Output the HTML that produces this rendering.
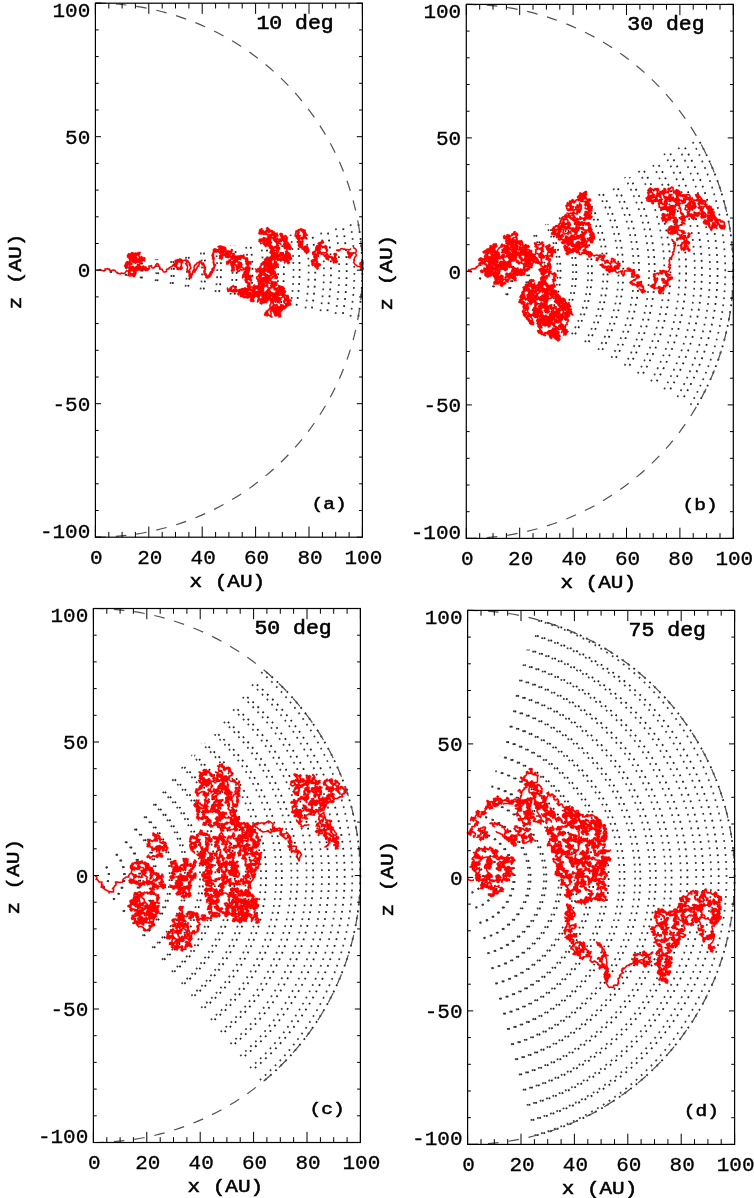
<!DOCTYPE html>
<html><head><meta charset="utf-8"><title>Random walks</title>
<style>html,body{margin:0;padding:0;background:#fff;overflow:hidden;}svg{display:block;}</style></head>
<body><svg width="754" height="1198" viewBox="0 0 754 1198">
<rect width="754" height="1198" fill="#fff"/>
<path d="M110.9 272.9A15.7 15.7 0 0 0 110.9 267.5M126.3 275.7A31.4 31.4 0 0 0 126.3 264.7M141.8 278.4A47.1 47.1 0 0 0 141.8 262M157.3 281.1A62.8 62.8 0 0 0 157.3 259.3M172.7 283.8A78.5 78.5 0 0 0 172.7 256.6M188.2 286.6A94.2 94.2 0 0 0 188.2 253.8M203.7 289.3A109.9 109.9 0 0 0 203.7 251.1M219.1 292A125.6 125.6 0 0 0 219.1 248.4M234.6 294.7A141.4 141.4 0 0 0 234.6 245.7M250.1 297.5A157.1 157.1 0 0 0 250.1 242.9M265.5 300.2A172.8 172.8 0 0 0 265.5 240.2M281 302.9A188.5 188.5 0 0 0 281 237.5M296.5 305.7A204.2 204.2 0 0 0 296.5 234.7M311.9 308.4A219.9 219.9 0 0 0 311.9 232M327.4 311.1A235.6 235.6 0 0 0 327.4 229.3M342.9 313.8A251.3 251.3 0 0 0 342.9 226.6M358.3 316.6A267 267 0 0 0 358.3 223.8" fill="none" stroke="#222" stroke-width="1.8" stroke-dasharray="1.8 5.2"/>
<path transform="matrix(0.97 0 0 1 2.9 0)" d="M110.9 272.9A15.7 15.7 0 0 0 110.9 267.5M126.3 275.7A31.4 31.4 0 0 0 126.3 264.7M141.8 278.4A47.1 47.1 0 0 0 141.8 262M157.3 281.1A62.8 62.8 0 0 0 157.3 259.3M172.7 283.8A78.5 78.5 0 0 0 172.7 256.6M188.2 286.6A94.2 94.2 0 0 0 188.2 253.8M203.7 289.3A109.9 109.9 0 0 0 203.7 251.1M219.1 292A125.6 125.6 0 0 0 219.1 248.4M234.6 294.7A141.4 141.4 0 0 0 234.6 245.7M250.1 297.5A157.1 157.1 0 0 0 250.1 242.9M265.5 300.2A172.8 172.8 0 0 0 265.5 240.2M281 302.9A188.5 188.5 0 0 0 281 237.5M296.5 305.7A204.2 204.2 0 0 0 296.5 234.7M311.9 308.4A219.9 219.9 0 0 0 311.9 232M327.4 311.1A235.6 235.6 0 0 0 327.4 229.3M342.9 313.8A251.3 251.3 0 0 0 342.9 226.6M358.3 316.6A267 267 0 0 0 358.3 223.8" fill="none" stroke="#3c3c3c" stroke-width="1.8" stroke-dasharray="1.8 5.2" stroke-dashoffset="0"/>
<path transform="scale(0.5)" d="M193 540l4 0 4-1 1 1 1 1 1 0 2 0 2 1 3-2-1-2 4 0 1-1 2 2 2-1 1 2 0 2 3-1 4-1 3 1 1 1 1 2 2 1 1 2 0-2 2 2 4 1 1-2 5 1 3-1 1-2 1-1 2-3M259 546l0-1-1 1 1 0 1 2 3 1-1-1-1 0-2-1 2 0-3-1 0 2-1 2-1 1 1 0 3 1 3-1-1-1 2-3 1 2 3 0 0-3 0-1 1-2 1 2-1 0-2-2 1 2-1 3 0 3-2 0-1-2 2 3 1 1-1-1 3 1 1-2 1-2-1 1-3 2-1 0 2-2 0-2 1-2-1-1-1-3 2-2-3 2 3 2 0 1 0-2 0 3 2 1-2-1 0-2 0 3 1 0 2-1 0-1-1-2 0 2-2 1 0-2 2 3 0-2-2 1 1 0 2-1-1 0 1-1-2 2 0-1 2 0-2-2 0 3 1-2-2 0 2 2-1-3 1-3-1 1 2-2 2-1-1-1 1 1-1-2-1-2-3 1 1 2 2 3-2 0 1 2-1 1 2 0-2-1 2-2 2-2-2 0-2 1 3 0 0 2-3 0-2 0 0-1 2-1-3-1-3 1 2-1-1-1 1 0-2 1-2-2 0 1-1-1-1 2 0 1-2-2 2-3-1 3-1 1 3-2 2-1 2 0 1 0-2 1-2 0 0-1 1-1 1 2 1-1 1 2-1 0 1 1 0-2 1-1-2 1 2 0-2-1 2 0-1-1 0 2 1-1-3 1 2-1 0 1 0-3 2 2-2 1-1-3-1 2 2 1-1-2 3 1-2-1-1 3 1-3 1 2-3 0 1-1-2-2 2 2-3-1 1 2-1 2-1-1-1 2-2 2-2 1 0 1 2 0 1-2 2 0 2-1-2-2 0-2-1-1 3 0-3 1 0 3 3-1 2 0 1 1-1 1 1 1 2-1-1-2 1-3-1 2 1 1 1 1 0 3-1 2 1-1 1-1 2-2 0-3 2 2 1 2 0-3 1 2 1 0 2-3-2-1 0-2 2 1-1 2-2-2 0-1-3 1 1-3-1 2 2 2-2-3 1 3 2-2-3 1 1 0 1-3-1 1 2 2-2-1 1-1 2 1-2 2 1-1-3 1 3 0 0-4 0 2-3 2 3-1-1-3 0 1 1 1-1 2 1 0 0 2 0-3 2-3-2-2-1-1 3 2 1 2-1 0-2 0 1 0 0 2 0-1-2 1 1-1 1 1 1 1 1 1 1 2-1-2 1 1 0 2-3 0 0-2 2 0-2 1 0-1 1 2-2-1 1-1 2 2-3-2 3-1 1-2 2 1 0 2 1 1 2-2 1-2-1 2-1-3 3-2 0 2 2 2 2 0-2-1-2 2-1-1 2 0 2-2-2 2 1-1-1 3 3-2-3 1 0-2 2 0 0 1-3 0 3 1-3 0 1-1 2 0-1 0 1-2-2 1 2 0-3-1 2 1-1 3 1-3 0 2 0-1-1-2 1 2 2-1-1 0-2 2 1 2 1-2 2 2 0-3-1 2-2 1 1 1 1 1-1-2-3-1 2 0 2 1 1 1 2 1 0-2 0-2-1 2 2 1-2-2 3 1-2-2 3 1-1 2-3-2-2-2 0 3-2-2-1-2-2 2 2 0-1 0-2-2 2 1 2 0 2 0-3-1 4-1 0 3 0 2-2 1-2-1-1-2-1 1 1 2-1-2-1 1-1-2-2-2 0-1-3 0 2-1-2-2-1 0 0-1 2-3 0-2-1-3 2 0 3-1 1-2 2 0 0-2 2 0-1 1-1-1 1 3-1-1 1-4 2 2-3 0 2 0-1 2-1-3 1 3 1-3 0 1-3 2 2-1 1 1 0 3 0-2 0-3-1 3 0 1 1 1-1-1-1 0 0-2 0 2-2-2 0-2-1-2-1 1 1-2-1-1-1 1-2 2-2 1 2 2-2 0 0 3 2-2 2-1-2 2 3 0-3 1 2-1-3 0 0-2-2 2-1 1 2-2-2 1 1-1 2-3 0-2-1-3-1-1-1-2-3-1-2 1 0-1 1-1 2 0 0 2 1 1 1-1 1-1 1-2 2 0-1 0-2-1 3 0 0 1-3-1 2 0 0 1 0 3-2-2 2 1 0-1-2 1 2-1-2-1 0 1 2-1-1 2 1-3-2 1 2 1-1 3 0-2-1-1 2 2-1-1 2-3-2 1-3 0 0 2-2-1 0 2-1 2 0-1-1 2 1-2 0-1 0-3-2 1 3 0-1 0-3 0 1 0 2 1-3 2 2 0 1 0-1 2 2 0-2-2-2-1-1-1-2-1 0 2 0 3-1 1 1-3 1-2-2 1-2-1 1 0 1-1 1 3-1 2 2-2-3 0 3-1 0 1-1 1 0-3 0 2-2 1 1-2 0-3 1 0 2 1 0 2-2 1 0-3-3 1 1 1 0 3 0-3 2-2 2 2-2-2-2 2 1 0 1 0-1 1 0-1 2 0-3-1 2 0-3 1 1-1 3 2-1-1-2 0 2 2-1-1 1-2-1 3 1-2-1 2 0-1-1 0-1 3 2 0-2-1 2 2 2 2 0-2-2 0 0-2-1-2-1-1 1-1 0-3-2 2-1 2-3 2 0-4-2 2 3 0-2 2 0 3 1-2 0 2 2 0 2-1 0-3-1 1-2 0 3 1 2-1 0-3-1 1 0 2-2 0 1 2 2 2 0 2-1 1-2 1 3 1-1-1 1 0 2-1 0 1-2 2 2 1-3-1 1 1 1-1 0-3 1 1 1 1-1 2 2-1-1-1-1-2 1 1-1 3-1-1 1-1-1 1 0-3 1 2-1 1 2-1-2-1 2 2-2-1 3-2-2 3-2-2 3 0-2 1 2 0-2 0 2-2-2 2 2 1 0 1-2 1 2-1-2 2 1-2 2-2 0 3 3 1-2 0-2 1 2-3 0-1-1 0 0-1-1 1 2-2 0 3 2 2 0 2-1-1 1 2 1-4-1 2 2 0 1 0 0-1-1-2 1 2-2 0 2 1 1-1 2 0-1 1 1-1 2-2 1 0 2 2 1-2 1 0-1 2 2-3 1-2-1-2-2 2-1 1-1-1-1 3-1 0-2 0 0-2 0-2 2 3-3-1-1 1-1-1-3-1 3-1 0 3-2-2 1 3 0-1 1-2-1 0 1 2 0-2-2 2 2 0-2-1 2 0-2-2 1 0 1 2-1-2 2 2-1 0-1-3 1 1-1-2 0-1-3 0-1 1 3 1-2 1-2-3 1-1-2-1 2-2-2-3-2 0 1 3-1 2 2 0-2-1-2 0-1-2-2-1 1 2 2 2-1 1-1 1 3-2 1-2 2 0-2 0-2 2-2-2-3 1-2-1-1 0 0 2 1-1 0 3 1 1 2 0 1-2 1 1 2 0-3 2 1 3-2-1 2 2-1-2 1 1 1 2-1-1-2 1-1 2-2 0-2-1-1 3-2 0 2 1-1 2 0 1-1 2 0-3 0 2-1 0 1-1 1 2-2-2 1 2-1-1 3 0-2 2-1-1 2-1-3 1 1-2 1 3 0-3-1 2 1-2-1 1 2-1-1-1 2 1 1-2-1 3 1 1 0 1 0-1-2 1 3 1 1 1 0-1-2 0-2-1-1 1 2 0 2-3 1-2-2-1 0-4-1 2 1-1 2 2 3 1 1-1 0-1 0 3 2-1-2 2-4-1 0-1 2-2 2-1 3 2-2 1 1 1 0-1 2 0-1-1-2 1 2 0-2 1-1 1-1 3 1 1 2 1-2-1 2 1 2 2-3 1 2 0 2 1-2-1-1 2 0 2-3 0 0 2-2 2 2-2-2 2 3-1-2 0 0 2 2 0-1-2-1 2 2 0-3 0 2-3 1 2-1 1 1-2 0 2-3 0 2-1 0 1 0-2 0 1-2 1M295 540l2-1 2-2-1-2 0-3 3 0 2-1 0 3 2 2 2 0 4-3 0-2 3-4 3 2 1 3 2 3-1 3 2 0 3 1 0-1 1 2 2 4 3 0 3-1 0-4 2-1 3 0 0-2 2-1 1-1 3-1 2-3M349 530l2 2 2 0-2-3 1-2 0 3-3-2 2-1 1 0-1-2 2 1 1 3-2 0 3-1-2-2-3 1 3 0 0-2 2 0-1-2-2-2 1 1 1-2 0 1 0 2-3 0-1-1 2 2-2-2 2-2-1 1 3 0-2 0 1 0-2 1 1-1 1 1-1 2 0-2-1 3 0 2 2 2-1-3 0 2-1-3 0-2 2 1-2 0 1-2 2 1 1-1-1 2 3 0 2 0-1-2 2 0-3-1 2 0 1-1 0-1 1 3 2 1-2-2 1 2 2 1 1-1 0-2-2-1-1 3 3-1-1-1-1 2-1-2 1 1-2-1 2 1 0-3-1 1-1-2-2 0 2 2-3-1 2 0-1 2-1-2-1 1-2-1 2 1-2 2 2 1 2-1 1 1 0-2 1 1 2-1-1-1 2 0-1 2 2 1-2 0-1-1-1 2 1 0 3 1-2 1 0 1-1 1 1 2-1 2 2 2-1 1-1-3 1 2-2-1 1 2 0 2-1 2 3-2 0-3-3 2 1-1-1 1-3 2-1-1-3 1 2 1 1-1 2-2-2 3 2-3-2 0-2-2-1 1-1 0 0-2-3 0 1-3-2 1-2 0 1 0 0-3-1 1 0 2 0-1 2-1 0 3-2-2 2 1 1-1-1 1 1-2-1 2 2-1M360 522l3-1 4 0 4-1 1 0 1 0-1 2 2 4-3 1 2 1 0 2 1 1 1 2 0 3-1 3 2 3 0 1 2 3 1 3-1 2 1 3 2 2 2-1-1-2 3-5 0-1 0-2 1-3 1-2 2-1 1 0 2 1 1-1 1-2 0-2 2-3 2 0 0-3 1-2 1-3 0-2 3 3 0 2 2 3 3-1 1 2-1 1 1 3 2 4-2 1-1 1 0 4 1 2-1 2 3 0 1 2 0 3 0 1 3 1 3-2 2-1 0-3 2 0 1-3 2-3-1-1 0-3 0-2 2-2 2 0 1-3 2-3-2-1-2-1 1-1-1-5 1-4 0-2-1-3-1 1 1-4 0-2-1-2 1 0 0-3 0-2 2-3 1-1M430 497l-1 1-2 1 0 4 0 3-2 2 0 1-1 2 2 3-1 3 2 2 0 4-1 1 2 4 0 4 1 1-1 1 1 1-2 2 1 3-2-1 0 3-2 1-1 0-2 1-1 3-1 1-2 4-1 2-1 2-1-2 0-2 0-1-3-4-2-1 1-3 0-3 0-3-2-1 0-2 1-2 0-1-1-1-1-4-2 1-3-3-2-2-2 2-1 1-3 1-2 3-3 2 0 1-1 2 0 2 1 1 1 2 0 2 0 3-3 0-1 1-1 0-2 4 0 3-1 2-1 2-1-2 0-3-1-2 2-1-1 0 0-2-1-1 0-3-1-1 2-3 2-2-2-4 0-3 0-1-1-2-2-1-1-3-3-2M433 500l-2-1 0 2-2 2 0 1 3 0-1-3 2 0-3 1 3 2-1-2 3-1 1-1 2 0 1-2-2 1-3 1-3 1 2 1 1 1-1-1 0-3 1 0 1 2 2 1-1 1 1 1 3-1 0 3 2 0 2-1 0-2-3-2 1 3-3 1 1-1 1-1-1 2 1-3 2 2-1-1 0 2 1-3-2 1 2 3 0-2 0-1-1-2-1-1 1-3 1-1 0 2-1-3-2 2-2-2 0-2 0 2 1-3 0 2-3-1 2 1 3-1-2 1 3-2 0 3 1 1 1 1 1 1-1 3 1-1 0 3-2 0-1 2-2 2 1 1 1 2-3 2 3 0 0 1 3 1 0 1-2 1 0-2 0 3 1-2 0-2-2 1 2-1-1 2 0-3 0 3 1 2-1 2 1-2-2-1-3 1 0-1 1-2 2 0 2 0-1-2 3-1-2 0-2 2 1 1 0-2 1-1 0 1-1-1 0 1 2-3 1 2 3-2-1 1 2-2-1 3 2-2-2 0 3 0 2 3-1 1 0-1 0 2 2-2 1 1-1 2 2-3 1 3-2 0 0-2 1 1-3 1 2 0-1-3 2 2-2 1-1 0 0-1-3 0 1-2 3 2 1-1 2-1-2-2 1 2 1 0-2-1 1-1-2 1-1 2 1 2 1-3 0-1 2 0-2 0 2 1-1 3-1-1 0-2 0-2 1-2 0-1-1 0 1-1-2 2 2-2-1-2-1 1-1 2-2-2 2 3-1-2 1 0-1-1 2 2-3 0 1-2 0 2 0-2 1 1-3 1-1 1-3 2 1-1 0-2-2-1 2-2 1-2-2-2 1-1-3 1 1-3-1-1 1-2-2-1-1 2 1 1 3-2 1 2 0-2 3 2 1 3-3-1-2-1 1 3-1 2 0 2 2-2 2 2 2 2 0-1 1-3 3 0 2 1 2-1 2 0 2-2-2-1 0 2 0-2 1 1-1 1 0-2 1 3-1-1 1-1 1 0-1 0-1 2-1 2-1 2 0 2 0 1-3 0-1 1-1 3 1 2-1-2 2 0 2 0-2-1-1 3 2-1 2-2 1 1 1 0 1-1 1 2 1 1-2 2 0-3-2 2 0 2 1-2 2 1 2-1-2-1 1-2 2 3 1-3-1 0 1 2-1-1-2 0 2 2 0-2-1 3 0-2 1-1-2 1 3-1 1-2 3 2-3 1 2 1 1 2 3 0 0 1 1 0 1-2-1 1 1 1 1-2-1-1-3 1-2-1-3 1 2 1 1 1 2 2-3 1-1 2-2 1 0 1 0 2-3 0 3-2-1 2-3-2-1 0 2 0 1-1-2 1 3 0-2 1-1-3 0 2 1 0 2 2-3-1 1 0 0-2 2 3-1-3-1 3 1-2 2-2 3-1-3 0 0 2 1 1 1-1 1-2-1-1-3-2 2-2 1 3 0 2 0 2-1-1-2-2-2 0 0 3-3 1-1-2-1-3-1-1-2 0 2 2 0 2-1 0-2 1-1 3 0-1-1-1 3 0-2 0-2 2 1-1 1-3 1 3-2-1 1 2-3 0 1-1 2 0-2-2 0 1 3 1-2 0-1-2-1-1 1-1 3-1 1-1 2-1-2 1 2 2 1 2 1 1 2-2-2 2 1 3 1-1 0 2 2 2-1-2-3-1 0 1 1 1 1 3 0 2 0-3 1 2 0 1-1 3 0 2-1 1 2-2 2-2-2 2 2 1-2 1-1-2 2 0-2-1-1 3 2 0-1-1 3 0-3-1 1 1 3 0-2 1-2-2 2 1 2-1 0-2-2 2 2-2 0-2 1-1-2-2-3 0 0-3 0-2-1 1-1-1 2-2-1-1 2 0 3-2-2 0 1 3-1-1 1 2-2-2-1 1 0-1 1 1-2 0 2 2 0 2-1 2 3 0 1-1 2-2 0 1 3 0-1 2 2 0 0 2-1 2 2 0 0 2 2-2 0 1-2-1 1 2-2 0 2-1-1-3 3 1-2 1-1-1 2 0 0-1 2 0 1 2-2-3 2 1-1-2 2 1 1-1 2 3-1-1-1-2 1-2-2 2-1-1 0-1-2-1-2 0 1-2 0-3 2 0-1 3 3 0-1 3-1-2 2 0 0-2-2 2 1 1-2-2 1 0 2 2 0-3-2 1 1 1 1-1-1 1 1-1-3 1 1 0 1-1-1-2-2 0-1 0-2-2 3 1 1 3 2 0 2-2 0 3-1 1 1-1 1-1-1 3 2-1-3-2 0 2 2 2-1-2 0-1-2 1-2-1-1 3 1 2 0 3-1-2-1 2 0 2-3 1 2 2 0 3 1-1 3-1 0-1 2-2 2 1 3 0 2-1 0-1-2-2 1 2 1-1-2-1 1 0 1 2-1-1 2 1 2 0 1-2 1-2 1 0 0 2 0 3 1-2 2-2 1 2 2 0-2-1-1-2 2 0 1 3-2-2-1 0-3 0-1-1-2 1 1 0-1 0 1 2 2 1 1-1 1 2-2 0-2 0-1 2 0 1 2 2 3-1 1-2-1-1-1 1-2 2 0-1 3-1-2-2 2 1-1 3 0-2 1 0-3 1 1-1 2 1-1 3-2 0 2-2-1 2 2 1-1 0-1-1 1 3-2 1-2 0-1-1 3 0-1-1-2-2 1-2-2 0 0 2 2-1 0 2 0-3 2 2 1 2-3 0 1 1-2 2-2 0 2 1-1 0 1-2-2 1-1-1 1-2-1 1 3 1-1-1-1 2-1-2 2 1-2-1 3 1-2 0 1-2 0 2-3 0 0 2-1 3 0 2 1-2 3-1-2 0 3 0-1 1-1 0-1-2 0 2 0-3 3 0 1 1 1 0-3-1 0-2 0-3-1-1 1-2 0 2 1 0 2 0 1 2 3 0 1 2-1 3 1 2 1-3 1 3 2-1 0-2 0 2-2 2 3 0-3 0 1-2 1 2-1-1 3-2-3 0 0 1 2 1-2-3 1 3 1-1-2 0 1 2-2 0-2 0 1-1 1 2-2-1-2 1-1 2 1-1 1 0-3 0 2 2-1-2 1-1 1 3 1 0 0-1 3-1 0-2-2-1 3-2 2 0 1 1-3-1 2 1-2 2-1 1 0 4 2-2 0 3 1-1-3-1 1 3-1-1 3 0-1-2-1 0 0 2 1-1-1-1 1 3 0-1 0-2-2-1-2-2-3-1 3-2-3-1-1 2-3 0 1 2-1 2-1 2 3 1 2 2 0 3 1-2-3 0-1-2 0 3 0-2-1 0 0-3 0-3 3 1-2-3 0-3 1-2-1-2 0 3 1-1 3-1 1-2 0-2 1-2 1-3-1 0 1-2-3 0-1-3 1-3 0-2-1-2-3 0 1-3 1 2-2-1 2 0 2 0 2 1 1-3-1 2 2 0 0 2 1-2 1 2-1-2-2 1-1-2-1-1-2 1 2 0-1 2-3-1 1-3-1-1 1 3 2 1 3 0 2 1 1 1-2-1 0-1 1-2-3 2-1-2-1 3 1-1-1-2 2 1 3 1 0-2-2 1-3-1 2-1 0 2 2-1-1 1-2-2 1 0 0 3 0-1 2-1 2 0-3 0-2 0 1 0-3 1 1 2 1 1-1-1-3 1 1 2 3-1-2 1 2 1 0-1-2 1-1-2 0-3-1 0 0-2-2-1 1-2-1-3 1-2 3 0-1 2-1 1 1-1 0-2-1 2 0 2 2 1 0-1-3-1 2-3 0 3 1 0-1-2 0 3 1-2-2-1 1 1 1 1-1-2 1 2-2-2 1 0-1 0-1-1-2 0 1 2-3-1-2-2-1 0 2 0 0-1-2 0 0-1 1 1 1-2 2 3 1 1-2 0-1-2 0-1 0-3 0 1 1-1-2 1-3 1-2-1-1 2 3-1-3 1 1 2 1 1 2-1-2 1 0-1 1-2 1 1-1 2-1 0 2-1-3 1 3 0-1-2 0 2 1-3-2 1 1 2-3 1 1 2-1-3-1-1-2 0-2-1 2 2-2 2-1 1 1 0-1-1 3-1 0-3-1 1 1-1 3-2-3 0-1 0-2 1-3-1-2 0-2-2 2-2-2-1 0 3-1 2 0-2 0-1 0 2-1 1 1-2-1-2-1-1-3-1-1-1-2-1-1-1-2 1-1-1-1-1-2 0-2 1-1-1-3-1-3-2M461 580l1 1-4 0-1 2-1 0 0-1 1-3-1 2 0-3-1-2 0 2 2 2-2 0 2 1 1 1 0-2 3 1 3 0-3 1 2-1 0-3-3 0 3-2 0-2 0 3-3-1 0 1 2-2-1 2 2-1-1 1 1 1 0 3 3 0 1 1 0-3 1 2-1 3 0-1 1-3 1-1 1 2 0 1 2 1-3-2 2-1 1 1-2 0 1 0 2 1-3-1 3 0-1 1-3 0 2-1 2 2-2-3-2 1 1-1 2 0 0-1 0 1-1-1-2 1 0 1 1 0-2-1 3-1-2 0 1-1 2-3-3 0-2-3 0-1-1 1 1 1-2-1 2 1 1 0 2 2 1 3 1 0-1-2 1 2 2 2 2 1 1 0 1-2 3 0-1 1 2-1 0 3-1 1 0 2 0 2 1 3 2-1 2 1 1-1-1-1 2-1-3-1 2-1-1 1 3-2-1 3-1-1 0 1-1-1 3 2-2-3 0 2-2-3 0-1 0 1-3 0-2 2 0-2-2 1-1-2 0 1 0 2 0 1 0 3 1-2 1-1 0 1-2 0-2 0 3 0 2 0 0-2 0-3 1-3 1 3 2 2 1 1-2 0 1-1-1 3 2-3-1-1 1 1 3 1 2-2 1-1 1-1-1 1 0-1 1-2 1-2-2-2 1 2-1 2 1-2-1 2 2 0 0-2-3 1 1-2 2 2 0-2-3 2 2-1-1 1 1 0-1-2 1 1-1 1 3-1-1 2 1 1-2 1 1-1-1 0-2 2 2 2-2-2-2 0 0 2 0-2 2-3-2-1-2 1 0-3-1 1-1 3 1 1 2 0-2 0-1-3 0-2 0 1-1 1 1 2-1-2 2 2 0 2 1 1 1-2-2-3 2-1 2-1 2-1 1 1 2 0 2 1 2-1-2-3 2-1-2-1 2-1-1 2-2-2 3-1 1 2-2 1 1-3-1 3 1-2-2 3 2-2-2-1 2 1-2-1 0-1 2 1 0 3-3-1 2-2 1 0-1 0 0-3 2-1-2 2 2-1-3 1 2 0 2-3-2 0 2 2-1 1 1 3-1 2 3 0 3 0 1 1 0 2 2 1 1 0-1 2 2 0-2-1-1-3 2 2 1 1-2-3-1 2-1 1 2 1 1-2-2-1 0 3 2-1-2 0 1 0 2-1-3-1 1 1 1 0-3 1 2-2 1 1-1 1 2-2 0 3-1-1-1 0 2-2-2 1 2 0-2-2 1-2 1-1-1-3-2 2 1 0 2 1 3 0 0 2-3-2 3-1 0 1 2 2-1 2 3 1 2 2 0 2 1-1 2 2-1-3-1 1-2-1 2-2-2-1 1 2 1 1-2 0 2-1 2-2 0 3-1 1-1 2-1-1-3 0-2 2 1-2 3 0 1 1 2-2-1 2-1 3 2-3-3 1 1 0-1-2 0 2 3 0-3-1 2-1-2 1 2 1-3-2 3 0-2 2 1-1 1 1 1-2 2 0-1 1-1-1 0 1 1 2-3 1 1 1 1 1 0 2-1 1-1 1 1-3-2 1-3-1-2 2 1 2 3 1-1-3 1-1-2-1-1-1 1 1-1 1-1 2 3-1-1-2 2 1-1 2 3 1-2 1 1-2 0-1-2 1-2-2 2 0 2 1 0 1-2 0 3 1-3 0 2 0-3-1 2 0 0-2 0 1-2 2 0-3 3 2-1-2 0 2-2-3 1 3 3-1-1 0-3 0 2-2-1 1-2 3-1-2 1 0-3-1-1-1 1 0-1-1-1 0-2 0 2 1 0-2-2-1-3 0 1 1 0 3-1 3 2 1-3 2-1-2-2-1 1-2 0-3 0 1 1-1 2 1-2 1-3-1 1 2 0 2 3 1-1 3 2-2-1 2 2-1 2-1-2-2 2 2-2 0-1 0-1 2 1-2 0 1 0 2 1-3-2 0 0 2 1-1-2 1 3-1-1 1-2 1 2-1-1-2 0 1 0-3-3 0 1-1 2-3 1-1 2-2-2 2 1 0-2 0 2 1 1 2-3 0-3 0 0-2 1-1-2-1 1 1 1 0 1-1 0 2 3 0-1 3 2 2-3 0 0-2-2-3 0 2-2-1 3 1-1-1-2 0-4 0 1 2 0 2 1-2 1 2 0 1-3 1-1-4-1-1 0 2 0-3 3 2-2 0 0-1 0 1 1-3 0 2-1 3 1-1-2-2 2 0-1 2-1-3 3 2-2 0-1 3 1-2 3 0-2-1-1 0-1 2-2 1-3 0-1-1 2 0 1 0-1-2 0 1-2 2-1-1 0-2 1 1-1-1 2-1-1-2 0 1-1 1 2-2-2 2-1 0-1 1 1-2 0 3-1-1-3 1 0-2 3 0-2-2-1 0-1-2 0-2 1-1-1-2 0 1-2-1-2-1-2 1-2 1-2 1-1 0-2 0-2-1-2 0-2-1 0-2 0-1 0 3 2-2-2-1 2 2-2-1M492 581l2-1 2 0-1 0 1 1-1 3-1 1-2 0 1-3 3 0-2-1-2-1-2 0 0-2-1 1 3-2-3-1 1 2 0 3-2 2-1 1 3-2 0 3 2 0-2-2 0-2 2-1 1-3 0 3 1 2-2-3 0 4 1-3 1 2-3 2 1-1 2 0-1 1-3 1-1 0 2-1 2 2 2 1-1 1-2 1-2-1-1-1-1-3 2-1 1-1 1-1 2 2 0 2 2 1 3 1-2 2 1-1 0-2 1 1-2 0-1-2 1 0 0 3 0-2 0 1 0-1 2-1-1 1-1 2 2-2-2 1 3-1-3-1 0 2 3-2-1 2-2 0 2-1-2 2 0-2 2 1 1-1-1-1 1-1 1 3 0 3 0-3 2 0 2 0 0 2-1 1 3 0 2 2 1 0-3-1 1-3-1 0 3 1-3-1 2-2 0-2 3-1-2 1-3 0 2 3-1 1-1 0 3 0 0-1 1-1-2-1-1-2 0 1 2-1 1 3-2 0-1 0-2 2-1 0 1-2 2 3-1-2-1 3 0-2 2-1 1 1 1 0-1 0-1 2 1-1 3 1-2 1-1-2 1-2 1 1 0 3-1-2-3 3 3-1 1-2-2-1-1 2 1-1 0 2 1-2-3 0 3-1-3 1 2-2-1 2 1 1 0-2-1 3 0-1 1-2 1 3 0-3-2 1 2-1 1-2 2 0 1-1 0 2 2-2 1-2 0 2 2 2 1 2-3 1-2 1-1 1 2-1 1 2 0-3-3 1-1-3 2 3-3 0-1 1-3 2-2 1 0 1 0 1 0 2-2-2 2 1 2-2-1-3-2-1 2-3 2 1-1 0 1 1-1-1-1-1 1 2 1 3-2 0 0 2-1 3-1-1-1 3 2 1-1-3 0-2 1 1 1 2 1 2-2 1-2 0-1-3 1 0-3 2 0-1 3 1 1-2-1 1-2-1 2-1 0 2-1-1-1-3 0 1 1 2-1-1 1 0 1 1-3 0 2-1-2 2 2-2 3 1-2-1 0 1-2-1 2 0-2 1 2-1-1-3 0-2 1-2 0 2 1 0 3-2 1-1 2 1-2-1-2 2 0-3-1 2 1 0-1 1 0-3-2 2-2 0 2 1 2-2 3 0-1-1 3 1 1 1 2 0 1 0 1 3 2 1-1 1-1 2 0 1-1 4 2-2 1-2 0-3 2 2 3 1 1 1-2 2 2 0 1 0 2 0-1 0 0-2 2 0 1 1 1 1-1-1-2-1 2-1-1 2-1 0-1 3 3 0-2 1 0-2-2-1 3 0-1 1-3-1 1-1 0 3 2 0-2-1 2 0-1-1 1 1-1-1 3 0-1 0-2 2 1-1-2-1 2 0-1 1 2-2-2 1 2 1-1-1-1 2-2 0-1-1 1 1 0 2-1 1-1-2 0-3 2 0-2 2-2 1 1-2 0 3 2-2 0-1-2-2 3-1 2 0 1 0 0-2-3 2 1-1 0-2-1 0 0-2 1 1 2-2-1-3 0-1 1 0 1 1 0 2-2 0 1-2 2 1 2 0 0 3 3 2-3-1 0 3 2 1 3 0-2 2-2 2-1-1 3 0-1-1 0-3 3-2 2 1-2-1 1 1-2 1-1-1-1 2 1 0 1-1-1 1 2 0-1-2-2 1 3-1-2 0 0 1 2 1-1-2 0 3-1-1 1-2-1 3 2-1-1-1-2-1 1 1 2 1-1 0-2-2 1 2 3-2-1 1-3-1 1-2-2 2 2 1 2 0-2-1-2 1 2-2-1 1-1-3 1-2 2 2 2 1 2 1 1 0 0 2-1-2 2-2-3 0-2 0 0-3 1-1-2 0 0-2 0 3 1-2 2 1-2 1-2 0 3 0 1-3-2-1-1 1-2 1-1-2-1 1 2-2 1-1-2 2 1-2-2 3-2 3-1-1 0 3-2-2 1-2 1-1 2 2 1 0 2 0 2 0-1-1-1-2 2 0 1 3-2 1 1 0 1-2-1 1 0-1 0-1-1 1 1-1 1 1-2-2 0 3 0-2 0 1 2 0-1 0 1 0-3 0 1-1 1 1-2-1 1 1 3-1-2 0 0 3 0 2-1-1 0-3 2 1 2-1 1 2 2-2 0 2-2 2 2 1 1 0 1 2 2-1 0 1 1 1 2 0-1-1 1 0 1 1 0 2 1 0 2 0 3 1 1-1 0 3-1-1 1-1-2 0 0-2-2-1-2 1-2 0-1-1 2 2-2-1-3-1 0 3 0 2 0 1 2-2 2-1 0-3 0 2 3-1-3 1-1-2-2 2 1 0-3 1 0-1 1-2 1-2 1-1-1-1 3-1-3-1 0-2-1 0 2-2-1 1-1 1 3 0-1 1 0-3-2 1 2 1-2-2 2 1-1 2-1-2 3 1-3 1 2-1-1-1 0 2 1-2-2 1 1-1 0 3-1-3 0-2 0-2 1 2-3-1 0 1 2-1-2 1 1 0 2 0 3-1 2 1-1 2 2 0 1 2 0-2 2-1 1 1 0-2-2-1 1-1-2 2 1 2 0-2 1 1 0-1 1 1 0 2-1 1-1-1-3 0-1-1 1 1 2 1 1-1-2-1 1-2-2-1-2 0 3 0 0 3-2 0-1-2-3-1 2 2 3 1 1 1 0 2 1 2 0 3 1 2-1-2 1 3-2-1-2 2 1-3-3 1-2 0 1-3 0 1 1 2-2-2 2 1-1 0 2 3 0-2-2-2 2 1-1 1 1 0-2 0 2-1-2 3 0-3 1 0 0 2-1-2 2 0-3 1-1 0-2 0-1 1 0-2 2 2 1-3 1 1-4-1 1 2 2-1-2-2 1 2 1 2-1-2 0-2-1 1 0 1 0 3 2-1-2-1 1 3 3-2 2-1 1-1 2 0 2 0 1 2 2-1 0-2 2-2 1 1-1 2 0 2-3 1 2 2 2 2-1-1-1-1-2-2 1 1 1 1-2-2 1-1 0 4-1-2-2-1 1-1-2-1 2 1 2 0-2-2 2 0 2 1 2 2 0-1 2-2-1-2-1 0-2 0 2 1 0 2-1-1 1-3-2 1 3 2-2-2 0 2-2-2 1 2 3 1-2-1 0-2 0 2 0-2 0 2 0-2-1 3 1-1 0-2-2-1 0-2-2 2 3 0 0 2 0 2 1 2 0-2-1 2-1 2-2 1 1-1 2-1 0-2 0-3-3-2-2-1 1-2-2 2-1 0-2-1-3-1 4 0 3 1 2-1-2 2 2 1 1 1-3 0 2 0 3-2 1 1 3 0 2-1 1-2 1-2 1 0 0-2-1 1-2-3 0-1 1 2 0 2-2-1-2 0 2-2 0 3-1-3-2 2 0-1 2 0-1 2 2-2-3-1 1 3 1-2-2 0 2-2-2 0 2 2-1-1-1 2 0-1 1-3-1 1 1 2 1-1-1 1-3 0 3 1 1-1-2 0 1 0 1-3-2 2 2 1-1-1 0 2 1-3-2 2-2 0-2 0 2 0 0 3 2-1 2-2-1-1 0 1 2-1 1-1-3 0 3 0 0-1 3-1-1 3 0 3 1-3-2 0 1 2 1 1-2-1-2 1 0-2 3 1 0 1 0 3 0-1-2-3 2-1 0-2 2 0-1 1 3-2 1-2-2 0-1 0-1-2 0-1-2 2-1-2-3-1-2-1 1 2 0-1 2-3 0 1 0 3-1 2-2-1-2-2 1-1 0 2-2 2 0-1 1 1-1-3 2 0 1 0-2 1 2-1-1 3 3-1-2-2 1 1-2-2 0 1 1 3 1-2-2 0 2 1-2-1 1-1 0 2 0-1 0 1 0-1 3-1-3 0 1 1 1 1-2 1 2 0 1 0 2 0-1 1 2-1 1 1 1-2 3 1-2-1-1-2 1-1 1-1-1-1-3-2 1 1-1 3-2 1-2 2-2-1 3 1 1 2 1 3-1-1-2 0 0 1 0 2 2-1-2-1-1 3 0 1 0-2-3 0-2 1-2 0-1-2 2-1 0-1-1-2 0-2-1-2-1 1 0-1-2 0 1 1 1-2-3 1 2-2 1 2 2-2-2 2-2-1 2 2-1-1 1-1-2 0 2 0 0-2 1 1-3 0 1 2-1-2 2 2 0-1-1-1 3 1-2 0-1-3 0 2 2 1-2-2 2 2-2-1 1 1-1-2 0 3 1-3-1 1-2 0 0-3-2-1-1-2 1-3 0-1 1-2-3 0 2-1 3 1 1 2 1-1-1-1 1 2 1-3 1 1 1 1-3 0 0-1-1 1 2 0 0-2 0 3-3-1 1 3 1-2-2 0 0 3-1-1-2 0 2 0-2-1 3 1-2-2 1-3-3 0-1 2 2 1-1-1 2 1-1-1 0 2 0-1-1 2 1 0 1-2-1 1-2 1 2-2 1 2-2 0 2-1 0-2-1-2-1 2-2 1 1-3 2 0-3 2 3 1-1-3-2 2 1 1 3 0-2-3 1 2 0 1-1-2 0 2 1-2 0 2 0-1-2 1 2 0-1 0 1-2-1 1 0 1 2 3 0-3 1 2-1 2 2 3 1-3-1 2-2-3 1 1 1 0 0 2-2 1 0-3 0-2 2-1 1 3 2-1 0 1 1 0 0-1-2-3-1 0 2 1 0-2-3 2 3 0 1 1 1-3-1-1 1 3-3-1 0-2-1 2 1-3 0 2-1-1-2-1-2 1-2 1 1-2 1 2-3 1-3 0-2-2-1-2-2-1-1-3-1 2 2-2 3 0-2 0 1 1-1 0-1 2-1 0 3-1 0 2 0-1-2 0-1 0 2 0-2 0 1-1-1 2 1-1-1 0 2 0-1 1-2-2 3 0-3 1 2-1-2 3 3-1-1-1-2-1 1 1 2 2-3-1 1 1 2-1 1-2-2-1 0-2-3-1 0 1 2-1 0-2 2 2 0 3-2 0 1 3 0-1 2-1 2-1-3 0 1-2 2-3-3 1-2-1-1-1 2-1 1 1 0 2 0-1-1-2 1 1 2 0-1 3 3 0-1-1-3-1-1 0-1 1 2 0-1-1-2 1 0 2 1 1 0-2-2-2 2-1-1 1 2-1-3-1-1-1-1 3 1 2-2-2 2-1 2 0 1 0-3 0 1 0 2 0 0 3-1 0 1-2 0 1-2-3 3 2-1 3-2-1 2 0 0-3 1 3-2-1 0 3 2-2-2-2 1 2-3-2 1 1 2 0-1-1 1 2-1-1 1-2 2 1-1 1 1 2 1-2 1 0-2-1-1-1-1-3-1 3 0 2 2 1 1-1-1 1-1-2 0-3 2 0-1-2 1 1 3 0-1 2-2 2 0-1-1-4-2-1-1 1-1-3-3-1 1 2 1 2 0 2 0-2-2-2-1-3 1-3 1 1 2-1 1-2-1-2-2-1-1-1-1 2-2 0 0 1 3 1 0 1 0 3-1 0-1-3 1 1-2 0 1 0 0 2 3 1-4 0-1 0-2 3 0 2-3 1 2 1 1 1 0 2-1 0-1 3 1-3-1 2 3 0-2 1-1-1 2-1 0 3 0-2-1 1-1-2 3 2-1-1-3 0 2 1-1-1 3-1 3 1 1 1 1-1-1-2-1 2 1 1-2 2 1 1 1 2 3-2 1 2 1 0 1-1-2 1-1-3-3 0 3-2-1 1 0-1-3 0 2 2 3-1 2-1-1 2-2-1 3-2 0 1-2-2 1-1 1-2-1-2 0-3-3 0-2 1 1 1-1-2 0 2-1-1-2 1-1 1-2 3 0-3-3-2 3 1-2 1-2 0 0 2-3 0 0 1-1 2 1 0 0 2 3 1-1 1 1 1-1 1 0 1 1 0 2 1 0 2-1 1-1 2 2-1-1 1 1-1-1-3-1 3 1 0 3 1-2 0-1-1 1 0-2-2 1 2 2-1-1 1-1-1 0 2 0-3 1-1 0-1 3-1 2-1 0 2-1 3-3 0-1 1 3 1-3-1 1 2-1-2-1-3 0 1 1-1 0-4 1 2 2 0 2-1-1-1 2 2 0-2-2-2 1 1 1 0-1 2 2-2 2 1 0 2-1 1-1-2-1 2-1 1-1-1 1 1-1 1 3 1 0 3 2 1 3 1-2-2 1 1-2 1-2 0-2 0-1-1 0 2-1 1-2 2-1 0-2 1-2 1-1-1-2 0-1-2 1 1-1-2 2 0 2 0-2-1-1 2 1-1 3 0-2 1 0-1-3 0 2-1 1 1-3 2 1-1 1-2 1 1-1 1 1 0-1-1 0 3 1-2-1-1 2 2 2-3 2 0-3 0 0-2 0 2-2 3-1-2 0 3-3-1-1 2-1 0 1 1-3 2 2-1 1 0-2 2-1 0-1-1-2-1 0 1-2-1 0-1 0 1 0-3-1-3 1 2-1 2 2 0-3 1 1-2-2 2-1 1 2 0-1-1 1-1 2 0 1 2 1 0 2 1 2 2 3 1 2 0 1 0 0 2 2 0-1 2 3-2 2 0 2 1 0-1 0-1 2 0 2 0 1-3 0-1-1-1 2-1-2 0 0 2 1-3-1 1 2 2 0-1-2 1 0-1 1-1-2 1 2-2 0 2-1-1 1 1-1-2 2 3-2-2 0 2-1-1 2-1-1 3-1 1-1-2 1-3 1 1-1 1 2 0-1-1 1-1-1-1 1 2 1-1-1 2-1 2-1 0 1 2 2 3 1-2 0 2-2 0 0-2-3-1 0 1-1-1 1 1-1 1-3 2-1 1 1 0 2-1 1 1 2 0 2 1 2-1 0-3-2-1 1 3-2-3 1 2 1-2-3-1-1 0 3-1-1-1-1 1 0 2 3 0-1-2 0 1 2 3-2 1 0-3-1 1 2 0-2 0-1 2 1-1 1-2-2 1 3-1-1 0 1 3-2 1 0-3 0 2 1-2-2 0 2 1-2 0 3-2-3 1 1 2 1-3-1 1 1 2 0-1-3-1 2 1 0-2 1 1 0-1-3-1-2 1 1 0-1 1-3 0 1-2 1-3 2 2 0 1-3 1 2-1 1 1 0-1-1 0-1-2 1-2-1 1-1-2 1 1 1-1-1 0 1 0 2 0 2 0 0-2 1 3-1 1 1-3 0-1 1-1 1-2-2 1 0-3-1-3 3-1 1 0 1-2 2 0-1-2-1 2 3-1-1 0-2 2 2-3 2 1 2 0 1 1-2 0-1 2 0 2-3 2 2 0 2 0 0 1 1 2 1 1 1 1 0 2-1 1 0-1 1 1-1-3 2 2-1-1 0 2-1-2 0 3 2-1-1-1-3 0 1 1 3-1-2 1 0-2 1 2-1-1 2 1-2 0-2 2 0-1-1 1 0 1-1 2 2 0 0 3-2-2-1-1-1 0 1 1 2-2 1 2 0-3 1 2-1-1-2 1 1-1-1 2-1-1 1-3 2 3 3 1 0 2 2 0 1 3-1-3 0-1-1-1-1 1 0-2 1 1 0-3 2 0-3-2-2-1 1-2 0-2 2 0 0 2 2-3 3 1 0-2-2 0 1-2-2-1 2 0 0-2 1-3 1 0-3 0 2 0 0-3-3-1 1-3-1-3 3 0 1 0 1-1 0-2 3-1 2 0 0-3-1 1 2 2 0-3-1 2-1-1 3-1-3-1 2 3-2-1 2 1-1-3 1 3-3-3 2 2-2 2 3-2-1 1 2-2-1 2-1 1-1-3 1 2 1 3 1 1 1 1 1-2-1-1-1 1-2 1-1 2 3-1 1 1-2-2-2 2 2-2 0-1 1-1-1-3-3 3-3 0-2 0-1-2-2 1 1-3 1-1-1-1-1-3-1-1-2-2-1-2-1 0-3 2 2 0 1-2 0 2 2 1-2-2 0-1-1-1 1 2 1 1-2 0 2 1 1 1 2 1 1-1-2 2-2-1 2-2 1-2 1 1 2 0 2-2-1 1-1-1-1 1 1-1 1 2-1-1 1 0-2 1 2 0 1-3-1 2-2 1 0-2 2 1-1-1 0 3-1-3 3 0-2 1 2-2-1 3-1-1-1 2 2 1 3-1-2-3-1 2 3-2-1 2 1 3 0 1 1 0 0 4-2 0-1-1 2 0 2-2 1-3-2 1-2-1 3 1-3 1 2 0 1 1-1 0-3 1 0-2 1 3-1 0 0-2 2 0 1-3 2 2 1 1-2 2-1 0 0-2 2 2 0-3 0-2-1-1 0 1-2-1-1 3-2 0-2-2 0 2-2 2 0-1 2-3-1-1-1 2-2 0 1-1 0-1-1 1-2-1-2-1 2 1-1 2 0-2 0 2-1-2 1-1 1 3 0-1-2 0 0-1 2-1-1 2 1-3-2 2 1 0-2 0 2 0 0-1-1 1 2 0-2-1 0 1 2 0-1-2-1-2-4 1 3 2 1 0 1-1-1 0-1-1-1 0 3-1-2-1 3 0-1 0 1 2 1-2 1-1 2-1-2-1-2 0-1-2 3 2 2 3-1 2 0 3-2 0-1 0 1-2 1-1 2 1 0 2 1-1 2-2 0-1 1-2 3-1 3 2-1-1 0-2-1-1 2-2-1-2-2 0 1 1 3 0 3 2-2-2-1 3-1 3 1-2-2 1 0-2-1-1-1-1-1 0-1 1-1 1-3-1-2-2 1-1 3 1-1 3 1-3-2-1-2 2 2-1 0 2 1-1-2 1 2-2-3 0 1 1 2 0-3 0 3 0-3 1 2 0 2-2-1 1-3 1 1-3-1 2 1 1 2-2 1-3-2 0 3 1-1-3-3-2 1-1 3-1-3 0 0-2-2-1-1 0-3 1 1 0 1-1 2 1 1 1 2-1 1-1-1-1 1 0-1 3-1 3 0 1 0 2-1-3-1 3 0 3 1 3 1-1-3 0-3 0 2-1 1-2-1-1-1 0-2 1-1 0-1-2-2-2-1 1 2-1-2 2 3 0 2 0-2 0-1 2-2-2 0-3-3 1 0 3 2 2 2 0 0-1 1-1 2 2-2-1 2-1-2 1 2 1-3-2 2-1 1 1-2-1 2 0-1 2 1-3 0 3-2-3 1 2 2 1-3 0 2 0-2-1 2-1-1 2 2 0 0-2-1 3-2-1 3-1 2 1-2 2-2 1 0-2 0 1 2 2-3 1-1 1 2-1 1-1-3-2 1 0-2-2-1 2 1 2-1 2 1 3 1 2 2-2 1-1-1 2 1-1-1 2-2 1-1 2 0-2-3 1-3 0 0 1 1-2-1 1 2-2-1-1 3 1-2 0-2-2-3-2 0-2 1-1 2-1-1-3 2 0 0-2 2 1 2-2 3-1-1-3-1-2 2-1 1-1 3 1 0-1-1 1-1-3 2 0-1 1 0 1-1 1 2 0-2 0 1-2 0 3-2-2 2-2-1 2 2 2-2-1 0-1 1 2 0-2-1-1 2 1-2 1 2 0 1 3-3-1 0 1 2 0 2-2 1 1-2 0 0-2 3 0 1 1-1 3-2-2 1-2 0 3 3-1 2 1-2 2 0-2-1-2 0 3 2 0-1-2 1-2 3-2-1 1 1 0 0 2-3 2 0-1 3-1 0-1 0-2 0-1-1 3 3 0 1 0-3 1-1 0 2 0 3 0 0-3-2 1-1-2-2 0 2-2-1-2-2 2 2 3-1-2 1 0 1-3 2 1-1 1-1 1-2-1-1 0-1 1 1-1-1 3 2-3-1 1 3 1-1-3-1 2-2 2 1-2 3 0-1-1-2 2 2-1-3 1 3-1-2-1 1 3 1-3-3 2 2-1 1-2-1 2 0-1 2 1-3 1 1 1-2-1-3 0 0 3-2 2-2-2 1 0-2 2 2 0 2-3-1 1 1 3 0-1 2-1-1 2 1 2 1 1-2 3 1 1 1-1-1 1-2-2-2-2 0 2-1-1 1 0-2 0 2-1 0 2-2-2 1-1 2-1 0 2 1 1 2-2-1-2 1 1 2 0-1-1 2 1-2-3-1-1-2 2-1-3 2 1 1 1 1 0 1-2 3 0 2-2 0-1 0-2 0-3 2 1 1-1 1 2-1-4 0 2 1-1 0 3 0-2-1 0 1 1-1-3-1 2 2-1-1 1 1-1 0 2 0-2 0 2 0-2-2 3 2-2-1-3 1 3 0 3-3 1 0-2-2 2 0-3-1 0-1-1-2-2-2-2 1-1 2 2 1 3 1 1 1 2-2 0 1 3-2 2 0-1 2-1-1 1 0-2 3 0 2 0 2 1 1 1-1 2-2-2-1-1-2-1 3 1 1-2-2-1-1 0 1-3-2 2 2 0-1-3 0-2 1-2-1 1-1 2-2-1-1-2 1 0-2 0-1-1 1 1 2 1-1 0 2-2 0-1 0 1-1 2-1-2-1 0-1 2 3-1-2-1-2 2 1-1 2 1 1-2-1 2-2-2 1 3 0-3 1 3-2-2 2 0-2-2 0 3 2-2 1 2-3-2 2 0 1 3-2-2 1 1 1-2-2-2 2-1-2 0 1 0 1-1-1-1-2-3-2 1 1 0 1 1 1-1-2-1 1 0 2-2 0-2-1 3 0 1 0 2 2 0 3 0-1 2 0-3 2 0 1-2 1-1 2 3 0-2 2 0-2 0 0 2 2 1 1-3-1-2 3-1-1 1-3 0-2 2 2 0 3-1-2 0 0-2 0-3 2 3-1 1-1-1-2 2-2 0-1 3-3 0 0 2 1 3-1-3 1-3-2-2-2-2 1 1 1 3-3 0-1-3 0 2 2 1-3-1 3 0-3 0 1 0 1 2 1-2-2 2 0-3 0 2 2 0-1 0 2 0-2-1-1 1 2-1-2 1 3-1-3 0 3 0 0 2 0 1 0 2-2-3 0-1-2 1 1 0 0-3-3-1 0-3 2-2 0-2 1 1 0 2-1 1-1 2-3 1-1-2 2 0 0-2-1-3 2 1-2 1 0 2 0 1-2-3-1 1-2 1 0 3 3-2-1 2-2-3 1 2-1 1 2-3-1 3-1-2-1-1-2 0 2 2 1-1 0 1 1-3-2 1 2 1-2-2 3 0-2 2 2 0-2 0 1 2 2-2-2 0-1 3-1-2 2 0-1-3 1 0 2 2-2 1-1-2 1 1 0-2 0 2 1-1-2 1 3 0-2 0 1-1 0 2 0-2-1 1 1-3 0 2-1 2-1-2 1 1 2-2-1-2 1 2-3 0 2 1 0-3 1 1-3 0-2-2-3-1 0 3 1 1 3-1 1 0 1 1 2-1 0 2 2 0 0-1-1-2 3 1 0 2-2 0 1 0 0-3-1-2-1 0 1-1 1 2-1 0-2-3 0-2 2 2 3-1-3 0 1 2 1 1 2-2-1 1-1 2 0-2 1 1-1-1 1-1-2 0 0 3 2-1 0 2 2-2-3 2-1 0 1-3-2 2 2-1 0 3 0-2-1-2 2 2-1 1 1-3 1 2-1-2-1 2-2-2 1 3 1-1 0-1 1 1-2-2 1 2 0-2-1 3 2-1-1-2 0 2 3-1-4 1 2-1-2 0 1 1 1 0-1-2-1 2 0-2-1 0-2 2 1-1 1 2 0-1 0-1 2 2 2 1-1 2-3-1-1 0-2 0 1 1 3-1 1 2 2-1-1 3-2-3 2-1 1 1 1 1-1-3 3-1-2-3 0-2-1-2-1 0-2-1 3 0 1 0 0-2 1 2-2-2-2 1 0 1-1 1-1 1 0-1 0 1-1 0-1-1-1-2 0 2-1 3 1-1-2 0 0 2 0-3-2 0 1-2-2 2 1 2 1-2-3-1 3-2-1 1 0 3-2-2 1 2 0-2 3-1-3 0 2 1-1 0 1 2-1 0-2-1 3-1-2 0 1 1 1-3-1 2-2 1 2 0-1-2 2-2-2 2 1-2-1 1-1-2 0 1 0 2 0-3 2 3-1-2 0 3-3-1-1 0-2 1-3 1-1 0 1-1 1 1 2 1-1 3 0-2 1-2 2-1-3-1-1 0 0 1 0 4 0 1-2-1 3-1 1-1 1 2 0-1 1-3-3-1 1 2 4 1 2-2 1 2 2-1 1 0 1 0 0-3 2 2-3 0 1 0-1-1 3-2 2 0 0-4 2 1-2-2 2 1-1 1 3-1-3 2 0-3 0 2-1-1 1-1 1 3-3-1 2-2 2 2-1-2-1 1 0-3-1 3 1 0 2 0-2 1 1-3 0 3-2-2 2 1-2-1 1 2 2-3-1 2 0-2 1 2 0 2 1-1 2 1-3 1 0-2 2 0-2-1 1 2 3 1 2 1 1 3 0-2 0 3 1-1 2 1 1-3 0 2 0-1 0 2 1-1-2-1 1 1-3-2 2-1 1-1-1-1 0 1-1 1 2-2-1 1 0-1-1 1 1-1 1 1 2-3 2-1 0-2-1 0 0 1-1 1 2-2-1 2-1 1-2 1 0-3-1 0 1-2-1-2-2 0-3-2 3 0 1 3 0 1-1-2-1 2-2-1 1 1 1-1 0-2-1 2 2 0-2 1 1-3 0 2-2-1 1 0-1 2 0-3 0 3 2-1 0-2 0 2-1-1 1 3 0-3-3 1 1 0 2 1 1 3-1 1 3-1 0 1 0-1 3 0 0-2 2 1-1 2 2 0-1-2-2-2 1-2-1 2-1 0-2 0 0-2-1 1 0 3-2 2 2-2 1 0 0-4-1-2-1 1-2 2 2 0-2 0-2 1-2 2-1-1 3-1 1 1 0-3 1 0-1 0-2-2 0-3 2 1-3 1-1-2 0 2-2 1 1-1-2 0 0 1-2 0 2 1-1-2-1 0 2-2 0-3-2 2 1-1-2 1 1 2 0-2 2 1-1-2-2 1 1-1 1 2 1-2-1 2-2 0 3-1-1 0-2 1 1-1 2 0-2 0 1 2-2-2 2 1 0-1-1 1 0-2-1 1 2 0-1 1 0 2 3-1-3-2-1 3 0-3-1-1 0-2-1 0 2-2 1 2 1 0 2 3 0 1 1-1-2 0-1 0-2 1-2 1 1 1-2-2 0 2 0 1-3 0-1-1-1 3-2 0 0-2 0 1-3 0-3-1 0-3 2 2-1-2 3 2 0 2 1 0 2 2-2-1 1-2-2 3-2-1-1 1-1-1 0 2-1-2 3 1-1 1 1-2 1 0-2 1 1 1-1 0 0-3 1 1-3 1 2 0 1-4 1 2-3 0 2-1-2 3 1-1 3 0-3-1 2 1-2-1 2 2-3-1 1 0 3 2-3-1 1 0 0-2 1 2 0-1-3 1 1-1 2-1 0-2-1 2-1 2-1-2 1 2 0-2 1-2 0-2 1-1-2-1 0 1 1 1-1-2 0 2-1 0 0 2 3-2-2 2 1-2-1-2 2 0 1 1-2 1 1 2 1-2-1-2 1-2 1 1-1 2 3 1-1 0 1 1 1 1 0-1 2 3-2 1-3-1 1 2 3 2 1-1 1-1 2-1-1 1 2-1 1 2-2 0 0 1 2 0 2 1 1 2 2-1 3 0 2 0 1-1 3 0 1 2-1 1 0 2 3 0 0 2 1 2 0 1 0 2 0 3 2 0-1 2 0-1 1-1 1 1-3-2 2 1 2 2-2 0-1-2 2 1-1-1 2 2-2-1 2 1 2 0 3 0 1 2-1-2-2 0-2-1-3-1-2-1-1-1-2-1 1-2 0-2 2 1 2 0-1-1 2-2-1 3 0-1-1 2 1 2 3 2 1-2 2 1-1-2 1-3-3 1 3 0 2 2-1-1-1-1 2 1-1 0-1 1-1 0 3 2-1-2 2-2-2 2 0 2 1-2 1 1-2-3-1 2 2-1 1 1-2-1-1 0-1 2 1 1-1-1 3 1 0-2-2 1 0-3 0 2-1-2 0 3 1-2 0 1 1-1-1 1 3 1-2 0 1-2-3 0 3 0-1 1-2 0 3-1-3 0 1 1 1-1-3 1 2-1 0 2 1-3-3 2 3-2-1 2 3 0 1-2 2 0 2-1-2 0 3 1 0 2 2 2-1-2-1 1 0-3 1 1-1 3 0 2-2-3 1 2-1-3-2-1 1-3 1 2 2 1-2-1 1-1 1-1 2 1 3 0 0 1 0 2-1-1 1-1 0-3-1 0 1 0-1-1 2 1-2-2 0-1-3-2 2 3 1 0-3-1-2 1-2 0-1 1-2-2-1-1 0-2 1-1-1 2 0-2 3-1-2 1-1-2 1 0 1 3-3 1 3 0-2-1-1-1 1-1-1 2 0-3 1 3-1-1 1-1-2 1 3 0-2 0 2-2-3 1 1 2 1-3-1 3 2-1-1-1 1 2-3-1 2-2 2 2 1 3-2 0 3-1-2 0-1 1 0 2 2 0-1 2 2 1-1-2 0 2-2-2-1-2 2 1 1 1 2-1-2 3-1-2-1 3 2 2 2-1 2 2-1-3 1 3 1 3 2-1 2 0-1 3-2-1 1 3 0-1-2 0-2 0-1 2 2 0 0 3 1 1-2-1 1-1-2 2 2 2 2-1-2-2 0 3 1-1-1 1-1-3 2 0 0-1-2-1 1 2 2-2 1 1 1 3-2 0-2-1 0-2 1 0-1 3 0-2 3 1-3-1 2-1-1 2-1-2 1 2 1-1-2 0 1 0 1-2 0 2-2-1 3 1-3-1 3 0-2 2 1-2-1 2-3 0 2-2 2 1 1-2 0 3 2-1 1-3 3 1 0-2-2 0 0-3 0 1 2 2 2 2-2-2-2 2 1 2 1 0-1 0-1 3 3 0 3 1 0-1-1-2 0 2-2 3-3 0 2-1-3-1 0-2 1-2-1 1 1 1 1 2 1-1 2-2-2-1-1-1-2 2 2-1 2 1 1-1 0 2-3 1 2 1 2 1 2-1-1 1-2-2 0 2-3 0 3 2-2-3-1-1 3-2 1 0 0 2 0 3 1-3-2 2-2-3-1 4 1-2 2 0-3 0 2 1-1-2 1 1 1-1 0 1-2 0 2-2-1 2 2-1-2 0-1 1 1-1 2 2-1-2-1 1-2 1 0-4 0-2-2 0-1 2 1-2 2 1 1 2-1 0 0-1 2 0 0 2-1 0-3-1-1-1-1 1 0 2 1-1 0-2-2 0 0 2-1 1 1 0-2 0-2-2 1 2 0 1 3-1 2 0 0 3-1 2 1 0-1 3-2-1 1 0 3 0 1 2 2 3-3-1-3-2-1 3 0 2-1 2 0 2-2-3-1-2 1 1 1 1 2-1 1-1 1 3 1-2 3-2 1 2-1 0-2 2 0-2 2-1-2 1 2 0-2 1 1-3 0 1 1 1-1-1 1 2-1-1-1-1 0 3-1-2 1-1 2 2-1-1 1 2-1-1 0-2 0 2 1-2-2-1 1 1-1 2-3 0 2 0-1 3-1 1 1 1 1-3 1-2 1-2-1-1 1-1 2 3 0-2-1-1 1 2-1-3 1 3 1 1 1-2-2-2 2 3 1 2-1 1-2 2 3-1-1 2 2 0-2-1-2 0 2-1-2-1 1 1-1 1-1-2-3-1 1 0 2 1-2 2-1-3 1-1 0 1 0 2 2-2 2 1 2 2 0 2-1-1-2-1-2-2 1 3-2 0-1 1-3 0 3 0-2 0 2-2 1 1-2 1 1 1-1-2 2 2-1-2 0 2 1-2-2 0 2 2-2-3 2 3-2 0 1-1-2-2 1 1 0 3 1-3 0 2 0-3-1 1 0-1-3 0-1-3 2 1 0-1 1 2-1 2 0-2 0 1 2 0 1 2 0-1 3 1 3 1 1-2 2 2-3-2 0 3 3 0-2 0 1-3-1 1 1 1-1 2-3 1-1 3-2-1 0-3-1 1 1 1 2 2 2 2-2 2-1 0-1-3-2-1-2-3 0-1-2-1 1 1 1 3-1 2-1 2 1-3-1-3-2 1-1-3-2 1-3 2 0-2 1 2 0-4-1 1 0 2 2 0-1-1 0 1-1 1-2-2 1 2 2-2-2 1 1 2-1-1 2 0 1-2-3 0 1 1 3 0-1-1-2 1 1 2 0-2-2 0 1-1 0 3 1-2-2 0-1-2-2-2-2 0 2-1 0 3-3 1 2 1-1-3-2-1 0-2 2 0-1 2 2-3-2 1-2 0-1 2 1-2 2 1 2-2 2 0 1-1-1-3 3 1-2-1 1 2 1-1-1-2 1 2 3 0-1-3-1 2-2 0 0-3 3-1 2 2 1-1-1 1-1 0-1 0 0 2-2 0-1 1 1-2 0 2 3-1-1-3 1 1-1 0 1 2-2 0 2 2-2-2 2 1-2-1 0 1-1-2 0 4 2-1-3 0 3 0 0-2-3-1 1 3 1-3 0 3 0-2-2 1 1-2 2 2 0-3-2 2 2-1-1 1-3 0 4 1-1-1 1 1-3-1 2 0-1 3 0 2 2 1 3 1 1 1 0-1-1-2 3 1-1-2 2-1 1 2 2 2-3-2-2-1-1 1-1 2 2 0-1-3-2-1 0-1-2 0-3 1-3 0-1-1 1-1-3 0-3 1 1 2 3-2 2 1-2-1-1-3-2-1 1 4 1 0-2 0 0-2 0-4 1-1 2 0 2 0 0-3-1-1 1-3-1 0-2 1 1-1 0-1 0 2 3 0-1-3 1 3-2-1 0-1-1 2 0-1 2-1 1 0-2 0 2 1-2-2 1 1 2 2-3-1 3 0-2 1 2-2-2 0-1 0 2-1-3 1 1 1 2-1-1 2 1-1-2 0 1-1-2 1 2-2 0 1-1-3 2 2 1 0 0 1-2 3-1-1-2 2-2 1-3-1-2 0-2 0-1-1 1 2-2 3-2-1 1 2 1-1-1 1-2 0 2 1 3-1-1 1 2-2 0-3 0 1 2 1-2 1 1 3-1-3 0-2 2 3-3 0 3 0 2 2 1 1 0 1-1-3-2-1-2 1-1 0-1 2 2-2 1 1-2 1 1 1-2-1 0 2-2 3-1 1-1 0 1 0 3 0 1-1 3 1 0 2 2 1 1 1-1 2-1 2 1 2 0 2 0 1 2 2 2 1 1 1-2 1 1-2 0 2 1-2 0 2-2-1 2 1-2-2 2 2-1-2 0 1 1 0-1 0 2-3 0 2 0-2-2 0-3-1-1 2-3-1 3-2-1-1 1-1 3-1 0 3 1 2-1 0-3-1 0 2-2 1 2 0 1 1 2-1 2-1 1 2-2 0 0 3-3 1-2-1 0-2 0 3-3 0 0 2-1-2-1 0-3 1-1 0 2-2 0 1-1 2-1-1-1-1 1-1 1-3-2 2-2-2 1 2 0 2-3 1 1-1 0 2 0 2-1-2-2 0-1-1 1 1-2 0-2 2-1 1-2 1-2 0 0 1-1 1-3 1 1-2 1 2-2-1 2 2-2-2 2 0-3-1 1 0 0 2 2-1-2 0 1 1 0-2-2 2 2 0-1-1 2 0-1 1 1 2 0-2-1-2 1 2 1-2-3 1-1 0-3 0-2 1-2-1 2-2 0-2-2 1 1 0 3 0 2-1 1 1-1-1 1 0-1-2 0 1 1 1 3-1-2 2-1-2-3-1 0 1-3 2-2-2 2 2 0 3 1 0 0-2 1 2-3 0 2 1 2-3-2 1 2 1 2 0 1 2 1 1 1 1 0 3 2 1-2 2-2 1 3 1-3 0-1 3-1 1-1 3 3 0 3-1 2 2-3 1 0 2-2 2 1 1-1 3 2 2 2 2 1 0 2 2-1 3 0 1 1 2 0 1 1 1 3 2-1 2-1 1 1 1 0 1 1 2 0 2 1 1-1 2 1 1-1 3-2 1-1-2 2-1 0-2-2-1 2-2 0 2-1-2-2-2 1 0 2 1-1-1-2-1 1-1 0-3 0 2-3 1 0-2 3 1 1 0-2-1 1 3 2 0-3-1 3 1 0-2 0-3 0 2 1 1-3 1 1-1-2-1 0 2 0-3-1 3 2-2-1-2 2 0-1 0 1 2 3-1 1 1 2-1 1 1 2 3 0-2 2 1-1 3 2 0-2 0 3 0 1 1-2 0 2 2 0 2 0 2 2 1-2 1 0 1-1 3-1 1 0 1 0 3 2 1 1 1-1 1-1-1 3 1-1-1-2-1 2 2-1-2-2 2 1-3 0 3 0-1 2 1-3-1 2 0 0 2 1-2-2 0 2 1 2 2 2-1 1-1 2 2 1-2-2 1-1-1-2 1-1-3 2-1-1 1-1 1-1-2 3-2 1 2-1-1 0-3 1-1 0 1 1 0 2 2-1-2 1 0 3-1 0 2-1-2 0 2 2 3 0 2-3-1-2 0-2 1 2-1-1 2 1 2-3 0 2 1-3 1 3-2 0 1 2 2 0 2-1-1-1-2 0 3-2-1 1 2 1-2-2-1 1 2 2 2-1-2 0 3 1-1 0-2-1 1 0-2-1 1 0 2 0-2 1 0 0 2 1-2-2 2 2-1-2 1 0-2 2 1-1-1 0 1-3-2 2 2 0-1 3 1-3 0 1 3 3 0-2 2-1-2 0 2 1-1 2 0-1 3 0-2-1 0 1 2 3-1 0-2 1 0 3 1 1-2 1 3-2-1 2-1 0-1-2 0-1-3 0-2 2 1-1-3 2 0 1-2-1-2 1 0-2 1 3-1-2 1-3 0-1-1 1-1 1 2-3-1 1 1 1 1 3 1 1 3 0 1 0-3-2-1 1 2 0-1-1 2 1 1-2-2 0 3-1-3-1 2 1-1 1 0 0 1 0-1 1-1 1 1-2-1 2 1-2 0 2-2-2 1 1 0 0 3-1-3 3 0-1 3 0-2-2 2 3-1-4 0 3-2-2 2 3 0-2 0 0-2 0 2-2-1 2 2-1 1 1 3 2-1-1 1-2 0 2 2 1 1-2 0 2 1-1 1 1-2 0-2 0 3-2-1 2 0-2 0-1 2 0-2-1-2-1-2-1 2 2 1 2 2 1-1 1 1 0-3-1 1 0-3-1-2 0-1 2-2-2 1-2 2-3 0-1-2 0 3-1-1-2 0-2-3 3 0 2-2 1 3 0-2 2-1 0 3-3 0-1-1-1-1 3-1-3-1 1-2 2 0 1-2-1-2 1 3 0-1 2-1-1-1-2 2 3 1 0-2-3 0 2 0 0 1 1-2-3 2 2-3 2 2-2 1 1-1-3-1 2 0 1 1-1 0 1 0-3 1 2-2-1-2 1 2-2 2 1 2-1-1 3-1 2-2 0 3-1 0 1 2 0 2 1-1-1 2 3-1-2 0 1-2 2 0 1 2-2 1-1-1-1 1-2 3 2 1-2-2 1-2-2 1 0 2 1-2 1-2 1-3 2 0 0-1 2 0 1-2-1-1-3-1 2 2-1-1 1 3 0 2 2 0 0-3 2-1-2 1 1 0-2 2-1-1 1-1-2-2 3 1 1-2-2 2 2-1-3 0 2 2-1-1 3-1-1 1-2 0 2-1-1 0-1-2-1 2 1-1 3 0-3-1-1 2 1-2 1 3-1-2 3 0-2 2-1-2 3-2-3 1 1 1-2 2 2-1-2-1 2 0-1 3-2 3 1-1 2 1 0-1 2-3 1 0 2 1-3 0 2 0-1 1-2 1-3-1 2 0 2 0-1-1 3 0-2-1 0 1-2 1 3 1 2-2 2-1 0-3 2-2 1 0-2-2 1 1-2 1-1 2-1 1 3 0-1-2 2 1-1-2-2-2-1-1-2-2 1 0 1-2-3-1 1 1 2-3-1-2 2 0 1 2 1-1 0-2 0 2 1-3-1 2 3 0 0 3-1 0 2 0-1-2-1 1 0 1 2 0 0-2 0 2-1-2-1 1 1-1 1 2-2-1 2 1-1-2 0 2-1-3 2 2-3 1 0-1 1-1 1 1 1-2-1 1 1 2-1-1-2 0 0-1 3-2-3 0 2 0 1 1-2 1-2-2 2 1 2 2 2 2-2 1 0 1-2 1-1 3 0-2-2 2 2-1 0 2 1 3 1-1 1-2 2-2 1 2 0-2 1-1 0 1-2 0-1 1 0 3 1-2 1-3-2 0-1-2 0-1 2-2-2 0-1 2-1 0-1-1-1-1 3-1 2-1-3 0-2 0 1-1 1 0 1-2 1-2-1 1-1-1-1-1 0 3 2-1-3 1 0-2 0-2 1 2 2-1-2 1 0-3 0 2 1 0 0 2 1-3-2 0 0 2 1 0-2-2 2 1-1 3 0-2 1-1 1-2 0 3-1-3 0 2 1 2-3-1-1-2-1-2-2 1 0 1 0-2-2-1-1 0 2 1 0 3 0 2 2 1 3 1 2 2 1-2-1 2 1 0 3 2 3 1 0-2-2 0-1 2-2 0-2 1 1 1 2 1 1 3-2-2-2-1-1 3 2 1 1 1-3-1 1 2-3 1 0 2 1 0-2-2-2 1-1 2 2 0-1 0-2-2-1-3-2 1-1-2-2 1 0 1 0 2-2 1-2 0 0 2-2 1-1-1-3 1-2 2-3 1-2-1-3-1-3 0 0 2-2 0-1 3-1 2-2 2 1-1-3 0 3 1-1-2 0 2 2-1-2-2 1 2-2-1 3 1-2 1 1-3 0 1 2 2 1 2-2-2 0-2-3 1 1 1 1 2 1 2 2-2 0-2-1-2-2-3 0 3 0 3-1 0 0 2 0-2-3 1 1 1 3-1 2-2-3-2-1 1-1 2 0 3 0-1 3 0 2 1-1 1 0-3 3 1 2 1 2 2 3 1-1-1-2-2 1-1 0-4 0-1-1-3 2 0 0-2 1-1 0-1 1 0-1 0 1-2-2 0 1 2 0-3 1-3 2 0 0-3 1 0-2-2 1-1-2-3-1-3 2-1 1-1 2-1 2-2 1-1 0-3 3-1 1-1 1-1-1-2 0-1 3-2-1-2 3-2 0-1 1-2 1-1 1-2-2 1-2 1-1-2 1 2 0-2 2 0-2 1 0-2-3-1 1 3 2 1 2 1-1 1 0-2 1 1-1-1 0 2-2 1 1 1 1 2 2-2 0-3 1-2-1-1 3 1-2 0 0 3-3 2-2-1 0-3 1-1-3 1 2 1 2 1 1 1 0 3-2 0 1-3 0 4-2 0 0 1-2 0-1 1 0 2-1 2-1-3-2-1-1 1 0 3 0-2-1 1-1 2-1 0-1-3-2 2-1-3-2 1-2 1-1-1-1 1-2-3-2 0-2 0-2 0-2 2-2 1-1-2-3 0-2 0-1-1-1-1-1 0-3 1-1 0-2 1-2 0-2-1-2 0-2-1M601 489l-2 0-2-1 0 3 1 2 3 2 2-2 2 1 0-2-1 3 0 1 0 2 1 0 3 1 0 2 2 2 1-2-1-2 0 3 1 2 0-1-1-2-1-3 1-1-1-1 0 3 0 1-2-1 3 0-2-2 3-1 2 0-3 0-1 1 0-1 1 1 2-1 0 1 0-1-1 0 2-2-1-2 2 1 2 2-3-1 1 2-2-1 2-1-1 1 1-1 0 3 0-3-1 1 0-2 1 2-3-1 2-1-1 2 3-1-2 2 0-1 0-1 0 2 0-1-3 0 2 0 1 3 1-1 1 1-2 0-1-2-1-3-2 0 2 0 0 2-1 1 1 3 0 3 2 1 2-2 1 2-1 2 0-1-2 2-1-2 0-1-1-2-2 1 1 2 1-1 1 1 1 3 2-2-1-2 0-3-1 1-1 1 0 3 2-2-2 1 1 0-1-2 1 1 1-1 0 3 0-2 1-1-1 0 0 1-1-1 1 1-1-1 0 1 0-1 3 1-3 2-1-3 2 0-2 2 2-1 0-2 0 1-3 2 3-1-1-1 1 1-3-2 2-2-1 3 3 0 0 1 0 2 0-1 3-2-2-1-1-1 2 0 0-2-3-1-2-1-2 2 1-2-2-2 2-1 0 3-2-1 2 1 2 0-1-1-3 2 1-1-1-2-2 2-2-2-1-3-2 0 2-1 0-1-1-1 1-1 0 2 1-1-1-3 2-1-3-1 3 0-2-3 0-1-2-3 1-1 2 1 2 0-1-2 3 1-2-1 1 0 0 2 3-2-2 0-2 2 3-1-2-1 1 1-2 2 0-2 2 0 0-2-2 2 2 1-2-3 1 2-1-1 3 1 1 0 0-1 1 3 2 1-1-1-2-1-1-1-2 0 0 1-2 2 2-2-2-2 1-2 0 2 1-1 2-1-3-2 1-2 1-2 2 0-1 0 2 1 0 2-2 1-1 1-2-3 2 1 1-2-3 2 1 1-1-1 0 2 3 0 2-1 3 0-4 1-2 1 2-1 1-1-1 0-2-2-1 3 1-1 2-1-1-1 1 2-3-1 3 1 0-1-3 1 0-1 2 1 0-1 3 1-2 0-3-1 3 0-1-1 0 2 0-2-1-2-2-1-2-1 3 0 2 0 0-2-2 0-1-1-2 1 2 0 2 1 1-3 0 3 1 2-2 2 0-3-1 0-1-1 1-1 0-2-2 1 3 1-2-1-3 0 1-1 3 2-2-3-3 0 2 2-2-3 0 1-1-2 0 3-1 0-2-1 3 1-1 0 2 2 0-2-1-1-1 1-4-1 1 2-2 0 0 2 0 2 1 2 1-1 0-1-1 1-1-2 1 0 0 2 0-2 0 2 0-2 1 2 0-1-2 1 1-2 0 1 1-1-2 1 1-1 0 3 0 2 0 2 0-2-2 1 2-1-2-2 0 2 1-1-1-1 1 0 1 2-1-3 0-3-2-1 2 0 1 1-2-2-1 3-2-1 1-1 0 2-1-2 0 3-1 3 0 2-1 2 2 0 2-1 2 1-1 2-1 1 1-1 2 2 3 1-1-3-2-2 1 0 1 1-2 2-2-3 2 1-2-1 1 2-2-1-1 1 0 2 3 0-1-2-2 1 2 0-1 1 1-3-2 1 2 0-1 2-1-2 2 1-2 0 2-1-1 1 2 0 3-2 2-2-3 1-2 2 0 2-1 1 1 2 2 1-1 2 0 2 1-2 1-2 1 2 0 2 1 0-2 1 0 1-1 1 2 2 2-2-2 2 0-1 1 1 0-2 1 2 2 2 1-3-2 0-1 0 1 1-1 0 1 2-3 0 2-1 1-2-1-2 0-2 2 1-1 2 0 1 0 2 0-1-1-1-2 2 0-2 1 3 2-1-1-3 0 1-3 2 2-3 2 2-2 1 0-3-1 1 1 2 2-2 0 1-2-1 1 2-2-1 2 0-2-1M639 498l0-1-2-3 1-2-1 2-1 1-1-1 0-2-1 3-2-1 0 3-1 2 1-1 1 1 0-1 4 1-2 2 1 1 2 2 3 1-1 2 3 1-2-1 2-1 1 3 0-3 1-1 2 0 2 1 3-1 1-2 2-3-1 3-1-2 1-3-3 0 2 0-1-1-1-1 0-2 1 3 1-2-2 2 0-2-3 0 3-1 2 0-4 1 3 0 0-2-1-1 0 2 3 0-2 1 0-1-2 0 1-3-1 2 1 2 1-2-1 1 0-1 2 2-1-3-2 1 3 1-2 0 1-2-1 1 2 1-3-2-1 1-1 0-3 0-1 1 1-1-2-1-2-1 0 2-2 2-1 2-1 1 0-3-1-1 0 1-1 3 2-1-2 2-1-1 2 2 1-1 1 2 1 2 2 0-1 2 1 1-1-2-2 0 2 0 0 3-3 0-3-1 2-2 1-2 2 0-1-2-2 0-1-3 3-2-1-2-1-1 2-2 0-2-2-1 2 2-1-2 0-1 2 2 1 2 0-2 2 0-1-2 2-3 1 0 1 2-1-1 1-1 0 3-1-1 1-2-1 2-1-2 1 2 0-2 3 2-2-3-1 2 2-2-2 2 1-1-1 2 0 2-2-1-1 0-2-1 1 3-1 1-1 0-1-2 2 1 0-2 1 2 0 3 0-2 0-1-2 2 2 2 0-1-2 2 0 2-2 2 1-3 0-2 0 2 0-2-1 0-2-1-1 3-1 0 0 3 2 2-1 1-2-1 3 0-2 0 1-2-1 0 0 3 0 2-3 1 2 0-2 1-2 2-1-2-1 2 1 3 2-3 1 0 1 0 0 2-1 2 1 3 3-2 2 0 0 1 1-2 1 3-1-2 1 2-3 0 2 0-2-2 2 2-2-3 2 1-1 2 1-2 0 2-1-1 2 1-1-2-2 1-2 0 0 2-1 0 3 0 0-1 0-2 0-1-1-1-2 1 1 1-1-1 2-1-3 1-2 2 0 3 1 0 2 3 1-3 1-2 2-1-2 2-2 1-1-1 0 3-2-2 1 1 0 3-2 2-2 2 2-2 1 1-3-2 3-1 2-1 1 2 0 2 1-1-3-2 0 2 0 1 1-1-2-1 1 1 0 1-2 0-2 1 1 3 1-1-2-1 2 2-1-2 2 0-2-1 2 2-1-2-1 3-1-3 1 1 1 0-2 1 2-2-1 3 0-1 2-1-4 0 2 1 2-3-1 2-3 1 0-3 2 0 0 2 2-2-1-1-1 1 0 2 0-2-1-1-2 0 0 3 3 0 2 2-1-1 1 2-2 0-2 1 1 3 2-1 0-3 3 1 2 2 1 3-3 0 2 1 2-1 1 3 0 2 1-1-2 1 0-2-2-1 0-3 2 3 0-2 1-1-1-1-1 2-1-2 2-1 1 1-2-1 2 1 2-1 0 3-2 1 1-2-1-3-3 1 2-1-1 3 0-2-2-2 2 2-2 1 0-1 2 2 1-3-1 1 1 1 0-1-3 0 2 0 0 3 0-3 0-2 0 3 0-2-1 3 1-2 2 0-2 0 1 2-1 1 2 0 2-1 0 1 0-3 0-2-2 1 2 1 3-1-3 0 3 1-1 1-1-1 0-2 2 0 1 2-2 0-2-2-1 2 0-1 2-1-2-1-2-1 1-3-1 1-1 1 1 1 1 0-2-2 0 3-1-1 2-1-1-2 1-1-2 0 1-3 1-1-1 3 0-2 1 1 0-3-1-3-1-3 1-1 3-1 1-2 0-2 1-2-1-1 1 0-1-3 1-2 3-1-1 1-2 0 1 1 0 3 1-2-1-1 1-2-1 1 1 2-1-1 2 0-2 1-1-2 2 0M653 516l1 2 1 1 2 0 0 1-1-2-2-3-2-2-2-1-1 1-1-3 1 2 0-2 2 1 1 1-1-2 4 0-2-1 1-2 2 3 1 2 1 3 0-1 0 1-2-2 0-2 2 1 1 1 2 1 2 2 1 2 0 1 1 2 2-1 0 1-2 0 2 1-1 0 2-2-2 2-1-3 1 2 2-1-2-1 1-2 2 2 1 1-1 3-1-1 3 1 3-1 0 2 1-1-2 2-2-1-1 1-2-1-1 2 0-2 2 0 1-2 2-2-1-1 2-2-2 0 2 1-1-2-1-2-2-1 2-2 2-2-1 1-3 1 0-2 2 3 2-3-2 1-2 2 0-3 3 0-2 2 1-1 1-2-3 0 3-1-2 0-2 1 1 2 0-1 1 2-1 3 0 3-1 1-1 0-3 1 1-2 1 0-1-3 0 1-1 1-1-2-1-1-2 1-2 1-2 2-1-3 1 1-1 1 0-2-3 0 0 3 2-2-2 2 0-1 2 1-1-1 2 2 0-3-2 3 2-3-1 1-1 0 2 0-2 1M672 501l3-1 2 2 4-3 1-2 5 1 0 1 2-1 2 1 2 0 3 0 2 1 2-1 2-2M697 505l-1 1 1 3 2 2-1 2 2 1 1 0-1 2-2-1-2-1 3-2 2 0 0 2 2-3 1-1-1 0 1-1-1 1 2-2 1-2-3 0-2 1 1 2-1 2-1 2-1-1 2-1-2 2-2 2 0-2 2-2-1-1 1-1 0-2 3-1-2 0-2-1-3 0 1 2 1-3 1 2-1 1-1-3 2 1-1 0-1 2-1-1 3-1-3-2 2 2-2 0 2-1 0 2 0-3 0 2-2 0 3 1-1 0-2-2 3 1-2 1M706 495l4 2 2 2 1 4-2 2 0 2 1 2 1 2-1 1-1 1-2 3 0 2-1 4 0 1-1 2 2 2 1 2 2 1 2 2 4 1 1 0 3-1 1-1M721 527l0 2 0-3 1-1 2 2 2 3-2-1-2 3-1 3 2 2-2 2 2 0 1-1 2 1 0-2 0-2-1 0 0 1 0-2-1-3 0-2-1-1 1 3-2-2 0-2-1 1 1 1 1-2 1-2-1 0 1-3 2 0-2 1 2 2 0 2-2-2 0 1-3 1 2-2 2 2-1 0 0-1-1 1-3 2 1-2 1 0-1 1-1-1 3 1-1 0-1-1 2-1-2 1 1 3-2-3 3 0-1 0-2-1 1 2 3-1-1 1-2 0 1-3 0 2-1 0 0 1 2-1-2 1 0-3 0 3" fill="none" stroke="#f00" stroke-width="3.2" stroke-linejoin="round"/>
<path d="M95.4 3.2A267 267 0 0 1 362.4 270.2M95.4 537.2A267 267 0 0 0 362.4 270.2" fill="none" stroke="#505050" stroke-width="1.2" stroke-dasharray="10.6 9.9"/>
<path d="M95.4 537.2v-10.7M95.4 3.2v10.7M108.8 537.2v-5.3M108.8 3.2v5.3M122.1 537.2v-5.3M122.1 3.2v5.3M135.4 537.2v-5.3M135.4 3.2v5.3M148.8 537.2v-10.7M148.8 3.2v10.7M162.2 537.2v-5.3M162.2 3.2v5.3M175.5 537.2v-5.3M175.5 3.2v5.3M188.9 537.2v-5.3M188.9 3.2v5.3M202.2 537.2v-10.7M202.2 3.2v10.7M215.6 537.2v-5.3M215.6 3.2v5.3M228.9 537.2v-5.3M228.9 3.2v5.3M242.2 537.2v-5.3M242.2 3.2v5.3M255.6 537.2v-10.7M255.6 3.2v10.7M268.9 537.2v-5.3M268.9 3.2v5.3M282.3 537.2v-5.3M282.3 3.2v5.3M295.6 537.2v-5.3M295.6 3.2v5.3M309 537.2v-10.7M309 3.2v10.7M322.4 537.2v-5.3M322.4 3.2v5.3M335.7 537.2v-5.3M335.7 3.2v5.3M349.1 537.2v-5.3M349.1 3.2v5.3M362.4 537.2v-10.7M362.4 3.2v10.7M95.4 537.2h5.6M362.4 537.2h-5.6M95.4 510.5h3.3M362.4 510.5h-3.3M95.4 483.8h3.3M362.4 483.8h-3.3M95.4 457.1h3.3M362.4 457.1h-3.3M95.4 430.4h3.3M362.4 430.4h-3.3M95.4 403.7h5.6M362.4 403.7h-5.6M95.4 377h3.3M362.4 377h-3.3M95.4 350.3h3.3M362.4 350.3h-3.3M95.4 323.6h3.3M362.4 323.6h-3.3M95.4 296.9h3.3M362.4 296.9h-3.3M95.4 270.2h5.6M362.4 270.2h-5.6M95.4 243.5h3.3M362.4 243.5h-3.3M95.4 216.8h3.3M362.4 216.8h-3.3M95.4 190.1h3.3M362.4 190.1h-3.3M95.4 163.4h3.3M362.4 163.4h-3.3M95.4 136.7h5.6M362.4 136.7h-5.6M95.4 110h3.3M362.4 110h-3.3M95.4 83.3h3.3M362.4 83.3h-3.3M95.4 56.6h3.3M362.4 56.6h-3.3M95.4 29.9h3.3M362.4 29.9h-3.3M95.4 3.2h5.6M362.4 3.2h-5.6" stroke="#000" stroke-width="1.0" fill="none"/>
<rect x="95.4" y="3.2" width="267" height="534" fill="none" stroke="#000" stroke-width="1.2"/>
<g font-family="Liberation Mono, monospace" font-size="21" fill="#000" stroke="#000" stroke-width="0.3"><text x="90.3" y="16.7" text-anchor="end">100</text><text x="90.3" y="143.9" text-anchor="end">50</text><text x="90.3" y="277.4" text-anchor="end">0</text><text x="90.3" y="410.9" text-anchor="end">-50</text><text x="90.3" y="537.6" text-anchor="end">-100</text><text x="96.4" y="563.7" text-anchor="middle">0</text><text x="149.8" y="563.7" text-anchor="middle">20</text><text x="203.2" y="563.7" text-anchor="middle">40</text><text x="256.6" y="563.7" text-anchor="middle">60</text><text x="310" y="563.7" text-anchor="middle">80</text><text x="363.4" y="563.7" text-anchor="middle">100</text></g>
<text transform="translate(227.3 587.1) scale(1 0.84)" font-family="Liberation Mono, monospace" font-size="21" stroke="#000" stroke-width="0.6" text-anchor="middle">x (AU)</text>
<text transform="translate(21.2 271.5) rotate(-90) scale(1 0.84)" font-family="Liberation Mono, monospace" font-size="21" stroke="#000" stroke-width="0.6" text-anchor="middle">z (AU)</text>
<text transform="translate(256.4 28.9) scale(1 0.95)" font-family="Liberation Mono, monospace" font-size="21.5" stroke="#000" stroke-width="0.6">10 deg</text>
<text transform="translate(311.6 509) scale(1 0.875)" font-family="Liberation Mono, monospace" font-size="19.5" stroke="#000" stroke-width="0.6">(a)</text>
<path d="M479.9 279.3A15.7 15.7 0 0 0 479.9 263.5M493.5 287.1A31.4 31.4 0 0 0 493.5 255.7M507.1 295A47.1 47.1 0 0 0 507.1 247.8M520.7 302.8A62.8 62.8 0 0 0 520.7 240M534.3 310.7A78.5 78.5 0 0 0 534.3 232.1M547.9 318.5A94.2 94.2 0 0 0 547.9 224.3M561.5 326.4A109.9 109.9 0 0 0 561.5 216.4M575.1 334.2A125.6 125.6 0 0 0 575.1 208.6M588.7 342.1A141.4 141.4 0 0 0 588.7 200.7M602.3 349.9A157.1 157.1 0 0 0 602.3 192.9M615.9 357.8A172.8 172.8 0 0 0 615.9 185M629.5 365.6A188.5 188.5 0 0 0 629.5 177.2M643.1 373.5A204.2 204.2 0 0 0 643.1 169.3M656.7 381.3A219.9 219.9 0 0 0 656.7 161.5M670.3 389.2A235.6 235.6 0 0 0 670.3 153.6M683.9 397A251.3 251.3 0 0 0 683.9 145.8M697.5 404.9A267 267 0 0 0 697.5 137.9" fill="none" stroke="#222" stroke-width="1.8" stroke-dasharray="1.8 5.2"/>
<path transform="matrix(0.97 0 0 1 14 0)" d="M479.9 279.3A15.7 15.7 0 0 0 479.9 263.5M493.5 287.1A31.4 31.4 0 0 0 493.5 255.7M507.1 295A47.1 47.1 0 0 0 507.1 247.8M520.7 302.8A62.8 62.8 0 0 0 520.7 240M534.3 310.7A78.5 78.5 0 0 0 534.3 232.1M547.9 318.5A94.2 94.2 0 0 0 547.9 224.3M561.5 326.4A109.9 109.9 0 0 0 561.5 216.4M575.1 334.2A125.6 125.6 0 0 0 575.1 208.6M588.7 342.1A141.4 141.4 0 0 0 588.7 200.7M602.3 349.9A157.1 157.1 0 0 0 602.3 192.9M615.9 357.8A172.8 172.8 0 0 0 615.9 185M629.5 365.6A188.5 188.5 0 0 0 629.5 177.2M643.1 373.5A204.2 204.2 0 0 0 643.1 169.3M656.7 381.3A219.9 219.9 0 0 0 656.7 161.5M670.3 389.2A235.6 235.6 0 0 0 670.3 153.6M683.9 397A251.3 251.3 0 0 0 683.9 145.8M697.5 404.9A267 267 0 0 0 697.5 137.9" fill="none" stroke="#3c3c3c" stroke-width="1.8" stroke-dasharray="1.8 5.2" stroke-dashoffset="0"/>
<path transform="scale(0.5)" d="M936 542l2-3 1 2 3 3-1-1 0-3 2-2 5-1 1 1 3-2 1-3 0 1 0 1 6-6 2 1-1-2 0-4M963 526l-1-1-2 0 1 1-3 1 3 0-1 2-1-1 2-3 2 1 1 0 1-2 0 1-1-2 0-2 1-2-3-2-1 2-1 2-3-1 1-1 2-2 2 2 0 2 2 0-1 3 1-1 0-2 0-3-1 3-2-2-1-1 2 2 1 0-3 0 0-3 2-1-3 1 2 1 2-2-2 2 1 0 2 0 0-1 2 1 1 2 2-2 1-1-2 1 2 1-1 2-1 4 0 1 1 0 1 3 1 0 2-1 0 2 0 3 3 0-1 0 1 0-2-2 2 2-1-2-1 3 1-2 2 2-1-2-3 1 2 0 2-1 1 1 1 2 2-1 1 2-1 0 1 0 3 1-3-2 2 1-1-2 1 0 0-2 1 1-1 3-2 2 0-3-1 1 1 0-1 2-1 2 3 1-1 2 1 0 0 2 0 2-1 3-1 2-2-1 1-2-1 1-2 2-1 2 0-2 0-2-1 1-2-1 0-3 2 0 1 0 2-2-1 1 0-2-1-1 0-3-3 1-2-2 1 0 0-2 2 0 1 1-1-1 3 0-2 1-2-2 3 0-2 2 2-2-2 0 1 1-2 2 2-2 1 1-2-2 2 2-2 0 1 0-2-1 2-1-1 2 3 2-1 1 1 1 0-1 0-2 2 0 0 3 2-1 2-1 0-3-1 2-2 2 1-2-1-1-2 2-1-1 1 2-3 0 2 2 2 0 0-2 1-1 0 1 2 1 1-1-3 2 3-1-1 2-1 3-3-1-1 1-3 2 1-1 0-2-1-1 1 0 1 3-1 1-2 1-1-2 2 1 1-3 0 2 0 1-1 1 0 1-1 2 2-2 0-3-3 1-2 2 1-2 2 0-3-2 2 1 1 3-2-1 1-1-2 1 1-2 1 1 0-2-2 1 1 2 0-2-1 2 1-1 1-1-1 1 2 1-2 0 2 0-1 2 1 0-1-1 1 2 0-1 2 2 3-1-1-2 1-1 0-2 2 2-2-3 2 0-2-1 2 1 1-1-2 1 2 1-1 0 2 0-1-1-1-1-1-1 2 0 2 2-2 1-2 0 0-1-2 1 0-3 0 1 1-3-2-2 2 1 2 2 1-1 0-2-2-1-2 2-3 0-2 0-2-1-1 1-3 2-1 1-2-2 1-3-3 2 1-1 3 1-1 0 0 1-1-1 3 2-1-1-2 1 1-2-2 2 1-2 0 2 1-1 2 0-2 1-1-1 3 1-1-1-2-2 1 3 1-2 1 1 3 0 1 1-2-2-1 0 2-1 1-1-2-1 3 0-1-2-2-1 0 3 2 1 0-3 2 0 2 2 3-1-2 0 1 1-3 2 0 1 0-2-2 3 2-2 1-2-1 1 0 2-2 2 0 2 2 1 2-1 3 0-1 2 3 0 1 0 0-2-3 1 1 1 1 0-2 0 3-1 0 2-1-2-1 2 0 2 3 1 1-2 0-2 2 1 0-1 0 2 0-2-3 1 2 0-1 1 0-1 1-2 1 3 0-2-2 2 2-2-1 2-1-2 0 1 1-2-1 3 1-2 0 2 0-2 1 0 2 0-2-3-1 2 1-2 0-1 1-3-2-2 0-2 0-1-1 2-1 0-2-2-1-2 1-2 0-3 1 0 1 0 1 1 0 3 1 2-3 0-2 1 0 2 1 2 1 1 1 3 2 0-2 0 2-1 1-1 1 2-2 1 2-1 1 1 2 0-2-1 1 1 1-1 2-2-1 2-1 0-2 3 0 3 0 3 2-2 0-2 2 2 2 0-1-1 2-2-2 0 0 1-1-3 3 2-2 0-2 1 2-2-1 1 1 1-2 0 2 0-1-1 2 1-3-1 1 0 0 2 0-2 0 3 1-1-1-3-1 1 3 0-1-1 1-1 1 0 1-1-2 0 3 0 3 0 0 2-2 2 1-2 0 1-2 0 0-3-1-2 1-2-3-1-1 2-2-2-2-1 2 1-2-1-3-1 0-2 2 0-1-1 3 1 1 1-2 1-1-2 2 1 1-3 1 3 2-2 2-1-3 1-1 1-1 0 2 1-3 0 2 2-2 0 1-1-1-1 2 1-2 1 0-2 2-1-2 2 2 0-2 2 1-2 3-1-2-1 1 3 0-3-2 1 1 0 0 2-1-3-1 3 1 0 0-1-1 2 1 0 0-1-1-3 2 2-2-2 3-1 1 2 0-2-2-1-1 2-1 1-3-1-1-2-1 2-2 1 2-2-2 1 1 1 0 3 0-2 0 2-1 0 1-2 0 2 0-2-3 0-3 0 1 2-2-3-2 1 0-3 1-1-1 1-1 0 1 2 2 0 2 0 1-1 1-2 2 1 0-2 2 0 0 1 2 0 0-1 2-2 1 0 2 0 1 3 1-3 2-1 3 2 2-1 2 3 1 1 0 1 0 3-1-2 0 2-1-2 3 0-3-1 1 3 1-1-1-2-1 2 2-1-2-1 1 0-2 2 3 0-1-3 2 3-2-3 3 1-2 1-2 1-1-3 1 3-2-3-1 1-1 0-2 2-1-2 1-2 1 1 1-2 1-2 1-1 1 3 2 2 3 0-1-2 0 3 2-1 1 2 2-2-1-1-1 0-1 3-1 0 1 1 2 1 1 1 2 1 1-1 1-3-2 1 2 0-3-1 0 2 1 0-1 1 0-2 2-2-2 2 3-1-1 2-1 0 1 1-1-1 1-1 0 2-2-1 1 2 2-3-3 1 1 1 1-3 1 2-2 2 1-1-2-1 2 1 0-1-1 1 1-2-1 3 1-2-1 1 0-1 2 1-2 0 3-1 1-2-3-1 0-3 3 0-2-3 0 2-3-3-2 0 3 0 0-2-2-2-2 1-1-3 1-1 2 0 1 1 1 2-1 0-2-1 2 0-1 2 0-1 1 1 0 3 3 1 1 0 0-3-1-2 1 1 1-1-3-1 0 2 0 2 3 1 1-1-2-2-2 0 2 1 0 2-2-2 0 3-3 1-1-3 1 2 1 2 3 0 0-1-2-1 2 2-1-3-1 1 1 1 1 0-2-1 0 3 1 0 2-2-2-1 0 3 0-1 2-2-1 2-3-1 1 1 3-2-3 1 1 1 2-1-2 0 2 2 0-1 2 2 0-3 3 0 2 1 2 1 1 0-2-1-1 2-1 1 0-2 0 1-1 1 1-2-2-2-1-1-1-1 1 1-2 0 2 1 0 2 3 1 0-1 2-3-2-2 0-3-1-2 3 0-1 2-2-1 1 1 0-2-3-1-1 3 2 0-2 1-2 0-1 2 2-1 0-2 2-2-2 1 3-2 0 1-1 1 2 0 1 3-1 3 1-2-1-1 2 2-3-1 2-1-2 2 2-1-3 1 3 2 1-3-2 1 1-3-2 2 2 2 0-2-2 0 1 3-1-2 1 0 0-2 1 3-2-2-1-1-1-1 1 2 2 2 1-1 2 0-1-2-2-2-1 1 0-3 2-1 1-3 2-2-2 0-1-1-1 3 3-1 1 0 1 0-1 0-1-2-1 1 2-1-1-2-2 2 1 0 2-2 1 2-2 2 1-2-3 0-1 3 0-2 2-2-1 2-1-1-1 0 2 0 0 2 2 1-2-2-1 1-2-3 2-2 1 1 0-1 0 3 0-1-1-3 1 2 1-3-1 1-1 1-1-2 1 1-2 2 2 1-1-1 3-1-1 0-2-1 3 1-2 1 1-2 0 3-1-3 0 2 0-2 2 3-2-2-1 1 1 0 2 0 1-1-1-3-2-1 1-2 0-3-2 0-2 0-2 2-2-2-3 0-2-1 1-1 2-1 0-2 1 1 3 2-2 1 2-2-2-1-3 1-1-1-1-1 1-3 1 3-1 1 2-1-2 1 1 2 3 1 2 0 0 2 2 0 0 2-1-1 3-1-1 0-2 1 2-2-3 1 1-3-3 2 1-3-1 3 0-1 2-1-2 3 0-2 2 0 0-2 2 2-3-1-1 1 2 3 0-4 0 4 1-3-2 0 1 2 0-2-2 0 1 1 2 0-2-1 3-1-2 1-1 0 2 2-1-3 1-1-2-1 1-3-1 3-1 1 1 2 0-3 0 2-3-1 1-2-1-1 2 2-1-2-2 2-1-1-2 1-1-1-1 0 1 2 2 0 2 0 0 2 2 0-1 0 1 2-3 0-1-1-2-2 2 1 0-1 2-1 2 1-1-2 1-1-1 2 0 2-2 1 2-3-3 2-1 2-2-1-1 1 1-1 2 1 1-1-2 1-1-1 2 0 3-1-1-3-1 2-2 0 2-1 0 3 0-2-1 2 2-2-1 1-1 0 1-2-1 2 2-1-2-1 2 2-3-2 1 2 1-3-1 3 2-1 3 0 2-1-2 1-2 1 1 2-1-1 3 2-2-2 0 1 3 0-1 0-1 1-1-1 1 2 0-3 2 3 1 1 0 1 2 1 2 0-2 0 0 4-1-2-2-1 0 2-2 1-3-1-3 0 2-1-1-3-2 1 1 1 1-1 2-1 1 2-3 0 3 0-1-1 0 1-3 0 1 2 1-2 1 2-1-1 1 2-1-3-1 1-2 1-1 1 2-1-1 3 3-2-2 0-2 2 1-1 0-2 2 1-3 0 1-3 1 3-3-1 3 0-3 2 3 0-2-1 2 0-2-1 2 2-2-2 2 2 2 2 0-2-4 0-1 0 2-1-2 1-2 1 0 2-1-1 0-1-2 1 1-1-1-3-1-1-1-2-3 0-2 1 2 1 1-2 1 0 0 1-2-1 1-1 3-1 3 1-1 3-3-2 1 2-2 1 2 0-2-1 2 0 1-2 2 1-1 3 1 1 1 1 1-2 2-2 2 3-1 1 2 1 1 3 2 1 0 3-2 0-2 1-2-1-1-1 0 1-3 1 1 0 2-2 0 2-1-2 1 3-1-2 0 2-1-2 2 1-2-1 3 0-2 0 0 2 1-2-3 2 2-1 2-2 0 2-2 1-1 1 1-1 1-1 2 1 0 3 0-2 0 2 0-1 2 1 2 1 0 1 1 3-2-1-1-1-2-1-2-1 1-2 0-2-2 0-2 2 1 1-1 2-1 0-2-2-2-1-2 0-3 0 2 1-1-2-1 1-2 0 2 0 3 0-3 2-2 0 1-1 1-2 1-1-2 0 2-1-1-3-2-2 1-1 1-1 1 1-3-1 1-2 3 0 1 1 0-1-2 2 0-2 1 3-1-2 1-1-2 0 2 2 0-3 0 3-2-1 1-1 2 1-2 0 0-2 1 3 0-1-1-1 2 0-2 2-1-3 0-2 3 1-1 1-1 2 1 1 0-3 2 0 0 1 0-2-3 0 0 1-3 1 0 1 1-3-1 1 2 2 1 0-2-1-2 1-1 2-3 0 0 1 3 0 1 1 2 2-1 0 0 1 2-1 1 1 1-1-1-1-1 0 3 0-2 0 1 2-1-1 0-2 0-1 0-3-1 2 2 0 1-3 1-3 0-2-1 3-1-1-1 1-2 1-1 1-1-1-2 0-2 3-2-2-1 2 1-2 1 1 1 3-2-1 0-2 0 2 0-3 2 2-2-2-1 3 2-2-2 2 2-1-1-3 0 1 0 1 2 1-3 1-2 2 0-2 2 0 2 1-1 0-3 2-2 1 2 1 3 1 0 3-3 0 2-2 0-1-2-3 3 2 0-2-1 1 0 3-1 2 0 3-1-1 2 0 2 1 1 2 2-2-2 1-2 1-2-2 2-1-3-1 0 2 2-3 3 1-2 0 0-1 0-1-1-3-2 1 2 2 0-2 3 2 2 2-2-1 1-2 1 1 0-1 0-3-1 3 1-1 1 0-2 2 0-2 0 1 2-3-1 2-1 1 1-3 2 2-1 0-2 1 2-2 0 3 0-2-1 0 0 2 0-2 3-1-3 0 0-1-1-2 0-1 2-1 2 0-2 0-1-1-1 3 2 0 2 2-1-1 0-2-1-1 2-1-1 2-1 1-3 0-2-1 2 1 3 0 1 1-1-2 1 1-2 3 2 0-2-2-1-1-1-1-2-1-2 0-2-1 2-2 2 1-1 0 0 2 1-1 0 2-2 1 0-3-2-2 1-1 0-1-1-2-2 0 0-1-1 1-1-1-2 0-1 3 2 1 0-2-1 1 1-2-2 2 1-2 2 1-3 0 2 1 0-2-1 3 0-2 0 2 0-3 2 2-2-1 2 2-1-1-1-1 2 1 2 1-2 1 0 2 2-1-1 3 1-2 1 0-1-1 3-1 1-1 0-2 1 1 2 0 3 2-2 1 2-1 1 1-1 2 1-1-3 0-2-2-3-1 3 0 1-1 0 1-2-1 3 0 3 0-2-1-2 1 3-1 0-1 1 0 1-1-3 1 1-1-1 0-1-3 0-1 2 1 1 3 0-3-1 2-2-1 3-2-2 0 0-2-1-1-3 0-1-2-2-2-3 0-3 1 0 1 0 1-2 3 1-2-2 0 2 1-1 0-1-1 2 0-1-1-2 1 1 1 0-2 1 2-1-2 1 2-1-2 3 1-2 0 2-1 2 1-1-2 1-1-2 2 1 0 1-1 0 2 0-3 2 1 0 2 0 2-2 1-1 1 0 3-1 2 1 1-1 1 1-2 1-1 3 0-2-1 1-1 1-1 0-2 2 0 2-3-1 2-2 0-2 1 0-2 0-1 2-2 1-1 1 2-3 0 1-1 2-3 3 1-1-1-1-1-3 0-2 0 0 1-1 3 2 0 2-1-1 2 0-2 0 2-1-2 2 0-1 2 1-2-2 1 2 0-1-2 2 3-2 0 1-2-2 2 1-1 2-2-2 1 1 2 0-1-1-1 1 2 0-1 2-1 2 2-2 0 0 3 0-2-1-3 3 0-3-1-3-2 0 2-3 2 3 0 1 1-1 1 2 0 1-2 2 0 0-1-1-1-1-2 2-1 2 3 0 3 0-2 0 3 3 0-3 0 2 0 1-1-2 0-2-2 2 0 1 2 2 1-3-1-1 2 0-2-2-3-2 0-2 0 0-1 1 2 3-1-2-2 2-3 1 1 2 2 2-2-3 2 2-1-2 0 2-1-1-1-1 0 2 1-2 0 0-1 3 0-2 0-2 3 1-3 0 2 1-1-2 0 3-2-2 1 2 1-3 1 3-1-2-2-2-2 2-1 1 2-2-1 1 1 1 1 2-1-1 0 1 0 2 3 2 0-1 2 2 3-1-3 1-2-2-1-2 1-1-1-3 0 0-2 1 3 1-2 2 0 1 2 2 0 1-3 2 0 0-3 0-3-1 3-1 0-3 0 2-2-3 1 3 0-2-1 2 1 3 1-1 1 1 3-1-1-1-2-1-1 1 2 1 1 3-1-2 2 2-2-3 1 2-2-1 1 0-3-2 3 3 0-3-1 2 0-2 1 0-2 2 0-2 3 1-2 2 2 0-3-2 3 1-2 0 1 0-2 0 1-2-1-1 2-3 1 1 0 2 1 1-1-3-2 1 0-3 2-1 0 0 2-2 2 2 2 0-3-2 2-2 1 2 2 2-1 2 0-2-1 2 0 0 3 3-1 0 4-3 0 1-1 2 0 2-2 1 1 2 0 2 2 2 1 0-1-3 1 0-1-1-3 0 2 0-2 1-1 1-2 1-2 3-2 1-1 2-2 1-2 1-1 1 3 0-2-2-2 2 2-2-1 2 1-3 0-1 2 1-1 3 0-2-1-1 1 1-1-2 1 2 1-1-2 2 2-2-1 2 1-1-1 1-1-1 1-2 1 2-2-1 3-1-1 1 2 2-1 0-1 1-1 3-1 1 1-1 2 1 2 2 1-2-1 3-1 1-2-2 0-2 0 0 3 1-3-1-1 3 1 2-2-1 1 1 1 1-2-2 3 2 0 1 2 0-2-3 0 0 1 0 2 1 3 0-2-3 2-3 0 2-1 1-2 1 2 3 1-2-2 3 1-1-2 2 0 2 0 1-1 2-2 0-3-1 2 0-3-2-1 3 2-1 2 2-2-3 1 1-2 0 3-1-2 3 0-3-1 2 2-3 0 1 0-1-3 1 1-1 1 1 1 1-3-1 2 0-1 2 2-1-2 0-1-1 0-2-2 0 1 2-1-1 2 0-3-1 2 1 1-1 0-3-2 1-1 1 1-2-2 0 3 0 1-1-3-1 3 0-2-1-2-1 3 1-2 0-3 1-1 1 2 1 1 1 2 2 0 0-1 1-2 1 1 2-1 0-2 0-1 2 2-1 2-2-2-2 0-1-1 3 0 1 2 0 1 0-1-1-1-1 2-2 2-1-1 1-3-3-1 2-2 1-1 2 2 0-3-2 0 1 3 0-3 1 3-3 1 2-1-2-1 1 1 0-3 1 3-3-2 3 0-1 3 0-3 0 1 2 0-1 0 0 2 0-2-2 1 0 2 2-2 1 0-2 0-2 0 2 1 1 1-1 3 0-2 1-3-2 1 1 0-1 2 1-1-1-2 0 2 3 0-2 0 2-2 1 2 0 2 0 2-1 1-2-2 3-1 0 2 3-1 1-2-1 2-1-2-2-1-3 1-1 0-1 2 0-1-2-1-3 0-1-1 2 0 1 0-1-2-1-2 1-3 0-2 2-2 1-1 2 0-2 2 2-1 1 0-1 2-1-1 2 2-2-1 0-2 1 1 2 1-3-1 2-1-1 1-1-1 2 1-3 0 1-1 1 2 1-2-1 2 1 2 0-2-2 0 0 3 0-2-2 3-2 1-2 0 1-1 2-2-2-2-2 1-2-2 0 1 1-2-2 2 2 1-1 3 1-1 1 0 0-2-1-1 0 1-1-1-1 1 3 0 2-1 2-1 0 1 2-2 0 2-2-3 1 2 0-3 1 1 0 1-2-1 2 2 3-1 2 2 1-1 1-1 1-3 1 1 0 2 1-2 1-1 0 1 1 0 3 0 0-1 1 3 1-2-2 1 0-3 2 0-1 2 1-3-2 1 1 2 1-2-3 2 2 0 0-1 1 2 0-3-2 2 1-1 0 1-1-1-2 0-2 1-1-2 2-2 2-2-1 2-1-1 0 2-1 1 2 2-1-2-1 1 1-3 2 1-1 0-1 2 2 0 3 0 0 1 0 1-2-2 3 1 1-1 0 1 0 2-1-3 0 2-2 3 2 3 0 3 0-3 0 1-2-2 1 1 0 2 1 1 0 1 0 3-3-1-2 2 1-2-1 1-1 2-1-3 2 1 1 0 2 1 1-2 0 2-2 1 0-1 0-3-2-1 2 2-2 0 0 1-1-2 2 3 0-3-2 2 2-2-2 3 0-3 2 1-2 0 2 1-2-3 1 3 2-2-2 1 0-2-2-1-2 0 2-1-2 0 1 1-3 1-1 2 0-2 2 0 2-1-1-2 2-2 2 0 1 0 3 0 0 2-1 4-1 0 0 2-1 1-3-2-2 3 1 1-2 1 0 3 0 2 1-1-3 2 3 1 2 1-1-3 0-1-2-2 1-1-1-1 2 1 2-1 1 2 1 0-1-1 2 0 2-1-2 0-2 2-2 1 3 0 2 1 2 1-2 0 2 1-3 1 2 1 2-2-1 0-2 2 1-2-1 0 2 0-1 1-1-1 1 1 0-3 1 1-1 1 1 2-1-3 1 2-3 0 2 0 3-1-2 2 0-3 0 1-1-3 0 3 0-3-1 2 2-1 2 1 0 1-2 3 1-1-1 0-3 2-2-2 2 1 2 1 1 2 0 1 0-2 0 2-1-1-3 2-1 3 2 1-2 1 1-1-1 2 1 1 1-1 2 1 2 2 2-1-2-2 2-2 0 2 1-1-1-2-2 1-2 0 1-1 3 3 0 1-1-2 2 1 1 0 2 0 3-1-1-2-2-1-1-2 2-1 1-3 1-3-1 3 0-2-2 2 0-2 1 0-1 0 1 2-2-2 1 1 1-1-3-1 1 2 1-1-1-1 2 2-3 0 1-3-1 3 0 2-2 2 0-1-2-1-2-1-2 1 2 1-2 2 1 0 0 2-1-2-3 2-1-2-2 1 0 1-1-1 0-2 2 2-2 1-1-1 2-1 3 0 2-2-1 3-1 2-2-1 2 0-3 1 1 0 0-1 1 1-2 0 0 1 2 0 2 0-1 0 0 1-1 1 1-1 1 2 2 1 1 2 3 0 2-1 3 1 1-1 3 0 2-1-1-1 0-3 2-1 3-2 1-3 2-1 1-2-2 0 1-3-1-3-1 0-1 1 1-2 0 3 0-2-1 3 1-2 0-1 1 0 2 1 3 0 1 2 0-1 0 1-1 2 1-1-2 1-3 1-1 3-1 2-2 0 2 1-2 1 2 0 2 1 0 2 2 2 2-1-2-3 2 2 3 0 0 2 3 0 0 2-1-2 1 0-1 1 1 2-1-2 1-1 0 3-2 0-1-1-1 1 2 0 1 1-1-1 1 1 0-4-1 1-2-2 1-2 0-3 2-1-3 0-1-2-3 1-2 1 0-3-2-1 0-3-3-1 0-1-3 0 1-3-2 0 1-2 0-3-2 0-2 0 1-1-3-1 3 1-2 0 3 0-2 1 2-3-1 3-1-1-2 1-2-2-2 0-2-1 0 2 2 1 3 1 0 2 1-2 0-2-2 1 1 0 2 2-3 1 2 2 2-2-1 0 0-1 0 2 2 1-1 2-1-2 1-2-1-1-2-1 1-3 2 1-3 0-1 2-2 1 1 0 2-2 0 1-2 0-2 2-1 0 1 2 0 1-2 0 1 2-3 0-1 2 2 1-3 2-2 0-2 1 1 2 0 1 1-1 2-2 1 1-3 2 1-2 1 2-1 1-1-3 2 1-2 0 2 3 1-3-4-1 3 2-2 1 1-3 1 2-3 0 3 0-2 0 1-1 1 1-2-2 0 2 1-2-2-2 0 2 2 0 0-3-3-1 1 2 1 1 0 2-3 1-2-3-2 2 1-1 0-2-3 1-3-1-1-1-3 0 3 0 0 2-2 3 1 2 2 0-2 2-1 0 0 2 2-2 2-1 1-1-1 3-1-1-1-2 0 1 0 1 0-2-3 0 2-1-3 2 1 2 2-1 2 1-1-2 1 0-1 1 0 2 1-2 1 1 1-3 1-1 2 3 1 1 1 0 2 2 2-1 2-2 2 0 2-1 3 1 2 2 2 1 2-2 2-1-2 0 2 1-2 0 1 1 0-1-1 1-2 0 2-2 2 1 1 0 0-3 2 1-1-1 2-1 1-1-1 0 3-1-2-1 1 1 2 1 1 0 2 2-2 2 1 0 3 1-2 0 3-1-3 1 3-1-1-1 0 1-1 2 1-2 1 3 1-1 0-2 2 3 3 1-1 1-2 1-1 0-2 1-2 0 0 3 1-3-2-2-2 0 2-1-1-1 0-3-1 1-1 0 0 1 0-3-1 2-2 2 2-1 0-2-1 1-2 1 2-1-2-1 3 0-3 0 0 1 2-2 0 3 0-2-1 0 0 3-2-2 2-1 0 2 0-2-1 2 0-1-2-1 2 0 1-1 1 1-3-1-1-2-2-2 1-1 2 0 2 3 0-3 0 3 1-2 0-3 1 0 1-2 3 0 2 1-2 0 0-1 2-2 1 1-1-1-1 2 2-2-1-1-3 1 0-2-2-1 0 3 1-2 1-1-2 0 0 2 2 1-1 3 1 1 2 2-2 0 0 3-2 2 2 3 1 1-2 2-2 2 1-3-1-1-1 2-1-1-1 0-3 0-2 1 0 2-2 1-1 1 2-2-1 2 1 1-1-2 0 1 3 1-3-1 2 0-2 2 0-2 2 3-2-2 0-1 0 1 2-2-2-2-2 0 1-1-2-1 2 1-1-1-3 0-1 0-1-1-2 1-1 1-1-3 1 2 1-2-1 0-2 0-1 3-2 1 1 3 0-2-1 1-2 0-2 1 1-2 1-1-1-3 2 3-2-1-1 1-2 0 2 1 0 2 0-1 2 0-1 1 3 1-1-2 1-1 2-2-1 2-2 1 2 0 2 2 2-1 3 0 1 1-2 0 1-1-1 2 1 0-3 0 0-1 2 1-2-2 1 2 2-3-2 2 2 1-2-1 2 1-2-1 3-1-2 2 1-1-2 1 2-2 0 2 0-1-3-1 2 0 1 1 0-1 1 1-2 1 0 1 0 2 1 0 1 2-1-1-2-1-2 3 1-3-2 1-1-1 1 1-2 0 1 1-2 1-1-2 0-2 0 3-1 2 1-2 2-2 2 2 1-2-2-1-2-3-2 2 0 1 0 2 2-3 1-2-2 0 0-3 2-1 2 0 2 1 1 0 1-1-3 1-2 1 3 0 1-3 0 2-1 1 0 2 2-1 0 3 2 2 0 2 0 3 2-2 2 0-1 2 1 0 3 1-1 0-2 2 2-2-1 3 1-3-1 2 0-3 1 2-3-2 2 2-2-1 2 1-1 0-3-1 2 0 1 0 1 2 3-2 2 1 2 1-2-1-2-1 2-1 1-2-2-2 1-3 1-1 0 1 0 2 1-1-1 2 3 1 1-2 2 1-1-3 1 1 3-2-1-3-1 1 1 1 1 2-3 1 3-2-3-1 0 1 2 1 0 2-1-2-1 1 0 3 1 2-1 2 0 1 2 2-2-1-2 2 0 1 1 1-1-1 2 0-3-1 1-1 1 2 1-3-3 1 0 1 1 1 3-1-1 2 0-1-3 0 2 0-2-1 2 2 1-3-2 2 2-2-2 2 1-1 1 1-2-1 3 2-1-2 0-1-1 1 2-1 1 1-2 1 0 2 1-2-1 1-2 1 0-1 2 0 2-3 1-2 0 1 1 3 0-1 1 1 1-1 0-3 3 2-1-2-1 2 0 2-2-1-2-2 1 0 0 2-2 2 1-3-2 2 3-2-3 2 2 3 3-1-1-1-1-3 1-1-1-1-3 0 0-1 2 1-2 1 0-3 1 0 1-1-1 3 2-1 3 0-2-1 2 2-1-3-1 1-1 1 2 1-2 1 1-2 1 1-1 1 0-2-1 1 2 1 0-2-3 2 4-1-3 1 0-1 3-1-3-1 1 2 2-1 3 2-1 1 1 0-1 0-1-2 1-2-3 2 3 1-3 0-2-3-2-1-2 2 0-3 1 2-1-1 2 1 3 1-1-1 0 2 2-1 1 0 0 2 3 1-3 0 0 1 1 1-1-1 2-2 0-1 3 0-1-2-2 2 1 2-1 1-3 2 1 3 3 0 2-2 1 3 0-1-2 0 3 1-1-2-2 2-2 0 2 0-1-1-2-1-2-2-2-2 2-2 0-2 1-2 0-2 0-1-1 2 1-1-1-1-1 2 0-1 1-2 1 3-1-3-1 1 2 0-2 1 0-3 1 2-2 0 2 1 2-2 0 2-3 0 0-2 2 0-2-1-2 0 0 2-2-2 2-1 0 2-1 3 2-1-1-3-1 2-1 0 1 1 1-2 4-1 2 1 1 2 2 0 0-2 0-2 2-3 1 2-1 1 0 2 1 1 0-2-2-2-3 2 2 0-1 0-2-1 2 1 0-2 2 0 1 2-2 0-1-2 1 2-1 1 1 0-2-2 2 0 1 0 1 1 0-3-2 1-2 2 2-2 0 1 2 1-2-1 1 2-2-2 1 2 2-3-1 3 0-2 0 2-2-1 3-1-1 1-1-2 1 3-2-2 2-1-3 2 2 0 3-1-1-1-3 1-1 1-2-1-1-3 0-2 2-2 2-1 0-2 1-1-1 2 2 2-1 1-2-2 0 1-1 3 2 2 1 1 3 0 2 1 1-1 1 1 0-2-1-3-1 2 2 0 2 0-2-3-2-1 3 0 1-2-3 2-1-2-1 2-3-1 2-1-2-1 0-1-1-2 1-1-3-1 3-1-2 1 2 3-2-2 2 3 0-3-2 2 2-1-2 1 0-2-2 2 2 0-1-1 2 1-2-2 1 2 1-3-1 1 0 1 0-1-1 1 3 1-1-2-1 3 0-1-1-1 1 0-1-2-2 1-2 1-1 3 1 0 0 3 1-2-1-2 0-1 2 1 2-2 2 1 0 1 1-1-1 3-1 0 3 1 1 2 2 1-2-1-1 1 0-2 0 1 2 0-2 2 1 1-2-1 2 1 0-2-3 0 2 1 2-2-1 1-1-1-3 1 2 2 1-1 3 1-3-1-1-1 1-3 1 1 2 1 2 1-3 0 1 1-2 2 1 1 2-1 2 3-1 3 0 2 1 1 1 2 2 0 0-2 2 0-1 0 0 2 0-2 2 3-1-2-3-2 3 1-1 2 0-3-1 2 2-1-2 1 1 0 1-2 2-1-3-1-1 2 2 0 1 1 0-1 0-2-2 0-1-2-2-1 1 1 2-2 2 2-2-1 0-2-2-1-2-1 1 2-1 1 1-1-2-1-2 1 0 1-1 0 2-2-2 0-1 3 0 1 0 2 0 2 2-1 1-2-3 0-1 2 2-2 1 1-1 0-2 1 2 1 1 2-2 2-2 1 1 2-1 0-2-2 3 0 0 1 1 2-3-1 0 2-2 2-1 1 0 2-1 2-2-1 0 2-3-1-1 0 3 2-3 0 3 0-2-1 1 2-1-2-2 2 3-1-1 0 0-1 0 1 2-1-2-1-3 0-2 2 1 2 1 1-2 3-2-2-2-1-1 3-3-1 2-1-1-2 1-1 2-1-1 1-1 2-2-1 1 2-1 1 0-1 0 1-1-1-3 0-1 2 2-2-1 2 1-1-1-1 0-1-1-2 2-1 1-1-2 1 3-1 2-1 2 0-2 1-1 1 0 2-1 0-1 2 0 1-1 1-1 1-1 1 1-1 1 0 0 1 1-1 0 1 2 0 3 0 0 1-1-1-3 1 2-2 1 2-1-1 2 1-1 1 0-2-1 0 2 1-1 1 1-3-1 3 0-3-1 2 2-2 0-1-2 0 0-3 2 2-2-1 0 2 0 2-1 1 1-1 2 0 0-3 2 1 0 1-2-1 0-1-3-2 3 1 2 2 1 1 2 1-1-2 1 0-1-1 1 2 2 0-1-2 0 3-2 1-1 0-2 0 1-2-2 1 0-2 2-1-1-3 1-1 0-2 3 0 2-3-2-1 2-2-1-1-1 0-1 2 0 2 1 3-2 1-3-2-2-1-2 3-1 0-2-1 1 1-1-2-2 1 2 1-2 0 1-3 2 2-2-1 0 2 1-1-1 3 0-2 3 0-1 0-3-2 2 2-1-2 1 3-3-2-1 1 3 0-2 3 2-2-1-2 1-2 0 1-2 1-1 2 1-2 0-2 2 0 1 2-2-1 2-2-1-1 1 0 0 2-3 1-1-2-3 1 0-3-1 1-3-1 2 2-2 1 1 1 1 0-1 0-2 1 2 0 1 1 2 2-2-2-1 2 0 2 2 0 0 3 3 0 1 1 1-3-2 2 2 0 3 1 1 0-2 2-3-1-1-2-2 0 2-2-1-1-3 0 1 0 0-2-1 0 1 2 1-2-1 0-1 1 2-2-1 3-1-2 2 1-2-2 2 1-3-1 2 0 1 2 0-1 0 1-1-1-2 0 2 0 1 0-1-2 2 0-1-1-2 0 1 2 0-2 2-1-2 0 1-1 3 0 1-1-2 0-2 3 0-2-2-2 2 1-2 2-1 0 0-1-2 2 1 1 2-1 1 1-1 1 3 1 1 1-1-1-2 0-3-1-2 2 0-2 3 0 3-1 1-1-2-1 1 0 3 0-1 2-1 0-1 3-2 3 2 0-2 0-1 2-1 2 3-1 2 1-2 3 2 1-3 0 1-2-1 3 2-3 0 2-1-2 2 0-2 2 2-2-1 1-2 2 1-1 1-1-2-1 3 1-2 1-1 0 2 0-2 2-3-1 2 0 2 2 1 3 3 0-3-2 0-2 2 2 1-3-2-2 1 0-1 3-3-1-1 0-1 1 2 1 1-3 1 0-2-1-3 1-1 1 0-2-2-2 1-3-1 1-1 2 2 2 1-1-2-2 0-3 0-2 2 2-2-1-1 3 2 0 1-2 0 2-1 0 0 1-1-1 1 2-3 2 1-1-2 1-1 0-3 0 1-2 1-3-2 2 1 1 3 0-2 0 1-1-1 1 0-2 2 2-1-1-2 0 2 0-2 0 1 1 0-2-1 2 1-2 1 2-3-2 2 2 0 1-4 1 0 1-1-1-1 1 2-2 2-1-1-1 1-2-2-1 2-2-1 2-1 2 2-1-3-1 2 0 0 2 3 1-1-1 2-2-1 2-2 0 1-1-1-3 2 2 3 1 0 1 1 2 0-1-2 1 1-3 1-3 1 3 0 3 1 1-2 0-2 2 3-1-2 1 1 3-2 0-2 1-2 0 2-1-2 0 2 2-3 2 2 2 1 0-1-2 0-3-1 3 3-1-3-1 3 0-1 1-2-2 0 1 0 2 1-2 1 2-1 0-2 0 1 0 3-1-2 0-2 2 1-1 3-1-2 2-2-2 1 1-1-2-1 2 0-2-2-2 3 1-2 1 2-1 1 1-2 2 2 2-1-2-1-1 2 1-3 0-1 2-1 2 2 1-2 1-1-1-3 2 1 1-2 1 1 1-2 0-2-1 2-3-2 1 2-2 1-1-2-2-3 0-1 0-2 1 1 2 0 1 1-3-1 2 1-2 1-1 1-1-1 2-1 1 0-3 3 1-1 2 1-1 3-2 2 2-2 1-2-1 0 4 1 0-1-3 1-1 0 2 3 0-2-2 1 2-2 0 1-1-2 2 3-1-3 0 2-2 1 3-2-1 1-2 0 2-2-1 2 0-2-1 1-1-1-1-2-2 2-2 3-2-3 0 2 1-1-2-2 0 0-2-2 3-2 0 2 2-2 1-2 0-2 2 0 1-1 1-2-1 1 2 1 0 3 0-2 1 0-3 0-1 0 1 1-3-2 0-1 0 1-1-1 0 1-2-2-1 1 4 1 0 1 3 0 1 1 2 1-3-1 2-1 2-2 1-3 0 1-2 0-1 2-2-3 1 1 2 2-1-3 0 2 2 0-2 3 1-2-1-1 2 1-1-3 1 2 0 0-1 1-2 0 1-2 2 1-3 0 3 2-2-2 2 1-1 1-1 2 2-2 0-1 0 3 1-1-1 1 1-1-1 1-2 0-1-2-2-2 1 2-1 1-2-1-3 1 1 1 1 2-1 0-3-2 2 2 0 0-2 2 1-2 0-2-2 0-1-2 0-1-2-1-1-2-2 2 2 1 0 1 0 2 0-1 1-1-1 2 0 2 2 2 1 2-1 0 3 3-1-2-1 1-3 2 3 1 1-3-2 2 0 0 3 1-2-1-1-2 2 0-1 3 1-2-1 2 2 0-3-2 2 2-1-3-2 0 2 2-1-1 3-1-2 2-1 0 2-2-1 3 0-3-1 2 1 2-1-2 2 2-1-1 1-1 0 2 1-1 1 1 2 0 3 2-2-3 1-3-1-2-1-2-1-3-1-2 1-1-3 1 2-1-2-2-1-1 2 1 0 1 2 1 3 0-3 0-3 3 0-2-1 0-2 1 1 2 0-1-3 0 1-3 0 2 1 1-2 2-2-1-1-1-2 2 2-2 1-1 0 2-1 1-2 2 0 1-2-2-2-2 0-1-2 1-1-1-2 1-3-2-2-1-3 1-2 2-1-2-3 0-1 0-2 1-3 1-2-2-2-1-1 0-3 0-3 0 3-2-1 3-1-2 3 1-2-1-1 1 0 1 3-1 0-3-1 0 2-2 0 1-1 3-1 0 1-2 1-2 1 0 1 1 3 1-3 0 2 2 0 0-2-3 0 1 0 2-1-1-3 2 1 2 1 1-3 2 0-3 1 1 2 0 2 0-1 1 1-3-1 1 1 2 0 0 2 2 2-3 1 0 1-1 2-1 0 1 1 1 2-2 0-2 1-1 0-2-2 0-2-2 1-3 1-2-2-1 3-1-1-2 1-1-1-2 2-2-1-2 1-1 3-3 1-2 1-1-2-2 1 1-2 1 1-3 0 2 0 2-3-1 3-3 1 1-1M1073 501l-2-1 2-2 1-1 2-1-1 2-1 1-1-1 3 0 0-3 0 2 0-2-2 3 1-2 1 0 0-2 0 2-3-2-3-1 2 1-1-2 2 1 0-1-1 1 1-2-1-2-2 0-1-3 2 0 3 3 2 0 1 1 2-1 2-1 0-1 2-1 3-1-2-1-2 2 2 0 0 3 1 0 2 2-2 1 2-3-3 0 2 2-1-1 1 2 2-2-3-1 0 1 0 2 1 1 1-1 0 1-3 2-2 1-2 1 3 0 0-1 2 1-3 0 0 3 2 1 2-3 0 3-1 2-1-2 3 2-2 0 0-2 1 2-3 0 0 1-2 2 3-2-1 3 2 2-3 1 3 2-2 2 0 1 3-2 3 2-3 1-3 0-2-1-2-1 2-2 1-1 1-3-1 1-2-2 3 0-1 2-1 0-3-1 2 2 0 3-1-1 2-1 3 2-2 2 1-1-1 2-2-2 1-2 0 1 0 2 2 2 1-1-2-2 0-1 1-3 2 3 3 0 2-1 2-1 1 1 2-1 0-1 2 2 1 1 2-2 1 1 3-1 0 3 1-2 0-2-1-3 1 1-1-2-3-1 1 0 2 1-1 1-1 0 1 2 2 2-2-1-1 0 3-1-3 2 1-2 2-3 0 2 1-1-2-2-1-2 1-3-1-3 2-1 2-2-2 1 1-1 0 1 0 3-1 0-2-1 0 3-1-2-1-1-2 0-1 1 0 2-2 0 3-2-1 0 2 2 1 2-1-3-3-1 2 0-1 2 0 2 1 1-3-1 1 0 3 0-2-2-2 1-1-3 2-1 1-3-1-2 2-3 1 3-2-2 0 3 1-3-1 3-1-2 1 0 2 0-1 2-2-1-1 2 0-3-2 1-3 2 2 0 2 1 1 1-1-1 1 1-3 2 2 2 2-2 1-1 3 0 2-1 2 0 0 1 1 2 2 1-1-1 0 1 0 2 3 0 1 1-2 1-2 0 1-3 1 2 0-1 1 2 1 1-3-1-3 0-2-1-3-1-1-1-2-1 2 3 0 1-3 1-1 2 0 3 0 2 0 2 1 0-1-1 1 2-3 0 0 3 2 1-2-2-1 2 2 0 3-2 2 1 2 0-1 3-1-2 1 3-3-1 2 2-1 2-1 1 0 3-1-2 2 0 0 2-1-2 1-1-1 1 1 0 1 2-2-2 3 1 0-1 1 2-2 0-1-1-2-1 1 1-2 3-2 1-1 2 0-2-3-1 0 2 2-2-1 0 0 3-1-1 0-3 0 2-1 3 3 0-1-1 0-3 1 1-1 1-2 0 1 3-2 1-3 0-2-1 1 2-2 2-3-1 2 3 1-1 1-2-3 0 3 0-2 0 2-1-2 0 3 1-2 0 1-1 1 1 2 0-1 3-1 1 3 1-1 2 0 2 2 0-2-1-3-1 1 3 0-1 1-1 2 1 1-2-1-1 0 1-3 1 2 0-1 2 0-1 2 1-2-1-1-1 2-2 1-2 1 0-1 1-3-1-1 1 2 2 0-3 1 0 1 2-3 1 0 3 2-1 0-1 1 1 1 1 2-1 2-2 1-1-1-1 1 2-1-1 2-2 0-2-3 2 0-2-3-1 2 0-1-2 0-2 0 2-2-2 0 2 2-1-2-3-1-1-1-1-2 0 0-2-2-1 0-4-2 0-1 2 2 0-1 0-2-2 2 1 1-2-1 2 1 1 1-1 2 3 1-1 0-2-1-1 0-1 2 0-1-2-1-2 1 0 0-2-2-3-3-1 1-2-1-2-1 0-1-2-1-1-3-1-1-2 2-3M1085 559l0-2-1 1 0 2-2 2 2-1-1-1-1-2 0 2 1-2 0-2 2-1-2 0 2 0 2 2 2 0-2 1 0 2-3 1-1-1 2 1 2-3-1-1 3 1 1 3-1 1 2 1 1 2 2 3-1 1 0 1 0 3-1-2 0 1 3-1-1-2 1 3 2-1-3-2-1 2 2-2 0-1-3 0 1-2-1-1-1-3-1-2-1-2 1 2-1 2-1 2 3-1-2 2-1-1 2 1-1 3-1 0 2-2-2-1-3 0 1 2 2-2-2 0 1 0 2 2-3 0 1-3 1 1-4 1 3-1 2 2-1-1-2-2 0 2 1-1 0 1 2-1-2 1 1-2 1-1-2 1-3 1-1 3-2 0 1-1-3 0-2 1 1-1-1 3-3 0 1 1 2 1-1 0-2-2-1 1 0 1-1 0 1-1-2 0-3 1 1-2 1 0-2 0-2 0-1 2 0 1 2-1 3-1 0 2-1 1 1 1 2 0 0-1 2 2 1-1 3 1 0-2 2 2 1-2-3-2 1-2 2 0 0-3 2-2 1 2 0 2-1-3-1-1-2 2-1-1-1 1 2 1 1-3-3-1-1 1 2 1-1 1 0-3 1 2-1 1 1-3 2 2-2-1-2 2 2-2 0 2 0-1 0 1 1-2-1 2-1 0 3 0-3 1 2-2-3 1 2-1-2 1 2 1 2 0 0 1-2-1-3 1 2-1 1 2 0 3 2-2 1-1 1 1 1-2-2 0 0 2-2 0 2 1 0 3 1 0 2 1 0 1 1-1 3 1 1 2 2 1 0-2-1 3 0 2 0-1-2 0-1-1 0 2-1-2-2 2 0-1 2-2-3-1 1 2 0 2 0 2 1-2 1-2 0 2-2-1 0-3-1 2 2-2 2-2 1 1 1 0-1 2-2-1 1 3-3 2 1-1 1-2-1 0-1 1 1-2 3 2-1-2-3 1 1 3 2-2-3 0 2 0-1-1-1 2 1-2 2 2-1-2-1 2-1-2 3 1-3-1 2 2-2 0 3-1-2 0 2-2 0-2 2 1 1 0-2-2 0 1 2 0-2 2 0 2 1-3 1 1 0-2 1 3 2 0 2 1-2 0 2 2-2 1 1-2-2 0-2-3-1 2 1-2 2 2-1 1 0 1-3 0 1 2-1 2 3 0 1 0-2 1 0 2 0 3 3 0-3 1 3-1 2 1-1-1-1-1-1 2-2 0 1 1 0-2 1-2-2-1 3 1 3 1-2-1-2 0-1 2-2-2 1-1 2-1 2 2-2 0-1 1 3 1-1 0 0-1 0-1 0 3 0-3-2-1 2 1-2-1 2 1-2 0 2 0-1 0 1 1-1-1 1 1 0-2-1 1 1-1-1 2 1-3-1-1-2 2-1 0-2 0 0 3-3-2-2 0-2 2 1 1-1 2 1 2 2 0-3 0 2-3 0-2 1 3-2 1-1 1-1 1 3 1-1-1-3-1 1 2-1-3-1-1-1 1 2 1 0 1 3 1 2-1 3 0 2 0 1 1 2-1 2 2 2-2-2 1 1-1-1 1 0-2-2-1 2 3 1-3 3-1 3 0 1-2 1 1 0-1 2-1 0-1-2-1 0 1 0-2 0 1 1 2 0-2 2 1-1 2 1-1-1-1 0 1-2-1 2-1 0 3 1-3-1 2-2-1 2-2-2 2 2 1-1-2 0 2 1-3-1 1 1 1-1 0 3 0-3-1 3-2-2-1 1-2-1-1 0 3 0-2 2 1 1-1-1 3 1-2-3 0 2-2-1-3-3 0 3-1 1 0-1 0 1 2 3-1-1-3 0 1 3 0 0 1-3 1 2-2-3 1-3 0 3-1-3-1 3 1-2-2-1 3 2 0-1 2 3 0 3 0-1 2-2-2 1-1 0 2 1 0 3-1-2 3 2 1 0 1 0-2-2-1-1 2-2 1 3 0-1 1 0 3-1-1 0 3 3 1-2 1 1 3-2 1 3 2-3 0 2 1-1-1 2-3-3 1 0 1 3-1-2 1 2 0-1-1-1 1 3-2-3 2 2-1-3 1 2-1-1 2 0-2 2 1 1 3-1 1 2 0 0-4 2 1 0-3 1-1 1 0 0 3-3-1 2 1-1-1 0 2-3 1 1-2-2 2 1 3-1-2-1 0-2-1-1-1 2 0 1 1-1-2 3 0 2 1 2 0-2 0-3-1 3 0-1-2 3 1 0-3 2 1 0-1 1 1-2 0 2 0 0 2-1 3 1 1-1-2 0 2-3-2 3-1 2 1-1-1-2-1 2 1-2 0 1 1 3 1-2 0 2 2-2 2-2 0-1-1 2 2 0-2 0 3-3 0 2-2-3-2 3 2-2 1 2 0-3-1 1-1 0 2 0-2 1 1-2 1 2 0 0-2 0 2 1-2-1 2 1-2 2-2 2-1 0-3 2 0-2 1 0-3 0-2 0 3 1 1 1-2 0-2 2 1 3 1-1 1-2-2 0 3-1 2-1 1 0-1 1 0 1-2-3 1 2 2 0-1-2 3 1 1-1-2 2 1-1 0 2-2 0-2-2 0 2 0 1 1-2 0-3-1 2 1-1 1-2 0 1 1 3 1 1 1-1 3 1 1-1 0 1 1 1 1-2 1-1 2-1 0-1-3-3 2 2-1 2 1-2 0 1 2-1-2 2 0-2 1 0-2 1 1-2 0 1-2 1 1-2 1 1 1 0-3-1 2 2 1 0-1-1 1 2-1-2-1 0 1 2 0-1 1-1-3 0 3 2 2 1-3 2 2 1-1 3 0-1-2-2 1-1 0 2-3 2 2 3 0-1 2-2 2 2-1 1-2-2 3 0-2-1 3-1-1-1 2-1-2 3-2 1-1-1-1-2 1-1 0 1 1 2 3-3 0-1 0-2 1-2 0 0-1-3 1-1 0 0-1 1 2-3-1-1 0 1 0 0 3-2 2 1-3 3 0-3 0 3-1-3-2 0 2 1 1-2-1 2 2 1-2-1 2 1-3-1 1-2-1 1 3 0-1 2-2-1 1-2-1 3 1-2 1 2-2-3-1 1 1-2 1 3 1-1-1 1-1-1 1 1 0-2-1 1 2 1-1-3 0 3 0-1-1 1 1 1-1-2-2 1 2 3 1-1 3 0-3-2-1-1 1-1 1-2 2 1 2 2 3 1 1-1-3 4 0-3-2 2 0-3 0 0 1-2-1 0 3 2-1 0 3-1 0-1 0 0-2 1-2-1 4-1 2 0-3 0-2 0 1-2-2-1-1 2 0-1-2 1 1 1 2 1-2 0 2 0 1-3 2 2 0 0 3-1-1 0-2 1-3 2-2-3-1-2 2 1 0 3 1 1 3 3-2 0-2-1 2-2 1 3-2-2 2 0-1-3-2 2 1 1 1-2 0 1-2 0 2 2 1-1 0-1-1 1-3 0 2-1 0 2 1-1 0-1-2 0 2 0 1-2 0-2 1 0-3-1 1 1-2-1-2 3-1 3-1-1-1 2-2 1-1 3-2 2-3 2 2-1-2-3-1 2 3 2 1 0 3 1-1 1 1 1 2 0-2-1-2-1-1-4 0 3 2 0 2-1 1 2 1 1 1 0 1 0 4-1 1 0-3 0 3-1-1 0 3 0 3-1 1 1-2 1-1-1-2-1 1 0 2-2-1-1 1 2-1-2-1 1-1 3 0 0 1 1 3 1-2-4-1 3 0-2-2-1 3 1-2 0 3 1-2-2 0 1-1-2 3 2-3 1 1-2 2 0-2 3 0-2 0 1 2-1-3 2 2-2-1 1 1-2 0 3 0-3 1 3 1-3-2-2-1-3 2 1 0 1 2 1 3 0-2 2 3-3 0-2 0 1 3 0 1-1 0-1-2 1 2 3 0 1 1-2-1 1 0 2-2 1-2 0 1-2 2-1 2 1 2-1 0 1-2-3-1-3-1-2 2 4 0-1-3-1 2 0 2 0 2 2-2 0-2 1-1 2-1-2 2 3 1-1-2-2 1-1 1-3 0 2-1 2 0-1-2 1 2 0-2-2 0 2 1-1 2-1-2 1 1 0-3 1 1-2 2 2-1 2 0-2-1-1 0 0 2 1-2-2 1 3 0-2 1 1 0-1-2 0 1 1 1 0-1 0-2-1 2 1-1-2 2-2-1 1 1-1 1 2 1 0-1 1-3 1 2-2-1 0-3-2-2 0-1 2-1 3 0 2-1-2-1 1 2-1 1 2 2 1-3-2-1-3 1-1 1 0 1-1-2-3 0 2-1-3 0-1 1 1 0-1-2-1 2-2 1-2 2 3 2 0-1 3 1-1 1-1-1 1 1 0 1 0-2 1 1 0 2 1 1-3 1 1 1-1-2 2-2 1-3-1 0-2 1 0-1 0 1-1 3 1 2 1-2 1 2 1-1-3-1 1 1 1 0 1-1-3 0 1 1 3 0-2 1 1-2-1 1-1-1 2 0-3 1 2-1 1 3-1-1-1-3 1 3 0-2-1 2-1 2-1 0 0 2-1 2-2-1 2 1 2 2-2 1-1-3 0-1-2 1 2-1 1-3-3 1-1-2-2 2 0-3 0-2 1 0 0 2-1-3 0-1-1 0-1 1-3 1 1-2-2-1 1-1 1 2 1 2 2-1 2-1 2 0-2-1 0-2 2 3 0 2-2 0-3 0-1 1 1 2 0-1-3 0 2 0-2 1 3-1-2-1 1 1 1 1 2-2-2 1-2 1-1-3 0 2 2-2 2 2-1-2 1 2-2 1 0-1 1-1-2 1 2-1-1 2-1-2 1-1 2 2-3-1 2 2-1-2 1 1-2 0 2 0 0-2 0 2-2-2 1 0 0 3-1 3 0-3-3-1-2 1 2-1 3-1 1-2 1 0-2-1 0-3-1 1 1 0 0 2-2 0 1 1-2 1 0-1 0 1-1 2 1 2 1 1 3 0 0-3 2-2-1 0 0 1-1-1 1-2-1 1-2 0 0-3-1 1-2-1 1 3 1 2-1 2 1 1 1 0 3 2 1-1 3 0 0-1-2-1 1 2-2 1-2 1 0-1 1 2-2 1-2-1 1-3 3 0 1 1-1 1 0 2-2-2 1 2-1-2 2 2 1-3 0 2-2-1 0 1 0-2-1 2 1-1 2 0-2 2 2-2-3-1 1 3-1-1 2 0-2-1 3 0-1 1-3-2 2 1 2 0-1 1-1 2 1 0-3 2 0-2-3-1 0-2 2-1-2 3-2-2 2-1 1-2-2 2-3 0 3 1-2-3 1-2 0 3-2 0-2 2 2 0-1-2 3 1 2-1 0 2-2-2 0-3 2 1 0-1 1 1 2 2-2-1 2 0-1-1-2-3 1-3-2 0 0 3-1-3 0 2-3 1 0 1-1-1 1 0-2 2 2 1 3 2-3-1 2 1-2 1 0 3 2 1-1-1 0-1 1-2 1 1-3 1 2-1-1-1-1 1 0 2 2-1-2 1 2 0-2-1 2-2 0 2-2-2 2 1-2 2 0-2 1 0 0 2 0-2-2 2 1-1 1-2-3 1 1-1 1 0 1 1 3-1-1 0-2 0-3-1-2 0 2-3 0-3-2 2 0-1 1 0 2 1-2 0 1-1 2-1-2 1-2-1-2 1 0 2-1-1 2-2-1 1 2 1-3 2-1 1-2 0-1 4-2-3 2 2 0 1-2-2 0-3-2 2 2 2 2 1-1 2 2 1-1-1-2 1 1 1 0-1 0 1 1-1 2-1-1 1 1 3 1-2-3-2 2 1-2-2-2 1 3-1 2 1-2-1 1 2-2 0 3-1-1 3-2 0-1-3 1 0 3 2-2 0-1-2 1 2-3-1 3 0 1 3-1-2-1-2 1 1 1-2-1 1-2 1 2-1 2-2-2 1-2-2 0 1 1-1 3 0-3-1 2-2-1 0 2 0 2 0 1 0 1 1 0 3-1 1-2 2-2 1 1-1-2 3-1-1 3 0 1 1 2-1-1 0-3-1 0 2 0 3 1 3-3 0-1 1 0-1 0 1 1-2-2 0 0 1 2 2 1 0 0-2 1 1 2-2-2 2 3-1-1-1-1 1-1 0-2 0-3 0 1 1 1-1 0 2 0-1 0 1 2 0-1 1 1 0-2 0 3 1-3 0 0-2 3-1-1 2-1-1 2 1-2-1 1 1 0-3-2 2 2-2-2 2 3 2-1-3 0 3 1-3-1 3 0-2-3-1 2 2 1-2 0 2 2 2 1 0-1-1 3 0-1-1 2 0-1 0-1 1 2 0 0-1-1 1 0-1 0-2-2 2 2 2-1-1-1 1 1 2 2-1 1 1 3 2 2 0-2-1-1-2 2 0-1-2 1-1 2 0-1 0 1 1 3 2-2-2 2 1 1-2 3-2 0-1-2 0 1 2 2 1 0 1 0 1-1 0-1 1 1 2 2-2 0-2-1 3 0-2-1 3 1 0-2-2 0 2 0-2 1-2-1 2-2-2 2 2-2 0 1-3 2 2-2-1 1 2-2-2 1 0 1 3-1-1-1-2 1 1 1 2-1-1 0-2 0 2 0-1 1-1-2 1 2 1-3-1-1-2 1 1 1-3 0 1 2 1-1-1 0 1 1 0 2-3 1-1 2 2-1 1 1 1 2-2 3 1 2-2 1-2 0 2-1-3 0 2-3-1 0 1 2-2 0 3 0 2-2 1-1 1-4-1 2-2 0 1 0 2-1 1 0 3 1-3 1 2 1 1 0-2-2 0 3 2-3-2 0 3 2 1-2 0-2-2-1 2-2 0 1 2 3-1 0-1 0 1 1 2-2 1 0-2 1 2-1-1 0-1 1 1-1-3-1 1 2 2-3 0 1-2 2 2-1-3 0 2 1 3-2-2 0-2 2 3 0-3-2 0 0 3 1-1-1-2 1 2 0-2 1 2-1-1 2 0-1 0-2-1-1-1 2 0 1 2 1-2 0-2 2-1 2 2-1 2 2-1 0-3 2 0 1 3 0 1-1 1-1 1-1-1 1 3 0-3 0-3-2 1 3-2 0-1 3-1 0 3 0 3-3-1-3 0 1-2 3 0-1 1-1 1 3 0 2 1-2 0 1 0 1 0 0 3-1 1-2 1 2 0-1 0 2-3-2 0 3 0-2-3 0 2 0 1 0-2-1 0-2 1 0-1 3-1-2 3 1-1 0 3-1-2 1 0 2-2-1 1-1 3 0-2 1 0-1-2 0 3 1-1-3-1 2 2 1-1 0-1 1 2-2 0 1-3-1 3 0-2 0 1 2 0 2 1 1 2-2-1 2 2-1 1-1 1-2-3-1-1 2-1 0 1 0-2 3 0 2 2-1 2 0-3-2 2-2 1 1-1 0-3 1-1 1-2 2 0 0-1-1-1-2 0 2-1-3 0-1-2 1 3 2 0-2-2 0-2-2 2 1-3 0-3 3 1-2 0-2-2 2 1 1 0 0 2-2-1 2 3 1-2-1 1-1-1-2-1 2-1-2 1-3 1 1 3 1-1 1-2 1 0 2-1 0 1-2 2 3-2-2-1-1 1 0 2 2-2-2 1 0-2 1 1-2 1 2-1-2 0 1-1 1 2 0-2 0 1-1-1 2 1-2-1 2 3-2-2 1-1-2 1 2 1-3-1 0 2-2 0 2 2 1 0-2 0-1 3 0 3 0-3 2 1 2-1 1 1-1 0-1-1 0 2 1-3-1 2-1 1-1-2 3 0 2 2 1 2-1 0-2-2-2 1-2-1-1-2-2 1 2 1 1 2 0-2-2-2-2-1 0 2 1 2 2 0 1 0 1-3-2-2 0-2-2 1 0-3-1-3 3 0-2-2 0 2 1-2 3 1-2-2 2 2 0 3-3 2-1-1 1 0 0-1-3-2 3 1 0-3-1 2-1 2 1-1 3-1-2 2 1-2-2-1 2 2-2 0 1-2 0 2-2-2 2 1-1 2 0-1 1-2-2 2-1-1 1 2 1-2 1-1-2 1 3 1-3 2-1-3 2 2-3 1-1-1-3-2 1 1-1 1-3-1 0-3 2 2 2-2 1 0 2-3 1-1 2 2 1 1-1 3 1-3 2-1 0 2 1-2-1-2-1 2-2 3 2 0 0-1 1 2-2-2 1 1 1-2 0 3-2 0-1 0 1 2 0-3-1 1-2-2 1-3 0-1 2 0 2 1 2-1 0-2-2 1 1-2 2 2 2-1-2 1 3 0-3-1-1 1 0 3 2 0 0-3 0 2 0-1 0 3 1-2-3-2 2 1-3-1 2 2 0-1 1 1-1-2 1 1-3 1 2-2 1 2 0-2 0 1-2-1 0-3 1 2-2 1 1 2-3-1 1 1 1-1-2-1 0 3 0-2 1 1 1 1-2 1 2 0-2-3-1 0-3-1 1 2 3 2 1 0 2 0 3-1 3 0 3-2 1 0 2-2-1 1-2-2-1-1 0 2 1-2 1 1 1 1-1 1 3 1 0 2-1 0-1 0-2-2 2 1 1 2 2-2 2 0-2-1 2 1-1 0-1-3 0-2 0-3-1 0-2-1 2 1-2-2 2 2-1 3 0-2-1 0-2 0 3-2-2 2 1 0-1-1 3 0-1 1-3-1 3 1-1-1-1 2 3-1-3-1 0 1 3 1-1-2-4 1 3 1-1-1 3 0-1-1-2 1-1-2 1-1-2 0-1 2-2 3 2 1-1-1-1-1 1 1 2-1-1 0 3-2 0 2 3 1 0 3 3 2 1 1-1 2 2 0-3 1-1 1 1 1 1 0-1 2 2 0 2 2 0 1-3-1-1-3 0 2 1-1 1-1-1 0-2-2 2 2-2-1 1 2 1 1 3 0-3 1-2 2 2-1-1-2 1-2 2 0 0 3-2 1 2-2 2 0 1-2-3 1-1-1-1-1-1 1 3-1-1 1-1 1 1-2 0 3-3-2 2-1 1 3-2-1 2-2 0 2-1 0 3-1-2 1-2 0 2 0-3 0 2-1-1 1 2-1-2 0 1 1 3 2-3-1 1 0 1 3 0-3 1-1 2-1 0-2-2-3-4 1 4 1 1 1-1 0 2 2 2-2-2 1-1-1-2 0-1-3 1-1 3 1-2 0-2-3 0 2-1 2-2-1-1-3 0 2 1 3 0-1 2 1-3 0-2 1-1 2 1-2 1-3 1 1 3-1 1 0 2 0-1-2-2 1 0 2 0-2-2 1 2-3 2-2-1-2 1-1 0-2 3-1 0-3 0-1 2-2 1-3-1 0-2 0-1-2 1 2-2-2 1 2 0-1 1-3-1 3 3 0-1-1-1 1-2-2 1 3 2-2-3 0 1 0 1 0-2-3 2 2 0 2 0-1-3 1 1 1-1 0 0-2-1-1 0-2-2 1-3 0 1-3 2 1 0 2-3 0 2-1 1 0 2 1 0-2 2-1 1 0 2 0 1 2 0-1-3 0-1-2-2-1 3-1 3 1 1 1-1 0-2 0 3-2-1 1 0-1-2 1-2 0 1-1 3 0 0 2 0-2 0 3 1-1-2 1 1-2 3 1-2 0 1-3-3 0-2 0 2-1-3 0-1 1 0-3 2 0 0 2-1 1 2-1 1 1 1 3 0-1 1-1 1 2-2-3-1 2 2-2-1 2 3 0-1-1-2 0-1 2 0-3 0 1 1 1 2-2-1 1-3 1 2-1 0 1 1-1-2 0 2 1-2-2-2-2-2-1-3 1 2 2 1-1 1 0 1-1-1-1 3 0 0-2 1 0-1-1-2 0 0 1 0-1-1-2-2-1 0-1 0-2-1-3 1 2 0 1 1-3 0-1 3 2 0 2-2 0 1-3-2-2 2 1 2-1 1-2-3-1 2 1-2 1 2-2 4 0-2-1 1-3-2 3 2-2-2 2 1 0-2 1 1 0 0 3-2 2 1 1 1 1 2 1-1 3-1-3-1 2 3 1 1-3-1-1 0 2-1 1-1-1 2-2 0 1-2 0 2 2-2-1 1 0-3 0 2-2-1 2 4 0-2-1-2 0 1 2 0-2 0 3 0-1-1-2 1 2 0 3 1 2-1 1 2-2 1 3 2 1 3 2 2 1-2-2-1-3 0-2-1 1 0 3-2 0-3-2 3 0-1-1 0-2 0-2 2 1-1-1 2 0-2 1 2-1 1-1-2 1-3-2 2 2 0 2-2 2 0-1 3-2 1-1 0-2-3 2 3-2-2 0-1 0-1-2 0-3-1 1 2-1 0-1 1 0-2-1 0 1 0 2 1-3-3 0 0-1-2 0-2-1 1-3 1 1-3 0 2 1 0-2-1 1 1-1 0 1-2-2 0 2 1-1 2 2-3 0 3-1-1 1 0-3 1 3-1-2 0 4 0-2-2-3 2 1 1 2-3-1 3 1-3-1 1 2 1 1-2-1 0-1-2 1-2 1-2 1-1-1 0 1-1 3-3 0-1-1 1-1-1 0 0-2-2 1-1-1 3-1 0-3-1 0-2-3 3-2-3-2-1-1 1-1 2-1-1 1 3 0-2 0-1 0-2-2-2-1 1 1 0-2-3-1 3 0 2-1-1-2 2 0 0 2 1 1 0 1 0-2-2 1 2 2-2 0 1 2 3-1-3 1 0-1 2-2-2 1 3-2-1 2-2-2 1 1-1 0 1 2-2-1 1-1 2 1-1-1-1 1 2 1-2-1 1-1 1 3-2-2 1 0-2-1 1 2 0-3 0 3 2-1-2 0 1 0 0-2-1 3 1 1-1 2 0 2 2 2 1 0 3 1 2 0 1 2 2 2-1-2-2 2-1-3-1 0 1-1 3 0 3-2 1 1-2-2-2-1 0-2-1-1 1 3 2 2 0-3-2-1-2 0 1 3 0 2-1 0-2 0 2 0 0-2-3-1-1-1-2-1 2-1 0-2-2 2-1 1 2 0 1-2 0 2-1 4 0-3 2 0-4 0-1-2 0-2-2-2-1 0-2 0 1-3-3-1-1-2-1 0-2 0-1-1 1-2-1-2-1 0-1-1-1-3-1 1-2-1 1 2-1-2 2 2-2-2 0 1 1-1 0 2-1-2 1 3 0-3-1 2-1-2 1 1 0-1-3-2 0-3 2 1 1 3-3 0-3 1-1 3 2 0 1 1 1-1 0 1-2 2-2 2 2 2 3 1-3 0 0 2-2-2 0 1 0-2 1-3-2-1 2-2 2 0 2-1 1-3-1-2-3-2 1 1-1 1 1 1 3 0 2 3-1-2 2-2 0 3 3 0 0-2-2 1 0-2-1-1-1 1-2-1 1-3-2 2 0 2 2 2-3 0 1-1 3-2-1-1-3 0 2 0-1-1-1 0 3-1 0 1-2 1 0 2 2-1-1-2 0 1-2 1 2-3-1 2 1 2-2-2 2 0-2 0 3 1-2 1 0-1 0-2 0 2 0-1 3 1-2 0-3-1 1-2-1-1-2 0 0 2 3 1 1 0 1 1 1 3 1-1-1 2-1 2-1-2 2 2 0-1 0-3 1 2 2 1-2 2 1 3 2-1 0 2 0 2 0 2 1 0-2-1 0 4-2-2 1-2-2-1-1-3 1 3-2 1-1 2-3 2-2-2 0-2 3 0-1 3 1-1 0-2 0 2-3 0-2-1 1 0 0 1-1 0-3 0 1 2-2 0 0 1 1 3-1 0-1 0-2 2-2-3 3-1 0 2-2 1 2-1-1 1-1-3 1 1-1 1 3-1-1 2-3-1 3-2-1 2 1 3 0-3-1 3 0-1 0-1 1-1-2 3 3-3-4 0 3 1 2-1 2 1 3 2-2-3 2-1-2 0-2-1 0-2 1 2 0-2-3-1 2-1 1 1 1 1 3 0-2 2-2-3-1 1 3-1 0-2 2 2 0 1-2 0-2-1-1 3 2 0 1-3 0 2-2 1 0 2 2-1-2 0 3-1-3 0 3-1-1 3-2 1 1 3 2-2 1 1 0 2 2 2 0-2 0 2 2 0-1 2-2 1-1 1-3 1 2 1-1-2 1 3 0-2-2 0-1 1-1 0-2 0-1-2 1-1-2-1 1 0-2 2 2 0-1-1 1 0-1 1 1-2-1 3 2-2-2 1 3 0-3-1 1 1-2 1 1-1 2-1-2 0 1 2 2 1-3-2-2 0 1 3-2-2 3-1 2 3-3 1-1-1 1-3 3 2 3 1 1 1 0 2-2 2 1 0 2-1 2 1-2-2 2 2 2 0-2 1-1-1-2 1-2-2 1-1-3 0 2 0-1-1 1-1 0-2 2-1 2 0-1 2 1 1 1-1 2 1-3 0 2 2 1-1 0 2 1-3-3-2 3 1 0-3-2 2 2 0-1-2 0-1-2-3-1 1-2 2 0-1 3 1 1 3 2-2-2-2 1 2-1 0 1-1-1 0 1 1-2-2 2 0-3 1 2 1 1-1-1 2 1-3-1 0 1 2 0-1-2 0 2-1-1 0 0 3 0-3 2 2-2 3-1-1 3-1-1 1 0 2 0-2 0-2-2-1 1 2 1-2-1-2 0-3-1-1 1 1 1-1-2-2-1 1 2-2 1 3-3 0 2 0-2 1-2-1-2 0 1-1 1 1-2 2 0-1 2-2-1 3 3-1-3 1 2 0-1 3 2 1 1 2 0 3-3 1 0 2 1 1 2-2 1 2-2 0 1 1 0 2 2 1-3-1 2 2-1-2 1 1 2-1-1 0-1-3 0 1 2 2-2-1 2 0-2 1 1-3-2 2 3-1 0 3-2-2 3 1-1-3-2 1 1 3 0-2 1-1-3 1 2 1 0-1 1 0-1 1 1-1-2 2 0-3 2 1-1-3 1 1 2-1 1 0 2-3 2-1-1 1-1 1-3 1 2 0 1 0 1-1-1 2-1 0 0-2-2 1-2 2-1 0-2 1 2 2-2 0 1 1 2 2-2 1-1 2-2-3 2-1 2 2-2 2 2-2 2 2 2 1-1 0-1 1-1-3 2 2-2 1 0-1-3 0 2-1 1-2-2-2 0 1 0-3 2-1 0 2 1-2-2 2 3 1 0 2 1-2-1-2 2 1-1-3 0-1 3-2 3 0 1 1 1 1-2 0 1 2 0-2-3 1 2 0-2 0 2 0-2 1 3 0 0-2-1 1 1-1-2 3 3-2-2 0 0 3 0-2-2-3 2 1 2 1 3 0-1-1 1-1 0 2 2-3 1 1-2 0 0-1 1 3 2 1 0-2 0-2-2 2 3 2-2-1 1 3-1-3-3-1-1 3 0 3-2 0 1 1 1 1 2 3-2 0-3 0-1-1 2 0-3 1 2-1-2 2-2 1 3 1 1-2 0 1-1 0 2-1 1 2 0 1-1 3-1 0 0 3 1-3-1 3-1-2 3-1 0-1-2 2-2-2 1 2-2 2-2 1 1-2-1-2 2-2-1 0-1 2 2 0-2 0 3-2-1 2-1 1 2-1-3-1 2 0-1 2 0-1 1-2 0 2-1-2 0 2 1 1 1-3-2 2 2-1-1 2-1-2 1-1 1-1 0-1 3 1 1 0-1 1-3-1 3 0-2 0 3-1 1-1-1 3 2-1 1 2 0 1 1-3-2-1-1 0 0 2 1-3 1 1-2 1-2 1-2-1-2 1 0-2 2 2-2-2-2 0 1 2 2-1-2 2-1 1-1 1 1 2 0 2 0-2 0 1 3-1-2-2-2 1-1-2-3 0-2-2 1 2 1 1-1 0-1-4-1 1 2 1-1 1 1-1 0 1 0-1-1 2 2 0-1-2-4 0 2 0 1 0 0 1-1 1 1-1 1 1-2-1 1 0-1 0 3 1-3 0 1 0-2-2 1 2 1-1-2-1 2 0 0 2 0-3 0 1-2 1-2-1-2 0 0-2-1 0 0 3-3-1 1 1 2 0 1-3-1 2 0-2-2 2-2-1-3 1 0 1 2 2-2-2 1 1 2-2 0-2 1 1 2 0-1 2 3 2-2 0 2 2 2 1-1 1 0-2-2 0 2-2 0 2 0-2 0-3-2 0 0 3 1-2 2-1-1 2-1 3 2 2 0-2-1-1-2-2 2-1 2 1-2 0-1 1 2 2 1-1-1-3-2-1 1 3-2 0 1 2 1 2 0-2-1 2-2-1 3 0-1 1-2-3 3 2-2-1 1 0-3 1 2 1 1-2-2 0 2 0-1 2 1-1-2-1 2 1-1-1 0 1 0-1 1 3-2-2 2 0 1-1 0 3 2-1-1-3 0-3-1 1-2 0 0 3-1 2 0-3-2 1 2-1 3-2 1-2 3 0 1-1 0 1 1 2-1 2 2 1 0-2 0 3-2 1-3 0 1 2-1 1-2-2 3 1-3-2 1 2 0-1-1-2-1 2 1 0 2-1-1-2 0-2 1 1-3 0 2 1-2 2-1-1-1-1-1 1 3 1 0-1-3-1-2 1-1-1 0 2-2 1-1 1-1 0 1 2 0-1 1-2-2 1 3 0-3 1 2-1-1-1 0 2 0-2 1 1-3 0 3-1-1 2 1-1-2 1 1-1 3 0-3 1 1-2-2 0 3 1-1-2 3 0-2 1 3-1 1 0-3 1 1-3 2 2 1-1 0-2 2 0-3 1 0 2-2 0-1-2 2 1-2 1-2 2 2 3 1-2-3 0-1 1-2-3-1 2-1 0 1-2 1-1-2 2 0 1 1 0 2 2-1-1 2-1-1 1 2 1 0-2-1 0-2 2 3-1-2-1 0-2 0-3-1-2-2 0-1-3 3 2-3-2 2-2 2 1-2-1 1 1 1-2 1 1 0-2-2-1-2 1 1 3-1-2 2 0 0 1 0-1 1 1-1 0 0-2-1 2 3-1-1 1-1-2 0 1 1 1 0-1-2 1 1-1 1 2-2-2 2 1-2-1 3 0-2 0 0-3-3 0 3-2-1 1 0 2 1-1 1-2-1-2 3 0-1 2-1 3-2 0 0-1 0 2 2 1-2-1-2 2 0-2 1-1 1 2 2 0 0 2-2 1 0 3-1-2 0-2-1-2-1 1-1 0-1 1 2 0-1-2-2 2 1-3-2 2-1 1 1 1 3-1-1 2 2 2 3-2-2-1-2-3 1-2 1 2 1 0-2 0 0 3-2 1 1-1 0 2-2-1 0-2 1-1-1 2 1-3-1 2 1-1 1 1-1 3 1-2 0-2-1 2 2 0-2-2 0 3 1-3-1 1 2 2-1-1-1 0 2 0-1-1-1 3 0-2 1-1-1 2-1-1 0-2-1-2 1-1-1-1 2 0-2-1-1 3 3-1 2-1-2 1 1-1 1 2 1-2 1 1 2-1-1-3 2 0-2-1 1-3 2 0-2-1 2-1 3 1 1 3 1 2 3 2-2 0 1 3-1 1 0 1-2-2 0-2-2 0-3 0-1-1 0-2-2-2 1-1 0-3 1 1-2-2-3 0-2 1 3-1 0 1-2 3-1-2 0 2 1 3 0-3 2 3 2 0-1 2 1-2-2 0-1 0 1-3-2 0 1 1-1-1-1 2 3 0-3 0 2-1-2 1 1-1 1 0-1 1 0-2 1 1-1 1-2-2 3 1-2 1 2-2-2 1 2 1 0 1 0-3 0-1 1-2 1-1 4 1 0 1 1 0 1-3 3 0-1-1 0 2 1 0 0 2 0-2 2-2 0-1 1 2 0 1 1-1-1 1-1 2-2 1-2-3-1 0 0-2 1 2 1-2-2 0-1-1 0-1 2 0 3 0 0-1-1 2-1 1-1 3-1 2-2 2 2 1 1 3 0-1 2 0 2-2 0 3 1-3-3 1-2 2-2 0 0-3-2-1-1-2 2 0 3 1-1 3-2-2 0-1-2-1 1 3-1-1 2-1 1 2-2-2 0 3-1-3 2 0-2 1 1-1 2 0-3 1 2-2-1 2 2-1-2 1 1 0-1 0 3-2-2 1-2 1 2-1-3 2 3 2-1 1-3 0 1 2-1 1 1 3 3 0-3-1-1-1 1 0 0 3-2 0 0-2 1 0-2-2-2 2 2 0 3 0-2-1 2-2-1-1 3 1-1 3 2-3-1-2 0 2 0-1-1-1 1-1-1 1 0-2 0-3-2 2-1 2 3 1 0-2 1 2 1-1-1-2-3-1 0-1-2-2 2-2 0-2-1-2 2-2-2-1 1-1 2 0-2 0 2-1 0 2 0-2-2 2-1-2 1 2-1-2 2-1 1 1-1 0-1 2-1-1 1-2 0 2 2 0-1-2 0 3-1-2 2 1-1 0 0-3 1 3-4-1 3-1-1 1-2 0 0 3 3 0-1-1 2 0-1-2 0 2 0 2-1-3 0-1-2-2-1-1 0-4-1 0-3 0 1-1-1 2 0 2-1 0 2-2-1-1 2 0 1-1 3 0 0-1 0-2 1 1 1 3 2-1 0-2 1 1-2 0-2 2 0-2-2-3-1 1-2-2-3 0 0 3 2-1-2-1 3 0 1 0-1 0 1 1 2 1-2-1-3 0 1 2 1 2 1 1-1 1-1 2 0 1-2-1-2-1-1 1-2 3 2-1 1 1-2-2 1 2 1-2 1 2-3-1 1 2-1-3 3 0-2 1 2 1-1 0-1-2 1 1-2 2 1-2 1 3-1-1 0-3 0 2 2-1 0-3-1-1-1 2-1 1 2-2-1 0-3-1 2-2 0-2-1 1-1 3 0-1-1 0 3 1 2-2-2 2 2 1 1 1 1 0-2-1-2-1-1 2-2-2 0-3-2 0-2-2-2 0-1 2 1 1 3-2 2 1 1 0-1 0 3 1-2 1 0-2-2 1 1-1 0-1 0 1 1 0 2 1 0-1 3 1 1-1-1-3-1 2 1-1 1 2-1 1 2 0 1-2-1-1 1 0 2 2 0-2-2 1 2-2-1 1-2 0 2 2-1-1 0-1-1 1 1-2 1 2-1-3 0 1 0 2-1-2 1 0 0 3 0-3-1 3 2-1-2-1-1-2-1 0 0 1-1-1-2 3 3 0-1-1-1-2 1 1 2-1 0-1-2 1 1-1 1-2 1 0-3 1 1 2 0-2-2-1-2 1-1 1 2 1 0-2 0 1 3 1-3 1-1-2-2 1-1 1 2 0-3 0 0 1 2 1 2 2 0-2 2 0-1-1-1 0 3 0-3 2-1-1-1-2 2-1-1-2 1 1 2-2-2 1-2 0-1-3 0 2 0-2 1 0-2 2 1 1 2 1 0-2-2-1 1-2 1 0 1 3-3 0 0-3 2 2-1 2 1-1-3-2 2 3 2-1-1-3-1 1 2 2-2-1 2 0-2 0 1-1 0 1 1-2-1 2 2 1-2-1 3 1 2-1-2-1-1-3 2 1 2 2 3 0-1-2-2-1-2 0-1 1-3-1 2-2-2 0 0 1 1-1 1-2-1 0-3-1 2 0-2-2 2-1-1-1 2-1 2 3-2 0-2-2 0-3 0-2 1-2 2 0 1-1 3-1 3 1-2 2 2 2-2 1 1-1-3-1 1 2 1 2 3-1-2 2 2 3-3 0-1-1 0 3 0-2 0 3-2-1 1 2 2-1-2 0-1-1 2 0-1-1 2-2-1 0 2 1-2 0-1 2 0-2 2 1-3 2 1-2 2 0-3-1 2 0 0 2 1-1-1 2 0-2 2 1-2 0 0-2 0 1 1 2-3 0 1-1 1 1 1 1 2 3-1-1 1 0 1 2-2 0 2 1 1-1-3-1-1 1 1 1-1-1 2 0 1-1 0 1 1 0-1 1 2 3 2-1-3-1 0 2 2-2 1 1 1-1 0 1 2-2-1 1 2 1 0-3-3 1 2 0-1 3 1-2-1 1-1 2-3-1 2 0 1 2-1 0-1-3 4-1-3 2 1-2 2-1-1-2 0-2-3 0 0-3 2 1 0 3 0-2 0-3-1 0 0 1-1 1 1 1-3-1 1 0 2 1-3 0 1 0 3-1-2 0-3-1 2 0 0 3 2-2-1 1 0-2-1 2 1-2-1 2 2-2-1 0 1 1 1-2-1 1-2-2 2 0 1-1 1-1 0 2-1-2-1-1-1-2 1 0 2-1 1 0 1 3 2 0 2 3-1-1 0 2-2-1 1 1-1-2-2-1 3-2 1 1-1 2-1 1-3 1 2-3-2 0-2-1 0-1-2 0-1 0 0-2-2 1-1-1 2-1 0-1 1-3 0-2 1-2 0 4-1-2-2 3-2 0-1-2-2 2 1-3-2 1-1 1-3-1 1 2 2 2-1-2 0-2 0-1 0 2 2-1-2 1 1-1-1 0 1 1 0-2-1 1 1 1 0-3-1 2 4 0-3-1 0 2 1-1-2 0 2 0-3-2 1 3 0-1 3 0 1-1 0-2-2 0 0-3 2 0 0 1 0 3 2 1 0 1-3 1-2-2 1-2 1 2 1-1-1-2-3-1 2-1 3 1-1-2 1-1-2 0 0 1-2-1 1 3 0 2 0-2 2 0 3-2 2 1-1-3-1 0-2 2 0-3-2 3 0 1 0-3-1 0 2 1-1 3 0 2 1-1 1-2-2-1 3-2 2 2 1-2-1 1 2 0-3 1 1-2 1 1-2-1-1 1-2 2 0 2 0 2-2 0-1 2-2-1-1 0-1 0 0 3 0-3 0 1-1 3-1-2 2 1-1-2 3 2-2-2-1 2 2-2-2 2 1-2-1 1 1 0-2 0 3 1-2-1 0 2 0 3-1 1-2 2 1-1 0-3-1-2 3 0 2-2-3 1 0-3-1 1 2 0-1 0-1 2-1-2 1 3 0-2 3 0-2 2 1-2-1 1-1 1 2 0 2 2-3 1-2-2 1-1 2 1-1-1 2 1-2 1-2 1 0 2 1 1-2 0 1-1 3 1-1 2 2 0-1-1-3 1 2 0-2 0 2-2-2 0 3-1 1 3-1 1-2 0 2-1-1-1-1-1-1-1 0 3 0-3 0 2 0-1 2 2 0-3-1 0 0 3 1-3-2 1-1 0 2 0-3 0 2 1 1-2-2 1 3 0-1 0-2 2 0-3 2 0-2 0 1-1 1-3-2 0-2 1 1 1 0 2-3-2 2 2 1-1 0 3-2-1 1 3 1 0 2 0 0 1-2 0-2 0 2-1 0 2-2 2 0 1-1 0-2 1 2-1-1-3-1 2 1 2 1-2 2 1 0 3 1-1-2 1 0-3-2 3 3 1-1 2-2 2 2 1 1 2-3-1 0 1-1-1-2 2-1 0 1 0 1 2 2-2-2 2-2 2 2 1-1-1-3-2 1-1 1-1 1 1 1-3-1 3 1-3 1 3 0-3 0 2-2-2 1 0-1 2 1-1 2 0-1 0 1 2-1-1-1-1 3 2-2-1-2-2 1 3 0-1-1-3 0 2 3 1-3 0 2 1-2 0 1 0-2 0 2 1 0-2 1 1 1-1 2-1 2-2 1-2 0 2-2-1-3-1-1 1 1 1-2-1-1-2 2-1-2-1 0 2 1-2-2 2 0 1-1 1 2 0-1 1 2 1 2 3-1-1 0 2-1-2-1 1-2 2 0 2-2 1 2 1 3 1 2 1-1-1-1 1 1 1-1-1 1-2 2-1 1 2 1-2-1-1-2 0 2 3-1-3 1 1-1-1-2 2 0-2 0 3-1-2 2-1 1 3-2 0 2 0-2-1 1-2-1 2 2-2 0 2-2 0 1-1-2 0 2 1-2-1 2 0 0 1-1-1 1 2-1-2 3 0 1 1-2-2-1 3 2 3 2 0-1-2 0-3 2 1-1 2 0 3 0 1 1 0 1 3 0-2 1-2 1-2 0 2 0-1-1 1 1-2 3-1-2 2 1-3 1 3 0 1-2 1-3 1 1 2-2-1-3-1 2 0 0 2-2 1-1-2 2-2 1 2-2 0 2 0 1 0 3 2-2 0 2 0 2 1 1 3 0-3 1-2-2 1 0-1-3 2-2-1 1-1 1 2-2-1 3 0-3 1 2 1 2-1-2 0-2 0 3-2-2 0 0 1 1 1 0-2-2 2 0-1 2 0-2 1 1-2 0 2 0-3 2 2-3 0 2 1-2-2 2 0-1 3 1-3-1 2 1-2 3 2 2 0-2 3 0 2-2-2-2 1 1-1-2-2-3 1 1 0-1-1 1 1 1-2 2-2-1-2-1-1 1 2 3 2-1 0 1-2-3 1-2-1 3 1 1 2-1 0 0 3 3-1-3 1 0-3 0 1 1-3-1 2 1 3-1 1 0 1 0-2-1 2-1 3-2-1-1-2 2 3 1 2-3-1-1-2 2-1 0 2 2-1-2 1 0 1 0 2 1-1 0 3 3-1 0 2 2-1 1 1 2 2-1 1 2 0-1-1-1 2 3-1-3-2 1 2 2-2-1 1-1 3 0-2 1-2-2 1 2 2 0-3 0 3 0-3-1 1 0-2 1 0 1-1 1 0-2 2 3-2-2 0 3 0-1 2-1-2 1 1 1 2 0 1 1 1 1-2-1-2-2-1-1-1-1-1-2-1 0-2-1 0-2 2-3-1-3 1 2 1 1 1-3-1 0 3 2 2-1-3 2-1 1 3-1 2 2 2 1-1 1 2-1 2 2 0-2 0 2-2 1 1 3 2-3 1 2-1-1-2 2 2 1 2 0 1 0 1 3 0-2-1-1 0 1-1 3 1-3 1 2-2 1 2-1 1-2 0 2-1-2 2 0-3 1 3-3-2 3-2 1 3-1-2-1 1 0 1 1-2 0 2 0-1-1 1-1-2 2 3-1-3 0 1 1-2 1 1-2 1 0 3 2-3-2 1-2 0 1 0 2-2-2 0-1 1-2-1 3 1-1 3 2 2 2-1 1-1 0 3 3 0-1-2-1-3-1 2 2 0-2-2 2 2-3 1 1-3 2 1 1-1 0 3-2-1 1 0-2-2 3 0-4 0 1-1 1-2 0-2-1-2-2-2-2-2-1 0 2-3 3-1 2 0 2-2-1-3 0-1 2 1 1-1-2-3 0-1-1-3 2 0 1-4 0-2 3 0-2-3 1-2-1-2 0-1 0-2-1-2 2-2 2-3 1-1 0-3 1-2 2-1 2-2 1-1 1-2 1-1-1-2 2-2 1-2 1-3-1-1 0-1M1090 570l-1-2-3 1-2-2 2 0 1-2 0-2-2 1 3 0-2 2-1-2 1-2 0 2 1-3-1 2 2-1-1 2 1 2 3 1 0 1 1 3 3 0 2 2 0 1 2 2 0 2-2 0-2 2 1-2-1-1 1 1 2 2 0-3-3-2 3 0-1-1-2-3 3 1 3 1 1-3 1 0 3 0 0-1 1 1 1-1 1 2 1 3 0-3 0 3-2-1-1 3-1 1 0-3-2-1-1-1 1 1 2-2 0-1 2-1 0-2-1-2-1-3 1-1-2-2 3 1 0-1 1 3 2-2-1 1 1 0-1-2 0-2-1 2 0-2-1 0-1-3 2 0 1-2 2-1-2-1-1-2 0-2-2 1 3-1-2 1 3 0-1 1 2 1 0 2-2-1 0 2 2 1-2-1-1 1 1-1 0-3 0 1 0-1-2 2 0-3-1 1-2 0 0-2-1 1-1-1-2-1 0-2 1-1-1 1-2 0 0 1 0 1-2 0 2 2-2 1 0 2 2 1-2-1-2 0-3 1 3 1-3 2 0-2 2 2 0-3-1 3-2 0 3 1-1 2-1-1-2-2-1-2-2 2 1-3-3 1-2 2 2 2-1 0-3-1 3 0 3 0 1-1-1-3 0-2 1-2-3-1 2-1 1 1 1-1 2-1-1 1-1-1 3 1 1-2 1-1-1-1 1-1-1 0 0-2 1-2 2 2 2 1 0-2 1-1 3-1-1-2 0-2 1 1-2-2-3 0-1 1-1 3-1-3 2-2 1-2 0-1-2 1 2 1 3 0-2 1 2-1-2 3 1 2 2 2-2 3 1 1-2 3-1 0-2 2M1140 503l-1 1-1 2-1-2 0-1-1-2 0 3-2 0 1-2 0-3 0-2 1-1-1 2 1-2-1-1-3 1-1-2 1 1 0-2-2 0-1 0-1 1 1 1-1-2 2-3 1 3 1 2 2 1-1-2-1 3 1 2 2 0 2-2 2 0 0 3 2-2-2 1 1-1-2 0 1-2-3 1 1 0 2 0-2 0 1 0-2 2 1-1 0-1 2 1 2 1-1 3 1-3 0 2 0 1 2-1 1-2 2-2 3 0-1 2-1-2-2 2-1 2 2-3 1 2 0-2 1 3-1 1-2-2-3 0 0 2-2 1-2 1-1 3-1-1 0 3-2-1 0 1-2-2 2-1 2-1-2-2-2-1 0-1-2-1 1-1-2-2 0-2 2 0-1 0 3-2-2 0 0 3-2-1 2-1-1 1 1-2 2 1 0 2 0-1 2-2 2-2 2-2 2-1 1 0 1-1 1-2-1-3-2 1 0-2-3 1-2-1-1 1 2 0 1 1-3-2 1 1-1-1-1 2-1-3-1 2 0 3-1 0-2 1-1 0 0 1-3 0 3 0-3-1 2-1-2-2 1 1 1 1-4 0 3 0 2 0-4 1 3-1-1-1 1 3 1-3-3 1 2 0-2 0 1 0 1-1 1-1 0 1 1 0 2 2-2 0 2-3-2 0 2 2 2 0 1 2 2-1 0 2-2 1 3 0-1-2 1-2-1 2-1 1 3 0-3-1 3-1-1 3 2 0-1-1-1-1 1-1 1 2-1-3 0-3-3 1 1-3-3 1 3-1-3 1-1 3 1-3 0 2 1-1 1 2-2-2 1 2 1-1-2 0 3 1-1-1-1-2 0 3 3-2-2-2 1 0 3 1-2 0-1 3-2-2 3 1-1-2-3 0 4 0-1-2-3-1 2 3 1 1 0-2 2-1 0 1 2 0 1-3 2-1-1 3-2-2 1 2-2 1 1 2 2 0 0 1 0-1 2-2-1 2 1 2-3-1 3 1 2-3-2 0-2 1 1 1 3 0-2 1 0-2 0 1-1-1 2 2-3-2 2 2 0-2-1 3-2-2 1 1 2 0 1 1 2 2 0 1 1 1-2-1-1 1 0-1 2 2-1 0 1 1 2 0-1 1 0 1 2 1 1-2 1 3 0-2-1-1-1 2-3-1-2 0-2-1 0-1-1-1 1-1-3-1 2 0-2-3 2 0 0-2 1-2 1-1 0-1 1-2-1-1 0-2-1-1-2 0 1 1 1 0-1 0 0-1 1 3 0-2-1 0 0-2 1 0-1-1 2-1 2 2 1 1-1 0-2 0 4 0 2 1 2 1 1 3 0-4-1-1 2 0 1 0-2 0-1 1 2-3 2 2 1-2 2 1-1 2 3 1-2 0-1 2-3-1-3 1-1 2 1-1-2 1-2-2-1 2-3-2-1-1-1-2-2 0-2 1-2 1-1-2-1-1-3 2 1-2 1 0-1 2 2-1-3-2 2 0-1 2 1 3 2 0 2 0-2 1-3 0 1-1-1 0 0 2-2-2 0 3 2-1-2 0 1 2-2 0-1-1-2 1 3 2-1-3-3-1-2-1 0-1-2 1 0-3 0-1 0 1 1-1 3 0-1-2 0-2-1 2 0-1 1 2 3-1-2 0-2 1 3-1-2-1-1 3 2 0-2-1 0-2 2 3-1-3 0 1 1-1-1 2-1-3-3 2 2 2 1 1-1-2 2 0-1-1 1 0 2-2-2-1-2 2 0 2-2 0-1 1 2 0-1 1-2 0-2-1 2 0-1 2 0 3 3 1 2-3 1-3 0 2-1-3-1-1-1 0-1-1-2 0 1-3 0-2-1 0-1-1 0 2-1 1-2 2-2-2 2 1-2-1 2 1-1-1-1 1 3-2-3 0-1 2 2 0-2-3 2 2-3-1 0-2 1-1 0 3-3-1-1 2-2-2-1 2 2-1 1-1-2 1 1 1-1 0 0-1 0-1 2-1 1-2 1-1 1-2 0-1-2-1-1 3-1-2 2 2-1 2 0-2-1-2 3 0-1-2 0-3 2 1-1 0 1 3-1 0-3-1 3 0-1 1 1 3 0-3-1-1 1 3-2-1 2 0-1-1-1 3 1-2 1 0-1-1-2 3 3 1 1-3 2 0 0 3 0-1 0 2-1 2-1 1 1 0-1-2 1-1 2 0-1-1-1 1-4 1 2 1-2-2 1-1 1-2 0-2 1-2 0-2 2 0 0-2 2-1 0 2 2-2 0 1 2 3 2-1-1 3 2-2-2 1 1 0 2-2-1 1-4 0 2 0 2 2-2-1 2 0-1 0 1-3-1 2-1-2 1 2 0 2 2 2 1 1-2 1-1 0-1 0 0-2 1 1 0 3-3-1 3-1 0 2 1 2-1-3 3 1-2-2-1 2-3-1 2-1-2-1 3-2 1 1 3-1-2-2 1-1 3-1 1-2 2 1-3 1 0-2 3-1-3 1 1 0 1-3-1 1-2 0 0-3 1 1 0 2 2-2 0 1-1 0 0 2 1-3-3 1 2-2-1 2 1 0-2-1 1-2-2 1 1 3 0 2 1 0 1 3-1-1-2 0-1-1-2 1 2-2 0-1 2 0 2-1 0-2 1-1 1 3 1-3-2-2 1 0 1 1 1 2 3-1 2 0 3 0-2 0 1 1 2 2-1-2 1-1-2 2 3 0 0-2 0-1-1 1-1-3 0 1-1 2-2-2 1 3 2-2-1 0-2 1 1 0 1-3 0 3-2-3 2 2 3 0 0 2-1 1-2 0 1-3-3 2 1 2 1 3 1-1-2 0 1-1-1-2-2-2 3 0 2 0 2 3-1 1-1 0-2-1 2 2 0 3-2 2 4 1 1-2-3 0-1-2-2 1-2-2 0 1-1 3 0 2 0-2 1 1 0-1-2 0 2 0 0-2 1 3-2-1 1-1-1 2 1-2-2 2 1-2 2 2-2-1-1 2 1-1-1-1 0-3-3-1-1 3 2 1-2 1-1 1-2 0 2 1 0 2-1 3 1-1 1 3 1 1 2-1 2 0 2 0 1 2 1-3-1-1-1 1 2 1 1-1 2-1 1-1 1 3-2-2-3 0 2 0-1 0 2-1 2-2 2-1 1-2 0-3 3 2-3 0 2 0-1 1 2-1-3-1 2 1-2 3 1-2-2-1 2 2 0-3 0 1 2-2-2 1-2 2 1 1 1-1 3 0-2-2 0 1 2 0 0 3-3-2-1 3 1 1 2-1 1 3 3-2-1-3 0 2 2 2-2 0-3 0 1-1 2 1 1-1 1 3 1 2-2 0 0-1 2-2 1-3 0-2-1-2 2 1-2 0-1-2 1 1 1 1 1-1-1-2-1 2 1 0-1-1 1 1 2 0-2-2 0 2-2 1 2 0 2-3-1-1 1 3 0 3-2 0 1-1 1 1 0-3 2-3-2 1-1-1-1 0-1 1 1-2-3 0 3 0 1 2-1 3 2-1 2-2 0 1-1 1-1-1-1-2 2 1-1 0-3 0 2-1 0 2 1 3 1-4 3 0 3-1 2 3-2-1 2 2-1-1 1-3 1 3-2 0-1-3 0 3 2 1-1-1-2 0 2 1 0-2 2 2 1 2 1-1 2 0 1 1 3-1 3-1-1 2 2-2 2 2 2-1-2 1-1-1-1 0 0 1-1-2 0 3-2-1 2 1-2-1 2 1-2-2 1 2 1-2-2 0-1 0-3 1 0 2 1 2 0-2-2 2 1-2-2 1 1 1 0 3-2-1-2-1-1 2 1-2-3 0 2-1-1 3 2-1-2 0 3 0-3-1 1 2 1-3-1 2 0 1 0-1 0 1-2 0 0 3-1-1 3-1 2-1 0 3 0 3 0 3-2 0-2 0-1-3 3-1 1 2 1-2-3-1 2 1-2-1 1-2 0-1 0 2-2 1-1 1-2 0 1-2-1-2 3 1-1 1-1 0-2 0 2-1 1 2-2 0 2-1-3 0 2 2 0-3-1 3 3-1-3-1 1 3 0-2-1 3 0-2 2-2-1 1-1 2-1 0 2-2-1 1 0-2-1 0 1 2 0-2 2 1 2 0 1-3-2-1 1 3-1-2 1-1 2 2-3 1-1 3-1 1 3 1 1-1 1 2 2 0-2 2-1 0 2 2 3 0-2 1-2-3 0 3 2 1-3-1 1-2 1-2 2 0-1 2 2-1 0-1-1 1 0-1-1 0 1 2-2-1 3 0-3 1 3-2-1 1-1-2-2 0-1-2 3 1-2 0 0-2 2 3 1 1 0 3 2 0-2 3-1 1-1-1-3-2 1 2-1 1 2 1 0 4 3 0-1 2-3 0-3 1 0 2-1-1-2 0-2-2 2-1-2-1 3-1-2 0 2-1-1-1 1-2-2 1-2 0 0-3 0 1 1 0 2 1-1-1-1 1 2 0-1 0-3-2 2 2-2-1 2 3 0-2-1 1 2 1-2 2-1-1-2-1-2 1 1 1 1-2 1 1 3 2 1-2 0-2-1 2-2-1 1-1 0-2-3 0 0 2-2 0 3 2 1 2 1 2-1 1 0 3-2-2 0 1 0-2 0 3-2-2-2-1-1-2-1-1 2 2 1-1-1 1 0-3 1 2 2 2-2 1 2-2-1-2 0 3 0-2-3 0 3 1-2-1 2 0-2 0 2 0-1-2 3 0 3 2 1 1-2 0 2 3-1 1-1 2 1 1 1-1 0-2 3 0-1 3-2-2 0-2 0 2 0 2-1 3 0-2-2 1-1-1-1-1-2 2-1 2 2-2 3 0-2 0 0 1 2-1-1-1 0 2 1 1-3-1 2 0-2 2 1-2 0 3-1-3 2 0-2 2 2-2 0 1-2-1 1 1 1 0-2-1 1 1-1-2-3-1-2 3-1 1 0 1 0-1-1 0-2 1-3 1 2-2 0-1 0 1 1-2 1 2 1-2 2-2 1-1 3-2-1 3-1 2 2 1 2 2 1-1-1 0 2 1-1 1 0-2 2 0 3 1-1 3 2 1 2 0 1-1 1-1 0-2 1 1 1 1 3 0-1-2 1-2 0 1-2 1 3-1-1 0 0 2-1-3-1 2 2-1-1 1 3 0-1-2 0-1 0 1 0 3 3 0 1 1 2 1-2 0-1-2 1-1-2 1 2-2-2 2 1-2 0 3 3-2 0-1 1 2 2 1-2-1-1 1-1 1 0-1 0-2 0 1 2-3 2 2 0 2-1-1-2-1 1 1-1-1-1-1 0 3 0-2-1 1 3 1-2-1 1-1-1 0 1 2-2-1 2 0-1-1 0 1 0-2 1 2 1 2 1-1 2 2-3 0 1-1 1 0 2 0 0 1 1 1 0 2-3 2 2-1-3 1 0-2-1-2-2-2-1 1 3-1-1 1-3-1-1-1-3-1 2 0-2-1 1-2 1 0 3 0-2-2-3 1-3-1 1-1 1-1 2 1 1-2-1-3 1-1 2 1 2-2 0-2 0 2 0-2 1 3-2-2 1-1 0 1 1-2-1 2-2 0-2-2-1 2-3-1 0 1-1-2 0-2-2-2-1-1 3-1-1-1-1-2-2-2 1 0-1 0 0 1 0-2 2 2 1 1 1 1 0 2-3 1-2 1 2 0 0-2 0 3 3 1 2 0-1 3 2 1-2-1-2 3-1-3 0-2 2-1 2 1-2 3 2-1-1 2-2-2 1 0 2 0-1 0-1 1 0-2 0 2 1-2-1 2 2-2 3 0 0-2 1 1 1-1 0-2 1-3 1 0 2-3 1-2 1 3-1-2-1-1 2 1 1-3-1-1 1 2 2 0-1-2 2 2 2 2 1 2 0 1-2 1 0-1-2-2 0 1 1 3 0-2-2 2 1-1 3 1-2 0-1-1 0 1 3 0-2-3-1 3 3 1-2-2-2 2 3-1-2-1 2 2-2-2 2 1-1-2-1 3 1-2 0 2-2-1 1-3 2 0-2 3-1-1 2-1 1 2-2-1-2-3 2 0 0-1 2-2 1-1-2-1 1-3 2 2-1 2 0 2 2 0 2-1-1-1-2-1 2 2-3 0-2-3 2-1-2 1 2-1-2-1-3-1 0-3 0 3 2 1 1-3 1 0-1 1 2 0-1-1-2-2 1 1 1 1-3-1 1 1 2 0 1 0-3 2 2-1 2 3 1-2 0 2 0 2 1-3 1 2-2-1 0 2-2-1 0 2 1-2 1 1-1 1-2 1 2-1 1 0-1 1-1-1 2 0 0-2 2-2-2 0-1-2 1 1 0-3 0-2 1 3-3-1 0-2 0-1-2-3-2 3-3-1 3 0-2-3 2-1-2-2 1 0 2 0-3-3 3-1-1 1 0 3-1-1 2 0-2-2 1 1 1 1 0-1 0 1-3 0-1 1 1-2 0-2-2 3 0 2 1 0 2 2 0-1-1-1 3 0 1 1-1-3 2 2-3 2-1-1 1-2-1 0-1-1 0-2-2-1 1 0 0-3-2 0 2 1 1-3-1-2 1 2 1 2 1-2-2-1-1-3-2 1 0 2 0-1-3-1 0 2 2-2 0 2-1 0 2 0-2 1 2-2-2 0 0 2 1-2-1 1-1-1 0 2-1-1-1 1 1 1-2-1 1-1-2-1 1 1 1 1 2-1 0-1-3 1 0-2-3 0-1 0 3 0 1-1-1 2-1-2-1 0-1 1-2-2-1 2-1 2 3-2-1 2 0-3 2 1-1 2 0-2-2 2-1-3 3-1 0 2-1 1 2 0-1-1-1 2 0-3 1 3-2-3 3 2-1-1 1 2-1 0-2-2 0 2 1 2-3-1-1-1 0-3 3-1 0 1-1-1-2 2-3 0 0-3 1-1-1 1-2 0 1 2 2 1 0 2 1 0 2 2-2 0-1 2-2-2 0-2 3-2-1-2 0 2-1 2 3 1-2 0-2-2-2-2 3 1-1 0 2 0-1 1 0-1-1-1 2-1-2 0-1 2 1-2 1 1-1 3 1-2-2-2 1 1 2 0-1 1-2 0-1 3-1 0 2 0 2-1-3 1-1 1 1-2-1 0-2 1-2-1 0-2 3-2 1-1-2-3-3-1 3 2-3 1-1 0 1-2 2 0 3 1 0 2-2-1 1-3 0 1-1 1 2 0 0 1-3 0 1-2 2 0 1 1 0-4 1 0 1 2 2-1 1 0 2-2 2 0-3-2 2 2 0 2-1-2-1 2 1-1-1-2 1 1-1-3 1 1 1 1-2 1 1-1 1 1 2 0 3 2 1 3 1-1 2-1-1-3 1 0 1-2-2 0 3 0-2 0-2 1 1 2-2-1 0 1 2 0-3 1 3-1-1 2 0 2 2-2 1-1 2-2 2 2 1-1 1-2-3 2 0-2 0 1 0-1-2 0 2 2 0-2-3-1 2 1 1 2-1 0-1-2 1 2 0-1 0-3 0 1-1-2-3-1-2-1 3 0 0-3 2 0 3-1-4 1 3-2 3 1 0 1-2-1-2 2-2-1 2 1 0 2 1 1 1 3-2 1 1-3 0 3 1-3-1-3 2 1-1 3-2 2 0-2 2 3 0-1 2 2-1-2 2-2 3 0-1-2-2-1 2 0-2 1 3 1-2-1 0 2 1-3-3 1 3-2 0 3 0-1-2 1 2 0-1-1 1 1 0 2 2-1 0 2 0-2-1 0-3 0 1 2 1 0 0-2 1 2 1-1-2 1 0 1 0-3 3 0-1 1 1 0-1-1 1 0-3-1 2 3-2 1-2 1-1 0 3 1-2-2 2-1-2 3 1-1 0-2-1 0-3-1 2-2-3 1-3-2-1-1-2-2 2-1-1-3 3-1-1 3-1-2 2 2-1 0-1-3 0 1 2 2 0 2 0 2-1-2 0-2 1 1 2 0-1 1 0-3 1-1 3 1 2 0-1-1 1 0 0-2 0-2-3 2-1-3 1 1 3-1-2 0 1 0 2 0-3-1 3 0-2-1 3-1 1 2-1 2 0-3 2 1-2-2 0 1-2 2 2 0 0-3-2 2 3 1-3-1 2-1 0 1 0 3 1-2-2-1 2 0-1 2 0-2 2 0-2 0-2 0 1 0 2 2-1-3-1 3 2 1 1 1-2 0 1-3 0-1 0 1-1-3 1-1 1 2-1-1-2-2-3 0-2 1-1 2 0 1-2 0-3-2 2 1 2 0 1 0 1-1 0-2 0-2 1 1-1 1 1 1 2-1 2-1-2 1-1-2-1 3 1-1 1 2 0-1 0-3-1 1 1 2 1-2-1 2-2-2 1 1 3 0-2-1 0-1 0 1 0-2-2 0 3 1-2-2 0 1 2-2 0 2 1-1-2 1-3 1 0-1 3 0-1 1-2-2 1-2-2-2 0 1-2 1-1 1-2-1 1 2 2-2 0 2-1 0 0-2 0 2 2-2-2-3-1 3-1 1 1 3 1-1 1-1-1 0 0-4-1 1-1 3 1-1-1 2 1 0 2-2-2 1 1-2-2 2 2-2 0 1 1 2 2-2 1 0 2 0 2 0-2-2-1 0-2 1 1 2 0-1 1 2-2 1 1 2 0-1 0-3-2-1 1 3 0-1-2-1 1 1 2-1-1-1-1-1 1-2 0-1 2 1 1 0-1-3 0-1 3 0 1-1 0-2 0 2 0-2-1 1-1 1 1-1-3-1 3-1-2 1 1 1 2-1-1 1-2-1 2 0-3 0 3-1-3 2-2 1-1 1 1-1 3 0 3 0-3-1-2-2-1 1-2 0 3 0 0 3-2 1 1 0 1 2 1 2-1 2 0 2-1 0-1-2 2-1-3 0-1 2-1-1 0-2 0-2-1-1 2-1-2 0-3 0-2-2 1-1 1-1 1-2-2-2 2-1 1-1 2 1 0 2-1-1-1 1 1-3-1 1 1 3 0-2-2-2 1 1-1 1 2 0 1 2 2-1-2-1-2 1-2-1 2 2-3 3-1-2-1 1 1-1-3-1-1-1-2-2 3 0-2 0 3 0 1-1-3 0-1-3-2 1 3 0 1-2 1-1 3 0 1 1 1 2 1-2-1-2-1-1 2-1-2 1 1 3 1-2 0-2 1 2 0-2-1 3 2-3-2 1-2 1 1 0 1-3 0 2-3 2 1-1 2 0-2-1 2 1-1 2 0-2 0-1-1 2-2 1 2-1-1-1 3 1 2 0-2 0-1 1 3 0 1 0-1 0-1-3 1-3 2 0-2 2-1 1 3-1-2 0-2 1 3 0-1 4 0 1-1 2-2-1 2 2 1-1 1-1-2-1-2-1-2 0-1 1-2 1-2-2-1-2 2-1 0 1-1 1 0-3-1 1 2 3 0-2-2-1 2 2-2-3 2 1-2 1 0 2 2 0-2 3 0-2-1 1 1 3 3 1 1-2 2-3 0-2 1-2-1 1 2 1 0-2 1-2 3 2-2-1 2 1 1 2-1 1 0-2 0-1-2-2 1 0 1 0-1 2-2-1-3 1-1 0-2 3-2-2-2 2-1 1-1 1-2 2 3 0-2 2 3 0 1 1 0 3-1-2 0 1-1-1 2 1-2 0 0-2 1 2 2-1 2 0 2-1-1-2 0 2 1-1-2 1-2 1 2 0 0 1 1-3-4 0 2-2 0 2 0 2 2 2-2 1 1 2 2 0-4 0 1-3-2 1-1-2-2 2-1-1-2-1 2 1-2-1-1 1-2 1 0 2-1 1-2 2-2-2 0-1 1 0-2-1 0-3 0 1 1 2-1-1 2-1-2 0 1 0-3 1 2-1 1 2 0-2-1-1 1 2 2 2-2 1-1 0 1-2 2 1-1 1-3 0-1-2 1 0 0 1-3 1-1 3 3-2-1 3 1-3 0-2 0 2-3-1-2 2 2-1 1-1-2-1 0-1 2 1-2 2-1 2 1-1 2 1 1 0-2 2-1 1 3 0-2 2 2-1 1 1 0 1-1 1 1-1-2 0 2 0-3 1 3 0-2 1 1-3-1 1 4 0 0 2-3-2-3-1 0-3-1 2 0-1 0-1-1 1-2-3 0-2 1 2-1 0-1 1 0 2 1 2-3-1 0 1 2 0-1 3 1 3 3 0-2 1 0 1 2 1 1-1 1-2 2 0 1-2 2 0-2 2 1 0 2 0-3 0 2-2 2 1-3 0 2 0 0 2-1-2 2 1-2-1 1 1-2 2 3-1-3-1 3 0-3 0 2 1 0-1 0-2 1-2 0-1 1 0 0 1-2 0-2-1 1 1 2 1 0 3-2 2-2-1-2-2 0 4 2-1 1-1-2 1 0-2-1 0 3 1 2 0 1 2 1 1 2-2 2-1 1-3-1-2 2 1 1-1 1 1-1-3 0-1 1 1 1-2 1 2 0-1-2-1 1 2-2-2 2 2-2-1 2 0-1 0 1 1-1-2 2 2-2-1-1 0 1-1 1 3 2 2-3-1 1 1 1-2 2 0 2 0 1-3 0 1 1-1-4 0 1-2-1-2 1 2 1 1 0 1 0 2-2 1-2-1 2 0 1 0-1 1 1 0 0-3 2 2 0 3 1-1-1 2-1 1 2 1-2 0 0 2-1 3-2-1-2-1 0 1 2 2 1-3-1 1-2-1 3 1-2 0 2 3-2-2 0-2 1 2 1-2-3-1 0 1 0 1-2-2-1-2 1 2 0 2 3 0 0-1 1 1-1 1 2-1 1 0-1-1-2 3-1-2 3-1-1-3-2 1-3-1 3 1 3 1-2 2-2 1 0-2-1 1 0 3 1 0-1 0 1 2 0 1-3 0-1-1-3 0-1 1 0 2 1 1 0 3 0 1-2 1 1-1-1 1 0-1 1 2-3-1 3-1-1 2 2 2 0-3 1-1-1 2 2-2-1 1 2 0 1 1-1-1-1 0-2-1 2-1-3 0 0-1 0-1-3-1 2-3-2-2 2 0-2 0 1-1-1 2-3-1 0 1-2 1-1-1-3 0-1-1 1 1 2 2 1 2 0 1-1 1-1 1-2-1-1-1-2 1 0 2 0 2-1-2 1 1 0-2 1 2-2-1 1 1 0-2 1 3 0-2-1 0 3-1-2-1 1 0-1-3 1 1-3 0-2 2 2 0 0 2 1-1 1-2-1-1 3 1-2 1 1 3-3 1 2-1 1 1 1 2 2 2-1-2-4 0-2 0 0-1-3 0 0 2 2 2-2 0 0 3-2 3 0 2-1 0 2 2-2 2 0 2 0 1-1 2-3 2 1 1 0 1-1 2 0 2-1 3-2 1-1 2-2 2 0-3 1-1-2-1-2-2-1-2 0 2 0 2-1-3-1-1-2 0 1 3 1 0 1-1 0-1-1 0-4-1 2 1 2-2 2 1 1 2 0-2 2 1-1-3 1-1 0-2 1-2 2-1 3 0-1-2 0-2 0-2 0-2 2 0-1-2 3-1 0-2-1-1 2-1-1-2 1 0 1-3 1 0 0-3 2-1 2-1 1-1 1-1 2-2 1 1-2 0 3 2-2-1 2 0 1 2-2 1 2-2 2 1 3 1 1-2-3-1-1 2 1 2 2 1 2-1 1 2-1 1 1 0 2 2 2-1 1 1 3 2-2-1 2 2 0 2-1 2-1 1 2 1 2 1 0 2-1 2 0 1-1 3 0 1 0 2 0 2 1 2-1 1 1 2-3 1-1 2 1 3-1 1-2 2-1 2-1 2 1 2M1176 504l4 1 4 2-1 3 2 0 3 1 1 0-1 1 1 0 0-1 5-1 3 2 3 1 0 3M1193 516l1 0-1 0 1 2 0 3-2-1 3 1 0-1 1-3-1-1-1 2 3 0 1-3 1-2 0-3 3 0-1 2 1-1 1 3 3-2 2 1-2 1 1 3 1-2 1-2 1-1-3-2 2 1-2 2-2-1 0 1 3 1-3 1-1 2-2 2 2 1 3 0 1 1 1 1 1 0 2 0 2 0-2 3-2 2 0-2 2-1 2-1 1-1 1-1 0 2-2 0 1 2 1-1 2 2 2 1 1 2-1-1 1-2 2 0 0-2 1 1 0-3 0 3-1 0-1-2 1-1-1 1 1-1 0-3 0-2 2 0 1 1 0-1 2 2 1 0 1 0 0 1-3 2 1 2 2-1 2 3 1 1 2 1 2-3 1 2-2 0 2 1 2-1-1 1 1 3-2 2 0-3-1-1-2 2 1 0 2-1-2 0-1 2 2 1 1 2-1-1-3 0 0 1 1 3-2-2 2 0-2-2 1-1 0 2 2 1 0-2 0-2-2 1 4 1-3-1-1 1 1-1 0-2 0-1-1 3-1-1 2 2-1 1-1 2-1 1-2 2 0 2-1-3 0 1-3 1-2 0 2-1-1 3-2-1-2 1-2 2-1-1-1-1 1-2 1-1 3 0-1 0 2-1-1 2-1-2 1 1-3 1 2-1 0 3-1-2 1-3-1-2-3 1 2 2-3 0-2-1 0 1-2 1 1 1 2-1 0-3-2-2 0-1-1-1-3 1-1-2-1-2-1 0-1-2-2 1-3 1 3 1 1 2 2 1-1-2 3 0 0 1 1 3 2-1 0-2-2 2 1-2 0 1 2 2 1-3 2 0 2-1 2 1 3-1 2 0-2 1-1 3 3-1 1 2 1 1-1 3-3 0 0-1-2-2-2 0-1 2-1-1 0 2 2 1 2-1 2 1 2-1 1 0 1 1 2-1 1 0 2-2 1-1-2-2-1 2-1-3 1 0 1-1-2 0 2-2 3 0 0 1-3 1 1 2-1-2-1 3 0 3 0 1 2 1 1 2 2 1 2 1 1-2 3-1 2-1 2 2-2 0 3 0 0-3-1 3 1-2-1 1-1 3 1 2 3 2 2-1-1-3 1-3 1-2 3 1 3 0 2 0 2 0 0 1 2-2 0-2-3-2-1-1-1 1-3 1 2-2-1 2 3 0-2 1 2-1 1 3 1 1 0-3 0 2 3 1 2-2 3 1-2 2 1-1 1-1-1 3-1 1 2 0 2-1-3 0-3 0 3 1 0 1 0-1-1-2 1 0-1-3 1 0 1 1-3 0 2 3-2 1-2 3 2 1-1 2-1 3 1-2 1 2 0-3 0-2 1-1 1 0 1 1 1-3-1 3 2 1-1 1 3 0 1 3 2-1 1 2-1-1 0-1 3 1-2-1 0-2 1-1-1 2 0-1 3 2-2 2-3-2 0-1 0-3 2 2-1 4-2 0 1-1 2 2-2 0-2 0 0 2-2 2-2 0 2 1-1-2-3 2-2 1-1 2 0 3 2-1-2-2-3 1 2-2-1 2 0 2 2 0 1 2 1 1 2-1 2-1 1 2 1-1 3 1 0-1 4 0-3 0-1 0-1 3 0-2-2 0-2 0 2-1 2 2 2-1 1 2-1 2 1-1 1-1 3-2-2-1-1-2 2-1 1 0 3-2-1 2-2-2 1 2-2-1 1 1 0-1 3-2-3 1-2 0 0 3-1-1-1 2-2-2 2-2-2 1 2 0-2 0 3 0 1 1 1 1 2 3 1 0 3 1 0 3-2-1 0-2-1-2 0-2 1 3-1 2-2-2 0 1 1 0 1-1 2 0-1 2 2 1 0-2 1 2 1 1-1 2 1 1 0 2 1 2 2 1-1 2 1-2 1 1-1-1-3 0 0-1-2 1-1-3 1 1-1 3 1 3-1-1 3-1-2 1 0-2-2 1 0-2-1-1-1-1-1-2-3 0M1306 574l-1-3 0 1-1 0 2 1-2-1-1-1-1 2 3 0 3 1-2-1 0-1-1 0 1-2-1-1-1 2-3 1 2 0 1 1 0 2 3 0 0-1 1 3 2-1 1 0 1 0 3 0 2 0 0-3 2 0 2 2-1-1 2 2 2-1-1 1 0 2-2 1-2-1 2 0 3 0-3 0 0-1 1-1-1 1 1 3-1-2 0 1-3-2 2 3 1 1-2-2 1 1-2 2 1-1-2 2 1-2 1 1 2 2-2 0 1-2-2 2 2-2-2 1 1-1-1 1 0 3 1 1 2 0-1-1 1-1 2 0-1 1 0 1-2-2 1-1 2 1 0-2 2-1 2 0-1-2 1-1-3 1 4-1 0-2-2-1 2-3 1-1 2 2-2-2 3 0-2 0-3 1 2-2 1 2 3-2 2-2 1 2-1-2 1 1-2-1 0-1-2-2-1-1 2 1 1-3 1-1 2 0-1-3-1 0 2 2-2 2-1 1-1-1-2-1-2-2-2 0-1-2-1-1-1 0 0 2 0-2 3 1-2 0 0-1 0 3-1 1 2 1 1 2-1 2 3-2 1 3 2-2-1 0 0 3 2 0 3-1 0-1-3 0 0-2 2 1 1 4-2-2 2 0-3 0-2-2 1-2 2 2 0-2-1-1 3 0-1-2 4 0-2-1 1-2-1 1 2-1-1 0-1-1 2 2 3-1 2 1-1 0 2-2-1 1-2-3 2 0 1 2-2-2-1 2-1-1-2 1 3-1-3 1-1 3-1-2-1-1 1 0 0-2-3-1-1-1 2-2-2-1 3-1-3-1 2 2 0-2 0 2 2 0 2 1 2 0-1-1-1 2-3-2-2 3-1-2-2 0 1-1-1-2 0-3 2 1 0-2-1 0-1 0 3 0-2-1-1 3-1-2 0 2 0-2-1-1-2 1-3 0 0 1-2-2 2 2-2 0 0-2-1 2 2 1-2 2 3 1 1-2 0-2 1-3-1 0 3 0-1 2-1 0-2 0 1-2-2 3 0-1-1 1-2-3 1 4-2 1-2 2 0 1-1-3-3 1-2 2-1 1-2-1 2 0-2 0 1-2-2 2 2 0-1 0 2 2-2 0 0-1 0 2-1 1 2 0-1 1 2 0-1-2 1 4 2 1 3 0-2 0 2-1 0 2-1 3-2 0-1 0 1 2-1 1-2-2 2 1 2-2-2 2-1-1 1-2 0 1-3-2 2 2 2 0-3-2 0 2 0-3 1 2 0 1 2 2 1 1-3 1 0 2 1-1-1 0 1 2-3 0 2 0-1 2 1 1-1 3 0 2 1 1-2 1 0-1 0-2-2-1 2-1-2-1 1 1 0 1-2-2 2 1 0 2-2-2 2 0M1336 544l1-1 4-8-2 1-2-2 3-4-2-1 1-1 0-6-1 0 1-3 2-3 2 3 0-1 0-4 3-5 1 0-2-4 3-2 0-6 0 3 1-5-1-4 3 0-1 1 1-4-4-1 3-2-5-3-1-3 1 2 2-1M1359 477l1 0-2-1-2 3-2 0 0 2 1-2 2-1 2-1 2 1 3-1-1-2 0-1 0 2 3 1 2 1 0-3 2-1-1 0-1 3-2-2 1 0-1-1 2 0-2 1 2-1-2 3 1-1 1-3-1 2-2-1-1 0 1 2 0-3 2 2 0-2 2 0 1 1-1 1 2-2 0-2-4 0-1 2-2 2 0-1 2 1 3 1 1-1 2 1 1 0 2-1 2 0 2-2-1 1 0-3 2-2-1-1-2-2 3 2-3-2 1 2 1-1-3 0 2 2-2 2 0 3-1 0-2 2 0 2 1 3-1 3 0-2-1-1-1 2 3 0 3 0-1 1-2 1 2 0-1 0 1-2-1 2 0 1 2-1 2 1-2 2 1-2-1 0 1-2-2 1-3-1 2 2 2 0-2 1 3-2-1 1-2 0-2 2-3-1-1-1-2-2 0 2-3-1 0 2 0 2 1-2-2 2 1-2-1 1-1 2 0-1-1 2 2 0 0-3 0 3-1 2 1 0-3-2 2 2 2 1-1 2-1-1 0 2 2 1-1 2 1-3 2 0 2-1 1 0 1 3-2 0 1-2-1 1-1 3 0-3 2 2-2-1 1-2 1 2 2-1-1-1 1-4-3 1 2 1-3 1 1 2-1-2-1 2-2-1-1 1 2 0 2-2 3 0 0-2 0 3 2 1 1 0 3-1 2 1 1 1 1 1-1 2-2-2-1-1 1 3 2-2-3 0 0-3 0-4-3 0-1 1 2-1-1-2 1 0 0 2-2-1-3-2 2-2 0-1 0-3-2 0 0-4-2-1 1-1 1-3-1 0-2-2-2 0-2-2 0-1 2-1 2-2 3-1 2 0-2 0-1-3 0-1-2 1-1 1 0-2-2 0 1 2-1-2 0 2 3 1 1-2-2-1-2 0 0-1-3 0-1 0-2-2-2 2-1-1-2 1-3 0-1-1 2 3-3 0-2 1 1 1 3 1 1 1-1-1 2-3 1 0 0 1 0-1 1 3-2-3 2 1 2 0 0 2 1 2-1 1 3 0 1 2 2 2-2 2 1 2-2-1 2 0-3 2 1-1M1345 467l2 0-1 1 0-2-2 1 1-1-2 1-2 1-2-2 1 1-2 0-1-1 0-2-1 0 1-2-2-1 2-1 2-3 2 0-1-2 2 2-1 2-2-2 3-1 2 0-2 0 0-1 2 0-2 1 0 1 0 1-3 2-3 2 1-1 2-1-1-1-2-1 2 0 2 0-2-1 1-2 1 1-2-2 3 2-1-1 0 2-1-1 2 0-2 0 0 3-1-2 2-2 1-2 2-1 2 1 1 0-1 0-3 0-1-1 0 1 2-1 0 1 0-1 1 1 3 2 1 1-2 1 3 1 0 3 2 1-2 0 1-1-3 0-2 1-3 0-1 3 1 0 1 2 0-3 2-1 0-1-2 0 1 0 3-1-3 0 0-1 2-2 1-2-1-3 2 0-1 2 3-1-3 0 3 2-3-1 2-2-2 2 1-2 1 2-1-2 0 2 0-2 1 1 2 2 1-2 1 1 1-1-1 1 0-1-2-1 2 1 3 0-2-3-1-3-2-1 1-1 2 2 0 1-2 2 2-1 0-2-1 1-2-2 1 2 1-3 0-2-1 2-3 0-2-1 1-1-2-2 2 2 2 0 2 0 3-2-1 3 1-3-2 2 1-3-2 2-3 0-1-1 1-2 1-1 2 2 0-2-2 3 1-2-2 2 2-2-3 1 2-1 2 0-2 1-1 1 0-2-2 2 2-3 0 3-2 1 1 0 3 0 2-2 0-1 0 1 2 0-2 0 2 1 0-2-2-1 0-1-1-3-1 0-1 1-2 2 2-2-1-2-3 1-1 0-1 1-2-2-2-1 0 2 2 2-3 2 0-1 0-1 2 1-2 0 0 2-2 0 1-1-2 0 3-2 1 3-2-2-1 2 2-2-2 2 0-1 3 0-1 0-3-2 1 2 2 0 0-3 0 1-2 3 1-2 1 1 0-2-2 0 0 3-2-1-1 1-1-1-1 1 1-2 1 3-2-2-3 0-2 1-2-1 0-1-1 0-1-2 3-1 2 1-1-1 1 3 3 0-3 1 0-2-2 0 0 4 1-1 2-3-2 2 2 1 3 0-1-1-1-2-3 0 2 3-2-2 0-3 0 3 1-3 0 3 0-2-1 2 3 0-2 0 1-1-1 1 1-2 0-2-2 1-2 2 1-2 0 1 1 2-1-1 1 2-2 3 2-1 0-1 0-1 3 0 1-2 1 0-1 3 0 1 2-2-2 2 0 2 0 2 2-1 1-3-2-2 1 1-2 1-2-2-1-3-2-3 1-1 1 2 1 2 2 0-3 0-1-1 3-2-2 1 1-3-3-1-1 1 1 2 1-2-2 1 2 1 2-2-3 0 2 1-2 2 1-1 1-1-3-1 2-1-1 0 2 1 1-1-2 2 3 1-2-1-2 0-2-2 1-2 2-1 2 2-3 2 2 0-1-1 2-1 1-1 0 3 3 1 1-3 2 2-1-3 1 2 0 2 0-2 2 2-2 3 1 0 3-1-2 1-1-2 1 2 0-1 0-4 1-2 3 2-2 0 0-1 2-2-1 1-1 2 2-3-2 1 0 3 1-1-1-1 1-1-1 1-1-2 0 3 1-3 0-3-1 2 1-2 2 0-1 2 0-3-1 3 1-2-1 2 0 2 1-1 2 0 1-1 1 3 0-2 2 1 2 0-2 0-3 0 2-1 1-2 1-1 0 2-2-3-2 2 0-2 2 1-1 1 3 1 0-3 2 0 0 3-1-2 0 1 0 2-2 0 0-2 2-1 0 2-2 1 1-3 2 2-2-1 0 2 1-3 0 2-2 0 2-1 0 2-1-2 2 1-2-1-2 0 2 3 0 1-1-1 1 1 0 2-1-1-2 2 1-2 1-3 0-2-1 0-2 0-1 2-2-2 0-1 0 2-2-2 0-2 2-1 1 1 1 1 2 1 1 3 0-3 2 0 2-2-1 0-2 1 0-2 2 1-1-1 1 0-2-1 0-1 2 1 3-1-3 1 0-3 0 2 1 1-2-1 1-1 1 2-2-3 0 2 1-1 1 3-1-1 1-1 0 2-1-1-1 2-3 1 2 2 1 2-2 0 0-2-1 1 1-1 2-1 0-3-2 0 1-3-2 3 0 2 1-1-2-2-2-2 1-3 2-2-1 1 2 2-1 1 2 0 2-2 1-1 1-1-2-1-2-1-2 0-2 1-2-1 2 2-1 1-1 2-2-1 0-1 0 1 1-2 1 4-1-1-3-2 1 2 1-2 0 1 2-1-2 0 1 2-1-3 0 2-3 0 1 3 2-1-1 0 0 2 1 0 3-1 1-1 1 0 3-1 3-1-2 0-2 1-1-1 1 1 0 3 2-2-2 0-1-1 0 2-1-2 2 0-2-1-3-1-1 3-2 0 2 0 0 2 2-1-1 2-3-2 1-1 2 3-1-3-1 1-2 0-2-2 0-2-3-1-1 2 2-1-1 1-2 0 0-1 3 2-2-2 1 1-3 0 1-1 0 1 1-2 1-2 0-1 1 3 0 2-1-2 1-1 0 3 2-1-2 3 2 0 0 3 1 1 0 1-1 1 0-3 0-1-2 1-1-1-1-3 0 3 1-2-1 2-2-1-2-1 0 2-3-1 0-1 2-3 1 0 2-2 1 1-1-3 2-1 1 0 3-2-1-1-3-1 2 0 0-1-1-2 1 1-1-2 0 3 3-2-3 0 3 1-2 0-2 0 3-1-3 2 2-2 1-2 2-2 0-1 2-2-1 2-2 1-2 1 3-2-2 0 0-2-2 0 1-1 1 1 3-1 1 0-2 3-2 0 0 1 0-2 0-1 0-1 3 1 1 0 1 0 0-1-3 2 3-2-1-1 3 2 3 0-2 1-1 2 0 1-3 0 1 1-1 2 2 0-1 0 2-1 0 1-2 0 2-2-2 1 0 1 1-1-1 2-1-1 3 0-3 0 2-2 0 2 1-2 0 3-2-2 1 2 0-3 1-1 0-1 2 2 2 1-2-2-2 0-2 1 3-2 0-2-2 1-2-1 0-3 0 2 3 0 1-2 0-3 2-1-2 1-3-1-1 3 0-2 0 2 3 0-1 0 0-2 2 0-2 2-1 1 1 2 1-2 0 1 1 2 2 2-1-1 2 0 1-3 0 3-3-1 2 0-1 0 1 0-3 0 3 1 0-2-2 3 1-2 2 1 1 2 1-1-1 1 0-2 0 4 1 2 3 0 2 0 0 2 1-2 1-2 1-2-3 0-1 1-2-2-2 2 0 2 1-2 2 0 0-1 2 0 2-2 0-1-3 1 2-3 0-2-1 0 2-2 1 2-3 1 3 1 0 2-1 2-1 0 2-1-3 0 3-2-1 2-2 1-1-1 1 0 3 0-2-1-2 2 2 0-1-2 1 1-2-1 1 0 1 1-1 4 1-3-2 3 2 0-2 0-2 2 2 0 2 1-2 0 0-1 2 3 0-3 1 2 1-1 3 2 2 1-2 1-1 2 0-2-1 0 0-2 2 0-3 1-2-2 2-3 2 1-2 0-2-1 0-3 0 3-2 0-2-2-1 2 1 2 1 1 0-1 3 1-1-1 0-4 2 2-2 0 3-1-3 0 1 1 0-2 1 1-1 3 1-2 0-1-1 1 2-1 2 3-2-3 1-2 3 1-2-1-1 1-1-1 1-1 0-1 1 2-2-1 0 2-1-2 0-2-1 1 0 2 1-1 0-1 0 3 3 2 1-1 3 0 1 2 0-2 0-1 0 2 2 3 0 2-1-1 1-1 1-2 1-2 0 2 1 0-1 3 1-2 1-2 1 3 1-3-2 0 0 2-1 2 0-3 2 2-2 0 2-1-2 2 1-2-1 1 2-1-1 1 0-3-3-1 2-1 2 3 0-3-1-3 2 2 2 0 1-2-1 1 0-2 1 2 1 1-2-1-1-1-2 1 1-3 2 1 0-3-2 2 2 0 0 2-1-1-2-1 2 1-1-1 1-1 1 0 2 0-2 0-2-1 2 0 1 2 3 0 1 3-1 1 2 2 1 1 0 3 0-2-2 2 1 1 0-1 1 1 2-2-3 1 3 1-1-1-2 0 2 0-2 0 0 3-1 2 0-2 0-1-1 1-1-1 1 3 1 0 0-3 1 2 2-2-1-2 2-1 2 1-2 1 4 0-2-3-1-2 0 2 3 0 2 0 1 2-1 1-3 0 2 1 3-1 1 2-3-1 0 2 1 0-2-1 1-1 2 0-2 0 1 0-2 1 1-2 0 2 1 0 0 2-1-2 1 3 0-4 1 3-1 0 2-2-2-1-1 2 2 0-2 0 2-2 0 2-1 0 2 2 0 1-2 0 0-2-1 1-1 3-1-1 1-2 1 2-1-1 1 1-3-2-2 3 1-1 3-1 0-2 1 2 0-2-3 0 2 2 0 2 2 0 0 3 2-2 1-2-3 1 0-2-3 1 1 2-1-1 1 0-1-1 1 0 0 3-2-3 1 2 1-3-1 2 1 0-2 0 2 0 0-2-3 2 3 1 0-2-3-1 3 2-3 0 2 0 0 3-1-2-1 3 1 2-2-1 0-2 1 2 2-1 0-1 1-1-2 1-2-1-1 0-1-1 0-2 3-1-1 2-2-2-1 3 1-2 2 1 2 2 0 2-2-1-2 0 3-2-1 1-1-1 0-1 1 3 3-1-1 1 0-3-1 4 1-2-2-2-1 3-3-1 1-2 2 0-2 1 2 0-1-1 0 1 1 0-3-1 1 1 3-1-2-1 2 2-2-1 1 1-2-1 2 0 0-1 0-3 0 2-2 0-1-3 1 1-3 0-2 1 0-1 1-1 2-2-1 1-3 2-1 1 1-1 2 2 1 2 0 1-2-1-2-1-2 2 0 1-1 3 1 0 2 1 2 0 1-1 0-1 1-2 2 0-1 2 0 1 2 1-1 3-3 0 0 2 1 1 0-2 1 3-1-2-1 1 0-1 2 0-2 0 1 1-2 0 2-1-1 3-1 1 2 1 2 1 1 2-1-3 0-2 2 0 1 1 1-1 1 0-2 0-1 2 3 2-1 1 3 0 3 1 0-2-1 1-2 2 1 1 3 0-1-2 0 2-2 3-1-1-1-1 1-1 2-2 0 3-3 0-1-2-1 1 0-2-1-1 3 1-2-2 2 0-3 0 2 1 0-3 0 1-2 0 2 2 1-2-3 0 1 0 2 2-3-2 3-1-1 1-2-1-1-1-3 0 3 1 0-1-1 3 2-2-1 2 1 1 2-1 2-1-1-2 1 1 2-2 2 0-1 2 2 0-1-1 2 2-1-2 2 0 0 2 2 1-1-1 0 2 0-3 1-3 3 2-1-2-1 1 2-2 0 2 0 1-2 2-1-2 0-1-1 2 3 0-2-1 0-1-1 1 3-1-1 1-2-1 3 0-2 0 1 3-2-2 3-1-2 2-1-2 2 1 2 1-2 2 1-3-3-2-1-1-1 1-1 0-2 3 2-1 2-3 1 3-2-2-2-1 1-1-1 1 2 2 3 0 0-2 0 1 1-1 2-1 3 2 3 1 2-2 1 0-3 0 2-2 2 1 0 2 0 1-2-1-2-2 4-1-1 3 1 0-1 1-2-1-1 2 3 0-2-1 2-2-2 2 2 0-2 0 2-1-1 3 0-1 1-3 0 2-2 1 1-2-3 1 2 0 2-2 1 3-1 2 1 2 2 1-3-1 1 1 3 0-2-1 2-2-1 2 2 1-3 1-2-2 1-2 0 2-1 0-3 0-2 0 1 3 1-1 2 1-2-2 0-3-2-2 1-1-1-1 2 1 0-2 0-2-1-2-3 0 2 0-1-1 3-1-3-1 0-1 1 0-1-3 1 0-2 2 2-2 2 1-2 1 1-1-3 1 2-2 1 1-2 1 0-2-3-1 2 1-3 0-1 0 2 2 3-2 0-1-2 1-3 0 2 2 1-2 2 3 2-2 3 2 1-3 1-2-1 0 3 0 2 0-1 0 3-1-1-2-1-1 2 0-2 1-1-1 0-3 0-1-1 0 2-2-2-1-1-1 1 1-2 0-2-1 2 2-3 1-2 1 1 1 2 1-1-1-2-1 1 0-1 3 2-3-1 2 1-3-1 1 0 3 1-1-1-3 2 2-1-3 0-1-1-2 1 1-2-2 0-2-2-2-1-2-2 2-1-3-3 1-1 1-1-3-1-1 2-1 3 0-1 2 2-1-2 2 1-1 2 0-1 3-1-2 1-3-2 0 2 2 0 2-1 1-1 3 2 0 0 3 2 0 2-1 1-1 2 1 0 2-1 2 0 3 2 2 3 0 1 0 1 2 1 0 0 2 2 2 1 3 2 0-1-3 0 2 0 2 1-1 1-3 1-2-2 3 2 1 2 2 1 1 1 1 2-2 3 1-3 0-1-1-1-3 0-2-2 0-2 0 2 1-1 1 1 1-1 2-2 2 1-1 2 1-2-2 0-2 1 1-1 3-2 2 2 1 1 2-3 0 0 2 3-1 2 1 0-2 2-3-1 1-2-1 0-3 0 1 2 0-1-3 1 2 0 2-2-2 2 2 0-1-1-2 0 1 0 3-2 2 0 1 1 0 3 0-2-1-2 2-1-2 2 1 0 2 2-1-1 2 0-1 2 1-1 2 1 1 1-1 1 2 0 2-3-1 2 1 0 1 2-2 2 1 1-1-1 0 1-2-1-2-3 1-1-3 2 0 2-1-2-2-1 1 3 1 0-3-1 2-1 1-2-2-2 0 1 2 1 0-2 0 2 0-2-1 2-1-1 2 1-3-1 3 0-2 1 3 1-2 0-2 0-3-2 1-1-2 2 1-1-2-1 2-1 1 3 2-3 1-2-3 1-1 2 1 0 1-2-1 2-1-2 1 1 2 0 3 2-1 0 1-1 2 3 0-1 1-1 0-2 0 3-1-1 1-2-2 0 2-3 1 3 1-3 1 1 2 1 1 1 2-1 1-1-2-3-1 0 3 2-2-1 1 2-1-1 0-3 1 2 0 1 0-1 3 1-2 0-1-2 1 1 3 1-2 1 3 2-2 2-2 0 2-2 2-1-2-1 0-1 2-1-1-1-1 0 2 0 3-1-2 0 3-3 2-1-2-1 0-1 0-1-1 0-1 1 2-1-3-1 2 0 1 1-1 2-1 1-1-3-1-1 2 1-1 2 0-2-1 0 2 2-1 1 3 0-3-2-1 2 2-3-1 0 3 3-2-1-1-1 0 1 1-1 0 2-2-1 2-1-3 0 2 1-1 2-2-1 3 2 0-2 1 3 1-1 1 1 1-1-1-3 0 1-1 0-1 0-2 2-1 2 3 1 2 2-1 1 1 0 3-3-2-2-1 1-1-2 1-2 0-1 2 2-1 2 1 3 2 3 0-1 1-1 2 0-1 0 2 3 0-1 1 1 2 2 2 0-2-2 1 2-3-2 2 0-1 2 2-1-1 1-1-1 0 1 0-2 1 2-1-2 0 2 1 0 2 0 2-2-3-1-2 1 0 3-2 1 1-1 3 1-3 3-1 0-1-2-1-2-2 0 2 3 1 2 1-1 2 1-3-2-1-3-2 2-2 3 0 1-1 0 3-2 0 3 1 1-1-1 2 1 2 0-2-3 1 3-2-1 1-2-1 0 2 0-2 1 1 1 1 0-3 0 2 1 0-2 2 0-3 2 1-2 1 2-1-2 1 3 0-1-2 0 2-2-1-1-2 0-2-3-2 0 2 1-2 2 2-2-2-1-1-1 2 1 1 1 2-1 3 2 1 3-1-2-1 0 2-2 0 2 1 0-1 3 1 2 2-2-2 1-2-2-2-3 1 1 3 2-2-1-1 3 1 1-2 1-1 1-1 0-3 0-1-2 2 2-1-2-2 0 1 0-1 0 3 1-2-2-1 3 1-1-1-2 1 2-1-2 0 2 1-1 0 0-3 0 2 0 2-1-3-2 0 3 1-2-2 1 0-1 1-2 2 2-2-2-2-1-2 3 0 1 1 2-2-1 1-2 1 3-1 2 1 1 0 2-1 0 2 1 2 0-2 2 2-2 0 2 1 2-2 0 2 2-1 1 1 1 3-1 1 2 3 0 3-1 1-1 3 0-2-2 0-3 0 0-1 2 1-2-1 2-2 0 3-1-1 1 2 0-2-1 0 3-2-1 2-3-1 0-2 2 0-2 0-2-1 3 1 2 1 2-1-2 0 0 2-3-1 0 3-1 1-2-2-1-3 1-1 0 2 1-2 2 2 1 1 1-3-1 1 0 1 1-2-3 2-1 2-1-2 2 0 2-1-1 0 2-1 1 2-2 0 0-2-2 0-1 0-1 0 0-1-2-1 0-2-2-2 0-2 0-3-2 0-1-1-1 0-3-1-1-2-2-1-1-2-1-1 0-2 1 2-1 3-3-1 2-1 3-2 2 1 0 2 2 1 0-2-1 0 1 3 3 1-1-2-2 0-3 0 0-3 1 2-2 1 0 2-1 2-2 0 0 3 1-1-1 2-2-2-1 0-1 0-3-2 3 0 1-2-2-2 1-2-2-2-2 2 2-1-1-1-2-1-2 0-1-3-1-1-2-2-2 0-1-3-1-1-2-1-1-2 0-3-1-1 0-1-2-2-2-3 2 1 1 1 0 2 0-2-1-3 0-3 0 3 2 1 3-1-2-2 2 1 2-3-1 0-3-1-3 1-3 0-2-1 1-2 1-1-1 1-2 2 1-1-2 1-1-1-3 1-1-2-2-2-1 0 1-2 0 3-2-1-1 1-1-1 0-2 0-3-2-3-3 1-2-1 0 1-2 1-3 1 3-1-3 0 3 2 0-3-2 0 2 1-3-1 2 2-2-1 2 0-2 1-2 2-1-2-1-1 1 0-1 0 1 0 2 2-3-1 1-2 1-1 1 2-2 2-2-2-1 1 0-2-1-1-1 3 0-2-2-1 2-1 2 0-2-2-2 0-1 2 1-3-2 2-1 0-2-3-2 0 0 1 2 1 1-3 0-2-1 0-2 1 3-1-1 1 0-3-1 2 2 1-2-2 1 3 0-2 1-1-1 2 0-2 0 2 2-2-2 1 0 2 2-3 1 0 2 2 2 2-3-1-2 1 0 1 0-1-2 2 2 1-2 1 2 0 2 1 1 0 1 2-1-2 0 2-1-1-3 1-2-2 1 2 0-2-2-2-1-1 1-2-2 1-2 1 1-3-1 1 1-2-2 0 0-2 0-3 0-2-3-1-2 3-2 1-2 2-1-2 2-2 0 1 1 1-1-1-2 2 2-2-1 2 1-1 1 3-1-1 0-1 0-2 0 3 0 3-2 0 0-1-1 2 2 2-2-1-2 0-3-1-2 0-2-2 2 2 1 1-2-1-2-1 3 0 1 2-1-2 2 0-3-2-2 0 2 2 2-1 3 0-2-2 2 0-1 1 0-3-3-1 3 2-1 1-2-1 0 1 0 1 1 2-1 0 1 1-1 1-2-2 1 1 1-1 0 1 1-1-1 1 1-1-2 2 1-2 3 0-1 0-2 2 0-2 1 3-1 1 2-2-1-1-1 2 0-2-2 3-2-2 2 1-1-1 1-1 1 2-3-1 1 2-2 0 2-2 0-2 2 2-1 0-2-2-1 0-3 0-1 1 3 0 2 0 0 2 1 2 1-1 2 0 2-1-2 2-1 2 0 1 1 2 2 0-2 2 1 1 2 1 2-2-2 0 0 1 0-1-2 0 2 1-1-1 1 1 1-2-1 2 0-1 0 3 0-1 2 0 0-2 1 1-3 0 0 2-1 3-1 3 0 1 0 3 1 1 1 1 1 1 0 3-2-1 1 2-2 2-1-1-3 0 1 2-1 0-1 0 1 1-3-2 1-2-1 3 1-2-2 0 1-2 1 2-2 0 0-1-3-1 1-3-2-3 1-1 2 0 2-1-1 1-1-1 1 1 0-2 0 1-1-3 1 2 0 2-1-2 2 2-2-3 0 2 1-1-3 0 1-2-2-1 3 0 3 1-1-3-2 1 2-2 1 1-2 1 0 3-1 0-1 3 0-1 2 0-1-2-2-1 1-1 1-2-1 2-2-1 2 2 2-1-1-2-1-1-1 2 2 0 1-2 1 2-3-1 2 3-1-1 2-2 3-1-2 0-2 0 2-2-1-2-2 0 1-1 0-3-2 0-2-2 2 1-2-2-1 2 3 1-1-1-2-2 1 1 0 3 0-3 2 0 1-1-1-3 1 2 1 0-2 0 2 2-3 2 3-2-1 0 0 1-1 1-3-1 1 1-2 2-2-2-1 1 2-1 3 0 2 1 0 1-2-2-1 1 0-2-2-1 0-3 0 2 1-1 1-1-2 1 1-3-1-3 2-1 0-2-1 2-3 1 1-2 0-2 1 2 3-1-2-1-3 2 2 0 2-1-3 1 2-1-3 1 2-1 1 3-1-2 1-1-1 2 0 2 1-2 0-3 1 0 1 2 0 2-2 0-2-2 1 0-2-1-2-1-1 2-1 0-3 0-3-2 1 3-1-1-1-3-1 2 3 1 1-1-1 1-2-1-1 1 3-1-1 2 0 1 2-1-1 0-3 1-3-1 1-2 2-2-1 3 0 2 1 0 3-1-1 0 1-2 1 1-1 1-3 0 2-1 1 3-2-1 2-2-1 1 2 0-2 2-1-3 1 3 0 1-2 0 1 0-2 1-2 2-2 0 1-1 2-2 0 1 0 3-1 2 0-2 0-3 2 0 0-2 1 1 1 1 2 1-2-2-2 1 2-1 0 2 3 0 1 1 2 3 2 1-3-1-1 3-1-2 3-1 0 2-2-2 0 1 1 0-1 0 2 1 0 1-2-1 2 2-1 1 1-2-3 0 3 1-2-2 1 1-2 0 1 0 1 1 0-2-2 1 3 2-2-1 2 0-1 3-3-1-1-3 2 3-1 2-1-2-1 1-1-2-2 1 1-1-2 2-3 0 2 1 0-2 1 1 2 0-1-2 3 2-2-1 1 0-1 2-1-2 2 3 0-3-2-2-1-3 1 0-2 2 1 2 2 0-2 3 3 1 2-3-1 3-2 1 1-2-1 0 0-3 1 3-2 0 1 0 1-3 0 2-2 2 3-1-2-1 3 0-1 0 2-1 1-1 1-1 1-2 2 1-2 0-2 1 1 1-3-1-2 0 1-2 1 1-2 0 0 3-2-1 2-1 1 2-3 2-3 1-1 0-2-2 2 0 0 1 1-1 0-2 3 2 1 1-2-1 1 2-3 0 1-1-2 0 0 4 2 1 1-1 1 2 1-3 0 1 2 2 2-3 2 2-1 2 1-3-2 2 2 1 0-3-1 3 2-2-3 0 2 2 0-2-2 0 1 3 0 2 1-2 2-1-1-1 3 0 1-3 0 1 2 0-1 2-2-2-1 1-2 0 0-2 2 1 1-2 2 0 0-3-2-2 3 2 2 1-2-1 1 1 1 3 1-1-1-2 1 3-1 3 3-1 1 1 3 1 1 1-3 1 1-1 2 0 1-2 1 3 1 3 2-1 2 2 1 2 2 2 1 1 1 1 2 1 2-1 2 0 2-1 1 1 2 1-1-2 0 2-2 0 1 3-1-3 2-2 2 0 3 1-1-2 3-1 1-2 2-2 1 1 1 0-1-1-2-2 0 2-1 1 2 0 3 0-1 1 2 0 0-2 1 1-1 2 1-1 0 3 2 2-3 1 1-1 2 2 1 2-1 3 0 1 0 1 1 2 1-1 1 3 2-2 0 2-2-2 1 1-1-2-1 2 2 1-1-2 1 3 1-2-3 1 2-1-2 0 2-1 0 2 1 0 1 2 0 3 2-1 2 1 2-1 1 0 3-1-2 1-1-1 1 2-2-2-1 2-1-1-1 0 0 2-2-2 0-2-1 1 1 2 1 0-3 0 0 1-1 1 1 2 1 1 2-2 0 2 1 3 0-3-2-2-1 3-1-1 0 1 0-2-2 2 0-3-2 2 2 1-1-1 1 1 0-2 0 2-2-2 2 1 0 1-2-2 2 2 0-1 1-1-3 0 2-1 1-2-2 0 2 0 1 0-2-2-2 1 1 2-2 2 3-1-2-1 1 1 0-1 2 0 3 1 1 2-1 2-3 0-1 3-1 1 3 1 1-1 1 1 2 2-1-1-3 0-2 2 0 1-3 0-2 1-1 0-1 1 0 4-2 0-2 1 0 1-2 1 0 3-1 3-1 1-2 0-2 0-1 1 1 1-1-3 2 2-1-1-1 1 2 1" fill="none" stroke="#f00" stroke-width="3.2" stroke-linejoin="round"/>
<path d="M466.3 4.4A267 267 0 0 1 733.3 271.4M466.3 538.4A267 267 0 0 0 733.3 271.4" fill="none" stroke="#505050" stroke-width="1.2" stroke-dasharray="10.6 9.9"/>
<path d="M466.3 538.4v-10.7M466.3 4.4v10.7M479.7 538.4v-5.3M479.7 4.4v5.3M493 538.4v-5.3M493 4.4v5.3M506.4 538.4v-5.3M506.4 4.4v5.3M519.7 538.4v-10.7M519.7 4.4v10.7M533 538.4v-5.3M533 4.4v5.3M546.4 538.4v-5.3M546.4 4.4v5.3M559.8 538.4v-5.3M559.8 4.4v5.3M573.1 538.4v-10.7M573.1 4.4v10.7M586.5 538.4v-5.3M586.5 4.4v5.3M599.8 538.4v-5.3M599.8 4.4v5.3M613.1 538.4v-5.3M613.1 4.4v5.3M626.5 538.4v-10.7M626.5 4.4v10.7M639.9 538.4v-5.3M639.9 4.4v5.3M653.2 538.4v-5.3M653.2 4.4v5.3M666.5 538.4v-5.3M666.5 4.4v5.3M679.9 538.4v-10.7M679.9 4.4v10.7M693.2 538.4v-5.3M693.2 4.4v5.3M706.6 538.4v-5.3M706.6 4.4v5.3M720 538.4v-5.3M720 4.4v5.3M733.3 538.4v-10.7M733.3 4.4v10.7M466.3 538.4h5.6M733.3 538.4h-5.6M466.3 511.7h3.3M733.3 511.7h-3.3M466.3 485h3.3M733.3 485h-3.3M466.3 458.3h3.3M733.3 458.3h-3.3M466.3 431.6h3.3M733.3 431.6h-3.3M466.3 404.9h5.6M733.3 404.9h-5.6M466.3 378.2h3.3M733.3 378.2h-3.3M466.3 351.5h3.3M733.3 351.5h-3.3M466.3 324.8h3.3M733.3 324.8h-3.3M466.3 298.1h3.3M733.3 298.1h-3.3M466.3 271.4h5.6M733.3 271.4h-5.6M466.3 244.7h3.3M733.3 244.7h-3.3M466.3 218h3.3M733.3 218h-3.3M466.3 191.3h3.3M733.3 191.3h-3.3M466.3 164.6h3.3M733.3 164.6h-3.3M466.3 137.9h5.6M733.3 137.9h-5.6M466.3 111.2h3.3M733.3 111.2h-3.3M466.3 84.5h3.3M733.3 84.5h-3.3M466.3 57.8h3.3M733.3 57.8h-3.3M466.3 31.1h3.3M733.3 31.1h-3.3M466.3 4.4h5.6M733.3 4.4h-5.6" stroke="#000" stroke-width="1.0" fill="none"/>
<rect x="466.3" y="4.4" width="267" height="534" fill="none" stroke="#000" stroke-width="1.2"/>
<g font-family="Liberation Mono, monospace" font-size="21" fill="#000" stroke="#000" stroke-width="0.3"><text x="461.2" y="17.9" text-anchor="end">100</text><text x="461.2" y="145.1" text-anchor="end">50</text><text x="461.2" y="278.6" text-anchor="end">0</text><text x="461.2" y="412.1" text-anchor="end">-50</text><text x="461.2" y="538.8" text-anchor="end">-100</text><text x="467.3" y="564.9" text-anchor="middle">0</text><text x="520.7" y="564.9" text-anchor="middle">20</text><text x="574.1" y="564.9" text-anchor="middle">40</text><text x="627.5" y="564.9" text-anchor="middle">60</text><text x="680.9" y="564.9" text-anchor="middle">80</text><text x="734.3" y="564.9" text-anchor="middle">100</text></g>
<text transform="translate(598.2 588.3) scale(1 0.84)" font-family="Liberation Mono, monospace" font-size="21" stroke="#000" stroke-width="0.6" text-anchor="middle">x (AU)</text>
<text transform="translate(392.1 272.7) rotate(-90) scale(1 0.84)" font-family="Liberation Mono, monospace" font-size="21" stroke="#000" stroke-width="0.6" text-anchor="middle">z (AU)</text>
<text transform="translate(627.3 30.1) scale(1 0.95)" font-family="Liberation Mono, monospace" font-size="21.5" stroke="#000" stroke-width="0.6">30 deg</text>
<text transform="translate(682.5 510.2) scale(1 0.875)" font-family="Liberation Mono, monospace" font-size="19.5" stroke="#000" stroke-width="0.6">(b)</text>
<path d="M103.5 887.5A15.7 15.7 0 0 0 103.5 863.5M113.6 899.6A31.4 31.4 0 0 0 113.6 851.4M123.7 911.6A47.1 47.1 0 0 0 123.7 839.4M133.8 923.6A62.8 62.8 0 0 0 133.8 827.4M143.9 935.7A78.5 78.5 0 0 0 143.9 815.3M154 947.7A94.2 94.2 0 0 0 154 803.3M164.1 959.7A109.9 109.9 0 0 0 164.1 791.3M174.2 971.8A125.6 125.6 0 0 0 174.2 779.2M184.3 983.8A141.4 141.4 0 0 0 184.3 767.2M194.4 995.8A157.1 157.1 0 0 0 194.4 755.2M204.5 1007.8A172.8 172.8 0 0 0 204.5 743.2M214.5 1019.9A188.5 188.5 0 0 0 214.5 731.1M224.6 1031.9A204.2 204.2 0 0 0 224.6 719.1M234.7 1043.9A219.9 219.9 0 0 0 234.7 707.1M244.8 1056A235.6 235.6 0 0 0 244.8 695M254.9 1068A251.3 251.3 0 0 0 254.9 683M265 1080A267 267 0 0 0 265 671" fill="none" stroke="#222" stroke-width="1.8" stroke-dasharray="1.8 5.2"/>
<path transform="matrix(0.97 0 0 1 2.8 0)" d="M103.5 887.5A15.7 15.7 0 0 0 103.5 863.5M113.6 899.6A31.4 31.4 0 0 0 113.6 851.4M123.7 911.6A47.1 47.1 0 0 0 123.7 839.4M133.8 923.6A62.8 62.8 0 0 0 133.8 827.4M143.9 935.7A78.5 78.5 0 0 0 143.9 815.3M154 947.7A94.2 94.2 0 0 0 154 803.3M164.1 959.7A109.9 109.9 0 0 0 164.1 791.3M174.2 971.8A125.6 125.6 0 0 0 174.2 779.2M184.3 983.8A141.4 141.4 0 0 0 184.3 767.2M194.4 995.8A157.1 157.1 0 0 0 194.4 755.2M204.5 1007.8A172.8 172.8 0 0 0 204.5 743.2M214.5 1019.9A188.5 188.5 0 0 0 214.5 731.1M224.6 1031.9A204.2 204.2 0 0 0 224.6 719.1M234.7 1043.9A219.9 219.9 0 0 0 234.7 707.1M244.8 1056A235.6 235.6 0 0 0 244.8 695M254.9 1068A251.3 251.3 0 0 0 254.9 683M265 1080A267 267 0 0 0 265 671" fill="none" stroke="#3c3c3c" stroke-width="1.8" stroke-dasharray="1.8 5.2" stroke-dashoffset="0"/>
<path transform="scale(0.5)" d="M191 1750l0 3 2 0 1 2-2 4 3 0 1 2 2 3 4 0 2 0-1 4 0 3 3-1-2 3-2 1 3 1 2 2 1-1 2 3 4 2 4 2 0 3 2-3 3 1 0-1 4 1 0-4 0-3-2 0 3-2 0-1 1-2 3-2 0-2-1-4 3 0-2 2 3-2 4 1 6-1 1-5 1-1 2-2 1 0 2-2 5 0 1 0-1-2 1-2 1-2 3-1 1-4 1-4 1 0 4 1 1-3 1-1 1 0M265 1734l-1 0 1-3 2-3-1-2 1 2-1-2-2 1 1 0-1 3-2 0-1 2 2-1-2 3 1-1-1 1 0 2 2 2 2 0 0-2-1-1 0 3 2 0-2-1-1-1-2-3 2 2 0 1 2 0 2 0 1 1 1 1 1-2 1 1 2 1 1 1 1-1 2-1 2-2-2 2 2 1 0-2-1 3 1-3-2-1-3 1 1-2 2 0-1-1 1 2 0-2-1 0 2 1-2-2 2 1-2-2 2 2 0-1-1-3-1-1 0-2-3-1 0 2 0 1 2-1 2 0 2-2-1-1 0 3-1-1 2 1-1-1 1 0-1 1 0-1 0 2 0-1-2-1 1 1 1-2 1 2-1-1 3 0-3 2 2-3-1 1-2 0-1-2-2 0-1-1 1 0-1 1-1 1-3 0 2 0 1 2-2 0 1-2 2 1 0 2-1-3 1-2 0 2 2 0 2-1 3-1 2 2 0 2 0-2 2 0-2-2 1-1 2 0 0 2 1 3 1-1 1 1 2-3 0 2 1 1 2-1 2 2 0 2 2-2-1 2-1 0 1-3-1 1 0 2 3 0-1 2 0 2 1-3-1 2 0-2-4 0 0 1-2 1 3 0 1 2 0-3-1 2-2 1 1-3 2-1 2-1 0 1-1-2-1 0-2 1 3-1-3 0 2 0-1 2-1-3-3-1-2 1 2 1 1 1 2 0 0 1 2 1-3 1 1 1 1 2 2-2-1 3 0-1-1-1 2 1-3 1 3-1-2 0 3 0-1-1-1-2 1 2 1 1-2 0-1-1 1 3 2 0-2 0-2-2 0 3 2-1 1-1-2 2 3 0 1-3-3-1 2 1-3-1 2-1 3 1 1 1-1 2-2 0 2-2-3 0 0 2 1-2 2 0 0 2-1-3 1 2-2-2 1 2 1-2 1 2-2-1 1 0 1-2-1 1-1 2 1-2-1 3 3 0 0-3 2 2 0 1-2 1 0 2-2 0-1-2 3-1 2 0 1-1 0-2 1 2-3 1 0 2 1-3 0 1 0 2-1 1 1 1-2 0 1 2-2 0 3 2 0 1-2-1 0 3 2 2 1 2-1-2-1 3 1-1-2 0 0-2 1 0-2 0 1 1 0-1 1 0-1 1 2-2-2 2 2 2-1 2 0-3 0 1 0 2-1 1-1 1 1-3 0 3 2-2 1-2 0 1-1-2-2 1 2-1-1-2 0 2 0-3 3 1 1-2 2-3 3 1 3-1 1 1-1 0 2 0 0 2 1-2 1 2-2 0 0-1-3-1 1 1-2 2 2 0 0-2-1 2-1-2 3 2-1-1-3 0 2 0 0-1 1 2-2 0 1 1 2 1-1 2 1 2 1 2-1-1 0 3 0-2-1-1 2 0-3 1 2 1-2 0-1 2 1-2-1-1 1 1 2-1 1-1-1-2 2-2 1 2 0-1 0 3-2 1-1 1-1-3 1 3-1-1-2-1 3 1-1 1 0-2 0 2-1-2 1 2 0-2-2 1 2 1-1-3 0 1 1-3 3 0 1-3 1 1 0 2-2-2-2 0-1 0 1-1 1 3 2 0 1-1-1 1 2-1 2-1 1 1-1 3 2 1-3-1 1 2 2 0 1 3 1 2-1 2 2-1-2 1-3 1 3-1 0-2-1 1 0-2 0 3 2-2-1 1-3 0 1 0 0-3 1 2 0 1-1-3 1 2-2 1 2-2-2 0-1 3-3 0 1 3 2 2 3-2-1 1 0 3 0 1-1 0 2 1 2 0 1 3-3-2 2-3-3 0 0 2 3 0 2 1 3 0-2-2-1-1-1-1 0 1-1 3-2 0 0-3 1 2-1-2 2-3 0 2-3 1 2 1-2-1 2-1 1 2 0-2-1 3 0-2-2 1 2 0-1-3 0 2 2 1 1-1 0-2-2 0 3 1-2-1 3 0-1 2-1-2 2-2 1 1 0 2-1 1 2-1-2 3 1 0-2 0 1-2 1-1-1-1-3 0-2 0 3 1-1 2-2-2-2 0 0-1-2 3-2 0-1 0-2 0 0 2-1 3 2-1-1 0 1-2 0 2 0-1-2-2 0 2 2-2 0 2-1-2 1-3 1 2-2 0-1 1-1-2-2 0-3 1 0 1-2 3-2 2 2 1 3-1-2-1-2-1 3 1-1 1-2 1-2 1-1-3 2 1-2 0 2-2-3 0-2 0 2 2 0-3 2 2 1-2 3-1 0-3-2-2 2 0-1 1 2 2-2 0 2-2-1 0 0 2 0-2-1 3 0-2 1-1-2 2 1 1-1-1 3 2 2-1 1-3 1-1-2-1 1 2 1-3-2 2 1 1-2 1 3 1 2 1 0-3-1 1 1-1-2 2-3-1-2-2-1-2 2-1 1-1-1 0-2 2-1-2-1 1 2-2-2 2-2-1-2-2-1 1-1 3-1-3 1 2-2-2 3-1 0 3-2-1 2 0-3-1 2 0 0 3 0-1-1-1-2 1 0 3 0-3-2 0 1 1 2 0 0-3-2 2-1-2 1-2-1-1 2 3 2-1 1-3 1 3 1 0 3-1 2 2 1 3-1-2-3 2-1-1-2-1-2 0 1-2-2-2-1 1-3 1-3 0-2 1-1-1 1 0-1-2 2 1-2 1 3 2-1-3 0 1-2 0 1-2 2 3-3-1 2 3 0 2-2 0-2 0 1-2-2 0 0 2-1 2-2 0 1-1 0 1-1-1 0 1 1-1-1-1 0 1-1-3 1 2 3 2 0-2 1 1-1-3-1 0-1 2-1 1 2 1-2 0-1 3 2 0-1-1 2-2-2 1-1-2 3 1-2 0-1 1 0-2 0 2 1 0 0-2 1 2-1-1 1-1-2-3 3 0-2 0 2 2 1-2 1 2 2 0 3-1-1-1-2-2 0 2-1 0-2 3 0-2 3 1 2 0 1 1 0-2-3-2-3 0-3 1 1-1-3 1-1 2 1 2-1-2 1-3-3 2-2 0-2-1 2-1 2-1-2-2 1 2-1 1 2-1-2 1 1-1-2-1 1 2 3-1-2 1-2-2-1 1 2 1 2 0 0 1 1-3-2-1-2-1 0 3-3-2 2 0 3 0 0 3 0 1-1-2-1-1-1 1-1-3 2 2-2 3-2-2 3-2-3-1-1 3-1-2-1 1 1 2-1-3 1 1-1 1 0 1 0-2 1 1-1 0 2 0-3 1 1-3 0 2 1 1 1-3-1 1-2 2 1-2 1 0-2-2-1 1-3-2 1 3 2 2 0 1 0-1-2 0 0-3-2 2 0-3-1-1 2 1 1 1 0-3-1-2 1 2 3-1-3 1 2 0-1 1 1-2-1-1 1 2 3 0 2 2-1-1 1 0-1-3 1-1 0-3 0-3 2 1 1 0 1 0-1-3-1 2 1 1 0-3 2 2-2 1 0-1 0 2 0 2-1-1 0-2-2 1 0 1-1-3-2-2 1-1-2-1 0 1 2 1 3 1 2 2 0-2 1 2 3 1 3 1-1 1 0-2 1-1 1 2 0-2 1 2 1 1 1 0 3-1-2-2 2-3 1-2 2 0 1 3 0-1-3-2 1 2-1 0 1 0-1-1 2 2 0-3-3 1 1 1 2-3-3 0-2-2 1-1-2-2 2 0 1 2-1-2 2 0 2 2 1 2-1-2 2-3-2-2 2 1-2 0 1 0 2 2-2 0 0-1 0-2 0 2 3-1 0-2-1-2 1 2 1 1-1 1-2 0 1 3 1 3-1 2-2 2 0 1 1 1 3 2 2 2-2 2 1 2 0 2-1 1-1 3 2 1 0 2 2-1 0-2-2-2-1-1 2 2 2 0 1 1-2 0 1 1-1 0 2 0 0 3 1-2-4 0 2-1 0-3 2-1-2 1-1 2 2-1 2-1 3 0 2 0 2-3 0-2 1 3 3 1 1-4 1 2 1-2 3-1 1 1 0-1 1-3 1-2 1 0 3 0 0-1 2-1-2 1 0-3 0 1 1 3 0 1 2 1-2-2-1-2-2 2-3 2-2-2 0-3-2-2-3 0-3 1 1-1-3-1-2-1-1-2 2-1 1 1 0-2-2-1-1 0-2 0-2 0 0 2-2-2-2 0-3 0-1 2-2-2-3-1 0-2-1-2-2 0-3 0-1-1-2 1-2-1-2 2-3 1-1-2-1-1-3 2 0-2-1 0M300 1715l0 2-1-3-2 0-2-2-1 2 1 1 0-2 3-1-1-2 0 1 0 1 2 3 2 1-1 1 0-3 3 0 1 0 1-2 2-1 1 2 3-1 1 1 2-2 2 0 0 3-2-1 0-1 2 1-1-1-1 3 0-3 3-2 2 1 0-2 2 0 1-2-2 1 2-1 2 1-1 1 0 1 0 1 1 3 0-1-1 1-2-1-1 0 2 0 3 0 0-2-1 3-2-1 0-1 3-1-1 2 0-2-2 0 0 2 2-2-1 1 1 1-2 0-1-2-3-1-2-2 0 2 0 2 2-1 1-2-2 0-1 2 0 1-2 0 1-1 1-1 0 2-3-2 3 0 1 1 1-2 2-1 1-1-2-1-1-1 1-3 1-3 2-2-2 1 1 1-2-2 0 2 0-3-1 0-1 1 2 1-1 0-1 3-2 0 1-3-2-1 0-3 1 1 2 2-1 1 0-3-1-1 0 1 1 2-2 0 3-1-2-1-3-1 0-1 3 0 0-1-1 2 2-2-2 0 2 2-1-1 3-1 1-1 0 1 2 3 1-1-2 0-3-1 3-1-1 2 0-3 1 1-2-1 2 0 0 1-1 2 2-2-2 2-1 2 2 1-2-2-1-2 0 2 0 1-3 1-2 2-2-3-1 3-1-1-1 0 2 1-2 1-3 1 2-2-1 2 0-1 1-2-1-1-2-2 1-1-1 2 2 0-2 0 2-1 0-1 0 2-1 2 0 1 0-1 4 1 1-2-2 0-3 0 1-1-2-2-2 0-3-2-1-1-1-2-2-1 3 0 0 2 1 3 0-2-3 2 1-1 2 1-1-3-2 0 1 1 1 2 1-1-1-1 2 2 2 1 0-1-2-2-2-1 2 0 1-3-3 1 0-3-1-2 3-1-2-3 0 3 1-3 0 3 0-2 1 2-1-2 1 2-1-3 2 0-2 0-1 1 2 3 0 1-1-2 3-1-2-1-1-1 1 3-2-1 2 1-3 0 2-1-3-2 1 1 2 2 3-2 1 1 1 1 2 1 1-2 3 1 2-1 3-1-2-1-2 2 3 1 2 0-2-1 1 1-2-2-1-1 2-1 0-1-2 0-1 1 2 2-3 1-1-1 1-2 2 1 1 0 1-2-1-2 2-2-2 3 2 1 2 0 3 1 0-3-1 0 2 1-1 0-1-1 1 2-1-1 1 0-1-2 0-2-3-1-3 3-3 0 2-3 1 1-3 1 0-2-3 0 0-2 0-3 2 1-2-1 3 2-2 1-1 2 4-1 2-1 2 2 3-1 1 1 1 2 1 1 0 1 0 3 0 2 0 3 0 2 3 1 2 1-1-2 3-2 1 1 3 1-3 2 0 1 2 2 2-3 0 1-2 0 1 1-1 2 0 3-2 1 0-1 1 2 1-2 2-1 3 2 1 1-1 0-2-1 1 3-1 1-2 1 1-1-1 1 3-1-2 1-1 1 0-1 2 2-2-2-1 0-3-1 0 2-1 0-1-1 0 2 2-1 1 0-1-3 0-1-2 0 2 1-1-3-2-2-1 2-1-2-1-1 1 2 0 1-2 2-1 1-3 0 0 2-2 1-1 3 0 1M301 1786l2 0-1 1-2 0 0 1 2-1 1 0 2-1 3-2-2 0-2-2-1 2 2-1-2 0 1-1-1 0-3 2 1 1-2 2-2-2-1 2 0 1-1-1-1-3 1 1-1 0-2 0-1 1-2-2-2 2 1 2-2 2-2-2-2 1-1-2 0 1 1 2-1-3 2 2 2-1 2-1-2 0-2 1 0-1 0 2 3 0-2-1-1-2 0 4-1-3 2-1 0 3-1-3 1 3 1-2-3 0 1 1 2-2-2 2-1 1 0 1-2-1 2-1-1 2-3 2 2 1-1 3-2 1 1 2 1-2-1 2 0 3 1-1 1 3-1-1 0-2-3-2 2-1-3 1-1-2-3-1-1-2 1 2 2-1 2-2-2 0 1 3 1-1 4-1-3-1 2-1-2-1 3 1-2 0-2 1 1-2 2-1-2-1-2 2 0 1 2 1 1-1-1 2 1-2 1 3-3-1 1-3 0 3 0-2 1 2 0-3 1 3-3-2 2-1-1 3 1-1-1-1 2 1 2-1-1-2 0 1 2 0 0-3 3 2 1-2 0-2-1 1 0 2-1-1-2 2 1-3-1-1 1 3 0-2-2 2 2 0-1 1 1 2-1 1-1-1 1-2-3 1 0 2-1 2 2-3-3 1-3 1-2-2 2 2-1 0 1 0-2 1 3 0 1 3-2-1 1 2-4 1 1 2 1-1 1 1-1 2 3-2-2 1 0-2 0 2-1-3 1 2-2-1 1 1 1-1 0 1-3 1 2-2 0 1 3 0-1-1-3-1-1-1 2-1 3-2-2 0 0 1 1 2-3 0 1 1 0-1-2 2-1 1 2-1 1 2 1 1-1 1 1 1-2 0 1 0 1 2 3 0 3 0 0-1-1 2-2 1-1 2-1-1-2-1 1-4 0-1 3-1-3 0-1 1 1 2-2-1-1 0 0 3 3-2 0 2-1 2 2 0 2-2-2-1-3 1 2 0-1 3 0-3 2 1-2 1 3-1-3-1 3 1-1-1-1 2 1-2-2 2 1-1 0 1 1-1-3-1 2-1-3 1-3 0 2 2 2 2 0-1 2 0-1-1 1 1-1 1-1-2-1-1 1-1 2 0 0 2 2-2 1 2 0-3 1 3 0 2-3 1 2 2 0-2 3-1 2 1-1-2-2-2 3 1-2 0 2 0 2-1-3 0-2 2 1-2-1-1 2 0 1-2-2 3 1 1 0-1 0-3 2 1 0 1-2 0 2 1-2-2 3 1-2 2 0-2 2 0-2 1 1-2 0 2-1 0 1-3-3 0 1-1-2 2 2 1 3-2-2 1-3 2 0 1-1-2 0 1 1 2-2 1 3 0 2-3-1 2 2-2 1-2 3-1 0-1-1 0 1 2 0-2 2-1-1 1 2-1-1 2-2-2 1 0 1 1-2-1 2 1-1 2-2 2 1 2 3 0 3 1-1 2 2-1 0-1 0-2-2 0 0 3 1-3-2 1 1 0 1 1-1 1-1-1 2 0-2 0 1 0-1-1 2 1-2 0 1 0 0-3 0 2-1 3 1 0 3 1 3 1 0 2-1 0 3 1-1 3-2 0 0 3-2 3 3 2 1-3-3 1 3-2 2 1 1-1 2 0-1-3 2 0 1-3-3 0-2 0-2 2 0-2-1 1 1 2 0 2-3 0-2-1 0 3 2-2 0-2 3 0-2 0 3 0-2-1 0-1 1-2-2-1 2-1 2-2-1-2-2-2 1 0 1-1 0-1 1 0 2-2-1-1 1-1-1-3 2 1-3-1 3-1-2 1 3 0-2-1 1 1 1-1 1-1 2 0 0 3-1 0-4-1 3-2 0 1 0 3 0 2 1 1 0-3-1-1 2-1 2 3-1 1 2 0 1 1-1-1 1 1-2 1-1 2-1-1-1-2-1-1 1-1 0 1-2 1 0 2 2 0-1 2 0 1 2-2-1-2-2 1 1 1 0-1 0 3 2-1-1 2 0-2 1 0-1 1-2-1 2 0 2-2-2 2 1-3-1 3 0-2-1 3 1-1-2-1 2 0-2-1 3 2-2-1 1 2-1 1 3-1 2-1 0 3 2 0-1 0-3 1-1-3 1-1-1 1 2 3 2-1-1-1 0-3 3 2 1 2 1 1 2-1-2-3 1 2 1-1 1-1 0-1-3 1 0 3-2 1-3 0 0 2-3-1 1 0 2 2-2 1-2 1-1-3-1 0 1-2 1 2-2-2 3 1-1 0-1 3 1 3 1-1-1-2 3 1-2-2-2 2 3 0-1 0 1 1-1-1-3 1 2-2 2 3-1-3 0 2 1-2-2 1-3 1 0 3 1 1 1 3 1-1 3 2-2-1-1 1-1-2-1 0 1 2 2 1 2 0 3 0-2 1-1-1 1-3 0 2 1 0 2-2 1-1 2-2 1 1-2-2 2 2-1 0 2-2-3 1 2-2-3-1 2-2-2 0-2-1 1 2-3-1-2-1 2 2 1 2 0 2 1 0 2 0-2-1 1-3 3 0-2 1 2-3-1 0 0 1-1 2 0-2 3 0-2 1-1 0 2 0-1-1-2 2 2 0-1-2 1-2-3 0-1-1-3 1-2 0-2-1-1-1 0-1-1 2-1-2 3 0-2 0-2 0 2-1-2-2 1 0 1 2-2 0-1 1 0 2 2 1 1 1-3-1-2 1-1 2-1 3 2 0 1-2-1 2 0-2 2 0-3 0 0-2-1 1 1 2 1 1 0 2 1 2 1 1 2 0 1 2 2 0 0 1 1 2 2 0-2-2 1 1 1 3-1-2-2 2 1-3-1 1 1 2 1-3 0 2-1-1 2 2-2-1-3 0 1 0 1 0 1 1-3 1 1-1-2-3 2 1 1-1 2-1 1 2 2 2-1 2 1-1 0-2-3 0 1 1 2-1 1-1 1-2 2 0-3 2 1 0-2 0-2 1-3 1-2-1-3 1 2 1-2-1 2-2 1 1 0-2-1 2 2 1 0 1 3-2-1 2 2 2 0 1 0 2 0 1-1-1-1 2-2-1-1 3-1-1-2-2 0 3-2 0 1-1 0 2 1-2-3 0 2 0 3-1-2 1-1 0-3 0-1 0-2 0-2-1-1-1 0-3-2 0 2 3 3 1 2 0-1-2 1-1-1 1 0-3-3 2 0-2-1 1-2-1 2 1 0-2 0 2 1-1 1 3 1 2 1-2 0-3-3 0 3 0 2 0-1-2-1-2 1 2 0 3 1-3-1 1-1-1-2 0 2 3-2 1-3 2 3-1 0-2-2 2 3 0 0-3-2 0-2 1 3 0-3 0 2 0-1-1 2 0-1 3 2-2-2 1 0-1-2 0 2 1-1 0 0-1 1 0 0 1 3 0 1 0-2-2 1-1-2 0 0-1 0 1 2-1-2-1 1 0-2 0-3 2-1-2-1 3 2 2 0 2 1-1-1-1 0-2-3 0 1 3-2-1 3-1-2 0 2-2-1 1 1-1-2 2-1 0-2 0-2 2 1 0-3 2 1 2-1 1 2-2 1-3 1 1 2 1 3-1-1 3 0-2-1 2 0-1 2 2-1-1 0-3-2 2 2 1 0-2-1 2 0-2 1 3-1-1 0 1 0-1 2-1 1 1 0 2 0 2-2-1 1-1 1-1-1 1 2-1-2-2 3-1-3 0-1 1-1 1-1 2 2-1-2-1-2 1 1-3 0-3 0-3-1 0-2-1-2 1-1 1 3-1 2-1-1-2 0 2-1-1 1 1 1 0 0 2 2-1 1-3-1 0 2 0 0 3 1-2-2 0-3 3 3 0-1-2 1-1 0 2 0-3-1 2 1 1 0-1-2 2 0-1 2-3 0 3-1-3 0 2 1 1 0-2-3 1-1 1 1-2 1-3 2 1-2-1-3 1 0 1 2-1 2 1-1 1-1-1 0-2-1-2-1-2 2-2 0-1 3 0 0 2-1-2 3 0 0 1 3-1-2-1-4 1 1-2 0-2 0 3-3-1 0 1-1 2-1-2 0-3 2-2-1 1 2 0 3 0-2 0 1 1-1 1 0 3-1-3 1 2-1 0-1 2 0-2 2 1 0-1 0 3 0-2-2-2 3 1-3-1 2 1-1 0-2 2 2-2 2-2 2-1 1-2-2 0 1-2-1 0 2 0-1-2 2 1-3 0 2 2-2-1 1 1-1-1 2 0 2-1-1 1 2 1-2-1 2 1-3 0-2 2-3-1 1 1 2 1-2-2 0 2-3-1 2 3-1 1-2 2-1 2-1-2 0 2-2-2 1 3-1 0 1-2-1 3-1-3 0-1 0 3 0-1-2-3-2 2 1 1 0-3 1 3-3-1 3-1 0 3 0-3 0 4 1-3-1 1 0-3-1 1 1 2-1-1 2-2 1 3-2-1 3 1 2-1 1-3 1 2 2 2-1 2-2 1-3-1-2 0-1-3 3 0-1 1-1-1 1 1-1 2-1 1 1 0-1 0-3 0 1 1-2-1-2-2-2 2 1-1 2 1-1 2-1 2 1 2-2 1 1-1-2-2 3-2 0 1 0 2 0-1-1 2 2 0 0-1-1 0 2 0-2-1 1 2 0-4 0 1 0 3-3-1 3-1-1 1 2 0-2 0 0-1 2 2-1-2-3 2 1 0 3-1-2-2 1 2 4 0-2 3 2-1-2-1 1 2 0 2 0-3-1 2 2-1-1 2 2 1-2 0 1-2 1 2 2 1 2 1 2-1-1 0 0-3 1-1 2 2-3 1 3 1-1 2 0 1-1 1 0-3-2-1 1 1 0 2 0-3-1 0-1 2-1-2-2 1 1-2 1 1-2 1 1 3 0-3 3 0-2 3 1-2-1 1 0-2 0 2-2-1 2 0-2 0 3 1-1-1 0-2 0 2 0-1 1-1 0 1-2-1-3 0-1-1 0 2 2-2 2 0 2 0 0 1-2 1-2-1-3 2-1 1 1 0 1-2 3-1-1 0 1-2 2 3 2-1-2-2 0 3 1-1 1 0-2 2 0 3 0 1 2-1-1 2-1-1 1 1 1 1 1 2 1-1 2 0 1 0 3 0 1 2 2 0 0 2 3 1-1 0 2 2-2-2 1 1 1 2-3 0 1 0-1-2 2 0 0 1-3 0 2 0 1 2 0-2-2 1 2-2 2 1 0 1 3-1 2-2 1 1 1 0 1-1 1-3-2 3 2-3-2-1 1-2 3-1-3 1-2 0 2-1 0-1-1 2 1 2 3 0 2-2 1-3-2 0 0 3 4-1 1-2-1-2-2 1-1-1 2-2-2 0-3 0 2 0 0 1 0 4 1-3-2 0 1-2-1 1-2-3-2 1 1-2-1-2 0-1-2-2 1-2 0-2-1-2-1-2-1-1-2 1-1-1 2-1 0 2-1-3 0 1 0 3 1-2 2 0 3 1 0 2 0-4 2 1 1 1 2 2 1 1 1 3-2 2 1-1-1-1 2-2-2 0-1-2 0-4-3 0 1-1-1 0 1 1 1-3 1 1 0-2 0 2-2 0-3 0-2 1-2 0-1-2 0 4 1-2-3 1-2 1 0 3 3 1 1-3 1-2-1-2 3-1-3-1 1-1 3-3-1 0-1-2 1-2 0-1-1-3 0-2-2-2-1-1-2-1-1-1 0-2-1-3-2-2 2 2 0-1-2-1-2-2-1-1 1-2-1 1-1-3 2-1 0 1-2-2-2 1 1-3-1-2 0-1 0 1-2 0-2 1-1 3-2-2-3-1 2 2-1 0-2-1 0 1-1 3 0 2 2 3-2-1 2 1-3 0 1 2-1 1 1 0-1 1-1-1 2-2 0 3-1 1-2 2-2 1-3-1 0 2 2-1-1-2 2 3 2-2-2 1-1-1 2 1-1-3 0 2-2-1 1 3 1-1-2-1 3 0-1 0 0 1-1-2 0 3 1 1-2 3-1 2 2 2 0-2 2-2 0-3 3 2 1 2 1-2-2 0-1 0 1-1-2 0 3 1 1 1-3-3 3 1 2-2 0-2-1 1 0 1 1-1-1 2 0 1 0-1 1-1-1 1-2-1 2 1-2 2-2 1 1 2 1-2-2 0-3 1-2-1 2 0-2 1-1 2-2 0 1 2-2-2 2 2 3 0-3 0 0-1 0 3-1-2 1-1 1 2-1-1-2-1 2 0 0 1-1-1 2 0-1 1 1 2 3 1-2 1-1 2 1 0 1 3 2-1-1-3 3 0-1 2-1 0 2-2 1 0 3 1-1 3 3-1 0-2 1 2 2 3 1-3 1 0 1 1 2-2-3 2-1 0 1 3-2-3-2-1 1 0-1-1 2-1 1-2 2-1 0-3 3 1-1 2-1-1 3 1 1 0 1-1 2 2 1 1 2 0 1 0 1-2 3 1 1 0 0-2 2-2 2 0 2 0 3 0 2-1 1-3 2 0 1-3 2-1 2 0 2 1 2 1 1-1-3 0-1-1-2-1 2-2 1-2 0-2 1 1-1-1-2 3 0-2-1-1 2 0-1 1 0-2 0 2 1-3 1 2-2-1 0-2 0-2 3 2 2 1-1 0-3 1 1-1 0-3 0-1-1-2 1-1 1 1 0 3-2-2-2 0-2-1 1-2-2 1-1-1-1-3-2 0-1 1-2-2 0 2-1 1-1 0 1-1-2-1 2 2-1-1 2-1-1 0 0 3 0-2-1-1 1 1-2-2M347 1774l-1 2 2-2-2 1 0 3 0-2 0 2 2 0-3-2 1-3-3 1-2 0 1 0-1-1-1-3 2 3 2-1-3 1 0-2 1 2 3 1-3-1 2-2-1 2 3 1 0 3 1 0 1-2 1-3 1 2 1-1-1 3 3-2 0 2 2 0 3 0-2 2 3-2-1 3 0-2-1 3 0-3 0 3 1-3 0 2-2-2 2 2 0 2-1-1 2 0 2 2 0 1-2 1 1 3 2 1-2 0 3-1 1-1 3-1-2 0-2 0 1 2-1 0-1 0-3-1 2 0 0-2 0 2-2 1-2 1 0-2-1 3 0-3 0 3-2 0-2-2 2 0 0 3 2-1-2-2 1-2 1 3-2 0 1-1 1 2-1-1 1-2-2 2 2-2-3 0 3 0-1 1 1-1-1-2 1 1 0-2 1 3-3 1 3-3 0 2 0 2 2 1 2 0-1-3 3 0-2 1 2 0 2-2 0-3 3-1 2 0-3-2 2 2 0 2-2-3 0-2 3 0-3 2 1 3 1-3-1 2 1 3 3-1 0 1 1 2 0 2-2 1-1 3-2 0-1-1 1-1-1-1 1 1-3 0 3 0-2-1 1 1 0 2 1-1 0 1 0-2-3 1-1 2-1-1 2-1 2 1 0 1 0 2 2 0-1-2-1-2 1-2 0 1 0-1 3 1 1-2 0 2 1 1 0 2 0-2 2-2 3 0 0 2-1 2 3-2 2-1-3-1-1 1 2-1-2 1 2 1-2 0 2 0-2 0 3-1-3-1 3 0-2 0-1 1 3 0-2 0-2-2 2 1-1 1-2-2 3 0-3 0-1 1-1-2 3 0-2 1 0-2 3 1 1 1-2 0 2 1 2 1-1-1 1-2-3-2 3 0-1 1-2 2-1 0 1-1 1 1-1-3 3 1-1 0-2 0 2 0-2 0 2-1-2-2 0-2 1-2-2-1 2-2 2-1-3-1 1 2 1-3 1 2-2 0 0-2 1 3-1-2 2-1-1 3 0-2-3 1 3 0 2-2-2 1 1-2-2 3 2-2 0-1-1 1-1-1 2-2 2 0-2 2 0-2-1 3-1 2-2-2 0-3 1 2 1 0 0-1 0-1 1-2-1 1 2 0-3-1 2-3-1-2 2-1-1 3-1 0-2 1 0-2 2 1 0 2-2 0 1-2 0 2 2-3-2 2 0 1 2-1-2-1 0 2 2-2-2 1 1-1 2 0-1-1-3-1 1 3 1-2 1 3-1 3 0 3 2 1-3-2 0-1 0 1 0 2 2 1-3 0-1 1 0 3 0-2-2-1-1-1-1 0 2-2-1 0 1-2-1 1 1 3-3 2 0-2 1-1 1-1-2-1 0 3-3-1 1 1 1 0 0-1 2 1-2-1 1-2-1 2 1 0-2-1 1 1 1-2 0 2-2-1-3 1-3 0 0 2-1-1 1 0-1-1 0 3-1 2 3 0-1-3 0-2-2 0 2 2 3 0-2 0-1 2 1-2 1-1 1 3-1 1-3-1-1-2-3-1-2 0-1-2 2-1 2-1-2-1-1 3 3 0-1-2 1-2 3-1 2 0-2-2 1 1 1 0 0-2-2 2 2 0 1-2-2 1 1 2 1-2-1 1-2 0-1 3 0 2-1-1-3 0 1 1-2-2-1 1-1 0 0-3 1 1 0-2 3 0 1 2 0-3-2-1 1 2 0-1-1 0 0-1 0-3-1-1-4-1 1 2 1 2-3 0 0 3 2-2 3 0 1-1-2-1 2-2 1-2 0 3 2-2-3 1 3 0-2 2 0-3 2 2-2-2 2 1-3-1 1 1 1 3-1-3 2 0-2 2-1 1 2 2 0 1 1 1 0-1 1 1-1-2 2 2 2 1 1 1-2 0-2-2 2-2-1-1-1-1-1-1 2 1 0-2-2-2-2-2-1 3-1-1 1-1-1-1 0-1 0-2 2 1 0-1-1-2 0 2 2-2-1 2 0-1-1-1 1 0 0 2-1-1 3 1-1-2-2 1 2 0-2 0 1 0 1-1-1 1 0-2-1-1 0 3 1-2 1 0 1 2 2 1-1 1 3 0-2 2 1-1 1-2 1-2 3-1-2 1-3-2-2 1 1 1-1-1-1-3 2-2-2 0 3 2 0 3 2 2 3 1-1-2 2 0-1-3 1 3 0 3 1-3-3 0 2 0 0-2 0 3-1-1 1 0-3-2 1 2 2 1-1-1 3-1-3 1 1 0-2 2 1 1 3-1-2 1-2 0 1-2-3-1 0-2 2 1 0-1-2 2-2 0 2 1 2 1 1 2 2 3 3 0 0-1 0-3 2 0-2 1 1 1 1-1-1-1 0-1 0-2 0-2 3 1 2 2 1 1 2 0-1-2 2-1-1 1-2-1 0 1 1-2-1 1 1 2-1-2 1 1-2-2 2 1-1 2 1 0 1-3 1-1 1 0-2 1 0 2 1 3-1 3 0-2 1-1-1 3-2 2 1 2 1-2 0-2 1-1 3 1-2-1 2-2 0-1 2-2 2-1 0 2-2 1 3 0-2-1 3-3-2-1 0-3 1-2-2 2 0 3 3 0-1 0-1-2-1-2-1 2-1 2 1-1 2-1-2 1 2-2-3 0 3 0-1 2-2-2 1 1 2 0 1 1 1-2-2 0 1 2-1 1-3 0-1 3-3 0-1 0 0-2-2-1 3 1-1-1-1-1-2 0-3 1 0-2 0 2-1-1-1 2-2 1 0-1 1 1 0 1-2 2 0-2 1-1 2 0 1-2-1-2 2-1 0-1 1-2 3 1 2-1 2-1 0-1-1 2-1-1 1-1 0 1-1-1 2 1-2-2 0 2 0-1-2 1-1-1 1-2-1-1 2 0 1 3-2 1-2 0 2 0 0-2-2-1 2 0 0 2 3-1-1-1 2 2-2 2-3 2-1-1 2 1 1-1-2 0-1-1 2 0 2-2-2-1 1-2 0 2 1-2 0-3 3 2 2-2-2 0 1-3-2-2-2-1-3-1 3 1-2-2 1 2 0-2 1 2-1-3 1 2-4 1 2 0 2 2-2-1 2 0 0 1-2-1-1-1-2-2 3-1-1 3 2 0-1-3 1-1 1 2 0-2-2 1-2 1 2 1-1-1 1 3-2-2 1 2 2-2 1 1 2 1 2 2 2 1-2 0 3-2 1-1 1-1-1-2-2 0 1 0 0-1-2-3 2-1 0 2-1-3 2 1-1 3 1-1-3-1 3-1-1 2 0-1 0 1 1-1 0-2 1 1 2 0-1-1-1-2-1-1 1 1-2-1 1 0-1 1 0 1 1 0 1 2 0 2-1 1-1 1-2 0-1 1 0 1 1 3-2-2-2 0-3 0 2-2-1 2-2 1-1 0 1 0 0-3-2 0-1 1-2-1-2 1-1-2-1 0 1 0-1-1-1 2 3-1-3-1 2 2-3-2 3 1-2-1 3 0-1 1 2 3-1 1-1-1 1-1 3-2 0-3 1-2-2-2 0-1 0-2 1 2-1 2 2-2-2 0 2-2-2 1-1-1-3-1 0 3-3-2 0 1 0 3 1 2 0-2 3 1-1-2 1-2 3 0-2 1 2 1 1 2 0 1-3 1-2 1-1 2-2 2 1 1 1 2 0 1 0 2 1 2 1 3-1-2 2-1-4 1-1 2-2-2 2 0 2-1-1-3 0-1 2 1 2 0-2 1 0-3-1-2-1 1-1-2-2 1 2 1-2-2 0-1-2 1-2 1-1 3 2 0-2 1 1-2-2 1 3 0-3 0 1 0-1 1 2 0-1 1 2 2-2 1-2-1 1 1 1-1-2 2 0-3 3 2-2-2 1 1 2-2-3 1 1 1 0 1 0-2 0 3 2-3-1 2 2-1 2-2-2 0-1-1 1 2-1 3-1 3-1-3-2-1-3-2 3 2-1-1 1-1-1 0 2 0 0 3 2-3 0-2-2 1-2 0-1 2 2 1-1 1 2 0-1 2-2 1 0-3-2 0-2 2-2-2-1-1-1-1 1-2 2 1-2 1 2 1-3-1 2-2-1 3 0-3 1 1 0 1 0-1-1 2-2 1 2-1 2 1 0 3-1 0-1-1-3 1-1 0 3 1 0-4 0-2-1 2-1 1 0-3 0 3 3 0 2-1 1-1 0 2 2 3 0-2 1 1 0-2-2 0 2 0-1 2-2-3-2-2 1-2 0-2 3-2-1-2 0-2-3 1 1-3 0 1 0 2 2-3 0 3 0-1-2 2 1-2 1 0-1 2-1-3 1 1-1-1 1 2 0 2-1-2 1 1 2-2-1 0-1 0 1 1 2 2 1 3-3 1 1 2-2 1-1-1 1 3-1-3 0 2 0-2 0-1 2 0 0-1-3 0-1-1-1 2-1-2-1 0-2 0-2-2 1-3-1-1 0-2 1 0 1 2 0-3 1 1-3 1 3-1 1 2-1-2 1 2-2-1 1-1 0 3 1-1-1-2-1 0-2-1 3 0-4 0 1-2 1 0 3 2 2-2 0 2 1 1 0 2-1-2-1 1-1-3 2-2 1 3 1-1-1-2 1-1 2 1-3-1 1 1-3 0 0 3 1 2 1-1-2 1-1-1 2 1 0-1 2 2 2 1 0 2-1 2-2 1-1 3-2 1 1 2 0 2-1 3-1 1 1 3-1 1 2 3-1-3-1 1 3-2 1-2 1 2-3-1-2-1 0-2 2-1 1 2-1 1 3 1-1 1-2-2-2 2 1-2 0 2-1 0-1 2 2 1-1 2 2 1 1 1-2-2-1 0-2 2-1 1 2-1-3 0-1-3 1-1 1 2 3-1 0 2 1 2 2-2 2-1 1 0 2 0 2-1 2 0 1 0 2 1 1 2 3-1 2 0 1 1 2 2-1 1-2 1 2 2-2-2 2 0 3-1-1-2 0 2-1-1 3-1-2 0 1 0-1-1-1 2-2 1-1-2-1 1-4 0 2 0 2 3-2 1-1-3 1 1-2 0-2 3 0 2-1 2-2 3-1 2 2 2-2-2-1 2-1-3-3 0-1 3-2-2 1 2-1 2 0-2-2-1 1 1 1-1 0 2-3-1 2 1 0-3M360 1812l2 2 1 2 0-3 0 3-2 2-2-2 2 1 1-2-2-1 0 2-2 1 3-2 3-1 2-1-1 3 1-2 0 1-2 3-1-1 1 0 0-3-2 2-2 0-1 3 2 2 2 0 1 2 1 1-2 2 1 1 2 2-2 0 1-2-1 2-1-1-1-1 3 2 1 1-2-2 2 1 0 3-2-1 2 0-2 1-2-3 1 0 0 2-2-1 1 1 3 0-2 1 0-1 1 2 2 0 2 2-1-2-1-1 2-1 2 1 3 1 2-1 0-3-1-2 0 1 2-2-1 3 0-1-3 0 2 0 0-1 2-2 0-1 3-1 3 0 0 1 2 0 2 1 1-1 1 1 1 2-1 1-1 1-1 1-2 3 2-2 0 1-1 3-1-3-1 2-2 0-1 0 2 2-2 1-2 0 3-1-2-1 1 1 0-1 0 2 1-1-3-2 3 1-3 1 1-1 2 2 2-1 1-1 0-1-1-3-2 1 2 1-1-3 2 1-1-3 2 1 1 1-3 2 1-1 2-2-3 2 2 0 2 2-1 2 0-3-2 3-2-3 1 4-1-2 2 0-1-1 1-1 2-1-1-2-2 0 1 0 2 3-2-1 1-1-1-2 1 3 0-2-2-1-1-2 1 2 0-1-3-2-3 0 1 3 1 0 1 2 0 1 3 0 1 0 1-3 2 2 2 0 1 0 1 1 0-2 1-3 1 1 3 1-2-2-2 1 2-1 2 3-2 0-1 0 2-1-1 2 0-3 0 3-1-2 2 1-3 0-1-2 1 3 1-2 0 3 1 1-2 0 1-2 3-1-1 3-2 0-1 1 2-1-1-1 1 2 2 1 1-1-2 1 0-1-2 1 2 1-1 1 1 2-2 1 2-2-1-1 1 1-1-2 2 2-1-1-1 0 2 0-2 0 2 0-2-2 0 2-2-1 3-2-1 2 0-2-1 2 2 1 1 2-1 1 2-1-1 2 0-2 1 0 3 0-1 2-2-3 0-2-1 1 2 2-1 2 0 1-2-2-1 2 2 3 0 1 3 1 1 3-2 0 0 2-3 0-1 2 2 1-2-2 1 2 3-1-4 0 2 0-1 3-1-2 3 0-1 2 2 2-3 0 2 0-1-1 1 3-2 2 1-2-2 0 2 2-2 2 2-2 0 1-2 0-1 1-2 1-1 1-3 0 1 0-2 0 2 0-2-1 1 1 0-1 0 1 0-1 3-1-1 1-2-1 0 1 3-1-1-1 1 2-1 3 1-2-1-1 0 1-1-2 1-2-1-1 0 2-3-1 0 3 0 2 1-2-1-1-2 2 1 2-1 2 0 2 0 3-1 0 2 2-3 0 0 2 2 0-1-1-1-3 0 2 2 1-1 0 0-1-2 0 2-1-2 2 1-1 0 1-2-1-3 2 2 1 0 2 2-1 0-2-2-1 0-2 3 0 1-2-2 1 2-2-2-2 1 0 1 2-1-3-1 0-3 0-1 2 0-3 2-1-1 2-2-2 1 1 0 1-2 3 0 1 0 1-2 2 1-2 1 2-1-1 0-2-1 2-1 0-1-2-1-1 3-1 1 1-3 2-3 1 0-2-3 0 0-2-1 2 1 0 2 1-2 1-1-1 3 1-2 2 1 3-1 0 1 0-2-2 3 1-2-2 2 0 0-3 3-2 1-1-1-3 3 0 1-2-1-2 1 1-1-1 3 1-2-2-1-3 3 0 2-2-1 3-2 0 1-1-2 2 1-1-1 0 1 2 0-1-2-3-3-2 3 2-1-1 1 2 1 4 2-2 2-1-1-2 0-1-1-2-1-2 0-3 1 1 2 2-2 0 1-1 1-1-1 0-2 2 1 0 2-1-1-1-3 1-3 0-1-3-2 1-1 2-1-1-1-1 1 2 2 0 0 2-3 2-1 1 1 2-2 1-3-1 2-1 3-2-3 1-1-1-1-2 2-2 2-2 2-1-2-1 1 1 1 1-1-2 2 1-1-2 0 2 2 0-1 1 0-1-2 0 2 0-1-1-2 2 0 1 2 0-1-3 0-1 1 1-3 0-2 0-1 1-2 2-1-3 0-3 1 3-1 3 1 2-2 0 1-3 1-2 0 3 1 0 3 0-1-3-1-1-1-1 0 1-1-2-1 3-1-2 3 1-1-2-1 1 2 0-2-1 0 2 2-1 2-2 3-1 0 2-3 1 0-2-1 0 2 0 3 0-1-1-1 1-2-1-3 1 1-2-1-2-1-1 2-2 2-1 3 0 1-1-2 2-3 1 1 1-3 1 2-3-1 2-3-2 2-2 0 3 3-1-2-2 1 3-3-2 1 2 1-1 2-1 0-3-2 0-1-2-1 3 3 1 1-1-3-2 0-1 0-3 0-2 0 3-3 0-2 1 2 0 0-2 2-2 3 0 0-1 0-2 0 1 2 2-2 2 0 3 3 2 2 0 1 1-1 2 2 0 0-2 1 3-2-2 3 0-3 3 1-2-2 0 3 0 1 1-2 2 1-1 2 0-2-2-1 2 1 2 1-1 0 1 3 1 0 1 1-1-2-2-2 0-2 1-2 0-1-2 0-2-1-3-2 1 1 2 0 2 0-1-3 0-2 2-1 0-2-2-2-1-2 1-2-1 0 3-2-2 1 3 0-3 1-1-1 1 2 1 0 3 0-1 0-2-3-1-1 2 1 1 1 0 0-1 1 1 0-2 0 2-1 2 3 0 0 1 0 1 1 3-1 1 0 1-2-1-1 2-2-1 3-1-1 2 1-3-1 3-1-2 1 3 2-2-3 1 2-1-2-1 3 0 3 0-1 2 2-1 1 0-2-1-2 1 2 1-3-2 2 3-1-1 0-2 0-1 2-2 2 0 2 0 2 2-1 1 3 1-1 2-2-2-2 1 1 3-2-2-1 1 0 3 2 1 0 2 1 3-1 0-1 1-1 1-2-1 0 2 2-2-1 1 3 0-4-1 3-2 0-1-2 2 1-1-1 1 1 1-2 0 1-2 0 1-1 0 0-1 1 1 3 1 0 1 3 2 0 1-1 0-1-3 0-2 2 3 3-3 2 2-3 0 1 0 2 2-2-3 0 2 1-1-1-1-1 2 1-3-1 2 2-1-2 1 0 1-2-2-1 0 0-3 0 1 1-1-1 3-1 1-2 0 1 2 2 0 1-1 3-2-3 1-2 3 1 2 1 3 2 1 0 3 2 1 1 2-3 1-2 1 2 0 0-2 1-3-1 1-1 0-1 3-1-3 1 0 3 1-2-1 0 3 2-2 4 0-1 2-1-2 0 2 2 2 3-1 1-1 0-1-3-1 3-2-3 1-1-1-2 1-2-1 0-1 1 3 0 3-1 0 1-1-2-1-1-1 1 3 0 2-1 2-1-1-1 1 0-2-1 1 2 1-1-1-1 0 1 2-1-1 1-1-1-2-1-2 0 2 1-1 2 2 2 0 2-2 2-3-2 0-1 1-2 0 2 3-1-1-3 0 1-2 3 2-2 1-2-1-1 0-1-3 1 2 1 2-2 1-2 0-1 0-2 1 1 2-3 0 1 1-2-2 1 2 1-2-1 2 1-2-1 2-2 3 3 0 2 2 1-1 2 0 0-1 1-2-2 2 3 1-2-2 1-2 0-3 3 0 2 0-2-2 0 2 0-3-3 1 0 3 0-2-2 0 1-2-3 1 3-3-1-2-2-1-2-2 1 1-1 0-1 1 1-2-1 1 2 2 0-3-2 1 0-2-3-1 1-2-1-1-1 2 0 1 0 1 0-2-3 0-1 0-1 2-1 2-1-2-1-2 2-2-1-1 0-2-1 1 1 3 1-1 1 2 1 0 0 2 0-3 2 2-2 0-1 2 0-1 1-2 1 3-2-1 1-1 0 2-1-2 2 0-1 2 1 2 1-2-1-2-3 1-2-1 0 2 2 0-2 1 0-3-2 3 3-2-2 1 0-1-1 0 2 1 3-1 0 3 1 1 0-2-3 1-2 0 2-2 0-3-2-2 1-2 0-1 1-1 1 1-1-1-1 1 1 1 1-3-2 2 1 1 3-2 0 1 1-1 1-3 3-1 3-2 0-2-2 0-1 1-3 1 1 2 1-2 2-1 3 1-1 2-2 0-2-2 2 1 1-1-1 2-2 0 2 2 0 2 2 0-3 1 1 2 1 2 1 2-1 1-2 3 1 1-1 2 0 2 0 2 0 2-1 1 0 3-1-2-3 0 0 1 2-1-1-3 0 1-1 0 3-1-2 1 3 0-2 2 3 0 1 2 0 3-2 1 2 2 3 0 0-1 1 1 1-2 1 2 1 2 1 1 0-2 2 0-1 3 0-3 0 2 0-1 1 1 0-2-1 2 1-3-1 1 2-1-2-2 0 3-1-1-1-1 1 1 1 0 2-2 1-3 1 3-1 2 2-1 1-2 1 1 2 1 0-3 2 0 0 3-2 1 2 0-1 2 0 3-1 0 2 1-3-2 1-3 0 2 1 1-1-3 1 1 1 0-1 2 2-2-1 1 2 0 3-1 2 1-1-2-1-2 1 0 1-1-1 0 3-1-4 0 3-1 1-2 1-1 0 2 0-3-2 1-2 1 2-1 1-1 2 2-1-3 1 1 0 2-2 1-1-1 2 0-3 2 3-1-1 0 0-3-1 1 3 2-2-2 1 3 0-1 0 2 0-1-1-1 1 2 1-3-3 1 2 1 3-1 1-1 2 1-1 2-1-2-3 0-2-3 0-3-2 1 3 0-2-2 2 0-3-1 0 1-1 1 2-1 0 2 3 1 1-1 2-1 0 3 2-1 1 1-2 0 1 2 1-2-3 1 1-1 1 1 0 3 0-1 1 0 2 2-1 1-3-1 2-2 0-1-3-1 1-2-1-3 2-3-2-2 0-1 1-2-1-2-1-1 2 0-2-1 0-3 0-2 3-1-1-1-1-2-1-2-1-2-1-2-1-2 0-3 0-1 1-2 0-1 0-2 0-1 0 1-2 2-1 1 2 1-1 1-2-1 2 1 0-2-2-1-2 0 0 2-1-1 0-2 2 0-2 1-2 3 2-1-1 0 0-2-2 0-1 0 0-2 1-1 1-3-1-2-2-1-2-1 1-2 1-3 0-2 1-3 0-1 0-4-1-2-1-1M410 1831l-3 0 2 1 1-1-2 0 1 0 0-1 2 1-2 1 2 1-2-2-3-1-2 0 0 1-1 1 2-1 3 0-2 2 0 2-2 1 1 1 0 2 1 2-1-1 0-3 1 1 1-2 1 0 2 2-2-3 1 1 1 2-2 1 1-3 0 3-1-1 2 0-2-1-3-1 1 2-2 1-1-2 1-1-3 1 3 1 1-2-1 1-1 1 2-2-1 3 1 1 0-3 1 3 1-2 1-1 1 0 2 1-2 0 1 3 0-3 0-1 2-1 2 1 0-2 2 0 2 2 2 0 3 0-2-2-1 2 1-3 2 2-3 0 2-1 0 2 0-2 1-2-1-2 2-1 2 0 1-2-1-2-2 1 0 1 1 0 3 0 2-3-1 4 2 0-1 2 1-1-2-2 2 1-3 1-2 3-1 0 1-3 3 0 3-1-1 1 0 1-1 1 0-2-2 3 2 0-1-2 3 0-1 1-1-1 0 3-1-1 2-3 1 2 1 2 2-1 0-1-1 0 1-1 2-1 2 1 0 2-1-1 2-1-1-2 0-2-2 0-4 0 1-2-1 1-1 1-1-1-1 0 0 2 2-1 0 2 1-3-3 0-1-1 0 1-2 1-2-2-2-1-1 1-2 0-2-1 1 3 0-1 1-2 0 3-1-1-2-2 3-1 3 0 0-2 0-3-2 0 0-2-3 0 2-1-2-1-2 0 0 2 1-3 1 2 1 0-1 0 1 0 0-1 2-1-2 1-2 3 2 2-1-1-3 1 0-1 3 0 2 0 1-3 2 0-2 1-2-1 2 0-1 1 3-1-1 1-3-1 1-3-3 0 2-2 2 0 2-1-2 0 1 2-1-3 0-2 2 2-2-2-3 1 2 0 2 0 2 0-1 1-1 1 2-1-1-1-2 1-1 1 0-3 0-2 3 0 2 3 1-3-2 1 2 0 0 3 2-1-2-1 2-1-3 0 1 2 1-3-2 2 2 0 2-3 0-1 0-1 0 2 0 1 2-2 1 1-1 0 1 0 1 1 1 1 0-2-2 1 2 2 1-1 2-1 0-2 1 1-1-2-1-2 0 1-2-2 3 0 1 2-1-1 1 1-1 1-2-1 0 3-1-3 3 1-3-3 1 3-1-1 1 0-2-1 3 0 0 3-2 2 0 1-2-2-2-1 0 2 0 1-3 0 0 2 1 1-2-3 0 2-2-1-2-1 1-1-2-3-1 1 1 1-1-2-1 1 0-3 1 2 1-2-1-2 3-1 2-2 2-1 0-1 2-1 1-2 2-1 1 1 1 1 2-1 0 2-1-2-1 2 1 2 1-2 2-1 0-1 0-2 3 1 1-1 1 3-4 0-1-2 0 3 1 1-2 2-2-1-1 3 0 2 0-2 0-1-3-1-1 1 1-1 0-2-1-1 2-1-1-2-2 0-1-2 2-1 3 0-2-1 1-2-2 1 2 1-3 0 3-1-1 2-1-2-3 0 2 0 1-2-2 1 2 2-2 0 2 0 2 0-1 3 1 0 1 3-1 0 2-2 1-1-1-2 0 2 0 1-1-2-1-1 3-1 0-1-1-2 0-1-1-2-3 2-3-2-1 0-1 0-1 1-1 1-1 2 2-1 0 1-2-2 1 2 2 0-2 0-1-1 2 0-2 0-2 2 0-1-2-2 3 1-2-2 3 0 1-2 1-2 0 2-3 1-1-1-3 1 0 2-1-3-1 1-2 1 1 3-3 0 2-1 1-2-1-3-2 2 3 1-2 0-3 1 1 0 1-2 1 0-1 2 2-1-2 0 2 1-2-2 2 2-1 3 3 0 2-2-2 0-1 1 0 2 0-2-1 1 0-2-2 1 1 0-2-1 2 1 0-3-1-2 1 2 1 1 0-1-3 0 2 2-2-1 1 0 3-1-3 2 0-2 2 1 1 2 1 1-3 1-1 2 0 2 2 1-1 3-1 1 0-3 2 2-2 0 0-2-2-2 1-2 2 1 1 2 0 1 1-1-2-2 1 0 2 0 0 3 0-2 1 1 0-2 1 0 0 3-3-1 1-1 0 1 2-2 0 4 2 1 1-2 2-2 1 1 2 2-1-1-1 2 0 2-2 0 0 2-1-1 2 0-3 1 1-1 2 0-3 0-2-1 1 2 1 1-2 0 0-3-1 2 3-1 1 3-2 0 3-1 3 0-3 1-1-1 1 0-1 0 0 2-1 1-3-2 3 0-1 0-2 3 0-1-2 0 0 3 2-3 0 3-3 1 1-1 3-1-2 2 1-2-1 0 2 1-2-2 0 1-1 1 1-1-2-2 3-2 2 1 1-1-2 0 2-1 1 2 2 0 2-2 0 3-1-1 1 1 2 2 1 1 2 2-2-3 1 2 1 1-1 2 1-3 3 0 0-3 1 0-1 2 0 3-3 1 3 1 0 1 3 2 2 2-3-1 2 1-1 2 1-2-1 1 0-2 1 2-2 2-1-3 1 3 0 2 1 2 3 1 1-1-1 0-1 1 2 1 2 2 2-2-1 2-1-1 0-3 0 2-1-1 2 0 0-2 2 0-2-1-1 1 2 0-1-1-1 1 1-1 3-1-3-1 1 2-2 2 0-1 1-2 0 1 2-2-2 1 0 1 1 0-1 1-1-1-1 2 0-3-3 0 3 1 0-1-2-1-2 2 1-1-2-2 0 2-3-1-2-1-1-2 1 3 2 0 3 0-2 0 1 0-1 3 2-2 1-2-2 2-1 2 1 1 3-1 1 2 1 1 1 1 3 0 1 1 2 0 0 3 1-3-2 1 1 0 2-1-3 2 3-1-2 1 1 0 2 1 3 0 1 0 2-3-2 0-1 2 3 0-2 2 3-1-1-1 0-2 1 2-2 0 3 0-2 2 2-1 1 0 0-1-2-1 2 0-2 1 3-1 0 2-1-2-1 3-1-2 3 2-1-1-1 0 2-2-1 1-2 0-2-3-1-1 0 3 3 0-2 0-1-2 2-1 0 1-3 0-2 3 0 1 0 2 3-1-3 2 0 1 0 1 2 0 1 1-3-2 3 1-1 1 2-1-2-1 3 0 2-2 1-1 2-1 2 0 2-1 2 1-1 3 1-1 1 3 0-3-2 3 2-2-2-2-3 2 2 0 0-2 1 2-2 1 1-3 1-2 3-1 2-1-1-3 0 2-1 2 1 2 2 1 2 0-1 2-2 0 0 1 2-1-1 2 1 1 0 2 0-2 0 1 1 1 0 3-2 0 1 0 0-2 0 3-1-2 1-2 0 2-2-3 2 1 0 3 1-3-1 2 2 0-2 1-3 0-1 0 1 1 3 1 0 1 2-2 2 0 0 3-2-1 3 2 2 0 2-1 2 2-3 0 0 2-2-3 0-3 0-2 0 2 0-2 2 0 1 2-1-1 2 3 2-2-2 1-2-2 2 2-1-1 2-1-2 1 1 0-2-3 1 3 2 0 0-1 1 1 1 1-2-1 1-2 2 0-1 1-2 1-2 1-1 2 2 0-1-2 1-1 2 2-1-2 1-2 1 0 2-2 1-1 2-1-1 0-2 2 3 0-1 2 0 1-1 3 1 0 2 0 0-3-1 1 2 1-2 1-1-2 2 1 0 1-1-2 1 1 1 2 0-2 1-3 1-1-1-2-2 2 2 0-3 1 0-2-2-1 1-2 3-1 2 2 0-2-2 1-2-1-1 0-1-2 1 1-2 2 2 1 1-1-2 0 2 0 0-3-2 2 2 1 0-2-1 0 3 0-2 2-2-1 2-3 0 3-3-1 1 0 2 0-2 0-3-1-2-1 1 1-1 2 2 0 2 1 0-2-3-1 2 2-1-1 0-1 0-2 2-3 2 1 0 3 0-2-3-1 1-2 0-3-2-2 0 3-3 1 0-1 2 0 2 1-1 2-2 1 0-2 3 0-2 0 0 2 1-2 0 2 0-2-2 2 1 0-2 1 1 1-3 2-1-1 0 2-3-2 0-2 1-2 1 0-1-3-2-2 0-2 1-2 0 3-1-1 0-2 2-1 3 0 0 2 1 3-1-2 0-2 1 3 1-2-1 2-1-3-1 1 1 2 0-1-2-2 3 1-2 0 1 2 0-1-3 0 2 0-2-2 0 1 2 0 0-1 3 2 2-1-2 2 0 3 0-4-2 0-1-2-1-1 2 0-2-2-3-1-2 2-4 1 1 1-2 0-3 0-3 0 1 0-2-2 3-1 0 4 1-1 2 1 3 2-2-2 2-1-1 1 2-2 0 1-2 1 2-1-1 1 0-1 2-1-2-2-2 1-3 1 2-2-1 2-1-1-1 2 1 0 1 0 1 2 0-2 0-2 2 0-2-1 1 1 0-1 1 2-1-3 0 3 1-1-1-1 2 0-2-1 3 0 1-2 0-3 0 2 2-1-1 1-2-2 1 0 1 1 3 1-3-2-1 1 2-1-2 0-1 2 2 0 0 2-1-3 0-2 3 2 0-2 0 1 2-2-1-3-2-1 0-2 0-1 0-3-1 1-1-1-2 1 2 2 0-2 4 0-1 1-1 2-3 0 1 2-1 0-2 0-2-1-3 1 2 2-3 1 0 2 1 2-1-1 0-2 0 1 2 1 2-2 1-1 2-2 2 3 1 2 1-1-1-2 0 2-2-1-3-2 0-2-1 2-1 0-3 0 1 2 1 3 1-1-2 1 0 2 1-1-3-1 0 2-3 1 0 3 0-3-1 0-1 1-1-1 0 2 0-3-1 2 0 2 1-1 1-2-3 1 2 0 0 1-3 1 0 1 1 0-2 2 1-2 2-1 1 2-2 1-1 3 3-2 0-1-1 2 2-1-3 2-1 1 2 0 2 1-2 1 3-1-3 1-3-1 3-2 0-2-1 1-3-1 2 0 1-2 2-2 1-2-1-3-2-3-1 0-2 2 1-2-3 1 2 1 1-1-2 2 1-3-1 1 0 3 2 2-1-2 2 1 1 0 2-1 2-2-1 1-2 1 1 2 2-1-3 1 2 1 1 0-2-1 2-1-2 2 2 2-1 1 1 1-2-2-2-3 3-2 1-1 0-1 1-1 1-1-1-1-1-3 1-2-1-3 0-2 1-2-1-2 1-1 0 2-2 2-1-1 0-1 2-2 1 0 3 1-2-1 1 0-1 1 1 0 0 2 3-2 2 0-2-3-1-2-1-2 0 3-1-2 0 4 2-1 1-2 0-3-2-2 2 0 0-3 0 2-2-1 2 0-2-2-1 3 3-1-1 1 0-3-1 2 3 0-2-1-1 0 1 2 2 3 0-2-1 0 1-1 1-2-1-2 1 2 1-1 0 3 0 1 1 0 3-1 0 3 2 0 1 1-2-1 3 1 1 2-2-1-2-1 3-2 1 3-1-1-1 0-3-1 1 0 2 2-3-2 1 1 2 1 0-1-2 0 3-1-2 0 0-2-2 0-2-2 0-3-3 2-1 2 0-2 3 0 2-1 3 0 2-1 2 2-2-1 0 3-2-2-1 2-2-1 2-1 0 2 3 1 2 1 2 0-1 1-1 1 1 2-1 2-1 1 2 1 3-1-2 0 0 3 1-1-2-2 1 1 2-1-1 1 1 1 0 1 0-2 2-2-2 1 1-2 2-2 1-2 1 1-2 1-1 0 1-3-2 3 2-1-2 2 2 0 0-3-2 0-1-1 1 1-1-2 2-1-1 0 2 1-3 2 2-2-2 3 1-2 0 3-1-3 1 1 2 2-2-2 2 1-2-1 0 3 1-1 1 2 1-1 1 0 3 0 2-1-1-2 1 1 2-2-2 1 2 0 0 1-2 2 1 2 2 1 0-3-1 1 2-2-1-2 1-2 0 1-1 2-4-1 2-1 0 1-2-2 2-2 0 2 2 0 0 2 0-1-1 1 0-2 0 1 1 1-1-1 0 2 0-1 3 1-1-2-1-2-1 1 2 1-2-1 2 0 2 1 2 2 1 1 1 2-2-1-1-1-1 3 2 1-1-2 1 1 3 1-2 2-2-1 0 2-3 0-1 0 2 1 1-1-3 1 3 0 0-1-1-1-2 0 1 1 0-3 0 1 2 2-1-3-1 2 0-2-2 2-2-2-1-1-2 1-2 1-1 2 1-1 1-1 2 1 0-3-1-1 1-2-4 1-1 1 1 2 1-3 0-1-2 1-1-3 2 2-1 1 0 1 2 1 3 1 2-2 0 3 2 2 1-1 2-1 3 0 1-1 1 1 3-1 2 1-1-1 0 3 0-1 1 0 0 2 2-1-2 1-2 0 1 1 1 1 2-2-1 0-2 3 1 0 1 2 2 0-2 1-2 0-2 2 0 1 2 3 3 2 0-2-1 0 1-3 2 0-1-2-1 1 1 1-3-1 2 1 3 2-2 1 0-1-2 0 1-1 2 2-1 0-2-3 2 1 2 0-1 1 0 3 0-2 2 1-1 2 1 2 0-1 1-1-1 2 0-2-1 2 2 0-1 2-3 2-2 1-1-1 2 2-2-1-1 0-2-1 0 1 1 1-1 0-3 1 3-1-3 0 2-1 1-3-1 0 1 3-2 0-1-2 2 2 1-2-2 1 0-3 1 3 0-2 2-2 0-1 0 3 2-2 2 1 0-2-1-2-1-1-3 0 0 2 1 1-2-1 1 1-3 0-1-1-1-1-1 3-2 1-1 2-1 1-1 1 3 1-3-2 3 0-3-1 1 1 1 3 0-3-2 1 2 0-1-2-2 2 3 1-1-1-1-2-1 0-1 2 1 0-1-2 1 0 3 0 0-3 1-2 1 0-1 1 2 0 2-3-3 3-1-2 1 3-1-1-2 0 0-3-1-1 1 1-4 0 2-2-1 0-2 0 1 2-1 0 3-1-3 0 1 0 0-2 1 2-1-1 0 2-2-2 3 1-2-2-1 3 3 2 0-3-2-1-1 0 0-2 2-1 1 2-1 0 2-3 0-3-1 1 0 2-1 2-1 1-1 0-2 1 0 2 1-2-1-2-1-1 2 2 0-3-2 2 3-2 1-2 3 1 0 2 2 0 1 1 1 0-1-1 1 2-3-1 1-1 2 0-1 0 1 2-2 1-2 0 0-3-2 1-1-2 0 1-1-1-3-1-2 0-1 1 1-2-2 1-1 3-1 3-1-2 0-3-1-1-2 1-1-2-1 0 1-1-3 0-1-2-2-1-1-1 2 2-2 0 2 0-3-1 1 1 3 0-2-1 0 1-1-1 1 1-2-3 3 2-3-1 2 1 3-1-2 1 0 2-1 1 1 0 1-2-1-2 2-1-1 1 1-2 2-2-1 0 1 1 0 2-1-2-2 0-1 2-1-2 1-1-1 1-2-1-2-1-1-1-1 2-3 0-1 0-1 0-2-1-2-2-3 0-2 0-3 0 0 3-1-2-2 1-2-2-2-1 2 0-2-1 2 3 1 0 3 0 0 1 2-1 2 0-2 2-2 1-3-1-1-3 0-2 0-3 2 1 2-2-2 0 0 2 1 1 1-2 1 0-1 3-1-2 3-1 0 2 0-1-2-1 1 1-1-1 3 0-1 0-3 2 1-1 2-1-3 1-2-3 0 2 2-1 1 1 1-2 1-3-1 2-1 1 0-3 3 1-1 1 0-2-1-2-1-2-2-1-2 0 0-2 2-1 1 1 0-2 2 1-2 1 3-1-1-1-2 2 2-3 0 1 0 2-2 1 1-1 1-2-1 1-2 0 4-1-2 1-2 1 2 0 1 0 0 2-1 2 1-1-1-3 0-1 2 0-1 0 3 1 2-2 1 0 2 1 0-2-1 2-1-3 2 1-1-1-2-2-2 1 1 1 2-1-1 3 0-1 1-1 4 0-3 1-2-1 3 0-3 0 0 3 2 0 0-3-2 2 2 0-2-1 2 0-3 0 0-2-2 0 2-2-2 0 2 3-2 1 1 0-2 0-2 1 1 3 0 1 1-2 1 3 2 2-2 2 2-3-1-1-2 3-3 0-2-3 3 2 1-1 1-3 2 0-2 0 1-4 1-1 0-1 1-2-2 0-2-1 2-3-2 1 2 1-1-1-1 1 1-1 2-1 1 2 0-2 1-1-1-1-2 0 1 0 3 0 0-2 0 1 3-1-1 3-2-1-2-2-1-1-1 1 2 1-2 0-2 0 1-3-1-3 0 3 2 1-3 1-1 2-2 1-1-1-2 0 0 2-2-1 0 2-1 1-1-2 2 1-3 0 2-2-2 3 0 3-2 0-3-2-3 0-1 1-3-1 0 3 0-2-2 0-1 1-3-2-2 1 2 1 2-1-1 1-1 2-1 2-1-2 1 0 2 0 0 2 2 2 0-2 3 0 0-1 2-2-1 3 2-1 3 0-2 1 3 0 0 2-2-1 2 1-2 0 3 0-2 0 0-2-2 2-2 3 1 0-1 0-2 1 2 1-2-3-2 0-1 1-1-1-2 1-2-2-1-1 2-3 0 3 2 1 0-1 1 1 0-1 1-2 0-2-2-1-2-1 2 1 0-1-1 1 2-3 0 3-3-2 1 2 1 1 1-2-2 1 1-1 0 2 1-2 1 0 0-1 0-3 2 3 2 3-1-2 1-1-1-2-1 2-2 1 1 1-3-1 1-2-1 1 3 1-2 2-1-1-2 0-1 0-1-1 0-1-3 0-2-2 1-2 3-1 2 1 1-1-2-1 0-2 1 2-1-3 3 1-3 1 2-3-1 1-1 3 0-1-3 0 1 2 2 0-2-2 1-1-3-2-3 0 2 2 3-1-2 0 0-2-3 0 0-3 1 1 2 0 1 0 3-1-1 2 0 2 3 0 0 1 3 0 3-1-3 0 1 1 3 1-1-1 0 2 0-2 0 3 1-2-1 0-2-1 3 1-3 0 2 1-2-2 1 2 0 2 2 2 3 0-2 0-2 0-2-2 1 2-1-2-1-1-1 1 2-3 1 1 2-1 2 2-1-2-1-1-1 0-1 1 1-2-1-1 2-1-1-1-3-2 3 0 3-1 1 0 1-3-2-1-1 3-2-3 2-1 0 1 0 1 2-2-1 1-3 1-2 2-1-3-2 3 2 2 2 1-3 0 2 0-1-2 3 0-1 1 2 0 3 0 0 1-2-2-1-1-2 0-2 1-1-1 1 2-3 0 2 2-3-1-2 2-1 0-1-2-1-2 2-1 1-2 1-1 1-2 3 1-3-1 2 3 1-2-2-2 0 3 0-1 0-3-2 3 1 1 2-2 1 0 3 1 0 1-2 1-1-2 2 2 2 2 0 3 1-3 1-1 0-1-2 2 1 0 1-1-1 2-1-3-1-1 2 0 1-2 1-2-2-1-1-1-1-1 1-1 0-2-2 2 3 1 0-3 0 2-2 0 2 1-2-2 2 2-1-2-2 0-3-1-1 4 1-2 2-2 1-2 1 1-3 1 0 2-3 1 2-2 1 3 1-1 0 2 1-2-2 0 1 1 1-2 2-1 0-3 2 1-1 2-2-1 2 1 1 1 3 1 0-3 2 0-1-2 2 0-1 0 0 3 0-4 0 2 0 1 0-1-2-1 0 1 0-1-3-2-3 0-1 2 0-2 1-1-1 0 0-2-1-1-2 1-2 2 0 3-1 0-2-2 0-3 1 3-1-2 1 1 2-1 2 0-1-2 1 0 1-1 1-3 2-2 1 1 1-1 2 0 2 1 0 2 0-2-1 1 2-1-1 1-1 1-1 3-1-1 1-2 1-2 0 2 1-1 2-2-2-2 2-2-1-1-1 1-1-3 2-3-1-1-1 2-1-2 1 1-1 2 1-2-1-2-2 3 0-1 2 2-1 0 1 0-2 1 0 2 1 2 0 2 0 3-1 1-3-1-1 1-2 0 1 0-1 0 2 0-1 2 1 2-1 0-1 1 0-3 1 1 1-2-2-1 0-2 2 1 1-1 1-4-3 1 2 1 1 3-1-1-1 3 1 1 1 2 0 1-1 3-2-1-2 0-1 1 0-2-2 0-2 1-2 1-1-3 0-2-1 0-2 0 1-1 0 2 0-1 0-2-1 2 2 0 2 1-3 0 1 2-2 0-3 0 2-2 2-3 0 4 2-1 3 0 1 1-2-3 2 2-2-1-1 0-2 2-1 1-2 0 2-1-1 0 0 1 2-1-2 2 0-2-2 2 1 1 1-1 0-2-1 3 0-1 2 2 0-2-1 1-1-2 1 2 0-2 1 1 3 1 1-3 3 1-1-3-2-2 0-2 2-2 0 1 2 2 0-2 0 2 1 3 3 0-3 2-1 3-1-3 1-1-1 0-1-1-3 1 1-2-1-2-1 1 0-2-2 1-1 0 1-2 0-1-1-2-2 0-1-3-1-2-2 0-2-2 3 2-1-2 2-1-1-1 1-1 2 0 0 3 1 2 1-2 2 0 0 2-1-1 0-3 1 3 0 2-3 2-2-1 3-2 1 3 0-2 1 1 1 2 1-2 0 2 2-2-2-1-1-2 2-2 2 0-3-2 0 1 3 0-2-2 1 3-2-1 1-1 1 1-2-2 1 3-1 0 2 2-1 2 2 1 1 0-2 1 0 2 1-2 0-2-1 0 2-1-2-2-1 3 1 2-2 2-1-1-1 0 0-2 1 2-3 1-2 0 0-2 2-1 1-2 1 0 0-2 1-1-1-1-2-1 2-2 0-3-1-2 0-1-1-2 3 1-2 0 1-1 1-2-1 2-1 0 2 2 0-2 1 3 1 2 1 2 2-1-2-2-1-1 3 1-1-2 3-2 2-1 0 3 2 0-1 3-2-3 1-3 1-1-1-1-2 2 3 0 1-2 0 2-2-2-1 3 1-1-1-2 2 0-3 2 1-2 0 1 1-1 1 3-2-1 3 1-1-1-2-3-1-2 3 0 1 1 0 1-1 1 0-2 3-1-1-3-2-1 0 1 2-1-2 0-2-1 2 1-1 3-2 1-1-2 2-2 1-1 2 2-2-2 1 3 0-2 2 2-1-2-2 2 0-2 1 2 1-2-3 1 2-1-3 1 3-1 0 2-1-2-3-2 1-2 0-3 2 0 0-3-2 1-1-2 3 1 1 1 2 3-1-1 3 0-1 3-1-2-1 2 0 1 2-2 1-1 1 2 2-1-2-2 0 2 1 3-2-2 3 0-3-1 0 1 2 0-1-1-2 1 3 1-2-1 1 0-2-2 2 3-1-1 3-2-1-2 3 1-4-1-1 1-1 0-1 1 2 1 1-2 2 1 1 0 0-1-1 1 1 3-2 0 2-1 0-2 0-2-1-1-1 2 3 1-1 2 0-2-2 0-3 1 1-1 3-1-3-1-2-1 0-2 2-1-1-3 0 1-2-2 3 0 0 3 0-3 0 2-1-1-3 0 0-2-1-2-3 0-1 1 0 1 2-1-2 1 2 0 0 2-2 0 0-3-1-2-2 1 2 1-2 0 1 1-3 0 2-2 1 1-2 2 1-3-2 1 3 1-2-1 2 0-3 1 1 1 2 0-1 0 1-1-1 1 1-1-2 2 1-2-1-2 0-1-2 0-3-2-2 1 1-2 2 2 1-1 0-2 0 1-1-2 2 0-1 1-2-1 0-1 0 2 3 1 1 2-1 2-1 1 1-1-1 2-2 0-2-3 0-1 1 3-1-1-1 1-1 0-3 1 0 3 0-2 1 1-2-1 3 0-2 0 1 2 1-2 1 2-3-1 2-1-2-1 2 1-1 3-1 2-2-1-1 1 1 1 1 1 2 3 0 2-1 3 0-2 1-2 0-1 0 3 0-3-1 3 0-2 0 2 1 1 0-2 1 1 1 0 1-3 0 3-2-2 2 0-2 2 0-2 1 1 1-2-1 1 2 1 0-1-1 1 2-3-1 1-3 1-1-3 3 2-3-1 1 2 1-1 2 2-3-1-1 0 0 1 0 2 1-2 0-2 0-2 1 2-2 2-2-1-1 3-1-1-2 3-1 0 2 0-2 2-1-2 2 0-2-1 1 3 3-1-2 0 0-1-1 2 2-3-2 1 1 2 1-1 0 2 1 2 2 2-3-2-1-1 1 2 1-1-1 1 0-1-1 2 0-1 0-2-1 3 1 1 2 2 1-1-3 1 1-3 2-1 1-2-1 2-3 0 3 1 2-1-2-1-2 3 2-3-1 1 2 0-2 0 2 1-2-1 1 1 0-1 0 3-1-1 1-2-2-1 0-3 1-2-2-1-1 1-1 3 1-3-4 1-2-1 0 2-2 1 0 2 1 3 1-2 3 1-1 0-1 2-2 2 2-2 1 1 2-1 1 1-1-1-2 2 1-1 2 2-1-2-3 1 2-2-1 2 3 0-1 1-1 0-1-3-1 3 0 1-1 1 1-1 1 1 1 3 3 0 1 3-2-3-2-2 0-3-2-1-2-1-1-3 0-2 0-2 2-1 1 1 0-2 2-1-1-2-3 0-2-1 2-1-1-2 0-1 0-2 1-2 1 1 1-2 0 3 0-1 1-2-1 2 3-1-2 1 0-1-1 2-1 2-1-1 2 0-3-1 0-1 3 0 0-2-2-1 2-1 1 2 1-2 3 1 1 1 2 3-2 0 1 0 2 1 1-1 3 1 2 2-2 1 2 3 0 2 2-1 1 3 0 2-1 2 1 2 2 0 0 2 2 2 1 0 2 0 2 0 2 1 2 1 1 1-2-2-1 3-1-1 1 1-3 0-1 0 1-1 0 3-1 1 1-2 2-1-1 2 1 2-1 0 2 2-2-1 1 0-1 0 0-1 0-2 0-1 0-1-2-1 2 0 3-2 0 2 1-1 1 2 1 2 1 1 2 2 1-1 1 2 1 0 2-1 3-1 3 1 0 2-1 1 1 2 2-2 2-1 0-2-1-2-2 2 2 1 0 3 1 2-1-1 1 3-1 2 2 1-2-1 2-1 1 2-1-1 0 2-1-2 2-1 0 2 2 1-2-1 1-1 2-1-1-2 2 1 1-2 2-1-2-1 2 0-4 0 3 1 1-2-2 1 1 3 0-2 1 2 1 1 1 2 2 0 2 0-2 1 0 3 0-2 0 3-2-2 2-1 1-2-2-1 1 1 2-1-1 1-1 2-2-1 3 0 0-2-3-1 1-2-1-2-1 1-3-2-2-1 1-1 1-1-1-2 1-1 0-2 0-1-2-1 2-1-3 1-2-1 0 2 2-3-2 0 1 2-2-2 1-1-1-2 3 0 1 0-1 0-1 2 0-2 1-1 0-2-3-2-1 2 0-2-2 2-1-1 0 3-1-3 1-1-1 0 0 1 2 1-1 1 0-3-1 3 2 0-1-2-2 2 1-1 2 0-1 1 1-3-2 1 1-1 1-1 0-2-2-3 1-1 3 1 0 2-1-3 0-1 1 1-1 2 1 2 1-3-1-1 1 3-1-2 1 1 2-2 0 3-2 0-2 0-2-1-1 0 0-1 1 2 3 0-1-1 3-1-1-2 3 0-3-2 0 2 2 0-2 0 2 1-1-2-1 2 1-1 0-2-1 0 1-3-1-3-1 1-1 3 1 1-1 0 0-2-3 0-1-1 1 1 2 0-1-1-2 0 2 0 0-2 1 1-2 1 1 2 1-2-2-2 2 0-1 1 2 3-3-3 2 3 1-2-3-2 1 2 1 1 0-3 0 3-1-1 2-2-1 1 1 2 0-2-3-1 0-1-1 1-2-1-1 1 2 2 1 2-1-2 1-1 3 1 1-1 2 0-1 2-1-2 2 2 3 0-2-2 2 3-1 1 1 2 0-2-2-2 2-2 1 1 1-1 2 0-2-1 2-1-1-2 1 1 0 1-1-1 0 2 1-3 0 1 3 2-1 2 1-2-2-1-1 2 1-1 1 1-2 2 3 0 0 1-2 1-2 0-2-1 0-3-1-2 0-1 1-3 2-2 2-2 1 2 1 0 1 3 1 2 2 2-2 1-2 0 2 2 1 1-3 2 0 1 0 2 3 1-3 2 1-2 2 2-3-1 2-2-1 0 1 0 1 0-2 0 0-1-1-1 1-2-1 2-2 0 1-1 3-1 1 0 2 2-1-1 0 1-2 1-1 3-1 1-1 1 0 2 1-1 2 0 1 0 3 1 2 0-1 1 0 1-1 1-1 3 2-1-2 2 3 0-2 0 2-2-2 0 1 3 1-3-2 2-3 2 2 0-1 3-1-3-1 2 3-1 0 2 1 2 2 1 1 2-3-2 3 0-2 1 0-2 2-1 0-2 2-1 2 1 0 2 2-2-1-1 1 2-2 1 1-1 1 0 0-3 1-3 2-1 2 2 2 0-1 0 1-2 0 2-2-1 1 1 2 1-1-2 2-3-2 0 1-1-1 0 2 1 2 1 0 1 0-3-3 1 1-1 0 1-1-1-1 2 0-2 2 0 0 3 0-1 2 2-1 0 0-1 1-1 0 2 1-2 0-1 2 0 1 1-2 2-1-4 3 1-1 0-2 3 1-3 1 1-2 0 1 1 3-3-1-1 0-2 3-1 0 3-1 1 1-1 1 2 1-1 0 2 0 1-2 0 1-3-1 0 2-2-1-2-3 2 3-2-1 1-1-2 2-1 1 2-1 1-1-2 0-1-1 0-2-2 1-2 0-1-2 0-1-1-1 2 3-1-1-1 0 1 0-2 0 1 2 2 0-2 2 1 0 1 2-1 0 2-1-3-2-1-1-1 1 2 2 0-2 1-1-2-2-2 3-1-1-2 1 0 0-2 0 2 3-2-2 1 2-1 2 2 0 1 0 2-1-1 2-1-2 1 2-1-2 1 3 0-1 1-2 0 2-2-1 2 0-1-1 3 2-2-2 1 2-2 1-2 2 1-3-1-1-1 1 2 0-3-3 0 2-1-1 2-3-2 2 2 0 1 1-1 1-1 1 2-2-2-2 1 2 0 2 0 1 0-1 2 1 0-1 2 1 1-1 1 1 1-1 2 2-1 0 2-1-2-2 2 1 0 2-1-1 1-3-1 0 2 3 1-1 1-2-2 0-2 0 1 0-2 0-3-2 2-2-2 1 1 0 2-2-2 0 1 2 0 0-3 2 0 0 2 1 1 1 2 3 1 0 3 1-2 1-2 3 0 2 1 1 1 3-1-2 0 2 0-3-1 3 2 0-3-1 2 1-2-1 2 1-2 0-2 1 1-1-3-1 1-2-2-2 2 2-1-2-2-2-2-3 0-1 2 0 2-2 2 2 0-1 1 2-2 3-1-3 0 2-2-3 1 1-3 2-1 1-1 1 1 3 1 1-1 1 3 1-2-2 2 2-1-2 2 0-1-1-2 1 1 1 3-1-3 2-1 3 1 2 2 0 1 1 3 0 2 1-3-1 1 1-1 0 3 1-1 2 0 2-1-1-1-1 1 0 2-4 0-1-1 0-1 2 0 1-2-2 0 1-2 0-3-3 1-1-1-1-3 2-2-1 1 2 2 1-2 1 2-2 0 1-2-1 3 0-2 2 1-2 0 1 1 3 0-1-1-2 0 2 1 2-3-2 1-1-3 0-2-1 1-2-2 2 3 2 0 2-1-3-2 3 1 2 0 1 1 1-1 1 1 3 1 1 1-1 1 0 3-1 1-1 1 2 0-1 2 3 1 0-3-1 3 1-2-3 0 3-1-1 0 0 2 1-2-1 2-3 1 2-1 1-2-1 1 2 1 1 0-1 2 1 2 1 1 3-1-1 3-3 0-1 1 0-2 0-4 2 3 2-1-1 0-2 1 1 1-1 3 2-2-2 0-1 1 1-2-1 2 0-1 1 1 0-2-2 3 2-1-1-3 1 1-1 2 1-2 1 2-2 0-1 1 2 2 2 1-2 3 0 1-1 2-2-1 0 2-1-2 1 0-2 0-1 0 2 1-3-1-1 1-2 2 0-1 3 1-1-2-1-2-2-1 1-1-1-2 2 0-1-1-1-1 2 1 0-2-1 2 2-2-2 0 2-1-2 1 1 2-1-2 0-1 2 1 3-1-3 1 1-3-1 0-3 1-2 0 2 0 1 3 0-1 2 2 0 2 3 0 0-3 0 3-1 2-2 2 1 3 2 1 1-1 2-2-1-3-3 0 0 1 1 2 0-2 0 1-2 0 2 1-1-1-1 1 2-1-2-2 0 4 1-2 0 1-1-1 1-2-1 2-2-2 3 0 1 1 0 1 2-2 1-2 0 2-1-2-1 1-2 0 0 3 3 0-3 0-1 0-1 2-1 1 0 1-2-1-1-2 1 1-1 3 1 2-1 2 0-3-2 0-2 0-1-1-1 1 3 1-3-1 0 1 3-1-2 1-2-1 3 1-2 0-2-1-1 0 2 1 3 1 1 1 2-1 0 2 1 0 0 2 0 3 0 1-3-1 1-2 2 1-1 3 0-2-2 2-1-2-3 0-2 2-2 1-1-2-1-2 3-2 0 3 0-1-1 2-1-2-1-2 1 3 2-2-4 1 1-1 1 2 0-1-1 0 1 1-2-3-3-1 2-1-1-2 2-1 2 1-2 0 1 2 0-3 2-2-2-1 0 2-2-1-3-2 1 3 2-1 0-2-1 2 2 0-1 1-1 2-2-1-2 3-2-2-1 1-1 2 0 1 0 2-1 2 0 1 1 1-2-1 2 1-1 1 1-1-2-1-2 2 0 1 1-1-1-3-1-1 2 0 3 1-2-1-3 0 0-2 2-1 1-3 1-2 1-3 1 0-1 2-1-3 0-2 1-1-2-1 2 0 1 2 1-2 3 0-1 2 2 0 0 3-1 1 1 1 1 1 0 3 1 3 1 3 1 2-2 2 0 3-2 3-3-1 2-3 0-2 0-2 1 0 1 0 1 0 2-2-1 1 2-1 1-1-1-1-2 1 1-3-2 2 0 1 2 2-2 2-1 3 3 1 1 3 0 1 0-2-3 0 2 2 2 0-2 2-1 1 2 1-1 2 1 1-1 1 0 2 0 3 2 0-2-1 1 0-1-1 3-1 2 1 2 1-1 3-2-2 1 0-2 2 2 0 0-2 1 1 2-1 0-1-2 0 1-1-1-2 0 1 3 0-2 1 2-1-2 2 1-3 2 0 0 2-1 2-1-1 0-2-2 2 2 0 2-2-2 0 0 2-1-2 1 1 1 1-1-3 0 2 0 2 1-2-1 3 0 3-3-1-1 1 1 0-2 0 2 1 1-1-1-2-1 3-2-1 0 3 2-3-1 0 1 0 3-2 0-3 0 3 2-1 1 0-2-3 3-1-3 0 2 0 0-3 1-1 0-2-2-1 1-2-2-1 3 1-2 1 2-1-3 0 3 0 1 1 3 0 1-1 2-2 2-2 0-1 1 0-1-2 1 3 1 1 3 2 0 1 2-1 0-3 3 2-1-2-3-1 2-1 2 0-2 0-1 1 0 3-1 0-2-2 1 2-2 2-1 2-1 1-2 0-1-1 2 1-1-1 1 0-1 1 1-1-2 1 2-2 2-1 3 0 2 1-1-1-1 1-2 1-2 2 2-1-2 2 0-1-1 2 3 1 0 1 1-2 2 2 1-1 0-1 0 2-1-1-2-2-3 1 2 0-1 1-3 0-3 0 2 1-1 3 3 0-1 0 1-3 1 2-1-1-3 2 2-3 1 2-1-1-1 1-3 0 2-2 0 2-1-2 1-1-2 0-3 1 3-1 2 2-4 1-1 1 0 1-1 2 0 2-1 1-1 2 2 2 2 1 2 1 2 1-2-3 3 1 1 1 1-3-2 2 0-1 1 1 1-1-2 1 1-2 0 2 0-3 1 2-2 1 3-1-2-2 1 2 0 1-3 1-2-2 1-1 2 2 0 2 0 2-1 2 0 2 0-2 0-1 2 1 1 0-1 2 0 1-2 1-1 2 1-1 0-2-1 1-2-2 2 2 3 0-1 3 1-3-2 1-1 0 2-1-2 2 2-1 1-2-2 0-1 2 2-1-3 0 2 0 2 0-4 0 1-3 1 0 2-1 0 2-3 2-2-2-1 2-1-3 0-3 0-2-2-2 2 0 1-3 2-2-2-1 1 0-2 2 1 3 2 2-1 1-1 1-2 1 0-3-2-1 0-2-4 1 2 2 0-1-2 1 0-3 0 2 1 3-1-2 1-2 0 2-2 0 3 1-2 2-2-2 2 1-1 3 2 1 1 2 0 2-1-1 1 1-1 2 0-3 1-1-3 0-1-3 1 3 1 1 2 2 0-3-3-1-2 0 1 3 0 2 0-2-2 0 1-1-2 2 3 2-2-1 0-2 3 1-2 1-1-2 1 2 2-2-2 2 1-1-2 0 0-1 2-2 2 1 2 1 2-1-2 0-1-2-2 1-1-1 2 2-2-3-3 1 1-1 2 0-1 2 0 2-1-2-1 2-1 1 1-1-2 0-3-1 3 1-1 1 0 2-1 3 0 3 2 1 3 1-2 3 1-1 0-2 3-1-1 1-1 1 0-2 2 1 0-1 0-3-2-1 1 2 3 1-1 3-3-1 0-1 1 3-3 0 1-2 1-2 0 2-3 1-1 0-3 2 2 2 1-1 2-2 1-1 1 1 0-2 3 1 0 1 2 0-1-3 0 3 1-1-1 2 1-1-1-1 2 3-1-1 0-2 0 2 0-1 0-2 0 3 2 1 0-1 0 2-2-1-1 0 2-3 1 2-1-2-1-2 2 3 1-2 1-1-2 0-3 0 0-1 3 0-2 1-2-1-2 1-2-1 0 1-4 0-1 0-2 0-1-2-1-3 3 1-1 1 0-2-3 2 4-1-2 0 0 2 0-2 0 3-1 2-1-1-3 1-1-3-1 2 1-2 1 1-2 1 2 0-1 3-2 1 1 2 3-1 2 0-2 1-1-2-2-1-1 0 0 1 0 1-3 0 2 2 0-1 1-1 0-4-1 3 1-3-3 1 2 2-2-1 1-1 0 3 0-3-2 2 1-1 2-1-2-2 2 0-3 0 1 1-1-3 2 1-3-1 1 2 0 1 0 2 1-2 1 3-2-2 0 2-1 1 3-2-2 2-2 0-1-1 1 2-3 0 0-3-1 0-1 2 0-2 0 1 3-1-1 0-3 1 2 1 0-2-1 1 1 1-2-2 1 2 1-2-2 2-1 1-2-1-2 3 2-3-2-2 2 1 0-3 2-2 0 1-1-1-2 0 0-2 1 2-2 2 1-1-2 0 2 2 1-1-1 0 0-2 1-2 1-3-1 2 1-2-1 2-3 1-2-1 1 1 3 1-2-1-3 0 2 0 0-1 1 0-1 2 0-2 0 2-2 0 0 3-2-2 2-1 0-3 0-2 1-3-3 1-2 1 0-3 2-2-3-1 2 2-2-3-1 2 0-2 2 2 0-2 0-3 1-1 3-2-3-2 3 1 0-1 2 0 2 2 0 2 0 3 1 2 1 1 2 0 1 0 1 1 2 0 2 2 2 0 1-2 1-2 1 0-1-2-1-2 3-1 1-1 0 2-1-2-3 1 2 3-2 1-2 1-1 4 3 0 3-1 3 1-2 1-3 0 2 0 2 0 2-3 0-1 1-2-2-3-1-2-1-1-2 1-1 1-2 0-2-1 1 2 2-2-2 1 2-1-2 1 2-2-1 1-1-2 2-1-1-1-3 1-1 1 0 3 0 2 2 1 1-2 2-1 0-1 1 3-3 0 0-2-1 2-3 0-1 3 2-2 1 2-2-2 2-2 0-3 1-1 0 2-1-3-2 2-1-1-1 1-1-1 1 0-2 1 1-2 0 2 0-3-1 3 2-1-3 1-1 2 0-1 0-2 1 2-3 2 3 1 3 0 0 2 2-2-1 0-2 0-1 1 1 3 1-2-2-2 1-2-3 1 2-3 3 0 0 3 3 0 1-3-1-1-3 1 2 0 0-3-2-2 3-1 0-1-3-1 0-2 1 0-1 2 1-2 1 3 0-4-1 3 2-1 0-3 0 1 0 3 2 2-1 1 3 0 1 1 1 2-2-1-1 1 2 1-2-1-2 1-2-2 1-1 0-3-1 1 0-1 1 0 2 1 2-3-2 2-1 1 2 1 0-2 2-3 2 1-2 2 0-3 0 3 0-2 2 0-2 1 0-1 3 1-2 0 3 0 1-2-1-2-3 1-1 2 1 1 1 3-3 1-1-1 2-2 1-3-1 3 1-2-3 2 2 2-1-1-2 1 1 2 2 3-3-2 2-2-2 1 2-3-2-1 0-1 0-2 0-2 2 0-1-3 2-1 0-1 1-2 1 1 2-1-3 1 2-1-1 3-2 0-1 1-1 0 2-2-2 2-1 2 2 3-2 0 0-2 3 0-2 2 2-2-2-1 1-2-1 2 0 2-1 2-3 0-1-1 1 0 0-2 3 1-4 0-2-1-1-1-1-3 4 0 1-1-2-2 2-2-1 2 0-3 1 1-2 2 1-2 1 3-2 3-2-3 0 3-3-1 1 2 2-2 3 0 1 2-1 2 0-3 2 2 1 1-2 0-2-1 1-2-2-1-1 1 0 1-2-1-3-1-2-1-2 1-2-1 0-2 2 1-1-2 1 2 0-2 2 3-2-1 0-2 0 3-2-2 2 2 0-3 0 2 2 2 2 0 3 2 1-3-2 0 1 2-1-3 1-2 0 3-1 0 0 2 0 2-3 0-2 0-1-2-1 1 0 2-2-1 1 2-1 0 0 2-1-2 3 1-3 0 3-1 0 2-2 0 1-1-2-1 2 0 2 2-2 0 0-3-1 1 1 0-1 2 1-1 1 0-2 0 0-2 1 2-2 2 3 1-1-1-1 0 0-1 0-1-1-3-3-1-2 1-2 1-2 0-2 0-2-2 3 0 0 2 2 0 3 0 3-1-3 2-2-1 1 2 2 0-2 1-1-2 1 1 1 1-1-3 0 3 0-3 0 4 0-2 2 2-1-2 2-1 1-2 1-1-1-1-1 1-1 3 2 0 0-2 0-2 2 2 0-2 0 2 0-3 0-1-2 2 3 1-2-2-2-1 1 2-1 0 1 3-1-3-3 0 1 0-1 1-2 0-3 0-1-2 0-1 1-2 1-1-1 2 1 0 1-2 0 2 0-1-1 1 1 2-2-2 2-1-2-2-1-2-2 1-1 2 1 1 0-2 0 3-2 1 3 0-2 0 2 0 2 0-1-1-2 2 3 2-2-1-1-1 3 1 1 3 3 0 0 1 2 3-1 2-2-1-3-1 0 1-2 3 2 1-1 3 0-2-3-1 1 2 3 0-1 0-1 3-2-2 3 0 2 0 0-1-2-1 1-2 1-2-1 2 0-2 2-2 0-1 0 2 3-1 2 0 0-1-2-1-3 3-1 1 2 1 2 2 1 0-1 1 1 1-1 2 1 1 1 1 1-2 0 3 3 0-1-3-1 1 1 1-1-3 0 3 3-1-1 0 2-1 0-4 2-2-1-2 0 2 2 0-2 0 1 0 0-3-2 0-1-3 2-2 2 3-2-3-1 1 2 2-1-1-1-3 3 1 0-3 0 2 2-1 2-1 2 1-3 0 0 1 2 2 1 0 2 0 1 2 1 1 1 2 2 1 3 2 2 0 1 1 3 2-2-2-2 0 1-2-3 0-2 2 0 1-2-1-1 2-1 0 1 3 3 1-3-2-3 0 1-1 2 0-2-1 0-2 0-3-1-1 1 1 2-2 3-2-3-1-1-3 2 0 2-2 1-1-2-1 0-1 0-2-1-1 0-3-1-1 0-2 1 0 0-3 1-3 2 1-2-1 3 0-1 3 0 1-2 0-2-1-2 1-1 1-1 3-3 0-2 1-3-2 2 0 0-1 2 0 1-1-1 0 2-2 1-3-1 1-2 2 1-1-2-1 0 3 0-3 2 2-1 1 0-2-2 1 1 1 2-2-3 0 1 2 1-2-2 1 2 1-2 1 3 0 0-2 3 1-2 2 1-3 1-1 1 1-1-1 1-2 0-3 2 1 2 2 0 1 1-2 3-1 0-2-2 2-2 1 2 2-1 0-3 2 2 0-1-2-2 0-1-1 1-2-3-1-1-2 0-2 1-2-1-2-1-3 0-1 3-3 0-1-1-2-1 0 2-1-3-2-1-1 1 1-2-1-1 1-2-1-1 3-1-2 2 1-1-1 2-2 2-1-2-3 1-1 2-1 0-4-1 3 2-3 1 1 1 2 2 2 0-1-1-3 2 0 1-2 3-1 2 2-2 0 2-2-1 3 0-3 0 2 0-2 0 2 0-2 0-3-2-1 2 2-2 0 0 1-2 3-2 1 1-1 3 1 0-2-1 0 0 3 1 0 1 3 2 1 1 0 1-1 2 1 0 2 0 2 2 0 0 2 0 2 2-1 2 2 0 3 2 0 1 1 1 1 1 0 1 1 3 1 2-1 0-1-1 2 0-3 0 2 1 0 1 1-2 1 0-2 4-1 0-1 1-1 0-3 1 0 2 2 3 1-3 0 1 1-2 1-3-1-2 1 0-3 2 1 2 3 2 2 1 1 3-1 2 0 0 1 0 2-1 2-2 1 1 2 3 0 1 0 2 2-2 2 1 2 1 3-1-1 0-2-1 1 2-1-1-2-1-3-1 3 1 2 2 3-2-3 1 1 3 0 0 3-3-2 1 1-3 0 2-1-1 0 3-2 2-1-1-2 1 2 2 1 0-3 0-1 1-3 0 2 1 1 2 1-1 1 0-2 0 2 1-1-2 1 1 0 2-1-2 0 2 2-1-1-1-1-2 0-2-2 1 1-3 0 2 2 1 1 2 1 2 0 3 1-1 0 0 2 2 0-1 1-1-1 2-1 2 0-2-2 1-2-1 1 2 0 1-3-2 0-1 2 2 1-2 1 1 2 1 2 0 2-2 2 0 2-2 2 1 3-1 3 0 2 0 1-1 1-1 2 1 1-2 0 1-1-1 2 1 2-2-2-1-1-2 1 0 1-1 2 3 0-1 2-2 1 0 1 1-2 0 1-1-2 1 2-1-1-2 0-2 2-1 2-3 2 0 2 2 0 1 2-1 3 0 1 2 2 1 1-2 3-1 1-1 2-1 1-1 2-1 2 0 1-1 3 0 3 1 0 2 2-1-3-1-1-3-2 1 2-1-1-1 3 1 2 0 3 0 2-2 2 3 2 1 3 1 3 2 0-2-2-2-1 0 3-2 0-2-2 0-3-4-2-1 3-2-1 0 1 0 1-1 2-1-1-1 0-4 0-3 0-1 2-1 1-1 2M479 1804l2-2 1-1-1 1-1-1-1-1 0-2-3 1 0 2 2-3 1 1-1 2 0-2 2 2 1 1 1 2 4 0 1 2-3 0 1 0 3 0-2-1 3-1-1 1-2-1-2 1 1 0-1 2 3 0 1-1 1 0-1 1-1-2 2 2-1 1 1 3-1-3-1 3 2 2 3-1 0 2 0 1 3 1-1-1 0-1 1 1 0-3 2 1-2-2 0-1 1 1 2 1 1-2 0 2 1 1-2-1-1 3-2 2-1 1-1 3 2 2 0-2-2-1-3-2-2 0-1 0-3 1-1-2-2 0 1-1 1-2 1-3-2-1-2 0 1 2 1 2 1-1-1-1 3 1-2-1 2 1 1 2-1 3 2 1-1-1-3 1-2 0 1 1 0 3-2-1 2 0-1-1 0 3 1 2-2 0-2 2 0-1 0-1 0 2-2 0-2-1-2 1-2 0 0-2-1 2 3 2-3-1-1-2-2-1 1 0 3-1 2-3-3 0 1 1-3-1 1 1 2 0-2 0-1-1-3 0 2 1 2 1-2 1-1 0-1-3 2-1-2 2 0-1 0-3 1-1 1 0 1-3 3-1-1-1-1 1-2 0 2 0-1-1 0 3-2 0 2 0 2 0-2 0 2-2 0 2 0 1 2 2-2 2 1-3-3 0 0 2 0 1 1 3 2 1 1 2-2 0 1 3 0 3 1 2-1 2-2 1-2 0 1 3 0 2-1 0-1-2 2 0 0 2 1-3 0 1 1 2 1-3 1 0-2-2-2-1 3 0 0 2 2-2 1-3 1-1 1 0 2 0 1 2 1 1 2 0 1 1 2-2 0-1-2 1 2 2 0 1 2 0-1 2 2-1 0-1-1 1 2 2-2-3-1 0 1-1 1-1 2 1 4 0-3-1 1 1 3 0-2 0 2-2 2-2 0-1 0-2 0 1 0-2 0-2-1-1-1-1-1-1 3 0-1-3 1-1 1 2-2 0 2 1-2 0-1 0-2 1 0 2 0 2-3-1 1 3 3-2-1 1 3 1-1 2-1 0-1 0-1-2 0 2 2-2 0 1-1-1-2 2 1-2 3 0 0 2-1-1 2 1 2-2 2-1 3 0-1 0 1 2 0-2-1 2 0 2 1 2 0-2-2-1-1-2 2-1 3 1-2-1-3 1 2-1-2-2-2 0 2 0 0 2 0 2 1 2 2 2 2 1-1 2 1 3-1 2 0-2 1 0 2-2 0-2 0-2-2 0 0 2 1-2 1-1-2 2 3 0 0-2 2 1 0-4 0-1 2-1 1-1 2-1 0 2 0 1 0 3 0 1 1 1 1 2 2 2-3 2 1 1-1 1 1 2-2-1 1 1 0-3 1 2 2 1-1-1 1-2 0 1-3 0-1 3 1 0-3 0 2-1-2-1 1-1 2-2-2-2-1-3 0-2 1-3-2 0 2-2 2 2-2-2-1-1-1 1 0 2 0 3 1-2-2 1-2-2 1-1 0-1 0-1 1-3-1 0-1-1 2-2 0-3-2 0-1-1 0-3 2-1 1-1 4 1 0-3-1 3 2 0-3 1-2 1 1 0 2-2-3 2 2 1 0-1 0-3 2 1 1 2-1-2 1 0-1-3 2-2-1 3 2-2-1 1-1-2-1-1-1-1 0-3-1-1 2 0-2-2 1 1-2 1 1-1-1-1 1-2-2-1 1 0 0 3 2 0-1-1-1-3-1 3 1-1 1 1-2 0 2 0 2 0 0-2 1-1-2 0 3 1-3 0-1-1 0 2 1-2 0 1-2 2 0-1 0 2-2 2-1-3-1-2 0 3-1-2-3-1 1 2-2 0-1 2 1-1-1 1 2 1 0-2-2 2-1 2 0-2 2 1-1-1-2 0-2-1-1 1 0 2 0 1-2 0-2 2 0 2-1-2-1-1-3 0 0-1-3 1-1-1-3 0M491 1669l1 2-3 2 0-1 0-2 0 1 0-1 0 1 1 0-1-2 2-1 1 1 2-2 1 1-3 1 0 1 0 2-2-2 0 1 2 2-2 0-1 0 1-1-2 0 3 0-3 0-1-2-2-1-1-2 1-3-1-1 0-2 2-2 0-2-2-1 0 1 1-1 1 2 1-1-2-2 1-1-3 1-2-2-3-1-1 1-3-1-1-2-1-2 1-1 1-3 2 1 2 2-2 0 2 0 0 1-2 0-1 1 0 2 2 1 2-2-1-2-3-1 3 1 0 1-2 2 1-2-1 1 0-1 1 2-1-1 2-2 2 0-2-3-1-2 0 1 0 1 0-1-2 0 1 1-1-3-3 1-2-2-3-1 1 2 3 0-1 2 0-3 2 1-1-1-2 2-1 3-3-1-1 1 1 3 0-2 3-1 1 0-2-1 2 0-3 1 2 0 2-3-1 2-1 2 0-3 1 3 0 2 0 2 2 0-1-1-2-2-2 1-3 0 1-2-1-1 0-2 1 0 1-1-2 0 0-3-1 0-1 3 1 2 0 2 1-1 0-2-2-1 1-2 0-2 1 0 2-1 2 0 2 2 1 0 1 0 2 1 1-1 2-2 3 0-1 1 0-1-2 0 0 2 0 3-1-1-1 0-1-2-1-1 2-2 2 3-1-1 2-1 2 1-1-3 0-2-3 1-2 0 0-2-1 1-1 3-2-1 2 0-1-1 3-1-3 0 0-2-1-2-1 3 2-2-2 1 3-1-2 1-1 2 2-2-1 2-1-3 3-1 0 2 1 0 0 2 1 0-3-1-1-2 1 1 1-1 0-3-2 2-2 1-2-1 3 1 2-1-2-2 1-1 1-2 2-3-2 1-2 0 1-1 3 1-2-2-2-2 0 2 2-1-3 0 1 1 2 2-2-1 2-2-2 0 2 2-3-1 1 2-1 2 0-1-1 1 0 1 1-2-1 2-2-2-1 1 2-1 0 1 2-2-1-1-3-1-1-1 3 0 0-2 2 0-1-1-2-1 2 0-3-1 2 0 1-2 1 0 3-1-1-1 1-2-3 1 3 1-2-1 1 1 2-2-2 0 1 3 1 1-1-2 0-1 3 0 1-2 1 2 0-2 0-2 0-2 2 0-3-2-1-2 2 2-1-1 3 0-2-1 2-1-2 2 1 2-2 0 1-3 1 2-1 2-1-2 0 3 0-2 1 2 0-2-2-1 2 3 0-2-1 0 1 2 0-3 0 2-1 2 0 3-1 0 2 2-2 2 2-2-2 2-2 1 0-2 2-1-1-1-2-2-2 2-2-1-1 1 2-2 0 3 1-2-2 1 0-3-1-2 0-3-2-1-1-2 1-2 1-2-1 2 1 0-2 1 2 0 0-3 0 3-1-1 1 0-3 1 1 2-1-1 0-1-1 2 1-3-1 1-2 1-1 1-1-3-2 0-1-1 1 2-2 1 3-1 0 1-2-2 0-2 2-2-1 2 3 0 1 0 0-2-1-2 1-1 1-2 3 2 1-1-2-2 2-1 1-1-1-1 1 1-1 0 1 1-2-2-1 2-2 0-1-1-3 0 3 1 0 2 1-3-1 1-2 2-1-2-1 1-1 3 2-1-2-2-1-1 2-2-3-1-1 2 2-1-2-2 1 1 0 2-1 3-1-3 1 2 1 0-1-2 3 1 0-3 0 2-1 0 1-2-1 0 1 2-2-1 1-3-2-1 0-2 1 1-2 0 1 1 1 1 1 3 3 1 0-1 0-2 0 1 1-1 1 0 3 0-1-1-1 0 0-2-3 2 1-2-1-1-2-2 1-1 2 3-1-1-1 2-1-1 2 0-1-2 1 3 1-2-1-1 0 2 1-3-1 2-3 0-3 0-2 1 1 0-1 0 1-1-2 1 2 0 0-1-3 1 0-2-1-3 0-1 2 0-1-2-1 2 1 0-2-1-1 2 3-2 1 1-1 3 1 1 1-1 0-3 3 1 2 3-1-3 0 2-3-1 1 1 1-1-1 0 2 1-2-2-1-2-2 1-1 1 0-1 3 0 0 3-2 0 2 0-1 2-3 1 2 2-3-1-1-2-1 0-1-3 0 1 0 1 1 1-3-1-1 0-1-2 2 1 1 0-2 2 1 0 2 0 0-3 1-1 0-2 1-2 1-1 1-1 1-1 2 0 2 0-1 1-1 2-2 1 1-1 3 1 1 2 2 1-1 3-1-2 3 0 0-1 1-1 1-1 2 1-1 0-1-3 0 2 2-1-1-2-1-3 0-1-2-1-3-1 0-1 3 1 2-2 2-1-1-2 2 0 0-1 1-1-1-2 1-1-1 0 2 1 0-2 1 0 3 0-1-2 1-1 0 1 1-1-2-1 2 2-2 0 0-4-2-1-1 0-3-2 1-1 3-1-2-2-1 1 2 1-1-2 1 2 1 0-2 1-1 0 0 2 1-1 3 1-1-1-1 1-2-1 2 1-1 0 1 0-1 0 1 0 0-3 0-2 0-2-3-1 1 1-2-1-3 0 0 3 3 0 0-1 0 1-2 0-1 0-3 1 0 2 0-1-2-1-1-1 3-1-2-2 2 1-1 0-2 2 0 2 3-1-2 0 2 0-2-1 1-1 1 1-2-1 1 2 0-3 0 1 1 1-2 1 1-3-1-3-2-1 0 3-1 0 1-1-1-2-1 2-1-1 1-2 1-3-2 0-1 2-3-1-1 3 0 1 2 0-3 0-2-1 2 1 1 2-1 2 0 3 1 0 1 1-1 2 2-1-2-1 0 2 2-1-2 0 3 0-2-1-1 2 2-2 1 2 2-1 1 2 1 1-2-2 0-2-2 1 2 2 2 1 0 2 0 2-2 1-1 2 2 1 1-2 0-2-2 1-1 1 0-2-2-1-1 1-1 0 2 1-1 2-1-2 0 2-3 2 0-3 1 1 3 1-3-1 2 0-3-1 1 2 2-2-1 1-3 1 0 2 1 0-1 2 0-2 1 0 1-2 1-2-3-1-1 0 1 2 2 0 3 2 1 0 2-1 0 3 1 2 2 2-2-1 0 3 0-1 0-2-1-1 1 0 0-1 3-2-2 1-1 1 1-3 1 3-2-1 0-2 1 2 3 0 1 1-1-3-2-1-2 2 3-1-1 2 1 0 3-2-1 2 0 1 2 0-1-1 1 1 2 1-2-2-1 1-1 0-1 1-1 1 0-3-1 2 1 0 3 1-2 0-1 0-1 3 0-3 0 2 0-3 0 2-1 2 2-3-1 1 1 2 2 0-1-3 2-2 1-3 1-1 1-1 1 0 1 1-2 1-1-2-2 0-1 2-2 1-2 0-1 2 2 2-2 0-3 1-1 2 0 1-3-1 1-3-1 1-4 1 3 0-1 0 3 0-1 0-3 0 1-1 2 0-1 2 1-3-1 2 0-1-1 2 1 1-1-1-1-1 1 2-1 0-2 2-1 1-2-2-1-2 0-3-1-1 1-1 1-3 0 3 1-1-2-1 1-3-2-1-1 0-3-2-1 2-1-3 2 0 1-1-2 2 2 0 2 1 0 3 0-3 0 3-3-1 1-1 2 0-3 1-1-3-1-2 0-2-1-1-1 0 0 2 0-2-3 0-1 0-2 3-1-2 2 0 0-1-2 2 0-2 1 3 0-3 2 2-2-1 1-1-3-1 1 1 1-1 2-2 0 2 1 2 0-2-2 1 2 0 2-2-2 0-2 2 3-1-1 1-2-2 1 3-2-2-1-1-3 0 2 2 1 2-3-2 1-2 1 1 0-2-2-1 1 1 0-2-2 1-1 1 2 1 0 1 0-1 2 1-1 1 1 2 2-1-2 1 1 3 2-1-2 2 0-2 2-1-2 1 0 1 2-2-1 3-2-2 2 0 0 1-3 0-2 1-2 1-2-2 2 3-3-1 1-2 0-1-1-1 1 1-1-2-2-2-2 0 1 1 2 1 1 0 3 0 1-1 2 0 2 2-2 0-2 1-1-1-1 0-3 1-1 1-1 2 0 2 1 1 0 1 0-2 0 2 1-2 0 1-2 3 2-1 3 0 0-3 0 1-2 0 1 2 3 0 0 2-2-1 1 2 2-1 2-2-1 2-1-2-2 2-2 0 2 2 1 1 0 3 2-1 0-3 0-3-2-1-1 2-2 0-2 1 0 3-1 1 0-2-1 3-1-3 2 2-3-2 1 0 1 1 2-1-1 2 1 2 1 2 2 0 2 2-1-3 0-1 0-2 1 2-2 2 2 1 1-2-1-2-1-1-1 2 3 0 1 0 1 0 1-1-1-3-1 1 3-1-1 2 0 1 2 1-3-1 3 0-1 2 1-1-2 1 1-2-1 1 3-1 2 2 3-1-1 0-3 2 1-1-2 0-1 3-3-2 2 2-3-1-2 0 0-2 1 1 0 2 3 1 0-3 2 1 0 1 2 1 0 2-3-1 2 2 0-3 3 0 1 0-1-3 1-1-2 0 1 0-1-1 2 0-1 0-2 0 3 2-1-2-1-2 3 1-2 2 0 1 0-1 2-2 1-3 1-1-2-3 0 2-3 0-2 1 0 1-3 0 2 0-2-2 1 1 3 1 2 2-1 1 2 3 1-2 2 0 1-1 1 2 0 1 1 2 1 2 0 3-1-3 0 1 2-1 0 2-3 0 3-1-1 2-2 2-1 2-2 1 1-1 1 3-2 2 1 0-1-1 0 1 1-1-3-1 0-3-1 1 1 3 2-1 3 1 1 1-1 3 1-2 2-1 2-2 0-3 2 0 1 1 3 1 1 0 0-2 2 0-2 0 1-1 2 1-2-1 1 0 1 3-1-3 2-3 0-3 1-1 1-2 2-2 2 2 1 0 1-1 1-2-1-2-2-2 2 2-1 2 0 3 1 1 0 1 2 2 0 3 3 0-2 1-1 1-3-1-1-2 1 4 0 2-2 0-1 3 0 1-2 0-1 3-2 0 2-2-2 2 2-1 0 1 2 0-2-3-1 1 1-3-2 0-2 0-1 1 2-1-3 0 0 2 1 0-1 3 0-2 2-2-1-1-2-2 0 2-1 2-1-2 1 3-2 1-1-2 1 1 1-1 3 1-2 1 1-2-3 0 2 2-1-1 1-2 0 3-1-1 1 0-2 2 3-1 2 0 2 3-2-1 1-1-1-1-3 0 2 0-2-1-3 2-1 2-2 0-1 3 0 1 1-1 1 2 2-1 3 0-2 2 1-3 3 1-1-1-2 2-3 0-1 2 2 3-2-3 3 1-2 0-2-1 2 0-3 0 2-1 1 1 2 1 0-3 2-3 1 1 2-1-1 1-1 2 0 1 1 1 1 3 1 3-1 1-2-1-3 2 1 1-2-1 3 0 2 0-1-2 3 1 1-1-2 2-2-2 1-1-1-1 1 2-2-2 1 1 2-2-2 1 2 3 0-3-2 1 3 1-1-2 1 0 2 2 1 3 2 0 3-2 1-2 2-1-2-1 0 2-3-1-2 2 1-1 1 2 0-2 0 1-1 0-2-1-2 0 3-1-1 2-2 0 0 2 2 2 1 2-2 0-2 0-1 2 2 0 0 3-1-1 1 2-1-1 1-1 1 0-2 0 1 2-2-2 2-1 2 0-2 1-3 0-2-1-3-2-1-3 0 3 1 1 0 1 1-2 1-1 3 2 0-1 3 0 0 2 1 1 0-1 2-1 1 0 2 1 2 0-2-1 1 2-1-2 1 1 1-2-1 1 3 1-3-1 1-1-1 3 1-2 1-1-1 0-3-1 0-1 0-2 0 1 1 2-3 2-1-2 1-2 3 1-1-1-3 0 2 2-1 2-2 1 1 0 1-1 0 2 0 2 1 3 1-2 0 3-2-2-3 0 0 3 1 1 0 3-2-2 2 3 0-4-2 1 1 1-1-1 0 2 0 3-2-3-2 2 2-3-1-1 2-1-3-1 1 2 2-1-1-1-3-1-2-1 2-1 0-1 0-2-3 0-3 0 0 3 2 2-1-1-1-1-1 1 0-3 1-3-1 1 1 2 1 1 0-3 1 1-1 3-1-3 0 1 2-2-2 1 0 2 0 1 1-1 0 2-1 0 0-3 1 0 2 0 2 3-1 1 1 2-2 0 0 3 3-1-1 0 2 0-2 0 0-2 0 2-2 1-1-3-1 0-2-1-1-2 1 2-2 1 0 3 0 1-3-2-1 3-1 0 1-3 0 3-3 0 3 0-1-2-2-3-1 1 2 1-1 1 2-2-2-1 0 1 0-2 0-1 0 1-3 1-1 2-3-1-2 1 2-1 1 0-1 2 2 2 1-2-1 0-1-2 2 2-1 2 2-2-2 1 1 1-1 0 1 1 1-1-2-1 0 2 1-1-1 0 2-1-2 2 0-3-1-2 1 3 0-2-2 1 2 0 2 2 1 1 0-2 0-3-1-1 1 0-1 3-1 0-2 2 0 1-2 0 0 1-1 2 2 0 2 2-1 1-2 3 2 0-1-2 2-3-1 3 1-2-2 2 2-1-2 0 2 1-3-1 3-1-2 1 1-3-1 2 1 3 1 1 0 1-3 0 0 2-2 1-2-2 2 1-1-2-2 1 0 1-1-2-2-1 3 1 1 2 2 0 1-1-1-3 2 0 3-2 2 1 0 2 2-2 2 1 1 2-2 0 3 1-2 1-2-2 2 0 1 1-3-1 2 0-1 2 3 2 2 1 0 3-1 2 2-1-3-1 0 1 2 2-2-2-2-2-2-1 2-1 0-2 0-3-1 2 0 2 0 1-2 1 3 1-1 2-2 1-2 1-3-2 2 0-1 3-2 2 0-2 3 2-1-2-2 1 2-2-1 2 1-1 3 1 2-1-2 2-1 0 2-2 1-2-1-2 1-1 3 1 0-4 2-2 0 2-2 2 3 0-1-2 0-1 2 1 2 1-1 2-2 1 3 0-2 2 0 1 0 2 2 0 2 2-1 2-2 1 2-2-1 0-3 0 1-2 0 2 0-1 1 0-2 0 1 0 2 1 2 1 0 1 1-1 0-1 3-1 0-3 2-1 1-2 0 3-1-3-3 1 3 1 1-2 3-1 2 1-2-1 1-1-1 0-2 1 1 1 2 2 0-2-2 0 0 3 1-2-2 2 1-2-3 1 2 0 1-1 0 2 0-2-3 1 0 3 2-1 1 1 2 1-2-2 2 1 2 1-2 3 3 1-2-1 2 0 0-2 1-1 1-1-1-2-1-1 2 0-2 1-3 0-1-3 1-2 3-2-3 0-2-1-1-1-1-2 2 0 0-3 2 0-2 0 2 2-2-2 2 1-2-1 0 2 0 2 3-2 1 3 2 1 2 0 0 2-1-2-1 0-1-2 0 3 0-2 2 0 0-1 0-2-3 1 2 1 0-1 2 0-2-2-2 0-1 1 2 1 0-2 2 1-1-1-1 1 0-1 1 3 0-3-1 3 2-2-1 1 1-2-1 1 1 0 2-1-1-3-1-2-1 0-1 2 0-1 1 2 0-2 0 3 1 0 0 1 1 2-2-2 2 1 1 1 2 1 1-3-3-1 1-2 1 0 0-1 0 3 3 2-1-2 2 0-1 0 0-2 1-1-1-1 0-1 2-2-3 0 3-1-2 1 1 3-1 0-2-1-2 1-1 3-2-2-2-2-1-2 2 1 2-1 2 1 2 2 0-2 1 3 2 0-2-2-2-2-3 1-1 0-2-1 3 0-2 0-1-1 2 1 0-2 2 1 2-2 2 0 2 1 3 0 1 2 1 1-2 0 2-2-1 2-2-2 3 1-3-1-1 3-2 0 1-1 1-1-2 2-1 0-1 1-2 0 3 0 1 1-1 1 3 1-2-2 0-2 2 1-1 2-1 1-1 2 1 1 0-2 0-1 0 2 2-1 1 0 1 2 2 0 1 0 2-1 1-2 1 2 2 0-2 1 0-1 1 1-2 0 3-1 3 0-1 3-1 0 3 1 0 2 2 0 1-2 2 2 2-1-2 2 0 3-1 0-1 2 1-2-1 1-1-2-1 2-3-2 0 3-2-2-3 0-3 0 0 3 2-2-2-2-2 2 3-1-2 2 1-2-2 0 1 3 1-1-2-1-1 1-1 0-2 2 1-2-1 1 1 3 0 3-2 0-2-1-2-2-2 0-3 0 1 1-1 1 2 3 2 1 1-2 1-2-1-3 2 1 2 1 0-2 1 0-1 2-1-3 3 0-2 1 1 1 0-3 0 1 0 1-2 1 1 0 1-2-1 2-1-2-1 1 1-1-2 0 1-2 0 1 1 3 0-1-1-1-1 2 1 1 2 1-2 0 1 1-1 1-2 1-1 1 2-3-3 1 2 2 2 1 2-2-1 1-2-3 2 1 2 2-1 0-1 0 3-1-1 1-1-1-3 1 1-1 1 0-1 0 2 0-2 1-1-2 1-1 1 2-1 1-1 2 1 3-3 0 0-2 0 2 2-3 0 1-3-1 1-3-2 0 2 1 2 0 0-3 2 2 0 2-1-3 0 2 2 0 3-1 1-1 2 2 2 2 3 0-1-1-1 1 1 0-2-1 3 2-3-2 1 0 2 0-2 0 1 1-1-1 0-2-2 1 2 0-1 0 2 1 1-3 2-1-1 3-2 1 2-2-3 0 2 2-1 2 3 1 2-2 1 0 4 0 0-1 2-1 1 3 2 1 0-2 0 1 2 1-3 0 1-3 0 3 0-3 0 1 2 0 0 2-3-1-1 2 0-1 3 0 2-3-2 0 0-2-2-2 1 2-3-1 1 0 1-1-2-1 1 2 1 1 2-3 0-1 2-1 0-1 1 0 3 1 1 1 2 0 0-3 0-1 2-1 2 1 1-1 1-2 1 0-1 0 1 0-1 2 1 0 2 3-1 1 1 3-3 1 3-1 1 2 1-1 0-3 1-2 1 3 1 2-1 0 0 3-2 2 1 0 2 1-1 1 1 0 2 1-2-2 1 0 0-1 2-2-1-2-1 1 1 0 0 1 1-2-2 2 3 0-2-2 2 1-2 0 0 1 2 2 3 0-3 0-3 1 2 1 1 0 1 1 1-3-1-1-2-1-3 2 2 1 2 1 0-2 1 0 1 3 1 0 3 1 2 0-1-1-1-2 0-3-3 0 0 2-1 2-1-2 2 0-1-1 0 1 3 0-2-1-1 2 1-1 0 2 0-2-1 1 0-1 1 2-3 2-2 1-1 1-3 0-2-2 1-2 1 1-1 3 0-2-1 2-3-1 3-1-2 0-2 1-1 0-2-1 0-2 1-1 1 0-1-2-3 1-2-1 0-2 0-2-3-1-2-1 0-2 0-3 0-2-1-2-1-1-2-2-1 2-1 1 1-3 1 2 1 2 0-1 0-2-1 1 0 1 2-2-3 2 1-1-2 0-1-1-3 2-3 1-2 0 0-1 0-3 0-2 3-1-2-2 2-3 2-1-2-1-2-1-1-1 0-2-1-1 0-2 1-2-2-2-2-1-1-2 1-2 1-2 0-3-2-1-1 0 1 3 3 0-1-2-1-3 0 2 1-1 0-2-1-3-2-1-1 3-1 1-2 0-1-1 2-3 0-1 3 0-1-1 3 0-2-2 2 0 1 1 1-2 1-3 2-1 2 0 1-1 2 0 1-3 3-1 1 0 2 0 1 0 0 3 2 1 1-2 2 2-2 0-2 2-1-1-1 1 0 3 0-1 2 2-2-2-1-2 2 0 1-1-1-1 1-2 0-3 2 1 1-1-3 0-1-3 1-3 1-2-1 1 0-2-2 0-1-2 0 2-1 0-1-2 1 0 0 3-1-2 0-2 3 0-2 0 1 3-1 3-1 2 1 0-2-1 2 1-2 1 2 3 0-2-1 2 3 1 1 1 2-3-3 1 2-3 1 0 1-1 0-2-2-2 2-1 2 0 0-2-3-1 2-2-1-2-2-2 1 0 1-3-1 2-2-1 2 2 0-3 2-1-1-3 1 1-2 2-1 1-3 1 0-2-2 1-1-3-2-2-1 0 1 2 1 0-1 0-3-1 1-2 1 2-2 1 2-1 2 0-1-2 1 0 2 3-3-1-1-2 1 3 0-1 0 2 1-1-3-1 2 1 1-1-2-1 1 1-2 1-2 0-3-1-2-2-2-2-2 1 0-1-1-3 1 2 0 3 1-2-2-1 2-2 1 3-3 1-2 2-1 0 2-2-2 1-2-1-1-2 1-1 2-3 1-1-1 2-2 0-2-1-2 0-1-1-2 0-1-1-2-1-1-1-3-2-1-2-3-1 1 1 3 1 1-1-2 0 2 2-1 0 2 1 1 2 2-2-2 2 2 0 1-1-1 2-1 2-3 0-1 3-2 2-1 0-3-2 2 0-1 0-2 0-2 1 1 2 0 2 0 1-3 1-2-1 0 3-1 0-1 1-1 2-1 1-2 2-2 0 2 0 0-3 0 1 1 2 0-2 0-2 0-1-3-2 3-2-2 3-4-1-1 0-1 2 2 0 0 3-1 0 1-1-3 0-1 2-2-2-1 2-1 0-3 2-1 2-1 2 0 2 1 0-1 1 2-2-1 1 2-2-1 3-1-2 0 2 2-3 2-1-2 0-3 1 0 3 2 0 2-2 2-1 0-3 2-1-2 1-1 0-1 3-1 2-2 1-3 1-1 1 0-3-3 0 3 0 1 3-4 1 0-2 1 1-2 2 2 0 0 2-2-2 0 1 2 1-1-1-1 1 0-1 3 0-3 1 2-2-1 1 2-2-1 3 1 2 0-3-2 2 3-1-1 0-3 0 3 1-1-2 0 1 1 1 0 3 2 1 0-1-2 1 2 2-2-1 1-3 1-2 1 2 1-1 1 0 1-2 3-1 3-1 2 1 0 2-1 1 1 2-1-1 0-3 1 1-1 3 1-2 0 1-2 2 2-1 1-1 3 0 1-2-2 1 0 2 2-1-3 0 0-3-1-2 1 1-1 3 1-2 1 3 2-1 2 0 2 1-3 1 3 0-1-1-2 1 2-1 1 2-2 1-2-3 3 2-3 0 2-2-2 1 2 0-1 2 1-3 1-1 1 1-2 1-3-1-1 3 2-1 0 2 0 1-2-2-1 1 1 1 1 0-2-1-2-2 0-3 2 1-2 2 3 1 1 1 1 1-1-1-1-3 0 2-1 2 2 2 0 3-3 2 1 1 0 3 2-2-2 2 1-2 1 1-1 0 1-2 1 3 1-2 1-1 2-2 0 1 0 2 1 2-2-1-1 1-1-2 2 1 3 0-2 2-1 1-1 1-1 1-1 3-1-2-1-1-2 0 1-2-1 3 1 0 1 2 1 3-2-1 0-2 0 1-2 1 1 1 2-3-2 1 1-1-1 2 1-3 1 2 2 2-2-2-1 0 3 0 3 1-2-2 0 3-1 3 1 1 1 0-2 1 0 2 2-2 0-1-1 1-1-2-2-2-1-1-3 2-2 1-2 0-1-2-2 3-1-1-1-1-1-3-2 1 0-1 0 2 2-3-1 2-1-1 2 3-2-1 0-1 3-1 0 1 2 1 2 2 1 0-2 0-1 0-2 1 0 2-1-1-1-2 2-1 3-1-2 0-3-1 3 1-1 0 2 2-3-1 0-3-2 1 2 1-1 1 0 3 1 1 0 2-1 3 0-2-1-1-1 1 1 1 1-1-3-1 1 1 2 0 2-1-1 2 1 1 0-2 1 1-1-2 1 2 1-1-3-1 0 1-1-1-2-2-1 1 2-1 0 2 1 1 1 1 0-3 2 0-1 1-1 1-1 1-1 0 0 1 1 2-1 3 1 1-1 2 1 1 0 2 1 1 0 1 0 2 0-1 0-3-3 1 2-2-3-1 3 0 2 1-1-2-1-2 1-2-1 0-1 3 0-1-1-3 1 1 1-3 1-1-3-2 2-2-3-1 1-1-1-1 2-2 1 0-2 0-2-2-2-2-1-3 3 0 0-2 2-1 3-1 0-2-1-1 2-2-2 2-3-2-1 3 0 2 0 2-3 1-1 3 2 1-1-1 3 0 2 0 1 0 0 3-1-1 0-3 1-1 2-2 3 1 0-2 1 1 0 2 2 1 1 2 1-2 2 2 0 2 1 2 2 2 2 2 3 1 2 1 2 0 2 0 2 1 1 1 2 1M477 1651l4-4 9 0 6 1 5 4 1 6 7 2 2 2-7 1-1 1-4-1 5-1-1-3 3-4 1-4 0-1 4 3 0 1 3 1 4 4 8 5 6-1 5-2-2 2 2 0 3 2 2 1 1-5 0-1 6-6-2 3 3 0-3 3-1-3 2 6 7-5-4 0 9-2 0 3 1 7 4 3-1-2-1 2 1 2-3-1-1-1 2 1 8 6 1 2 6-4 2-3 0 4 2-2 0 4-1 3 3 2 1 3-4 0-1 7 4 0 0 1-4-2 4 3-1 3 1 8 3-4 3 1-1 1 1 1 7-1-2 2 4 0 0-1-4 6 0 2 2 6M480 1646l8 1 1 2 5-3 1 0 1 0 0 6 7 2 2-1 0-2 4-3 2 1 1 0-2-2 1 0 3 2-1-3 1 4 3-3 2 0 2-1 9 0-3 2 2 0 0-1 8-5-2 2 5-1 5 4 2 2-2 2 1 6-1 2 5 0-5 4 6-1 7-1 3-2 4-2-2 5-3 4 1 0 1-1 4 5 2 2-1-4 6-1 0-3 4 5 1 1 1 2-3 0 3 5 0 7-3-2 7 8-2 1-1 4 4 2-8-5 3 4 4-3 5-1 5 1-1 6 7 4 4 6-2 3-2 4 0 3-1 3-4-8M654 1694l-2-1-2 1 2-1 1-2 2 1 0-2 1-1-1 3-1-1 3-1 0-4 3 0-1-3-2-1-1-3 1-1 1-2-1 2-1 2 2-2 2-2 0 3-1-3 2 1 0 1-3 0 1 2 2-1-1-1-2 3 2-2-1 2 0-1 0-2 2 3 2 0 1-1-1 2 3 1-1 0 1-2 2-1-1-1 1 1 1-2-1 1-1-2-2 0 3-1-2 1 0-2 1 2-1-1 0-2-1-1-2-1-2 1 0-3-1-1-2-2-1 1 1 0 2 2-2-1 1-1-1 1 3 0-2 0-3-2 3 1 1 0 1 1-1 2 2 1 0-2-2-1-2-2-4-1-1 0-3 0 0 1 0 2-1-1 1-2-2 3 2 2-1 0-1-1 3-1 3-1-2-3-1-1 0 2 1 1 0 3-1-2-2 0-2 3 2 0 2-2-2 1 1-2-1 3 0-3 0 1 0 3 3 1 3 1 0 2-1 0-2 3 1-3-1 3-1-3 0-2-2-1 0-2 2 0 1-1-1-2-2-1 3 0-2 3 1-2 2 1-1 3-2-2 2 2-1-2-1-2 2-2 0-1-3 0 2-3-2 0 0-2-3 1 2 1 1-2-1 1 2 1 3-1-2-1 2-1 2-1 1 1-2-1-2 1-1 1-3-1-1 1 1 1-2-2-2 2-1-2-2 1-1 1 1 2-1-2-2 1 1 2-2-1 1 1 0-2 2 2 0-2 0-1 1 2-2 0 2-2-2 0 1 1-1-3 1 3-1-1-3-1 0 3-3 2 1-3-3 1 2-2 0 2 0 1 2 0 2 0 1 1 1 2-2 1 2-1 1 1-2 0 2-1 3 0 2 0 0-2-1-1-1-3-2-2-3-1 2-3-1-2-1-2-1-1-1-3-2 1 2 1-3 0 2-1 1 0-1 1-1 2-2 1 2-2 0 2 2 0 2 1-2-2 1-2-3 0 2-1 0-2 3 0 3 1 0-2 0 2 1 3 0 3 3-2 2 2 3 1-2-1 1-2-2 2 2 0 2-2-1 1-1 0-2-1 2-1-1 2-1-1 0-2 1 3-2-2 1 2 2-2-3 0 0-1-2-1 2 2 1 2 2 0 0-3 1 1 3 1 0-1 2-2-1-3-1 3-2-2-1-1 3 0 1-1 0 2-2-2 2 1-2-2-1 2 1 0 2 0-2 2 3 1-2 1 0-2 1 2-1-3 0 3 3-1-3 0 2 2 0 3 0-2 1 1-2 1 0 3 2-1-1-2-1-3-2 0 2-2 2 1 1 1-1 0-2 2-2 0 1 2 1 2 0 2 2 1 2 0-3-1 2-1 1 0 2-1 2-1 1-1-1 3 1 0 0-2-2 3 1-1 0-3 0 2 3-1-2 1-2 0-1 1 2-2-2-2 0-2-2 0 2 2 0 2 2 0 1 0 0 2-1 0-2 0 1 3 1 2-2-2 4-1 1-1-1 2-1-3 0-2 1 1-2 2 2-1 2 2 1 2 1 1 0 1 2 2 1 1 1 2-2 3 2 1 1 1 0 3-1 1 3-1-2-1 3-1-2 2-2 1 0 2 2-2 0 1 2-2-1 1 0 1-1-2 0 1-2-3-1 1-1 1-1 1-1 1 0 2 1 0 2-1-2-1 0 2-1 1-1 3 1 0 1 1 1 1 2 1-2-2 1 1-1 2 1-1-1-1 0-3 2-1-1-2-1-1 1-1 2-2 0 1-3 2-2 0-1 1-3-1 2 0 2 1 2 2 2 0 3 1 1 1 0 3-1-2-2 1 3 1-1 1 0 3-2 0-1 2 2 1-1-1 1 3-3 0 2-1-3 0 2 2-1-2 2-1-1 3 3 0-1-1-2-2-1-1-1-1 1 1-1-3-3-1 0 2 2 0 1 0 2 0 4 1-2-2-1-3 2-1-2-2-2 0-1-1 0-3-2-2 0-1-1-2-1-2 1-2-2 0 0-1 0-2-1-1-1-1-1-1-2-1 1-3 0-1-2-1 0-2 0-2-3-1 2 2 2 0-1-2-1 2 0-3 0-3-2 2 0-2 1 0 2 0 1-1-1-2 1-2-2-2-1-2 2 1 0-2 1 2-2-1-3 0-2-1-1 0-2 0 0-2 0-2-1-3-1-1-1-1 1-2-2-2 1-2-2 1-2 2-3 1-2 2 1 2-2 0 0 2 0 2-1 1 0 1 0-1 2 2 0 3 3 0 0-2 1-1 3 1 1-3 0-1-1 1 2-3-1-1-3 0 0-3-1 2-1-1-1-3-2 0-1-1-1-3 0-3-1 1-1-1 2 0-2 0-1-1-1-2-2 0 2 0 2 2-2-1 1 0-1 1 0 2-1 1-2 0-2-3 0 1-1-1-1 2 0 2 0-3 0 3-3-3 1 1 0 1 0-1 2-2 0 3 1-3-3 1 1 0 1-1 0 1 1 1 0-2-2 1 2 2-1-3 2 1-3 1-1 3-1-1-2 0 0-3-2-2 0 3-2-1-2 0-1-1 2-1 1-2 0 3 3-2-1 2 0-2 1 1 3 0 1 1 0 1 0 1-1-1-2 2 0-3-3 0-3 1 3-2-2 2-1-3-1 3 3 0 0-1-3 0 3-1-3 1 2 0 2 1-2 0 2-3-2 0 3 1 1 0 2 0 2-1-2 0 3 1-1-2-1-2 1 2-2 1-2 1-3-1-1 2-2 0-1-1-1-3 1-1-1-2-1 0 1-2-2 1-3-1 2-1-2 3 0-2 2 0-3-2 3 1 0 1-2-1 3 0 0 2-1-1-1-1 0 2 2 1-1 3 1 2 1-2 3-2-1 1 1 3 0 3-1-1 1-1-1 2-2-2-1-1-2-1 0 2-2 2-1 0-2 0-2 0 2-1-3-2-1 3 2 2-1-1 1-2 1 3-1-1-1-2 1 2 1-1-1 1 1 1-2 0 2-1 1 1-1-1 0 1 1 2-1 1-1-1-1 0 1-1-2-2 1-2 2-1-1 3-2-1-1 2 2 0-1-1-2 0 1-2-2 1 0-3 1 1-2-1-1 3-2-3-2 1 2 0-1 3 1-2-1 1 0-2-1 1 1 3 0-2 0 1 1 2-2-2-2-1 0 3-1-1 1 2-2-2 1 2-2-1-2-1 3-1 2 0-3-1 1 2-1-1 0-3 0-2 0-3 1 0-2-1 1-1 1 0 3 1 2-2 3 1-3 1 2-2-4-1 3 1-2 2 0-1 2 0-1-2 1-2-3-2 0 1 1 2-3 1 0 2 2-1 0-2 1-2-1 0-1-1-1-2-1-1-2 0 1 2-3 0 2-1-1-2 2 2-3 0 3 1 1-2 1-2 2 1 0-1 0-3-2 1 3 1-3 0 2-1-1 2 1-3-1 2 2 0-2 2 2 2-1 0-1 0 1 2 2 1-1 1 1 0 2-3 1 0-2-1-2-2 2-1-3-1 2 1 3 0 1 1 0-2 2 0 0-1 2-1-3-1 2-1 1 0 2-2 3 1-2 0-2 1 1 1 2-1-1-1 0 2 0-1-1 1 1 0-1-2 0 1 0 2 1-3-1-2 3-1-2 3 2 0 2 0 0 3 1-1 1-2 1 1-1 0-1 2 2 1 3 2 0 1 1 2 1-1-2-1-1-2 2 0-2-1-1-1-3-2 0-3 1 0 1 1 1 1-1-1 0 2 1-1-3-2 4 0-2 1 1 3-1 2 3 1 1-3 2 0 1 0-3 2 0-2 1 1-1-2 2-1 0-2-1-1 1 0 2 1 0 2-3 0-2-2 2 0-2-2 3-1 2-2-3-1-2 0-1 1-3-1 1-1-1 2 2-2-2 1 2-2-1 1 1-2 0 2-2-2 1 2-1 2-1 1 3 0 1-2-2 2-1-1 1 1-1-1 1-2 0-2-1-3 1 2-1-1 1-1 1-2 2-1-2 0 2-1-1 2 0 1 2-2 2 1 3 1 3 2-2 0 0 1-2-1 0 2 1-1-1 0 1 2 0-2 2 0-1 1-2-1 3-1-2-1-1 3-2-1 0-1 2-1-1-2-3 0 1-2 3-1 1-2 0 2-1 1 0 2-1 0-3 1 1-1-2-2-2 0 0-1 0 2 2-2 0 1 2-1 2 0-1 3 2-3-2 0-2 1 2 1-1-2 0 2 3 0-2-1-2-2 3-2-2-2 1-1-2 0 2-1-1-1-2-2-2-1-2 2 1 2-2 0 1-3 1 1 1 0-2-2 2 2-1 1 3-1 0 1-2 0-1 1-2 0-1 2-1 0-1-2 0 2-2-2 2 1-1 1 1-1-3 0 1 0 2 3 0-2 1-2-1 3-3-1-2-2-2-1-2 0 1 2-1 1 1 3 1 1-1 1 1 2 0-3-2-2 2-1 1-2-2-2 2-1-1-1 1-1-1-2 2 1-1-1 2 0 2 0 1-4-2 0 2 1-3-1 3-1 0 2-1-1 0 3-1-2 2-1 2-2 2 0 1 0-1 2 0 1 3 1 0-1-2 0-1-1-3 1 2 1-3 2 2-2 2 1-1-2-1-2-1-1-1 1-2-2-1-1-1-1 0-3 2-2 0 2-1 1 2-2-2 2 0-3 0 3 0-2-1 1 2 2-1-1 1-2-1 1-1 1 1-1 0-1-2 2-2-2 1 1-2-1-2-1 0 2 2-1-2 1-2-2 1 0 2-1-1 1 1 1-1-2-3-1-2 1 1 2 1-2 1 3 1-1-1 2 2 1-1-1 2-1-1-1-1 0 1 0 0 3-1-2 2-2-2 1 1 1 1 3 0 3 2-1 0 2 1 2-1 1-1-2-3 0-1 1 0-2 1 3 1 0 2 0 3 2 2 1-1-3 3 0 0 2 0-1-3 0-1 2-1-2-1 0-1 1-2-2-3 0-1 0-2-1 1 3-3-1 2 1-2-2 1 2 1-2-1 1-1 1-2-2 2 2-3-1 0 3 0 2-1 1 2 2 2 1 3-1 1-3 0-3 2 3 0 2 1-1-2-2 2 2 1 1-2 0 2 2 1 1 2 1-3-1-1 1 1 1 0 2-1-2-2 1 3-1-1 2-1 0 2-1-2 2 1-2-1 0 0-2 1 1 2-2 2 0 1-1 1-2-2 1-3 0 2 1 1 2 2 2-1-1-1 0-2 1-2-1 1 1-2 3-3 1 0 3-2 0 3 2 0 2 0-2 3 0-2 2 2 0 2 0-3 0 2 1-2 0 2-2-2 0 1 3 1-3 0 1 1-1 0-1-1-1 3 1 1-2 0 2 0 2-2 3-3 0 0-1 0-1-3 0 3-1 1 0-1-1 1 0 0 1-2-3 1 2 2-1-1 2 3 0 0-3 1-3 2 1-1-2 0-1 1-3 1-1 2-1 2-2 1-1 0-2 4 0 1-1 2-1 1 2-1 1 2 2 0-2 3-1 0-3-2 0-2-1 0-2-2 1 0-2 1 0 3 1 1 1-2-2 0-2 0-2 0-1 2-2 1 0 2-2 2 1-2-3-1 2-3-1 1 2 0 2-1-1-2-3 0 3 2 0-2-2 0 1 3 0-2-1 1 1 2 3 1-2 0 3 0-3-3-1 0-3 0 3-2-2 1 1 2 3-1 3 2-2 1 2 0 2-1 0-1-1 3-2 1-1 0 2-1 3 3 0-1 2 0 1 1-1 1 2-1-2 2 2 0-2-2 1 0-2 2 2-2-2 1 1 0-1-2 2 2 1 3 0 0-1 0 2 2 0 1-2-3 2-3 0 2-2-1 2-2-2 2-1-3 0 0 1-1 1-1-1-2-2 1-2 1 0-2 1 2-2 1 3 3 1 3-1-2-1 0-2 0-3 3 0 1-2 1-2 0 2 0-1 0 1-1 1-3 3 1 1-1-1 1 1-2-2 1-1 1 0 3-1 1-1-2-2 0-2-3-1 2 1-1-2 2 3 1 1-2 2-1 0 2 0-2 2 1 1 1-1 2 3 2 1-1 2 3-1 1 2 1 3 0-3 0 1-2 1 1-1 1 2-2-2-2 3 3 1 0-1-2 1 0-1 1 1 2-1 2-1-1-2-1-1 2 0 2 1-2-3 2-1-2 2-3 0-3 0-1 2 0 2 0 2-1 3 2 1 2 2 2 0 2 1 2 0-1-1 0-2 0 1 2 3 1-2-3 0 2-2-1 2 0-1-3 1-2 2-2 0 2 0 2-1-2 0-1 0-3 0 2 1 2-3-3-1-1 0 2 1-1-1 0 3-2 1-1 2 2 1-2-2 2 2-1-2 0-2 0 2 2-1-1 2-3-2 3 1 0-1 0 1-2 0 1 0-1-2 1 1 1 3 0-3-1-2-3 1-1 2-3-1 0 2 0 3 2 0-1-1 2-1 0 1 1 1-2 2 1-1 2 3 2 0 0-4 2 0 1 1-2 0-1 1 2 0-2 0-1 1 1 1 0-1 2 0-2 1 1 2 2-1-1-2 1 2-2-1 2 2-1-2 0 1 1 0-1 3 0 1-1 3-1 1-2-3 2 1-2-2 3 0-3 0 1-1 3 0 2 0 1 0 4 1 0-1 0 2-1-2 2-1 0-2 0-1 1 2-3 1 2 0 2-1-2 1 2-1 0-2-2 0 0 2 0-4 0 3 2 2-1-2-1-2 2 2 1-3-1-3 0-1-2 0 2 1 0 1-1 2-1 0-1-1-2 1-1-1 2-1-2-2-1-2 0 3 1 0 2-2 0 2 2-2-2-1-2 2-3 0 0 1 0 3 1 3-1 1 1 1 3 1-1 2 3 2-2 2 1 2 0-2 1 1-1 1 1 2 1-2 0 1 1 2-2 2-1 1 0-2-2 0-1-1-2-1 0 2-1 2-1 2-1 3 1 1 2-1-1 2-2 0 2 0 0-2-3 0 3 1 3-2-2 1-1-1-1 0 2-1-4 1 3 0-2-3 2 2-2 1 2-2-1 2 0 1-3 0-1-1-3 2-1 2-1-3 1 2 2 1 0-2 0 1-2 2 2-1 0-1-2 1 1 0-1-2-3-2 2 0-2 0-2 2-1-1 1-3 2-1 0 2-1 2 1-2 1 0-1 3 2-1-3 1 1-1 2-1 0 2-1-2 0 2 0-1 1 0 3 1-3 0 0-3-1-2 1-2 2 1-2-2 2-1 1-2-2-1 2-1-1 3 3 0-1-2-2 0 1 2 2-1 1 1-2 1 1 0-2 1 0-2-1-2 3-1-3 1 3 0-2 0 0 3 0-2 1 1-1-2 1 3 2 1-1 2 1 2-2-2-1 0 0 2 2-1 2 0-3 0-1 2 3-2 1-2 3-2 0 2 0 2 1 1 1 1 2-2 2 1 2 1 2 0-3-3 0 3 2-1 3 0-1 2-3 1 2 1 1 2-2-1 2 0-1 2-2-2 1 1 0-1 1-3 0 1 2-1 3 0-1-2 1-2 1 2 0-1-1 1-1-3-2 0 2 1 2-2 0-2 0 2-1 1 2 1 1-1-3 0 3 2-3 0 1 1 1 2-1 1 2 0-1 2 1 0-1 1 3 1-3-1 1 1 1 0-1 1 2-2 0 1 0-2-3 0 0-1 2 1-2 1-1 3-1-2 0-2-2 1-1-2 0 1 0-1-2 1-1 2 0 2 1 2-1-1 0 2 1 1 3 1-3 0 1-1 2 2 3-1 1-3-1-2 2 0 1-1-1-2 2-1 1-3-1-3 1-2 2-2 1 1 0 2 0 2-2 0-1-1 1-1 1-2-1 0-2 2-1-3-2 1-1 2-3-2 2 1-2-2 1-2-1 0-3-1 3-2 1-2-1 2 1 2-2 3-3-2 3 1 2-1 1-1 1-1 3 1 1 0 1-2-1 0-2 1 1 0 1-1 0 2 1-2-2 1-2-1 2 1-2 0 1 2-2-1 1 1-1-2 2 0 1 2 3 0 0-3 2 3 0-2 0-3-2 1 0-1-1 0 0 3 2 0 1-1 3-1-2-1 0-1 0-3-1 3 1-1-2-2 1 3 0-1 0-2-1 2 1-1-2 0 0 3 2-1 2 1 1-1 1 1-2-2 0 3 2 2-1-1-3 1 2 1-3-1 2-1 2 2 1 1 1 2 0-3-1 0-2-3 1-2 0-3-1-2 1 2 3 1 0-2 2-2 1 0 0 1 3 1-3 2 1-1 2-2 0 1-3 0 2-1-2 0-1 1 0-1 2 3 0-2 0 2 1 3-2 0 0-2 1 2 0 3 2-2 0-1-3 0 0 2 1 1 2 0 1 0-3-1-1-1-2-2 0-2 1-1-2-2 1-1-1-1 0-2 1-1 1-2 0-2-1-2-1 1 1 0-3 1 3-1 0 1-2 2-1 1 1-2 0 1 1-1 2 0 0-3 3-1-1 2 1 2-1 0 1 0-1 1-2 0-2-2-1-1 3-2-2-2-2 1-1 1-1 2-2-3-1 0-2 0 0 3 0-1 0 2 1-1-1-3-1 3 3-2-1 2-1-2 2 3 1-2 1 2 1 0 0 2 3 0-2 0 2 0 1 0-2 0 0-2-1 3-2 1 2-1 0-3 3 2 2 2-2-1 1-2 0 2-1-2 1-3 0-1-3 0-2-1-2 1 0-3-2-1-2-2-2-1 0-2-1-1 2-2-1 1 0 1-1-1-2 1 1 2 0 2-1-3 2 0-1 2 3 0 1 0-2 1-1-2 2-1-3 1 0 1 0-2 0-3 2-3 1 0 1-1 1 2 0 1 0-2 1-3 0 3 4 0 1-2 0 3 3 2 1 0 2-1 0-2-1 3 0-1-2-2 2 0 0 4 2 2-3-1-1-3-1 1-1 0 1 2 1-1 1-2 0-2 1-1 0-2 0 2-1 0-2 1 0-2 2-1-1 2 3 1-3-2 1 3 0 3 0 2 0 1 1 0 2-1 0 3 2-2 2 1 0 1 2 0 0 1 1 2 2 2 2-1-1-2 2-2-2 1 2-1 1-3-3-1-1-1-1-3 1 2 1 0-2 0-2-1 2 0-2-2-2 2 2 3-3 1-1 2-2 2-1 2 1 1 1 3 0 1 3 0 3-1 0 2-1 2 1 0 2 1 0 1 1 1 3 0-2 1 2-1-1 2 0-1-2-2 1-2 0-3-3 0 3-1 1-1-3 0 1-2 2 1 3 0 1 1-1 2 0-4 2-1 1 1 2 0-1 2 2 1 2 2 1-1 1 2 0 3-1-2-1 1 1-1 0-3-3 1 2 0-2-1 2 2 1-2-2 0 1 0 0 2-1-2 2 0 1 2 1-2 3 1-1 2-2 0 0 1-2 0-2 2 4 1-2-1 1-2 0 3-1 1-2 2-2-1 1 1-2 0-2 1 2 2 0 3-1-2-2 2-3-1 0 2-1 0-2 1-2 1-2 0-3 0 0 1-1 1-2 3-3 1-1 2 0-3-1 1 3-1-2 1-1-2 1 3 2-2 1 0 2 2-2 0 3-1-1 1-2-1 1 0-3 0 2 2 1-1-2-1-2 1-1-2-2 1-1 2-2 1-2-3 0 2-1 2 0 1-1 3-2 2-2 1-2 1-1 2-1 2-2 1-1 0 2 0-2 3-1-3 0-1-3 1-2 1 2 1-2 1-3 1 0-2-2 2 0 3 0-2 2-1-2 2-2 1 0 2 0 1-2 0-1 0-4-1 2-2-2 0-1 1-1-1-1 0 0 2-3 0-1 1-1 1-1 1-3 1 0 3 3-2-1 2 1 0 3 1-2 1-3-1 1 0 0-2-2 1-2 0-2 0-1-1-2 0-2-2-1 3 2 0 1-3-2 0 0-2-1-3-1 1 0-1 2 1 2 0 1 1 2 1 0 1-2-2-1 1-1 3 0-3-1 2-1 0 1-2 0 2-2 1 2 0-1-2-1-1-1 3 3-1-1-1-1-1 0-1-2 0 3 2-3-1-1 0-1-2 2 0-1-1-1-2 3 0 1 1 1 1-2-1-1-1-2 0-1 1-1 1-2-1 1 2-1 0 1 3-1-2 1 3-2-2 1 2-2-1 2-2-1 1 1 0 3 0 1-1 0 1-2 1-2-1 2-1 3 0 2-1-1 0 3 0-1-2 2-1 1-1-2-1-3 1-3-1 1 2-1 1-2 2 1 0 1 1 1 2 1 1 1 2 2-1 0 1 3 1-2 3 2 0-2 2 2 1 1 2 2-2-1 1-3 2-2-1-1 0-1-1 0 2 0-2-3-3 1 3 2 1 1 2 1 2 1 0-1 0 2 0 2 1 1 3 1 0-2 1 1 1 3-1 2-2 2-1 2 1 2-1 3 0 2-1" fill="none" stroke="#f00" stroke-width="3.2" stroke-linejoin="round"/>
<path d="M93.4 608.5A267 267 0 0 1 360.4 875.5M93.4 1142.5A267 267 0 0 0 360.4 875.5" fill="none" stroke="#505050" stroke-width="1.2" stroke-dasharray="10.6 9.9"/>
<path d="M93.4 1142.5v-10.7M93.4 608.5v10.7M106.8 1142.5v-5.3M106.8 608.5v5.3M120.1 1142.5v-5.3M120.1 608.5v5.3M133.4 1142.5v-5.3M133.4 608.5v5.3M146.8 1142.5v-10.7M146.8 608.5v10.7M160.2 1142.5v-5.3M160.2 608.5v5.3M173.5 1142.5v-5.3M173.5 608.5v5.3M186.9 1142.5v-5.3M186.9 608.5v5.3M200.2 1142.5v-10.7M200.2 608.5v10.7M213.6 1142.5v-5.3M213.6 608.5v5.3M226.9 1142.5v-5.3M226.9 608.5v5.3M240.2 1142.5v-5.3M240.2 608.5v5.3M253.6 1142.5v-10.7M253.6 608.5v10.7M266.9 1142.5v-5.3M266.9 608.5v5.3M280.3 1142.5v-5.3M280.3 608.5v5.3M293.6 1142.5v-5.3M293.6 608.5v5.3M307 1142.5v-10.7M307 608.5v10.7M320.4 1142.5v-5.3M320.4 608.5v5.3M333.7 1142.5v-5.3M333.7 608.5v5.3M347.1 1142.5v-5.3M347.1 608.5v5.3M360.4 1142.5v-10.7M360.4 608.5v10.7M93.4 1142.5h5.6M360.4 1142.5h-5.6M93.4 1115.8h3.3M360.4 1115.8h-3.3M93.4 1089.1h3.3M360.4 1089.1h-3.3M93.4 1062.4h3.3M360.4 1062.4h-3.3M93.4 1035.7h3.3M360.4 1035.7h-3.3M93.4 1009h5.6M360.4 1009h-5.6M93.4 982.3h3.3M360.4 982.3h-3.3M93.4 955.6h3.3M360.4 955.6h-3.3M93.4 928.9h3.3M360.4 928.9h-3.3M93.4 902.2h3.3M360.4 902.2h-3.3M93.4 875.5h5.6M360.4 875.5h-5.6M93.4 848.8h3.3M360.4 848.8h-3.3M93.4 822.1h3.3M360.4 822.1h-3.3M93.4 795.4h3.3M360.4 795.4h-3.3M93.4 768.7h3.3M360.4 768.7h-3.3M93.4 742h5.6M360.4 742h-5.6M93.4 715.3h3.3M360.4 715.3h-3.3M93.4 688.6h3.3M360.4 688.6h-3.3M93.4 661.9h3.3M360.4 661.9h-3.3M93.4 635.2h3.3M360.4 635.2h-3.3M93.4 608.5h5.6M360.4 608.5h-5.6" stroke="#000" stroke-width="1.0" fill="none"/>
<rect x="93.4" y="608.5" width="267" height="534" fill="none" stroke="#000" stroke-width="1.2"/>
<g font-family="Liberation Mono, monospace" font-size="21" fill="#000" stroke="#000" stroke-width="0.3"><text x="88.3" y="622" text-anchor="end">100</text><text x="88.3" y="749.2" text-anchor="end">50</text><text x="88.3" y="882.7" text-anchor="end">0</text><text x="88.3" y="1016.2" text-anchor="end">-50</text><text x="88.3" y="1142.9" text-anchor="end">-100</text><text x="94.4" y="1169" text-anchor="middle">0</text><text x="147.8" y="1169" text-anchor="middle">20</text><text x="201.2" y="1169" text-anchor="middle">40</text><text x="254.6" y="1169" text-anchor="middle">60</text><text x="308" y="1169" text-anchor="middle">80</text><text x="361.4" y="1169" text-anchor="middle">100</text></g>
<text transform="translate(225.3 1192.4) scale(1 0.84)" font-family="Liberation Mono, monospace" font-size="21" stroke="#000" stroke-width="0.6" text-anchor="middle">x (AU)</text>
<text transform="translate(19.2 876.8) rotate(-90) scale(1 0.84)" font-family="Liberation Mono, monospace" font-size="21" stroke="#000" stroke-width="0.6" text-anchor="middle">z (AU)</text>
<text transform="translate(254.4 634.2) scale(1 0.95)" font-family="Liberation Mono, monospace" font-size="21.5" stroke="#000" stroke-width="0.6">50 deg</text>
<text transform="translate(309.6 1114.3) scale(1 0.875)" font-family="Liberation Mono, monospace" font-size="19.5" stroke="#000" stroke-width="0.6">(c)</text>
<path d="M471.7 892.6A15.7 15.7 0 0 0 471.7 862.2M475.7 907.7A31.4 31.4 0 0 0 475.7 847.1M479.8 922.9A47.1 47.1 0 0 0 479.8 831.9M483.9 938.1A62.8 62.8 0 0 0 483.9 816.7M487.9 953.3A78.5 78.5 0 0 0 487.9 801.5M492 968.4A94.2 94.2 0 0 0 492 786.4M496.1 983.6A109.9 109.9 0 0 0 496.1 771.2M500.1 998.8A125.6 125.6 0 0 0 500.1 756M504.2 1013.9A141.4 141.4 0 0 0 504.2 740.9M508.2 1029.1A157.1 157.1 0 0 0 508.2 725.7M512.3 1044.3A172.8 172.8 0 0 0 512.3 710.5M516.4 1059.4A188.5 188.5 0 0 0 516.4 695.4M520.4 1074.6A204.2 204.2 0 0 0 520.4 680.2M524.5 1089.8A219.9 219.9 0 0 0 524.5 665M528.6 1105A235.6 235.6 0 0 0 528.6 649.8M532.6 1120.1A251.3 251.3 0 0 0 532.6 634.7M536.7 1135.3A267 267 0 0 0 536.7 619.5" fill="none" stroke="#222" stroke-width="1.8" stroke-dasharray="1.8 5.2"/>
<path transform="matrix(0.97 0 0 1 14 0)" d="M471.7 892.6A15.7 15.7 0 0 0 471.7 862.2M475.7 907.7A31.4 31.4 0 0 0 475.7 847.1M479.8 922.9A47.1 47.1 0 0 0 479.8 831.9M483.9 938.1A62.8 62.8 0 0 0 483.9 816.7M487.9 953.3A78.5 78.5 0 0 0 487.9 801.5M492 968.4A94.2 94.2 0 0 0 492 786.4M496.1 983.6A109.9 109.9 0 0 0 496.1 771.2M500.1 998.8A125.6 125.6 0 0 0 500.1 756M504.2 1013.9A141.4 141.4 0 0 0 504.2 740.9M508.2 1029.1A157.1 157.1 0 0 0 508.2 725.7M512.3 1044.3A172.8 172.8 0 0 0 512.3 710.5M516.4 1059.4A188.5 188.5 0 0 0 516.4 695.4M520.4 1074.6A204.2 204.2 0 0 0 520.4 680.2M524.5 1089.8A219.9 219.9 0 0 0 524.5 665M528.6 1105A235.6 235.6 0 0 0 528.6 649.8M532.6 1120.1A251.3 251.3 0 0 0 532.6 634.7M536.7 1135.3A267 267 0 0 0 536.7 619.5" fill="none" stroke="#3c3c3c" stroke-width="1.8" stroke-dasharray="1.8 5.2" stroke-dashoffset="0"/>
<path transform="scale(0.5)" d="M935 1755l1 3 1 2 3 0 1 1 4 0 2-1 1 0M954 1759l-1 2 1-1 2 1 2 2 0-1 1-3-1 0 1 2 1-1-1-1-1-1 0-1 1-3 2-1-1 3-1-1 1 2-1-3 1 2-2-2 1-2-1 1-1-2 3-2-3-1-1 2 1 1 0-3-1 0 0 2 0-1-2 2 3-1-1-1 1 0-1 1 2 1-1-2-2 0 0-2-1-1-2 2 0 2-1 1 1 1 1 3-2 1 3 0-2 0 1 2-1-1 1 0-1 1 2-1 3 1-2 1 1-2-2-1 3-1 0-2-3 0 1-1 1-2-2-1 1-2 3-2 1-2 0-3 0-1-1-2 0-1 1-1-1 3-3-1 0 1 0-2-2 0 2 2 0-1-1 0-1 2 1-1 1-2-2-2-1-1-3-1-2 0-2 0-2-2 2 1 0-2 2 2-1-1 3 1-2 1 2 1 1-2 0-2 1 1 3 1 3-1 2 0 1-3-1 1-1-3 2 2-2 1 1 0-3-1-1 1-1 0-3-1-3 1 1 2 2-2 0-3 2 0-1-1-3 1 3 0 1-1-3 0-1 2-2 3-1 1-3 0 2-1 3 0 1 0 1-1 2 0 1 1 2-3 1-2 1-1 2-1 2 0 0-2 2-1 0-2 1-1-2 0 1 2-1-2-2-1 0-1 1 0-1 0-1-1-1 0-3 1-1-1-2-1-2-1 0-4-1 1 2-2-1-1-3 0 2 0 1 1 1 1-1 1 2 0-1 3 2-1 1-2 3 2-1 1 1 0 0 3-1-2-1 3 0-2 1 1-1-3 1 3-1-2 1 2-2 2-3 0-1 0 3 0-1-1 2-1-2-2 2 0 2 0-2-1 2 0 1-1 1 2 1 0-3 0 0 2 3 0 0-2-2 0 0-2-1 3-2-1 0-2 0-1-2 0-1-3 1 0 2-3 0-1-1 2 0-3 1 1-2 1 1-3 0 2 1-3 0 2 0-3 1 0 1 1 2 0-2 2 1-2 0 3-1-1 1-2 1 1 1 0 2-3 2 0 1 1 2 1 2-2 1 2 1 1-2 1 0-4-1 2 1-1-1-1 0 3-2 2-1-1 3-1-1 0 0 2-2-2 3 2 0-3-2 2 2 0-2-1 2-1 1-1 2 0-1-2 0-3 2 2 1 3 3-1 1 3-1-3 2 2 2-2 0 1 1-1 0-2 2 0-2 1 0 1 0-3-1 2 2-1 1 2 1 0 0 2 2-2 1 2-1 3-1 0 1-1-3 0 3-1-2 0 1 1-1-3 2 1-2 1 1 1 1-1 0 1-1 3 1 0 2 3 1 0 2-1-1-1-1 1-2 1 1 0 2-2-1 2 2-2 1 1 1-2-3-2 3 0-3 2-1-2 2-2 1 2 1 3 2 1-1-1 0-1 1 2 1-3-1 0-1 3 1-1-1-1 2 0-2 0 1 0 0-2 1-1-3-1-2 1-1 0 2-1 0 1 0-2-1 2-2 2 2 0 2 0 0 3-1-1 3 0 2-2-1 1-2-1 1 2-3 1-2 2-1 3 3 0 1 1 1-2-1 2 2 0-1-3-1 2 3 1-2 0 0-1 1 0-1 1 0-1 1 1-1-1 1 0 1 1 0 1 1 1-2-1-2-2 0-1-1 1 0 1-2-1-1 2-3 0 3-1 1 1-1 2 3 0 0-2-1-1-1-1 1 0 1 2 1 3 2 2 1 0 0 1 1 0 1-1 1 2 1-2 2-1 2 0 2 1 0-3 0 3 1 0 0-3 1 1 2 2-2-1 1 0 2-1-3-1-1 1-3-1 2-1-2 0-1-2 0 2-1 1-2 2-2-1 3 0-2 0 2-1 0-1 2-1 1-1 1 1 1 1 0 1 2 1 1-1 3 1 1-1 2 1 1 0-1-1 2-1-1 0 0 2-1-3 1 2 2 0-2-1-1 2-1 3 1 1 2 2 2 0-1-3 1 0 1-1-3 0 0-2-1-1 2 1 3 0 1-1 2-1 2 1-2 2 2-2-2 0 2 1 2 0-2 1 2 0 0-1-1-1-1 1 0-1-1 1 2 0-1 1-1-3 1 3 0-2-1 1 1 3-1 0 3 1 2-1 1 2-1-2-1 1-1 3-1 1-1 1 0-2-3 1 1 2 0 3 1-2 2-3-1 0-2 0-1-1 1 0-2 1 1 1 0-2 1-2 3 2-1 2-1-1-3 0 1-2 2 0-1 1 1 3-1-3 2 2-2-1 2-1-1 0 1 1-1 1-2 1 0-3-2 0 1 1-3-1-1 1-2 1-1-2-1 0 1 2-2-2-1 3 2-2-2 0-2 0-1 3-3 0-1 0-3 0 2 0 2-2 3 0-2 0-2 2 2-2 1 1 2 2-3 1 1-1 0-2-2 1 1 0 2 1-3 0-3-1 2-2 1-2 3 1 0-3-1 2-2 0 3 0 1 0 1 1 2-1 1-2-3 1 1-1 2 1-1-1-1 1 0-2 2-1 0 1-3 0-2 1-1 0 1 3-2 1-1 0-2 0-3-2-1 1-1 1-1 2-1 1-2 0 2-2 0 2 0 3 1-2-1 0-1 0 1-2 0 1 1 1 0 1 2-1 0 2 2 1 0-3-1 0-3 2 1 2 2-1-1 3-2-2-1-1 2 1-2 1 0 2 3 0 1 1 2 2-2-2 0 3-2 1-2-2 1 0 0 2 1-3-3 1 3-1 0 2-1-1 3-1-1 3-1-2-3-2-1 0-1 1 2-2 2 0 1 3 0 1 2-3-1 3 2 1 1-3-1-2 1 0 0-2 2 1-2-1 0 2 1-1 1 0 3 0 2-2 1 2 3 2 0 3-1-2-2 1 2 1-1 0-2-2 2 1-1 0 2 0-2 1-1-1 1 0 1-3-3-3-1-2 0-3-2 1-1 3 2 0 2 0-1 1-3-1 0-1-2 2 3 2 1-3-1 1 1-3 1-1-1 2 3 0 0 3 1 0 2 1-1 1-1 2 2 3 1-3 1 2 2-1-2 2 0-1 3 0-1-2 0 2-1-1 2 2-1-1 0-3 1-2-2-2 2 0 2 1-2 0-2 1 2 2-1-1-2 2 3 1-2 0 2-1-1 0 0-1 3-2 1 2 3 1 2-1 0 1-3-2-1 1-1 1 0 2 0 1-1 3-1 1-2 2-1 2-2-1-2 0-3-1-2 2 1-1 1-1 2 0 3 1 0-2 3 0 0-3-3 1-1 0 1 2-1-2 0 3 1-2 1 3 2-2-2-2 1 3 2 1 0 1 2-1 2 3 0-3-1 1 0 2-1 2 1-2 0-1 0 3-2-3 3 1-3 0 2 0-2-2 0 2 2 1-1-3 0 3-1-2 2-2-2-1-3 0 3-1-1 2 1-3-2-1 1 0 1-2 2 0 2-1-2-1 0-3 0-2 0 2 3-1-2 2 0 3 2 2-2-3-2 2 1 1 3 0-1 0 1 3 1 0 2 1 1 1-3-1 2 0 0 1-1-1 2 3-1-1-1-2-1 1 0-1-3 1-2 1 1 3-3 0-3 0 2-2 1-2-2 2-2 1-1-1-1 2 2 1-2-1-3-1-2 0 1 2-1-1 3 1-1 1-2 2 1 1 1-1 1 1 0 2 3-2 1 2-1 3 1-3 1 1 0 2-1-3 0 3 1-2 1 2 0-3 3-1 0 2-2-2-2 2 0-2 1 1 1-1 2 0 1 3-2-1-3-1-1-3-1 1-1 3-3-1 1 0-1 1-3-1 0 2-1 2 0-1 0 3-1-3-1-1-1-2-3 1 1 1-2 2-2-1 2 1-1-2 1 3 0-3-1 3-1-3-1 2 2-1-1-1 1-1 1-3-1-2 2-2 1 0 1 2 1 1 1-1-1-1-2-2-2 0-1 2 0-2-1-1-2 2 0 4 1-3-2-2 0 2 3 2 3 0-2-2-3 2 0-2 3-1-3-2-1 2 2-2 0 1-1 3-1-2 2-1-1 2 2-2 1-1 2 3 2-2 0 3-2 1-3 0 0 1-1-1 0-4 2 2 1 0 0 2-1 3-1-1-2 0 0 2 0-2 0 2-2 1 2 0-3 0-1 2-1-1 0-2-1 3 0-2-1 1-2 1-2-3 2 0 1 2-3-1 3-1 0 2-2-1-2 0-2 0 1-2-1 0-3-1 1 0-2 1-1 0-1-3 2 1 0-3 1-1-2-1-2 0 2 2 3 1 2 1 3-2-1-2 3 2 0-3-1 2-3-1 2 0 0 2-2-2 1 3-1-2-1-1 3 1-1 0 0-2-1 1 1 0 0 3-1-3 2 0-1-1-1-1 3 2-1-1-3 2 1-2 2 0 1-2-1 1-3 1-2-1-2-1-1 0 1 1 2 0 0 2 2 2-2-1-2 0-3 1 1 1 3 1-2 0 0 2-1 2 1-1-2 1 2 0 0-2-2 1 2-1-1 0-2 1 1 0 2-2-1-1 0 2 2-2 1-1-1-3-1-1 1 1-1-1-2 0-2 1 2 2-3 0 1-2 1 1 0 1 1 1-2 0-2 2 0 2-2 1-2 0 2 1-2-2-2 2 2-2 1 2-2-2 2 2 1-3-1 0 1 3-1 0-1-2 1 3-2-3 1 2 2 1 2-1-1 2-1 0 1 0 1-2-2 2 1 0-1-1 1-2 0 1 1-1 0 1 3-1 0 2 0 2 0 1-3 2 0 2-2 0 1-2-1 3-2 1 1-2-2 0 2 1-3-1 0 2 2 0-3-1 2 1 2 0-2 0 1 0-2-2 2 1 0 2 2 2 0 3-3 0-2 0 3-1-2-2 3-1 1-2 1 1 2 2 1 0-2-1 2 0 2-2 3-2 0 2-2-1 1 2-3 1 0-1 1 2 1-2 2-2 0 3 0-2 0-2-1 1-2 1 1 0 3-3-1 2-1 1-2-1 2 1-3-1-1-1 1 1-1 2 1 0-1-1 1 3 2 1 3 0 1-2 2 1 0-2-1 1 1 2-2 0 0 2 1-1 1-2 2 1 2 2 1-2-1 0 1-3 0 2 0 1 1 0 2 2-1 0 0 1-1-2 1 2 1-2-3 2 2 0 1-1-2 0 2 2-1-3-3 0-2-1 1 0-1-2 1 1-1 3 0 2 1-1 1 1-2-2 0-1 3-1-2-1-1-1 0 3 2 0 2 1 2 2 0 1-1 2 1 3-1-1 3-1 2 0 1-2 2 1 0 3 2-3-3 1 1 2 0-2 1 2 0-2 1 3-2-2-2-2-1-1 2 1-2-1 0 2 1-1-3-1-3 1 1-2 2-1-1-3-2 1 2-2 1 0 1-2-1-1 1-1 1 1 0 1 2 0 3 0 1-2 1 0-1 3 3 1 2 2 1-2 2 2-1 0-2 0 2 0-3-1 3 1-1-2 1 3 0-3 0 2-1 2 2-1 0 1 1-1-1 0 2 0-3 2-2 3-1-3 2 1 3 1-3 0 1-1 2 2-2-2 0-2-1-1 0 2-2 1-1-2 0 1-1 3-3-1 0 2 0 3-1-1-1 2-2-1-2-1-1 2-2 0-1-1-1 2-3-1-3 0 3 0 0 1 1 1-1-1 0 3 1 1-1 0-2-2-3-1 0-2 3 0 2 2 2-1 2 3 1-2 0 2 1-1 0-1 1-2-2 0 1-2 1-1 0-2 0-1-3 1 1-3 0-2 1-1-2-1-2 0 0-2-1-3-1-1 0-2-2-3 0-1-3 2-1 1-2-1 0-2 0-3 1-2 1-2 2-2-3 1 2-2 1-1 1-1 1 2-1-1-1-1-1-2 3-1 0-1-2-2 2 1-1 0 0 1-3-1 1-2-2-1-1-2 0-1-1-3 0-2-4 0 2 0 1-1 0 2 1-2-2 1 1-3-3 1 1-3 1-2 2-1-2 2 2 1 1-2 2 1 0-2 1-1-2 2 2 1-2 1 1 3 0-2-1-2-1-1 1-1 2 2 1 0 3 1 0 3 1 1-3 1-2-2 2-1 3 1-2 1-1-2 0 1 1 0-1 0 3-1-1 0-1 1-1-1 0 2-3 1-2-2 2-1 0 2-1-1-1 2 1-2 0-1 1 3 2 2 0-2 0-2-1 0 2 3-1-1-1-1 1 1 2 2-3-2 1-1-2-2 0-3 3 2-2-1 2-1 0-1 2-2 0-4 2 1-2 0-1 1 3 0-2-2-1 2 1-3 3-1-3 0 1 3-1 1 2 3 1-1 0-3 0-3-1-1-2 2 1-1-1-3 1 3 0-2-2-3-3 1 3 1 0-1-1-2-2 1 1 1-3 0-1 2 0 2-1 2 1-1-1 2 1 0 0-2 2 2-1 1-1-2 1 1-2-1 1 1 1 1 2-1-2 2 2 0 3 1 2 3-1-3-2 1 0-2-1 2-2-1 0-2 2 2 1 2 3-1 0-4 0-2-1-2-2 1-2 0-2 1 3 1 0-3 1-2 1-3-1 2 0-2-2-1-2 1 1 0 0 3 2-2-1-1 0 1-2 1 1-2 3 1-2-1-1-1-3 0-3 1-1 0-3 1-1 1 0-1 0-2 0-2-1 3-1 1-1 2-3-1-3 0 1-1-1 0-2-2-2 0-3-2-2 3-2 1-1 2 3 1-2 0 3 1 0 2-2 1-2 2 2 1 0 3-1-3 0 3 1-2-2 1 2-1-1 2 2 0-3 1 0 2-2 1 1 2 1-2-1 0-1 0-2 1 3 0 2 0 2-3-2 1 1 2 1 2 1 3 1 2 0-1-3 0-1-1 2-1 0-2 2-2-2 1 3 0-1 1-3-1 3 0-3-2 2 0 0 3-1-2 2 1-3-1 2 2 0-1-2 0-1 3 2 1 0-2 2 2 3 1-3 0-1 1 3 1-3 0 2-1 1 1 0-1 1-1-2 0-2 1 1-3-1 3 2 2 2 1 0 2 1 2 1 3 2 1 0 3-2 1-1 1 1 2 3-1-3-1 0 2 0-1 1 2-1 0 1-3M948 1676l0-2-1-2 0 1 0-1 3 0 0-2 1-2-1-2-2 0 0-2-2 0-3-2-1 1 2 2-2 2-3 0 0 2 3 0-1 2 0-2-3-2 0-2 2 1 2 3-2-1 0-2 2 0-2-1 1 1 1-1-1-1 1 1-1-2 0 1-1 2 1-1 1 1-1 2-1 1-2 0 1-1 2-1-2-1 1 2-2 0-1-1-2-2 0 2 2-1 2-2-2 1 2 2-2-2 2-1 1-1 0-3 2 0 0-3 3 2-1-2 0-2 0-2 3 0 3 0-1-3 1 0 3-1-2-1 1-1-2 1 1 0 1-2-1 1 3 2 1 1 0 1-1 0 0-3-2-1 1-2 1 0 3 1-1-3-1 1-2-2-2-1-2-2 0-2 3-1-3 0-2 0-1 2-1-1 1-1 1-1-2 3 2-1 1-2 2 1 0 1-1 1-2-2 1 3-1-3 2 0 0 1-2 0 2 1-2-1-2 0 2 2-2-1 0-1-2-1-1 1 1 1 0-4-1 3 0 2-1 2 1-3 1 1 2 0 0 1 2 2-2-2 1-1-1-2 1-1-2 0 1-1 2 2 0-1 3 0 1 0 0-2 0-2 2-2 0-3 2-1 2 0 1-3 2 1-2 0-1-2-2-1 0 1 1 1-2 0-2 1 3-1 0 3 0 2 0 2 1-2 2-1 0 2-1 3-1 1 2 0 3 1 0 1 1-2 0-1 0-3 3-2-2-1 1-3 2 2 3 1-3 1 1-2-1 3 1-2-1 0 1 0-1 0 1 1-3-2 2 1 0 2 0-2-3 1 2 2 3 0 2-2 2-1 0-1-1 0-2 0-2 0 1-2 2 1-3-1 3 1 0-3 1-2-1-2 2 1 1 0 1-3-1-1 3 0-3 0 1 0 0 1 0-2-2 2 0-2 2-1 0 2-2-1 3 0-1 3 1-3-3 1-1 3 3-1 2-2 0-1 1-2 2-2 1 2 3 2-1 1-1 1-2 3 1-1 2-2 0-2 2 0 0 3-2 1-2-1-3-2 1 2 2-1 3 0-2 2 1 0 3-1-2 0-3 0 2-2 0-3-2-1 1-1-1-2-1 0 0-1-1-2-1-1-1-2-2 0 0 2 1 0 1-1 2 2 0 2 2-2-1 1-2 0 0 1-1-3-1 3 0 3 2 2 2-1 1 1-2-1-2-1 0-2 2 0 2 0 1-2 1-1 1-1 2 1 2 0 0-2 3-2 0-1 2-2-1 0 2 1-2-2 2 2-3 0-1 0 2 1 0 3-3 1-2 2 1-1 0 2 1 1 1-1-3 1-1 1 0-2 2-2 0 1 0 1 1-2 3-1 1-2 1 0 0-1-3 1-1-2 1-1-2 2-1-2 0-1 2 1 1-1 3 0 1-1 1-2 2-1-3 0 2 0-1-1 1 3 0 1-2 1 3 0 3 0 1 0 1 1-3 1-2-1-1 2 2 2 0 3 1 2-2 2-2-2 2 0-1-1 2-1 2 0 2-1 1 2-2-2 2-2 2 0-2-2 2 0-2 1-2 2 1 0 2 3 0-3-1 3-1-2 3 0-3 0 1 0 1-1-3 0 2-1-1 2 2-2 1 0 0 1-1 2-1 3-2-1-2 0-2 2-1 2-3 1 1-3-1-1 1 2 0-1 3-2-3 1-1 1-1 1-1-3 1 1-1 1 2-1 0 1-2 3 3-1-2 0 1-3-2 0 2 1-1 0 2 0-2 1 0-3-1 3-2-1 3-1 0 3-1 2-3-1 0-3-2 2 2-1 1-2 0-1 1 1-2 0 2 0 0 1-2 0-1-2-1-1 2 1 2-1-1-1 0-2 1-1 1-1 3-1 0 1 1-2 3-1 2-1 1 2 1 2 3 1 1-1 3 0 3 0 3 2 2-2 0 2 1 3 1-1 0-2-3-1-2-2-2-1 1-2 0 3 0-2 1 0-2 2-3 0 3-1 1-1 1-3 3 2 1 3 0 2 4 0 2 0-1 1 1-3-1 2-2 1-1 2 1 1 1-2 2-1-2 1 2 1-3 0 3 1-3-2 2 1 1 1-1 1-1-1 0-2-1 0-1 3 3 0 1 0 1-1-3 1 4 0-2 1-2-1 0-3 1-2 0 3 3-1 0 2-1 2-2-1-1 0 2-1 1 1-1-1-3 1-1 1-3-1-1 0-2 0-2 0-1 0-2 0-2 1-1 0M970 1665l1-1 0 2-1-2 1 3 2-1 2-2-2 0-3 1 2 1 0 1-1-1 0 2-1-2 0 1 1 0 1-2 2 3 0 1 1 3 0-2-2-1 2 1-2 2-1 1-1 1 1 2-1-1 2-1-2 1 2 0-2 0 2 0 2 0-3-1 1-1 1-1-2 2-3-1 2-1-2-3 0 1 0-2-2 3 1 2-2 1 1 2 0 3-2-1-2-1-2 0 0 3-2-2 1 0 1 2 1-1-1-2-1 1 3 0-1 1-1-1 0 3 1-2 1-3 0-2-1 1-3-1-3 0-2 1 2-1 0-2 1-1-1-1 1 1 2 0 1-1 2-1-1-1 1-2 0-2 1-1 3-1-1-1-2 0 0 1-3 0 1-1-1 1 0-2 0 3 0-1-1-1 1 0-1 2 0-2-3 0 2-2-1-2 2 1 1-1 1 1-1-1 2-1 2 0 2 0 0-2 2 1 2-1 0 1 1 0-2 1 1-2 1 2-1 3-2 1 1 0 1 2-1 1 3 2-2 1-1-1 1 2-1-2 1 0-1-1M987 1653l2 0-3-1-1-3 0-3-3 0-2 1 1-1-1 1 1-1 2 1 2 2 2-1-3 0 2 1 3-1 1-1-1-2 1 3 2-2 0 2 3 2 1-2-1-1 3 1 2 1-2 0 1 1 2 1 2 0 2 1-1 3 4 0 1 2 0 2 1 1 1 2 2 2-2-2 1 0 0 3-1 1 2 0-3-2 3 1 1 0-3 1 1-2 3 0 1 0 1-2-2 2 2 1-1-3 0-1-1-3-1 3-1 2 1 0-3 0 0 1 0 2-2 1 1 3-1-1 0 2 0 2 1-1 2 3 1-2 1 2 1 1 1-1 2 0 1 1-2 2 2-2-1 1 1 2 0-1-1-1-1 2 0-2-2 1 0 1 0-2 2 2 1 0 2 2-3 2 0-2-2-1 0-1 0 1-1-2-1 0 2-2-2 0 2-1 2 0 1 1 0-2 1 2 3-1 0 1 1 3 2 1 1 1 2-1 0-2 2-1 1 2 0-1 3 0-2-1-1 2 2 0-1-1-1 3 2-1-1-3-1-2 0-2-2 2 1-1-1-2 0-1 1 0 3-1 1 2 0 2-2-3-1 3-3-3-3 0-1-1-2 2-1 1 2-3 1 2 2-2 1 2 1 0 0-1-2 0-2 2 0 2 1 1-1 1 1 2 2 0 2 2 1 0-1 2 1 2 2 2 0 1 0 3-2-1 0 2-1-2 1 1-3 1 0-2-2-2 1 0 2-1-1-2 1-2-3 1 2 1 2 1-3-1 0 3 2-1-3 0-2 1-1-3 1-2 1-1-2 0 1-1 2 1-3-1-1-1-1 0-2 0-3 0-2-1-2-2-2-1-1-3-2 0-1-3 0-1-3-1-2-1-2-1-3-1-2-1-1-2M1037 1619l-3-1-2-1-1 0 2 0 2 1 1-1 2 1 3 1-1-2-1 2-2-2 1 0 0-2 1-2-1 0-1-1-1-1-3 0-2-1 1 1-2 1 1-2 1 3-1-1 3 0-1-3 2 0 3-1 3 0 1-1 0-2-2 1-1 2 2 2 1-2 1-1 2-1 1 1 0 3 1-1-1-1 1 0-1-2 1-1-1 2 3-2-1 0-2 2 3-1 1-2 0-2-1-1 0 2 1 1 2-2 1-1 0-2 1-1 2-2 1 3 0-1-1 2-1 2-2 1 3 2 0 1 1 3 2 0-2 2 1-2 2 2-1-1-1 1 2 0-1 0 2-2 0-1-2-1 2 1 2-2-2-1 2-1 0-2 1-3 1-1 1-2-3 1-3-1-1 2 1 2-2 1 2-1-1-1-2 2 2-1-2-1 1 2 0-1 2 1 1-1 1 2-1 3 2 0 0-2-2-1 1 1 0-1-3-2 3 2-1-2-1-2 1 0 0-3 1 1 1 1 3 0 3-1 3-2-3-1 2 1-3 0 2 0-3 1 0-1 2-1 0-1 2-3 1 1-1-1 2-2-2-1-1 2-1-3-1 2-3-2 2-1-2 1 2 2-1 2 0-2-1 1-2-1 2 0-1 1 2-1-3-1-2-1 2 2 3-1 0 3 1 0 1 1-1-2 1-2 1-1 2 1 2 0 2 1 0-2-1-1 1-3 1 0 2 1-1 0-1 1 0-3 1 1 0 2-1-1-1-3-3-1-1 1-1-2 2 0-1 1 3-1 1-1-1-2 0-3 1-2-1 1 2 1 2 0-3-2 3 0 0 2 2 1 2 1 0 3 2 1 0 3-1 2-1-1-1 1 2 0-1 1 2 0-2 1 0 3 2-1-1 0-2-2-1 3-3 1 2 1 0 3 0-2 1 1 2 0 1 3 2 0 2 0-2 0 2 1 0-1-3-2 2 1 3-1 1 3 2 2-3-1 1-2-2 1 0-2 0-2 1 3 2 0 1 2-1 2 1 1 0-2 0 2-3 0-1-2 2-1 1 2-1-1 3 1-3 1 1-1 0 2 1 1-1 1-1 1-1-1 1 3 1-2-1 1-2 1 0-1 2 1-1 3-1 2-2 3 3 0-2-1 3 1 0-1 1-2 0-1 0 3 0-1 1-1-2 1 0-2 2-1-1 1 3-1 0 3 1-1-1 2 2 2-1 2 0-1 0-3-2-1-3 1 2 2 0 1-1 1 0 2 1 1-1 2-3 0 1 0 3 0-2-1 0 3-1-2 0-3-2 0 0-3-1-2-1-2-1 2 1 1-1-2 1 0 3-2-1 1-1 1-1 1 3 1 1 2-1 2 2-1 1 2 2-1 1 2 2 2 2 2-1 0-1 1 2 2 2 1 0-1 2 1 0-2 1-3 1-2-3-2 1-2-2-1 2 2 0 2 1 1 1 1 1 0 0 2 1 1-1 1-1 3-2 2-1 2 1-1-1-1-1-1-1 1 1-1 2-1 1-2-1 0-2 0-2-3 1 1-2-1 1-1 2-1 2 1 1 0 2 0 1 1 2-1 1 2-1 3-1 2 3 1 0 2-2 0 1 0 0 2-1 0-1 1 0-1-1-2-1 1-2-2 2 0-2 1 2 0 3 1 2 1 0-2-4 0-1 3 0-2 2 0 3 2 2 1-1 2 1 1 2 0-1 3 0-3 1 1-1-3 2 2 0-2-2-1 2-1 1-1 2-1 0 3-1 3-1 0-3-1 2-2 3 1 2 0 0-2 1 1 0 2 1 1 0 1 1 2 2 1-2 1 0-1 1 1 2 1 2 1 1 0 2 0-1-1 1-2-2-1 1 2 3-1 0-2-1 2 2-2-2-2 2-2-1 2 0 2-2 0 1 2 2-2-2-1-1 3 1-2 2 2-2-1-1-1 2 1 0-3-2-2 2 2 0-1-3-2-2-2-2-1-1-2 1 2 0-1 1-3-1-1 1 0 0 1 2 0-2 0 1-3 0 1 1 2-1 0 2-1 0-2 2 1-1 2 1 1-2-2-3 1-2 0 1 1 2 3 0-2 2 1 2 3 2-3 2-1 2 0 3-1-2 0-1 0-1-1 2 1-1-1-1-3 2 3-2-1 0-1 3-1 1-1 2-2-2 0 1 1 2 2-2 0 2-1 0 2-3 1 0-1 0-2 2-1-2-1-1 0 1-1-1-2-1 1-2-3-1 2 0-1-2-1 2 0-2-2-2-2-2 1 1-2 1 1 0 1 0-2 1-1 3 2 1-1 3-2-2 2 1 3 1 1 1 2 1-3 2 0 2 0-1-2 0 2-1 0 2-2-3 0 1 2-2 3-1 3 0 2-2 1 0-2 2-2-1 0 0-1 3 2 1-1 1 0-2-2 1-2 1-1 1 2 2 2 0 2 1 1 1 0 2-2 2-1 2 0 1 2 0 3-1 2-2-3 2 1-2 1-2 0-1 0 1 2 0-2 0 2-1 0 1 0 1-2 2 3 2 0-1-2 2-1 1 2 2 2-2-1 1-2-1 1 0 1 0-3-1 2 2 2-2 2-1 0 1 2-3 0 2-2-2 0 1 2-1 0 0-2-2-1-2 0-2 0-1 0-1-3 0-1 1 0 1 3-2 2 0-3 0 3 0-2 2-1-2 1-1 0 1-2-1 2-2 0 0 3-3 2 2 1 2 0 2 1 1 3 2 0 1 2 0 2-2 2 2-1 2-1-3-2-1-2 2 3-2 0 2-2-2 2 2-3-1 2 0 1 1-1-3 1 2 1-2-1 1-2 0-2-1-3 3 1-3 1 3-2 0-3 4 1 2 1-1 1 1 1 1 3 2 1 1 2 0-2 0 3 2-2-2 1 0-2 1 1 1 1 1 1 3-1 2 1-1-2 1 2 1-1-2 1-1-2-2 2-1-2-3 1 2-2-3 1 1-2 2 2 2 1 0 3 1 0 3 0-2 0-2 3 2-1-3 0-1-1-1 1-1-2 3 1 2-1 2-1 1-2 0 3 1 1-1-1 1 1 1-1 0 2 2 0 2 2 3 2-3 0 2 0-2 1 0-2 3 1-2 0 1-1-1 0 0-1 0-2-3 0-1 0 0-3 1 2-2 1-2 1 1-1 1-2 1-1 2 2-3 0 2 1 3 3 1-2 2 1 1 0 2 1 1 1 2 2-2 1 2 0 1 0-2 0-1-2-3 0 1-1-2-2-1 1-1-3 3 1 2-2-1 0 1 2-1-1 2-3 1-2 1 0 2-2-1 1 0-1-2 0-2 0 3-1-2 2 1-1 3 0-1 1-1 2 1 2 3 0-1-1 2 1 1 3 2-2 2-2-3 1-1-3 1 1-3-1 0-2 1 2 2 2 0-2 1-1 2-1-3-1 2-1 0 2-1-2 1-2 0 3 2-2-2 0 2-2-1-2-1 1-2-1-1-1 1 1 0-2 0 3 0-2-2 2 0-2-2-2-1-1-2 0-2 1 1-3-1 1-2 2-1-2 2 1 1-1-2 1-3 1 3-1 3-2-1 2-1 1-2-1-2 0-2-1 0 1-2 0 2 1-1-2 0 2-3 0 2-1-1 1 1 1 1-1-2-1 3 1-1 1-1 0 0-2 1-2-3 2-2 2 0 1 1-1 0-1-2 2-2-1-1-1-1 2 0-2 1-3 0 2-1-1-2-1 0 1-1 0-2-2-2 1-1 1-2 1-2-1-2 1-3-2-2 1 2 2 2 2 2 2 0-2 1-2 0-1 1 1 2 0-2 0-2-1-1-1-2 0-2 0-3 1-2 1-3 1-1-1-2 0-1 0-1-2-2-1-1 0 1-2 2-1 2 1 2-1-2-1-1 2 1-3 0 2 2-1 2 1-2 0 0-2 3 0-2 0-1 3-1-2 0 1-2 0 0-1-1-1-2 0-3-1-2-2-2 0 3 0 3 0 1 1-3-2 0 2 0-2 2-2 3 0 1-1-1-3 2 2 0 1-2 2-1-1-2 1-1 0 0-2-1-1-1-1-2-1 0-2-1-2-1-2-3 0 0 1-2 0-2 1-1-1-1-2-1 0 2 2 1 2 2 0-3-2 1 1 0-2 0-2 1-2-2 0 1-3-2-3-3 2-2 0-2-1 0-2 0-3-2 0 1 0 1-2 2 1 1 0-2-1-2-2-1 0-3 0 2-2 0 1-2-1-1 2-2 2 1 0-1-2-3-2 0-1 0-2 1 2-3 1 2-1-1-1 1-2 0 2-1 0-1 1-1-1 2 1-1-1 2 2-3-1 1 1 2-1 1 2-2 0 0 3-3 3 1 1-3-1-1 2-2 0-2 0 0 1 1 2-1 1 0 3-3 2-2-1-1 1 1 2-1-2 2 0-2 2 1 2-1 2 2-1 0-3 0-3 0 2-1 2-1-3-3 0-2 2-2 0 1 1-1-2 1-1-2-2 2 3 1-2-2 0 3-1-4 0-3-1 2 2 1 0 0 1-3-1 1 1-1 2 1 1-2-1 2-2 0 2 2 1-1 3 0-2 1 1 3 0-2 2 1 2 2-1-1 3 2 2 2-1-1 0 2-1-2-2 2-1 2-3-2 1-2 2-2-2 1 0-1-2 1 2-1-1 0 1-1 0-1 2-1 1-2 1 2 1 2 2-1 2 0 2 1 2 2 2 1 2 0 2 1 3 0-3 2 1-1 2 2 0 0 3 0 3 3 1-1-1-1 2-1-1-2 2-2 0 1-2 1 2 2 1-1 1 0-2-1-1-3 0-2 2 0-1 2-1-1 2 1-1-1 2 3 0 2 0-2 0-2-2-1-1 1-1 2-1 1 2 0-1 2-1-1 0-1 3 0 3 1-1 1 3-1-1-2-2-2-1-3-1-2 1-1-1-1-1-3-1 0 2 3-1-1-2 1 2-1 1 0-2-1-2 0-2 3 1-1-1-1-2-3-2 0 2-3 0-1 1 2 1-1-2 2-1-1-1-3 2 2 0 2 0-2-1 1 0-2 2-3 1-2-2 2 0 1 1 1-3 1 2 2-1 1-2 1 2 1-1-2 0-1 1-1-2-1 2-1 1-1 0-2 1-1-2-3 1-1-1 0 2-2-2 1 2 3-1-1-1 0-2-1 2-2 0-2 1 2 3 1-1-1 1 0-2 1-2 2-1 0-2-2 1-2 0 1-1 0-2-1-1-1-2 0-3 0 3-2-3 2 3-1-2 0-1 1 2 2-2 1 1 1 1 2 0-3-1 0 2-2 1 2-2 1 1 0 3 0 3-1-1 1-2 1-1 2-1-1-2 2-1 1-2 2-1-2-2 2 1-2 1 3-2-2 1-3 1 0 3 3-1 2 1 0-2-1 1 0 2 2 1 1-1-1 1-2 0-1 2 2 0 1-2-1-2 0-2 0-1-2-1 0-2-1-2 0-1 0-1-2-1 0-1-1 1-2 2 1 1 2 1 2-2 2 2-2 1-2 0 0 1-1-1 2 0 1-1-1-3-2-2 1-2 1-1-2-1 1-2-2 0 1-2-1-1 0-1-1 0-3-1 0-2-2 2-3 1-2 0 1 1-3 0 0 3-1-2 2-1-1-2 0-2-1-1-1-1 2-1 1-3-1-1 2-1 0-2 0-3-2-2-1-2 0-2-1-1-1 1-2 2 2-1 2 1 0-1 1 2-1 2 2 0 2 0-2-1 1 2-1 1 0-3 1 1 1-1 0-2 2-1 0-1 2-1 1 0-1-3 3 0 0-2 3 0-1 1-1-3-1-3 0-2-2 2 2 0 2-1 2 0 1 3 0-2 0 1-1-1 0-2 3 0 1 0 1-1 2 2 3 0-1 0 0 2 1-1-1-2 1 1-1 2-2 1 1 2-1-2 1 1 0 1 2-2-1 1-1-2 2-2-1 3 1 1-2-2 2 0 2 0 2 2 1 2-2 0 1 2 3-2-2 1-1-1 3-1-3 3 2 2-1-2-1 2-1-1 2-1 2 0-1 2-1 3 0-1 1-1 2 1 0 1 1-1 0-1 0-2 0-2 0-2-2 0 1-2-3 0-1-2 0-2-1-1-1-1 0 2-1-3 2 2-3 2-1 3 0 2 2 1 0-2-1 1-1 1-2 0 1-1 1 3-1-2-2 0 2-1-3-1-2-1-1-1 0-1-2-2-1-1 2-2-2-2 0-2-3 1 3 0 0-1 0 1-1 2 0 1 1-2-3-1-1 1-1-2 0-2 1 1-2-1-2 2-1 0 3-1-1 0-3 1 0-1 2-1 0 3 1-1-2-2 0-1-2-2-1-1-1 2 2-1 0 1 2 0 0 1-1 1 3-2 2-1 1-1-2-1 2-1 2-1 1-2 0-2 0-3 2-1 2 2-3 1 3 1-1-3 2 2 2 1 2-1-1-3 0-1 0-3 0 2 2-2-1-1-1-1-1 1-1 0 1 0 1-1 0 1 3 0 0 2-2 3 2 0 0 2 0 3 3 1 2-2-2 1 3 0 2 2-3 0 0-2 3 1-1-3 0 3 2 2 3 0-2 0-1 0 2 0 1 1 0-2-1 3 0 3 0 2 0 2 0 3-1 2-2 0-3 0-2 0-1 1 0 2-1 1-1-1 1-3-1-3 1 2-1-2-1 2-2 0 2-2-1 3-3 0-3 1 0 2 0 2 2 0 3-1-2 3 0 1 0 2-1 3 0 2 0 1 0 3 1 1 1 1 2 0 2 1 0 1 0 1-1-2 1 2 2 2 1-2-2-1-1 1 2 2-1-2 1 1 1 3 1 3 2 2-1 2 2 0-1 2 2 0 0 2 0 1 0 3 0-3 1 1 2 2 3-1 1 0 3 1-1 1 0 2-3-1 2 0-1 3 3 1 1 1-1 0 2 1 3-1 2 1-2 1-1 2 2 1 2 1 2 2 0 1 3 2 0 2 2 2-3 0-2 2 0-2-2-2-2 2 1-1 1-2-2 0 0 1 0 1 2 0 3-1-2 0 0 3-1 3 2 2 1 2-1 2 0 1 0 1 2 2-1 3 0-3 0 3-1-1 0-3 1-2 1-1 3 0 3-1 0 1 2 1 1 3-1-3-2-1-1-2-2-1-1 2-2-3-2-1-1-1-1-1-2 0-2-1-2-3-2-2M1061 1625l3 1 1 0-1 2 3-1 1 2-2-1-3 0-2 2-2 0-1 1 0-1-1 1-1 0 0-2-3 0-2-3 0 1-1 0 1 0-1-1-2 2 2-2 1-1 1 1-1 2 1-3 0-2 1-2 0 3 1-1 2-1 2-1-2 0 1 3 1 2-2 2-1 0 0 3-1 2-2 2-1-2 1 0 0 1 0 1-1-1 2 0-1 1-1-1 3 1 1 0 2 1-2 0 0 2 0 1 3 2 2 0-1-1-2-1 1 2 0-2 0 3 1 3 0-3 1 2 1 1-2 0-3-1 2 2 0 2 2 2 0-3-2 1-1-3-1 0 0 2-1 2-3-1-1 1 0 1-2-1-2 2 0 1 0 1 1-1-2-1 2 2 1-3 2-2 1 1 2 0-1-2-2 3-1-3-2-2-2 1-1-3-1-2-2-2-2 1-1-1-2-1 0 2 2 1 1-1 1-2 0 2 3 0-1-3 3 1 2-1-2 2-3-1 2 0-1 1-2 0-2-2 1-3-1-2-3-2-1-2 0 1-1-1 1 1-2 0-1-1-2 0 2 0 3 1 0 1-2 2 0-3 0-3 2 1-2-1 1-2 1-3 1-1 1-1 3-2 0-1 1 2 0 3 1-1-1-2 0-2-1 2 2 0-1 0-2 2 2 0-1-2 2 2 0 1-1 1-3 0-1 0 0-2-1-2-1-1-2-1 3 1 3-2 0 2 1-2 1-1 1-1 1-1-2 1-1-2-2-2-1-2 1-1-1 0 0-1-2 1-2-2-2-1-1 0-2 0-2 1 0-3 1-2 2-1 2 2 1 1 0 3 1 1 0-2-1 0 2 0 0 3-1-2 2-2 1 1 1 1 0 1 1-2-3 1 1-1 3 1-2 2 1-2 2 0-1-2-1 2-2-2-1 2 1-2-1-2 1 0-2 1 0-2 2 0 1-2 0 2 2 2 2 0 1 0 2-1 1 0 3 1 0-1 0 1 2 0 2 1-1 1 1 1 1 1-3 1 3 0 0 1-1 0 1 3 1 3 2 1 0-1 2 2-3-1 1-2 2 1-2-1 3 1 1-1-2-2-1 2 0-2 2 1 0 1-1-2 2 2 1-2-1 2-1 2-2 1 2 2 0 2 1 2-1 2 1 1-1 2M1054 1657l-2 1 2-2-3 1 2 1 0 2 0-1-1 1 3 1 1-1-2 2-1 0 2 0 0 1 2-1 1-3 3 0-2-1-1 3-1 1-2 0-1 1-1-1 0-2-3 1-3-2-1-2-2 0-2-1 2 2 2-1-2 0 2 0-3 0-1 2 0 2-1 0-1 2-1-1 3 1-1-2-1 1-2 1-2 1 1-2-2 0-3 1 0-3-1 0 0-1-2 0 1 0-1-2-1 0 1-1 1-1 2-1-2 2 1-2-1-1 0-1 0 1 2-1 2 0-2 1 2 1 1 0 0 2 2-1 3 0-1 1 1 1-1 1 1 1-1 3-1 1 1 2-3 1 0 3 2 0 2 1-3 0 3 1 3-1 0 2 0 2 2 1-1 1-1-2 3 0 1 1 2 0 2-2-1-1 3 1-1-1-2 1-2-3-1-2 0 3-1-2 2-1 0 4 0-3-1 1 1 2 0-2 0-2 1 0-2 1-2 2 2 2-2 1-1 2 2 1 2-2 0 2 2-1 3 1-1-3 2 0 1 0 1 0 1-1 0-2 3 1 0-3 2-2 1 1-2 2 0-1 1 2 0 2-1-1-1 0 0-1-1 1 1-3-3 2 1 2-2 1 3 0 1 3 3-1-2 1 2-1 1 2 2 1-3-1-3 0 1 1 2 2 0 3-1-1-1 0 1 2 0-3 0-2 2-1-1-2 1 1 2 0 0 2 0-2 2 2-3-1-1 1 2-1-1 0 1-1-1-1 0-2-1 1-2 0 1 1-2-1 0 3-1 1-1 1-1 1-1 1-3 1-2 2-3 0-2-2 1 3-2-1-1-3 3-1-1 2 1-3-1 3-1-1 1 0-1-1-2 0 1 0 1-2-1 1 0-3 1-1-1-3 0-1 0-2 1-2 3-1 0-1 1-1 1-2M1095 1656l-1-1-1 2 1 2 1-1 0 3-3 1 0-1 3 2 1 2 2 3 1-3-1-2 3 0 1 0 1 1-2-3 1-1 3 0-1 1 3-1 1-1 0-2-1 1-1 0 0-3-1-3 1 3-2 0-2 0 0 2-1-2 3 0-2 0 1 0-2 2 2-1-2 0 1-1-2 0 0 2-1 0 3 1-1 2 0-1-1 1-3 0-1 1 1-2 3 1 1 3-3 0-1 2 3 0-3 1-1 3-1-1 1 0 0-1-1-3 2-1 2 1-2 1 3-1 2 0 1 2-1 1 1 1 1-1-1 1 1-1-1 1 2-2-2 2 0-3 0 2 1 3 2 0-3 0 2 0 1-2-3 0-1-3 3 2 2 0 0 2-2 0 1-1-1 2 2-1-1-3-2 1 0 3 2 2-2 0 0 2-2-1 1-1 2 3 2 2-1 0-1 2 2-1 0 1 0 1-1-1-2 1 1 2 1-1-3 0 4-1-1 1-3-1 1 1 2-1 1-1 0 2 1-3 3 0-2-2 2 1 3 0 0-3-2-2 0-1-1 0-1-1-3 1 1-1 1-1 1 0-1 3 0 2-2 1-3 2 2 0-2 1 1 3-1-1 1 2 2 1 2-1 2-3 2 1 1 0-3 1 2-1-1 2 3-2-2-1 1 2-1-1-1 2-2 1 1 2-1 3 2-1 0 3 2 2-1-2 0-1 1 0 1 3 1-1 0 1 1 0-1-2 2 1-2 1-2-2 3 1 1-1 0 1 2 1 3 1-2-1-2-1 3-1-2-1-1 2 2 1-2-1 2 1-2-1 2 1-2-1 2 0-1 2 0-1-1 1 1-2 3 0 0 2-2 1 1 3 2 1-2 1-3-1 2 1-3 2-2 0-1-1-1 1 0-3 1 2-1 3-1 1 1 0-1 2 0-3-1-1-1-1-3-1-3-1 2 0 1-2 0-3 1 0-1-3 1 3-3 1 1-3 0 1 1-1 1 1-2 1 1-3 1 2-2 1-1-1 1 0 2-2-1 3-2-1 1-1 3-2 2 0 0-2 1 3 2 0 1-2 2 0 2 0 2 1-1-1 1-1-1 0 0-2 0-2-1-1-3 0 0 1 1 1-1 0-1 2 0 2 1 2-1 2-2 0-2 0-3 1 1 2 0 1-1 2 0 3-3 0 0 1 1 0 1-2-2 1 2 0 1 3-3-1-1-2-1 3 1-2 1-1 1-3-1-2-2 2 0-2 1 3 2-2 1-2-3 1-1 1-1-1 1-2 0 3 0 1-1 1 0 2 2-2 2 0 0 2 3 0 3 0 0 1 1 2 2 0-1 0 2 0-2 0 3 0-3-1 1 0 0-3 0 2 0-2-2-2 2-1 2-1-1-2 2 2-2-1 1 3 0 3 2 2-3-1-3-2 0 2-2 1 0 2 4 0 2-2 0-3 1 3 2-1 3 0 0 1-1 2 2-2 1 1 1 2-2-1 1 0 0 1-1-2 2 3-1-2-1 0 2 2-1-2-3 0 1 0-2 0-1-3-2 1-1 0 2 0 0-1 0 2 2-2 2-1 0-2-1 0-1 1 2 3-1 1 0 2 2 1 3-1 2 1 3-1 1 2 1 2-2 1-1 1 2-1-3 1 1-1 2 1-1 0 1 0-2 1 3-2-1 2 0-2-1 2 2-2-2 3 2-2 2 1 1 3 2-1-2 1-2-1 0-2 1 1 2 0-1-1-3 1 3 0-2 1 2 0-1 1 2 0 2-2-2 1 2 1 2-2-2 2 1-3 0 2 1 1 1-1-2 2 2 0-3 0 1-3 2 0-1 1 1-2 0 1-2 0 1 0 0 2 2-1-2 1 2 0-2 1 2 0-2 0-2 0 1 1 0 3-2-2-1-2 3 1 0 2-1 1-2 0 1 1-1-3 1 1 2 1 0 2-2-1 0-2 0 2 4 0 0 2-2 3 0-2-1-1 1 0 1 0 0-3-2 2 2-1 0 2-1-2 1 1-2 0 2 0-2-2 0 1 1-1 1-1 0 3-1-1-1-3 1-1 0 3 1 1 2 1-1-1 1-1 1 1 2 0 1 0 1-2 0 1 0 2 1 2 0-2 2-1-1 1 1 0-3 1 3 0-1 2-2-1 2-1 0 3-1-1 2-2-2 1 1 2-1-1 2-2-2 2 2-2-1 1-2 2 0-1-2-2 0 2-1 3-1 2-1 2-1-3 1 2-2-1 1-3 1-2-2 1-1-1-2-2 1 1-2-3 2-1 1-2 2-1 2 0 3 0 1 0 1-1-1 3 0-2 0-2 2 2 0-1-1 0 0 2 1-3-2 1 1-1 1 2-1-1-2-1 1 0 2 2 1-1 0 1 1-1 0 2 3-1-2 2 2 1-2 0 0 1 3 0 0-3 4-1 1 0 1 3-2 0 2-2 0-1-2 0 0-2 3 2 0-3 3 0-1 0-2 0 2 0-2 2 1-1 2 0 0-1-3-1 0 3 0-1 2-2-1 3 0-2 1 0-2 1 2-1 3-1-2 1 1 1-1 1-1-1-1-1-1 1 0 1 1-1 0-2 1 1 1 1 3 1 0-2 0-2-1 1 1-2 1-1 1-2-1-2-3-1-3 1-1 0-1 0 1-1 3 0-2 0 2-1 0-2-3 2 1-2-1-3 0 3 2-2 0 2-1-2-1 1 3 1-1 1-1-2 1 1 1-1-1-1 0 1-2-1-1 2-3 1 1 2-3 1 3 0 1-2 1-1-2 1 0 1 0 1 2 1 1 0 1 2 1 2 3 1-2-1 1-1-1-2 1 1 3 1 1 0-1-3 2-1-1-3 1-2 2-1-1 1 1-2 0 3-2-3 3 1 0 1-1-1-2 0-1 2 0 2 1-1 1-1 2 2-1-1 0-2-1 3-1 2-1-1-3-1 2-2 2-1-1 1 1-2-1-1 0 2 1 0 0-3 2 0 1-3-3 1 0-2 1 0-2-1 0-2 0-4 2 1 0 3 0-3 1 1-2 1 3-1-2 1-1-1 1-3 1 0 2-1 2 2-2-2-2-2 2 1 3 0 1 1 2-1-2-3 2 1 0-2-2 3 3-1 1-1 0 1 2 2 3 1-1-2-3 1-2 0 3 0 1 0-2 3-3 1 0 3 0 2 2 0 1-1-1 2-1-2-1 2 0-2 2 2-1-3 1 3-1-1 2-2-1 1 1 1-2 0 1-2 1 0-2-2 1-1 2 1 1 3 0 1-1-1-2-2 1-1-1-3 0-1 0-2-2-1 1 3-3-1 1 2 3 0 1 1 2 0 2 0-1 0 1 3 0 1 1-2-1 2 0-2 0 2 2 1 0-1-3 0 3 0-2 0 1-1 0-1 2 2 1 1 0 3 1-2 2-2-1-1-1-1 1-2 2 0-1-1 0 1-1-2 1-2 1 0-2-1 1-2 0 2-1 2 0 2 0 3-2-1-2 1-2 1 1 1-1 2-3 1-1 3 0 2 2-1 2 1-3 2 3 1-3 1 1-2 1 2 1-3-2 1 2 0-1 2 0 2 2-1 1 2 0 1 2 2 1-2-1-1 1 2-3 1 1-1-2 1-2 0-1-2 2 2 1 0 1-1 2-1 1 2 0-2-2 3 2 0 0-1 2-2-1-1-1-1 0-3 1 0 0-1 2-1 3 1 0-2 1-1-1 0 1 1-1-1 1 1 2 1-1-1 1 1-2-1-1 2 2-1-1 2-1-3 1 2 2-2-2 2 1 2 1-1-2-1-1 3-1-2-1 1 0 2 3-1 1 2 3-1 2-1 1 1 1-2-1 0 2-1 1-2-3-1 2 1 2 1-2-3 0 4 1-2-2 1 1-1 1 1-1-3 1 3 1-1 2 1 2 0 2-2 1-1-2 2-3-1-1 0-3 0-1 2-3 1-1 0-2 0 3 0 2 1 0-1 1-3-2-1 0 1-1 1-1 3-1-2 1-3 1-1-2 0 0-3 0-1 2 0 1-1 1-3-1-2-2 0 1 2-1-1 0-1 1 0-1-1 1 1-3 1-3-2-1-1-2 1 0-2 0 1 1 3 1-3 2 2-3 0 0-1 0 1-3-1-1-2-1-2 0-1 3-1 2 1-1-2 3 0-1 2-1 2 1-1 2-2 2-1 3-1 2-1-1-1 2 2 0-2-2-1 2 0 1 1-2-1 3 1-1-2-1 2 2-2-2 3-1 0-3-1 3-2 0 3 1 2-1 1-2 2-3-2-2-2-1 0-1 2-1 0 2-3 1-1 1-1-2 0 0-1 1-1 1 0 3 1-2-3 3 0 2 0-1-1 2-1 0-2-3-1 3-1 1-2-2-1 2 2 1-3-1 2-1-2 1 2-1-2-1 1 2 2 2 0-2 2 1 2-2 2 1-2 2 3-1 1-3-1-1 0-3-1 1-1 0 2-2 1 1 2 2 0 0-3-2 1 0-3-2 2 2-1 1-1 1 0 0-1 0-2-2-2 1-1 0-1 1-2 1-1 0-1 3-1-3 1 1-2 1 2 1-2-2 2 3-1-1-2-2-1-2 1-1 1 0-3 0-3-1 2 2 1 1-3-2 1 1 0 2 2-1 3 1-3-2-1 1-2 2 0-2-3-2 1-3 1-3 0-1-3-2 1 2-1 2-1-1 2-2 1-3 1 2 0-1 2 0 3 0-3 1 2 2-2-2 1 2 3-2-2 1-2-2 0-1 2 1-1 1 1-3-1 2 0-1-1-3-1 2-2 1 1-1 1 2 1-1-2 1 0-3 1 2 3-1-1-1 0-2-3-3 1 1 1 2 0 0-2-3-1 0 2 2-1 2 1 0 2-2 1-1 2 1 0-2-1 3-1-1 3 0-1 1-2-2 1 1 1 2 1-1 1 1 2-2 1 3 1 0-2 0-1 2 1 2 0 1-1-2 1-1 0 3 2-1-3-1 1-1-2-2-1-2 1-3 0-1-3-2 2-1-2-1-1 2 2-2-1-1-1 2 2-2 0 0 2-1-1-2 1 1-2-2 2 2 0-3-2 2 0 0 2 1-2-2 1 1 0 2 0 1-1 0-2-3-1 1-1 0-1-1-3 2-1-1 1 2 3-2 0-1 2-2-2 2 0 2-2-1 3 3 2-3-1 2 1-1 1 2 2-3-2 1 2-1 1-1 1-3 3-1 0-1 0-2 3-1 1 1 2 3-1-2 2-1-2 2 1-2-1-1 2 2-2 0-2 3 2-1 1-3 0 0-3-1 1-2-2 2-2 0-1 3 0 1 0-2-1-1 2 0 1-1 1 0-1-2-2-1-1-3 0-2 2 2 0-1 2 1 2-2-1 0-2 3 0-3 0 0 3 2-2-3 0 1 1 3-1-2 2-1-2 1 1 0-1 0 2 2 2-3-2 2 0-1-2 1-1 1 0 2-1 0-1 1 1 1 0 1-2-3 0-3 1-1 0 0-2 2 1 0 2 1-2 2 0 0-3-2-1 1-2 3 0 1-1-3 1-1 2-2 0-4 0-1-1 2-2-1-3-1 2 2 0-2-1 2 1-2-1 1 2-1-2 0 1 0-2-3 1 2 1 1 2 1 0 1 2 4 0-1-2 3 1 1 1 1 2-1 0 1 0 1 1-2 0 3-2-3-2 1-1 0 2 2-1-3 2 2-1-1 0 0-3-2 0-2-2-3 0 2-2-1-2-2-1-2-1 3 0-3-2 2 2-1-1 1-1-2 3-2-2-1-2 2 1 0 3 1-2 1 1 1-2-1-1 0-1 3-1-1 0 1 2 1-2-2 2 1 1-1 2 2 0-1 2-3-1 2 0 3 0 0 1 0-2 0-3 2-1 1 0 2 0-1 0 1-3 0 2-1-2-1 1 1 0 1 1-2-2 0 2 2-2 0 2 2-1-1 0 1 1 1 1 1-1 1 3 1 2 2 1 0-2 0 2 2 1-2-2 2-1 2-1 1-1 1-1-1 2-1-1-3-2 1 1 1-2-1 3 0 3 1-1 3 0-1-2 3-1-1-2-1 1 0 2 0-2-3-1 3 0 0 2-3-1 2 0 1 0-2 0 1 1-2 2 1 0-1 0 2-2 1-1 1 1 0 3 3 0 0 2 0 2 4 1-2 0 2 0 3-1 0-2 1-3 2-1 0-2-1 1 2 0-2 1 0-2 1 2 0 3-2 1-2 0 2-1-2-1 1-1-2-1 1 1 1-2 0 1-3 1 2 0 2-1-3-1 2-1-1-1 2-1 0 2-1-1 0 2-1 2 2 0 2-2-1 1 1-2-2 1 2-2-1 2-2 1 2 1-2 1 1 1 2 0 1-1 1 2 0 3-1 0 0 2 0 1-1 2 1 1-2 0 0 2-1 1 0 3-1 2-2 0-1 3-2-1-2 2 0-1 2-2 1 0 0 2 2-1 0 1-2 0 2 0-2-1-2 2 0-1 1-1 2 3 1-1-1 1 1 0 2 1-2 2 3 1-1-2-3-1-1-1 1-1 2 0 1 2-2 0 2-1 0-1-2 0 2 0-1 4-1-1 1-3-1 2 0-2 0 2 2-2-1 1 2 0 1-1-1-2 2 0-1 1-2 2-1 0 0-2 2-2 2 2-2 2-2-2 2-1-2 1-2 2 2 0 1 2-1-3 0 1-2-2-2-1-2 1 0 1-1 1 2 2 1-4 0 2 1 2 0 3 1 1 0 1 2 0 1 3-2-1 1-1 0 3 1-2-2-2 1 1-2 2 2 3-3-1-2 0-2-1 2 2 1-3-1-2 2 0-1 1-2 2-1-2-2-1 2-2-3 2-1 3-2 0-2 2 1 0-1-1 0 1 1-2 2 1-1 2-1-2 0 2 3 2-2-1-1-1 1-1 1 1-1-1 3 1-2 0 1-2-2 1 2 1-1-1 2 0-3-1 0-1-2 2-1 1-1 0-1-3 0 2-2 0 1 2-2-2 2 1-1 1-2 0-3-2 1 0-1-2 0-1 0 1 2-1-1 0-1 3 0-2 2 0-2 1-1-2 1 0 2 0-1 2 0-1 0-2-3 2 3-2-1 2 2-1-1 0-2 1 2 0-1 1 1-2 1-1-1 2-3 0-2-1 0-1-1-1-1 1 2 3-3 0 2 1 2-3 2-2-1 4-2 2-2-2-1-2-2-1-1-3 1-1-3 1 2 0 1 3 0 1 0 2-1 0-1-1 2 0-2-2 0 2 2-3-3 2 2 0-2 0 1 1 2-2-2 2-3 1-1-2 2 2-3 0 1 3 2-1 0 3 1-3-1 1 2-2-1 1 1-3 1 1-1 1 0 2 0-2-1 1 0 1 1 0-3 1 2 2-3-1-1 1 0-3-1-1-3-1-1-3-2-1 0 2 1-1-2-1 1 0-3 1 2 1 1-2 0 1 0-1-1 1-2 1-1-2-2 1-1 2 2 0-2-1 1 0 0 2 1-1 3 1 2 1 3-1 2 1-3 1-2-2 3 1-1-2 1 1-2 0 2-2 1-2-2 1 0-1 2-1-3 1 0-2-3-1 1-2 2-3-3 1 2 2-1-2 1-1-1 1 2 3 0-2-3 0 2-1 1 1 1-2-2 1-1 0-2-2 2 2 2 0 1 1 3-1 0 2-1-1-1 2-1 0 1 1 2-2-3 0-1-1-3-1-2-1-3 1 1-3-2 0 2 1-2 1 1 1-1 0 0-2-1 1 1-1 1 1 0-1-2 1 2 0-1-1 0 1 0-3 0 3 0-2-3-1 2 1-2 1 3 2 2 3-2 0-2 1 2 0 0 3 1 0-2-2 0-1 3 0-2 1 1 3 1-2-4 0-2 2 0 2 0-2 2 0-2-2 2-3-1 0 1 3 2-1-2 2 0-2 0 2 2-1-3 0 2 0-1-1-1 3 0-2 2 0-2 0 2-1-2 0 3 3 2-1 1 2-1-2 1 2-3 0 1-1-1 1-3 0 1 1 1 1-2 0-1 1 0 1-1 1 0-3-1-1-1-2 1-1-1 1-2 2-2-2-2-1-3 1 1 0 2 1 0 2-2-1 1-2 1 1 0 2-2-2 4 0-3-1 0 3 0-2 1 2 2 1 3 3-1-2 0-1-3 0 3 1 1 0 2-1 1 1-1 1 0 2 2 2 0 1-1 2 1-2 0 2-1-1 0-1 1 1 0-3 2 3 2-1-2-2-2-1 2 1-1 1-2 0-1 2-1 1 0 1-2 1-1-2 3 2-2 0 1-1-2-1 1 2 2-1 2 0 1-2 3 1 0 1-1 2 2 1 2 1 0-2-1-1 0 2-2-3-1 0-1 3-2 0 1-2 2 0-2-2-1-1 0 3-1-1 2-1 2 0 2 1-1-1 1-2 0 1-1 2 1 1 1 2 1-1 0-1 0 2-1-2 3 1-2-2 0 2 1-2 0 1-2-1 3 0-1-2 0 2 1-2 1-1-1 1-3 1-2 0 1-1-2 1 0 1-2 0 0 1-1 1 2 2 1 1 2 1 1-1-1-2 2-2 1 3 3 1 1 2 1 1 1-1 1 2 1-2-1 1-1-2-1 1 1 1-1-2-1 3 1-1 2 0-2-2 1 2-3 2 0 3-1 2-2 0-2 1-2-1-3 1 2 1 0-2 0-3-2-1 0 1 0-2 0 2 0-3-1-1-1 2 2 0 1 3 0 2 0-1 1 3 0-2-2-3-1 0-3 1 2-1 2 2 1-1 0-3-2 0 1-1 1 3 1-2-1-2 0 2-2-1 3 0 1-2-1 2-1 1-3-1-1 1-1 2 1-3 1 2 1 0-3 1-3-1 2 1-1 0 0-2 2 1-2 1-1 1-2-1-1-1 0-2 0-2-1 2 2 1 1 0 1 3 1 3-3-1-2 0-1 2-3 0 1 2-3 2 0 1-2 3 2-2-3 1 4-1-4-1 1 2 0 2 3 2-2-1-1-1 0 1 0-1 2 0-1 1-2 1-1-3-1 0 2 0 1 1-2 0 0 3 2 0 0-1-1-1 0 2 2-1 2 1-1 3 3 0 2 0 1 0-1-2 1 2-1 0 2 0-3-1 2 1-2 0 1 1 2-2-1 1-2 1 1-1 1-1-2 2-2 1 2 2 0 3-1-1-1 3 1-1-1-1-1 0-3 0 2 1-3-1 2 2-1 3 3 1-3 1-1 1 0-3 0-2-1-2 2-1 1-3-2 2 1 0 1-2-1 1 0-1-2 0 2-2-2 3 3-2-1 0-2 1 2-1-2 0 3 0-1 1 0-1 2 2 3 0-1 1-3 2 2-1-1-2 2-1-1-1 1 2 2 2 1 2-2 0 0 2 3 0-1 3-3-3 2-2-3-1 1 3 1 1 2-2-3 1 2 2 2-2 3 1-2-1-2 1 0 1-2 2 3-2-1 3 0-1 2 2-2-2 1 2-1-1 2-2 1 3 2 0 2-1 1 3 0-3-1 3 1 1 1-2 0-2-1 3-1-1 0 2-1 2 2-2-1-1 0 2-2-2-1-3-1-2-3 2-1-2 4 1 0 2-3-1 1-1 0 2 1 2 0-2 1 1 2 2 1-2 2 0 2 0 1-2-1 3 1-3-2 0 2 2-3 0 1 1 0 3-1 3-2-1 1-2 0 2 1 0-1-1 2 3 0 1 1 1 1-2 0-1 1 2 1 1 0 2 2-1-3 2 3 0-2-1 0-1 3 0 2 1-2 2 2-3-2-2 0-2 0 1-1-3 2 2-2 1-2-2 2 1 0 2 1-3-2 1 2 0 2 2 0 2-1 2 1-2 3 0-2 0-1-1 1 1-3 2 0-3 0-3 2-2 3 0 1-3-2 0 1-2 0 3 1 1 2-1 3 1 3-1-3 1 2 2-1 1-1 1 3 0-1-1-2 0 1 2-1-1 2 1-3 1 1-3 0 2 3-1-2 0-2 1 1 0 0 1-2 3 2-1 3-1-2-1-2 1 1-3 2 2 1 1 1 1-3-2 1-1-1 2-3 1 2 1 2 0-1-1 1 1 1 0-2 1 2 0 2 2-1 2-1-3 2-1 1-3-2-3 1 1 1-2 3 0-2 0-1 0 1 0 3 0-2-1 0 1-2 0 1 0 1-1-2-2 1 2 4 0 0 1 1 2-2 0 2 0 1-3 2 1-1-2 3-1-3 0-1-1-2-2 0-1 1 2-1 2-2 1 3 0-3 1-1-1 0 2-1-1-1-2-3-1 0-3 2 0 1-2 1 0 3-1-2-2 2 0-1 1 3-1-3 0 1 1-1 0 1 0-1-1-1 1-2-1-1 3 1-1 0 1 1-1 2 1-2-1 2 1-1-1 0 1 1 0-1-2-1 1 3 1 0 4 1 1 3 2-2-3 2 1 0-1 1-2-1-2 0 1 1 1 1-1 1-1 2-1-1-3 0 2 1 0 1 1-1-1 3 1-1-1-3 0 3 0-1 1 2 0 1-1 1 0-1 1 2 0 0 2 2 1-1-1 3 1-3 0 1-3-3 0 2-2 0-2-1 2-1 0-1 1-1-2-2-2-2-2-1 0-2 0-2-1 0-1 1-1 3-2-2 0-1 1 3-1-1 3-1-2-2-1 0 2 2-3 0 3-3 0 0-2 0-2-2 0 0-2-2 3-1-2 2-1 0 3 2-2 2 1 2 0-3 1-2-2 0-3-3-1 3 0 1 1 2 2-2 1 1-3 1 1-1 3 1-1 2 0 2-1 1 2 1-1 1-2 3 0-1 2 2 1 2 1-1 3 0-1 1-1-2-1 3 1-2 0 3 0 2 0 0 1 0-3-1-1-1-2 0 1-1 2-1 3 2-2 1 1-1-1-2 1-1 3 0-3-1-1 1 2 2-3-1 2 0 2 0-1 0-3-2-1-2-1-4-1 0-3 2 0 0-2 2-1 3-1 1 1 2 0 0-1-1 1 3-1-1 0-2 1 1-1-2 0 0-1-2 1 1 0-1-1 1 3-1 2 1-3 3-1-1-3-3-1 1 3-3 0 0-2 1-1 2 0 2 0-1-1-2 3 0 1 0-2 1 2 1 1 2-1 1 1 2 0 2 2 0-2 1-2-1 2 0-1 0 2 1-2-1 3 1-1 0-3-1 2 2-1 1 2 2-1-1 2 2 2 2 0 3 0 2 0 2 2 0 2 1-3 3 2 1-1 1-3-2 0 0 2-2 1-1 0 2 0-2 1-2 2-2-1 0 2 0 2-2-2-2 2 1 1-2 2-1 0 1 0-1-1 1 1-2 1 2 0-1-3 1 2 0 1-1-1 2-1-1 1-1 1-2 1 3 0-3 0-1 1 0 2 1 3 2 1-2 1 1 3-1 2 2 0 1-3 3 2 0 2 0-2-1 1-2 1 1 1-2-2 3 1 1-1-1-1 1-3-1-1 0-2 2 0-1-2 1 2 0-2 0 1-2 0 2-1-2 2 3 0-2 0 1-3 0-3 1 0 3 0-1-2-1 3 1 2 2 1 3-1-2 0 0-1 0-3 2-1-3 1-1-3-2-2-2 0-2-2 2 2-3 1 3-1 0-1-2 1-1 1 0 3 1 2 3 2 1 1-1 1 0 3-2 0-1 3-2 2-3 0 0-1-1-1 0 2-1-3 3 1-3 0-2-1 2 0-2-1 3 0-1 1 0-1 1-3-2-1 2 0 0 2-1 2-1 2-3 0 1 1-1-3 2-1-3 1-2 1-2 0 3-1 2 1 1-1 4 0-1 2 1 2 1 2 0 3-1 1 2 2-3 0 2 0-2-2 3 2 0-1-1-1-4 1 2-2-2-1 2 1-1 1 0-2-1-2 2 0 1 0 1 3 1 1 0 1 0 2 1-3-1 0 3 2-2 2 1 1 2 2-2-1 1 3-1-1-1 3 1-1 0-3-3 1 1-1 0 2 0 2 2-1-1-1 2 2-2-1 2 0-1-1-3 1 3-1-3 1 2 0 1-2 1 0-1 1 3 0 1-1 3 2 0-2-3 2-1 0-3 0-2-2-1-1-1 0 0 3 2 2 2-1-2 0-1 0-2 0-2-3-2-2 3 0-2-2 3 0-2 0-1 2-1 1 1 3-2 1-1-2 3 0 0 1-3-1 2 0-3 2 3 1 0-4 0 2-2 0-1-2 0-1 2 2 0 2 1 1-3 2-1-3 0 2 3 1-2 0-3 0 1 2-1 0 0 3 1-2-1 2 2-2-1-3-1-2 1 0 3-1-3 1-1-2 1-1-1-3 2 2-3 1 1-2 2-2-3 1 1-2-2 0-1-3 2 2-3-2 1 1 3 1-2-2-2 1-1 1-3 0 1-2 1 1-3-1-1 0-1 0 1 2-1-2-1-1-2 0 1 2 1-1-2 0 0-1 1-1-3 1 2-1 3 1-2 2 2 1-2 1 2 3-3 1-1 1 3 1 2 1 3 1 1 2-1 1-3-1 3 1-2-1 2 1-2-1 2 2-1-1 0-2 2 0 0 2-2-1-1-2-2-1 0-1 2-1-1 3 0 2 1-2-3 2 2-2 2 0 3 0-2 0-1 2 1 1 1 1 1 2-2 0-1-1 0 1-2 3-1-1-1 2-1 1 0-2-2 0 1 2 0-1-3 0 2 0 0-1 0 2 0-2 1 1 1-2-2 0 0-4-1-2-1-1-1 2-2-2-2 3 2 0 0-2 1 1 0-1 1 2 0-2-2 1-1 4-1-3-1 0 2-1 1-3-1 2-1-3-1 1 1 1-2 1 1 2 0-2 2 3-3 0 2 0-1-2 2-1-1 1-3 1 3-2 0 2-1-2 1 2-3-1-1 1 0 2-1 2 2 1 2-1-1 0-2-2 0-2-1 1 0-1 2-1 1 1 1 3 2 1 0-3-1-3-1 1-2 2 1 0 2 0 0-2-3 1 3 2-1 3-1 0-3 1 2 2-1 2-3-1-1 1 2 2 0-2-2 0 3 1-3 0 1-3 0 2-1 1 2 2 3 0 0 2 4 1 1-1-1-1-2 0 1 1-1-2 3-1-2 1 1 2 1 0-1 0-2 0 2-2 0 2 0 2 3 0 2-1-1-3-2 1 0 1-3 1-1 1 1 2 2 0-2-3 0 3-1-2 2-2 1 3-1-2-2 2 1-2 1 1-1 1 1-2 1 1-2-1-3-1 2 0 0-4 1-1-1-2-2 2-1 1-1-1 2-1-3 0 3 0 0-1 3 1-2 2-2 1 0 1-2-1 1 1-3-2-3 2 2 2-1 0-2-1-1 1-1 0-2 2 3 0-1 1 3 1-3-1 0 3 1-2 0 1 1-1-1 2 0-1 2-1-3 0 2 2 0 3-1 0-1 0-3 1-2 1 2 0 2 1-1 1 1 2 0-2-1 2 2 1-2 0 0-3 0-1-4 0 1-2 0-1 2 0 1-1 1 1-2 1-2 1 2-2 1-3 0-2-2 1 0-2-2-1 0 3 1-1-3 0 3 0 1-2-1 3-1 1-2 3-1 1-2-1 2 1 2-1 0-1 2 2 0 1 2 1-2-2-2 1-2-3-2 1-1-1 1-1 1 1 3 1 2 2-2 1 1 0-2 0 1 0 2 0 3-2 0-1-1-2 0-2-3-2 2-1-1-1-1-1 1-3 2 1-2-3 1 3 0-1-1 2 2-1-3 0 2 2 2 1 1-2-1 2 1-1-2 2 0-2-1 1-2 0 2 1-3-1 0 1 2 1-1 3 0-1-1-2 2 0 2-1-1-1 0 1 1-1 0 1-3-1-1-3-2 0 3-1 0-2 0-2-2-1 0-1-2-1-1-2-1-2 1-2 0-1-1 1-2 1-1-2 0-3 1-2-2 0-2-1 0 2-1-2 1 2 0 2 1 2 0 3 1 2-2-2 1 0-2 2 0-1 1-3 2-2 1 1 1-1-2 1 1 2 1 1 0 1 3 0 3 1 2 2 3-3 2 0 0-3 0-1 3 0-2-2 2 1-1 1 1-2-1 2-2-1-1-1-1-1 2-2 0 2 1-2-1 2 1-1-2 0-1-3 1-2-3 1-1-3-1 2 1-1-1 1-3-2 0-2-2 2 1 1-1 1-2 0-1-3 0-2 2 1-2 2-2-2 0 4 0-2-1 0 1 2-2-2 3 0-3 0 0 1 3-1-1 1-1-1 1-3 0 2-2-1 0-3-1-2 1 3-3 1-1-2 2 2 1 1-1-2-2-1 1 0-2 1 1 2 0-3 0 1-1-3-1 3-1 1-2 0 2-1 2 0 3 0-2 0-2 1 0-3-3 1 2 2 1-3-1 1 2 0-2-1 1 3-2-3 2 2 1-2-1-3-2 1 0-2 3 1-1 1-1 2 0 1 2-1 0 2-1-1 3 1-2 0-1-1 0-2-1-2-2 1 1 3 2 0-2-2-2 1-2 0 1 1 2 1-2-1-1-1 2-2-1-1 0-2 1 2 1-2 1-2-1 3 0-1 1 0 1-1 0 1-3 0 3 0 3 0 1 3 2 2-3 0-1 0 0 2-2-1 2 1-3 0-1-2 1 1 1 0 1 0 3-1 0-2-2-3-3 1 1-2-1-2 0-2 0-1 2-1-1-1-1-1 2-1-3-1 2-3-3-2-1-2-2-1-2-1 0-3-1-1 2-1-1-1 1 1-2-1 2 1 0 1-2-1 3 0 1 1 3 0 0-1 0 2 0-2 1-1 1-3-2-2-2 1 0-1 2-3 1-3 0 1-1 3 2-2 2-2 0-3-1-2-1-1-2 1-1 0-2-1-1-1-2-2-2 0-1-1-1-3-1-3-1 1-3 0-2-2 1-1 1 1-2-2 2 1 1 2-3-1-1 3 1-2-1 1 1-3 1 0-2 1 2-2 1-2-1 2 1 1 2-1-2-2-1-1 0-1 2 0 1-2-1-3 3 0-2 2 3 0 2 1 0-3 0-2 1 0 2 0 1-2 3 0 2 0 2-2 0-1 2-1 0-2-1-2 1 0 1-3-1 2-1 2 3 0 3-1-2-1-1-2 1 3 2 1 1 3 2 0-2 1 2-2-2-2-2-1-1 1-1 2 2 0-1-2 2 1 2 0-2-2 1 2 0-1 2 0 1-3 1 2-1 2 2-2-1-3-2 1 0 2 2-2-2 2 0-2 1 2-3-1 1 1 1-3-1 2-1 2 2-1 1-2-1 2 2 1-2 0 0 2 3-1 2-1-3-1 0-1 2 1-1 1-2 1-1 3-1-3-1-2-2-2 1 2-1 2-2 2-4-1 0-2 1 1 1-1 1-2 0-2 2 0-2-1 0-3 3-1-2-2 3 2-3 0 0-2 0 2 2-1-2 0 1 1 2-1-1-2-4 1 0-3-2 0-1 1 2 1-1 1-2 2 0 2 1-1 1 0-3 0 1-2-2 0 2 2 2 0 2-3-2 0 0-3 2 2 2 0 2-1 0-1 2 0 3 1 2-1 3 1 1-1-1-2 0 2 2 0-2-1 1 1-2-1 1 0 1 2 0-3 2-2 3 0-1 0-2-2 1 3 1-2-2 3 2-1 2 1-1-2-2-2 2 1 1 3 2-2-1-1 2 1 2-2-3 0-1-1-1 0-2-1 1 2-2-2 3-1 1 0-1-1 0 2 2 1-1 0-2-2 0 1 2-2-1 2-1 0 1 1 1-2-1 2 3 0-1 2 1 2-1 1 1-3-1 1-3-1 1 1 1-1 1-2 2 0 1-1 0 2-2 0-1-1-1-2 2 3-2-1-2-2 1 0-2 1 1 2 2-1 1-1 2-1 1 2 2-3 1 3 0-1-2 1-1-1 2 2 1-3-1 1-2 0 2 0-1 0 2-2-2-3 3 0 2-1 2 0 0 2 3 0 0 1-3 0 0 2 0-1-2 0 0 3 0-3-1 3-1 1 2-1-2 1-1 3-2 2-1-1 0 3-1 2 2-1 0 1 1-1-1-3 0 2-2-1 1 1 3 2-1-1-1 0 1-2 0 2-3-1 3 2-1-1-2 0 3-1-1-1-1-2-2-1 2 1-2-3 2-3 1 1-1-1 0-3 1-2 1 3-1-2-1 0-2 0-1 2 0 3 1 0-2 1 0 3-1-1 2 2 1 0-1 2 0 2 2 0 2 0 1-1 3-1 2 0 0 2 1 2 2-1 0 3-1-1 0-2 1 3-1-2 2-2 1-2 1 2-1-1-1 0-3-1 3 0 1 2 2 1-1 3-1-1 1 1 0-2-1-2 0-2 3-1-2 0 0 2 2 2-3-1-2 2-1 2 2 0 1 0 2-1 1 2-1 2-2 1 1 1 1 3 0 1 0 3 0 3-1 2-1 3 1 1 1 1 1 2 0-3 2 2 0-2-2-1 1 1 2 1 1 0 0 3 1 1-3-1-1-1 0-2-1 3 1 0-2-1-2 1-1 1 2 1 0 2 1-1 1 2-3 2 1-2 0 3 0 3 0 2 0 2-2 1 1 1-2 1-1 1-1 1-2 3 2 2 0 1-2 2 1 2-1 1 2 2 1 3-1 1-2 2 2 3-3 0 0-2 1 2 1 1 1 1 2 0 1-2 3 1 0 2 0-1-1-1-2-1-1 1 0-2-1 1 1 0 2 2 1 0 0 2-2 1-2 2 0 1 2 0-1 2 0 2 0 1 2 1 0 1 2 2 1 0 0 2 1 2 1 1-1 1-1 2 0 1 2 0-3 0 0-2 0-1 1 3 2 0-2 1-1-2 1-1 2 0-3-1 2-2-1 1-2-1 0 2-3 2 1 0 2 2 2 0 1 2 3 0 3 2-1 1 0 2-1 1-2 3 1 1 2 2 1 1 1 1-1 2 2 2 2 3 1 3 1 2 1-1-2-3 2 1-1-3-1 1 0 3-2-3 2 1 2 1 2 1 2 1 1 2 1-2 1 3-1-1 3 0 2 0-2 0 1 2 0 2 3 1-2 0-1 1-1 1-2 1 1-3-2 0 1 3 0 1 3 0-1-1 0 1-1-2 1 1-2 1 3-1-2 2 2-2 1 0-1-3-1 1-2 2 2-2-1 1 1 1-3-1 2-1 1 2 1-1 1 1-1 1-1 1 0 2 0 2 0 1-1 1-2-2 2 0-3-2 1 2 0 1-3 0-1 2 1-2 0 1 0-2-1 1 1 2 2-2-2 0 0-2-1 2 2-1 0 2-3-2 1 2 0 1 0 3 1 1 1-1-2 2 1 0 0-2-1-2-4 0 0 2-1 3 1 1-3-1 3 1-2 2 1 1-2-2 1-2 1-1-1 2 1-1 3 0 1-2 1 0-1-1-3-1-2-1-1 1 2 0-1-2 1 1-2 2 1-1-1-1 1 1 1-2-2 2 0-1 1-2 1 0 1-3 1 0 0 2 2-1-2-1 0-2 2 2-3 0 2 2 3 1 0 2 0-1 0-2-1 2 1-2-1-1-2 1-2-1 2 3 0-3 0 2-1 2-1 1-2 2-1 1-2 1-1-1-1 1-2-2-1-1-3 0-2 3 1-3 1 1 0 1 0-1-1-1-2 0-1 1 0 1-2 1 3-1 1 0 3 0-1 1 2-2-2 0 1 1 0 1 2 0 3 0-2 1 1 2-1-1 0-3 0-1-1-2 0-2 2 2-1-2-1 1 2-1 1 1 2 2 2 1 1-3 1-1 1 1 3 0 1-1 3 0 1 1 3 0 2 0 1-2 3-2 1 1 1 0 2 0-2 1 1 0-1-1 0 2 3-1 0-2-2 0 0-1 1-1-2 1 2-2 1-2 2-2-1 0 1-3-1 3 0 2 3 0-1-2-1-1 2 0-1 3-3-2 3 0-3 1 1 0 1-2-1 1 2 0-2-1 1 1 0-1 1 1-2-1 0 2 0-3 1 3 2 1 2-1 1 2 3 0-1 2-2 0 3-1-4-1 3-1 1-2 1-1 3 0-1 1-2-1 0 3-1-2-1 0 2-2 2-1-3 0 1 1-2 2 1-2-1-2 3 0-3 2 3-2-1 2-1-1 0 2 0-1 2 2 0-3-2 1-2 0-2 2 1 1-1 1-3 0-2 1 3-1-2 2 1 1 2 1 1 0 0 3-1 3 0-2-2 1-1 1-1-2 2 0 0-2 2 0-2 1 2-1 0 2 2 1 0 1 0-1 1-3 0 3 1-2 1 0 0 2 3-1-2 0 2 0-1 0-2-2 2 2 0 2 3 1 3-2 1-2-2-2 2-2-1-1-2-1-1 3 0-2-2-1 1-2-1-2 2 1-1-1-1 2-1-2-2 0-1 3-2-2-2-1 2 2 1 0 2-2 0-2 0-2-1-3 0-2-1-2-3-1-1 1-3 2 3 0-1-1 0-2 0 2-1-2 0 2 1-2 1 3 0-2 0-2-1-1 1-2-1-3-1 0-1-1 2-2-1 3 1-2 1-2-2 2-2 0 1-1 2 2-2 2 2 0 1-1 1 1-1 3-1 1 2 2 3 0 0-3 3 0 1 1 0 3 1-2 0 1 3 0-3 0 1-1 1 1-1-2 0 2 0-1-1 2 3 0 2 2-1 1 3 1-1-2 1 2 0-2-2 1 0-1 1-2 2 1-3-1-1-2-2-1 2-2 1-1 0-2 1 2-1-1-3 0 0-1 1-2-1-2-2 0 2-2-2-1-1 2 2 1-3-1 1 2 2 0 0-1-2 3 2-1-2-2 1-1-1 3 2-1-1 3-3-1 1 0 1-1-3-1-1-3 3 1-3 0 0-2-3-1-3 0 2-2-3 2 3 0 1 3 3-1 0 2-2 2-1-2-2 2 3 0-1-3 0-1 1 0 0-3-1-3 3 0 3 1 2 1 2-2 1-2 1 1 1-3-2 1 1 2 0-2 0 2-1-2 0 3 0-2 1 2-1-1 2-1-2-2 1-1 0 1 3-1 0-2-1-1 2-2-1 3 2 1-1-1-1-2-3 0-2-2 1 2-3 0-1-3-2 0-2 1 1 2-1 1 1 0-2-1-1 0 2 3 1-3 0 1-2-1-1 2 2 1 0-4 1 3-2 1 0-3 0 3 3 1 1-3 1-1 0-1 3-1 2-1-1 1 0-1 2 0-2-2-1 0-2 1 0-3-3 0-1 1 0-2 1 3 1 0 0 1 2-2 1-2 0 3-1-2-1 1 1-1-3 1 1-1 1 2-1-3 3 1-1 1-2-1 3 2-2-2 2 2-2 0 1-2-2-3 2-2 2 0-1 2 1 1 1 0-3-2 0-2 1 0-1-1 1 1 2-2-3 1 3-1-2-1-2 0 1-1-2-1-2-1 0-2 1 1 1-3 1 1-2-2-2 2 3 0 0 2-1-2-1 1 3 1-1-1-1-1 0 2 2-2-1 0-1 3 1-3-1 1 0-1-1-2-2-1-1-1-3 1 2 1 1 1 3 0 2 2-1-1-1 1 1-2-2 0 2 0 1 3 2-1 0-1 0-1 3 1-1 1 2-1 2 2 0-3 0 1 0 3 0-2 3 0-3-1-1 2 2-1 0-2-1 2 3 0-2-1-3-1 1 2 2-3-2 2-1 3-3 0 2-2 1-2-3 0 0-1 2-1 2 1 0-1 1 1-1-3-3 0 0-2 1 2-3 0 3 0 2-1 1 2-1-1-1-2 1-1 1 1 0-2 0 2 1-1 2 0-1 1-1-2 1 2 0-3 1 3 1-2-1 1-1 0 1 1 0-3 0 2-1 0 0-2 0-2 1 2 2-1 1 0 1 1 1 2 0 1 0 3-2-2 1 1-2-2 1 1 0-1 3 0 0-2-2 1-1 2 1-2 0-2-2 2 1-2 0-2-1 0 0 2-1 3-1-2-2-2-2-1-2 0-2 0-2-1-2 2 2 1-2-2 1 3-1-2 1 1 0-1 2-2-3 0 3-1 2 2 1 3-1 2-3 1 2 2 2 0 1 1-1 2 2-1 2-1 1-1 1-1 0-1-2 0-1 1-1-2 1 1-1 2 0 2-3-1 0 2 2 2 1 1 1 3-1 1 0 1-3 1-2 1 0 1 0 2 0 3 0 2-2 1 0 3-2 1-1-2 1 0 0-2 0 3-1 0-3 2-2 1-2 0-2-1-1-2 0-2 0 2 0-2 3-1 2 0 0-1-2 0 2-1-3-2-1 2 0-1 0-1 0-3-2 1 0-1-1-3-2 0-2 1-2-2-2-1-1-2-3 0-2 0-1-3-2-1-1-1M1135 1807l0 6 0 3 1 2 4 5-1-3-2-1 3 0-2 0-3 3-2 5 0 4-1-2 3 0 2 3 4 2-2 7-3 2-1 1-1 4 2 0-3 3 1 2-3 3-1 2-1 4 0 4 2 2-1 0-2-2M1131 1862l-2 2 0 3 0-2 3-2-1-2-2-1 0 2 1 0-1 0-1-1 1 2 3-2-1-1 0-3 1 2 3 0 1 1 1-1 2-1 2 2-2 3 1-2 0 2 2-2-2 2 1 0 3 0-2-3-3 0-3 2 1 1 2 1-2-1 0-2 2-1-2 1 2-1-1 0 2 3 1 2-1-1 0-2 1-1 1-3 1 0 2 0-1-2 3 1 3-1 1-1 1-2 0-2-3 2 2-2 0-1 1-2-1 0-1 0 0 2-3 1-2 0 2-1-3 0 1 1-2 0-3 2 0 2 0-2-1-1-1 2 3-1-2-3-2-1-2 0 3-1-1-2-1 0 1 3 0-3-2 1 2-1 1 0 0 2-2-2 0-2-2-2 2 0 1-2-3 0 1 4-3-1 2-3 0-1 2-2-2-1-2 1-2-1 2-1 1 3-2-2 2 0-1-1-1 0 1 1-2-2 1 2 1-1 1 1 2 1 0 1 3 1 2-2 0-1 1 1 3 1 1-1 0-2-2-1-1 2-1-2-1-1 0-1-2 0-3 0-2-2-2-1-1-2 1-1 1 1 0-1 3 0-3 0 3 0-1 0-2-1-1 0 1-1 1-1 2 1 2 0 2-2-1 3 3 1-1 3-3 1 3 0 1-3 1-1-1 1 1 3 2 0-1-3-1 1 0 1 1 1 1-1-2-2 2-1 0 2 1 0-1-1 0 3 1 3-2 0 1-1-2-2-1 1-1 3 1 1-2 0 1 0-1-1 3-1 3 1-2 2 0 2 2-2-1 1-1 2 3 0 0-2-1 0 1-1-2 0 2 1-3-2 2 0 1 1-1 0 1-2 2-1 2-2-1-1 1-1-1-2 1 1-2-1 2 0-1-1-2-3 0 2-1 1 1-2-1-2-2-3-2 1-2-1 2 0 1-1-3-1-1-2 1 0 1-2 0-1 2 2-3-2-2 1-3 1 0-2-1 0-1-2 1-2 1 2 3 0 0 1 3-1 0 3-2 2-2 1 2 0-1 0 1 1-1 2 2 2 1 1 0 2-2 1 0 1 1 2-2 2 0 3-2 2 0 2M1141 1870l-2-1 0 3-2 1-1-2 1-2 0 3 1 2 0-1-1-1-3 2 3-1-2-1 2 3-1-3 3 1 1 1 3-2-1-1-1 1 2 1 1 2 1-2 3 0 2 1 3-1 0-2-3-2-1 3 0-1-1-3 1 3 1-3-1 2 3 0-2 0-1-1 2 2 0-3-2 1-3 1 1 3 1-2-2-1-3 2 3-2 1 0 1-1-1-1 1 1-1 1 1-3-1 2-2 2 0 2 0-2-1 0-2 0 2-1-2 1 0 2-1-1 0 2 0 1 2 1 0 3-2 1-2-1 3-1-1 1-2 2 0-1 2 0-1-2 1 2-1-2-2 1 1-2-1-1-2 0-2 2-1-3-3 0 3-1 0-2-1 2 1 2 2-2 1-1-2 1 1 2 0 1 2 0 0 2 2 0 1 2 1 2 2 2 0 2 3 0 1 1 1 0 1 1 2-2 1-2 1 0 2 1 0-3 0 2 0-2 0 1 2 1 1 0 2-2-1 3 2 0 2-1 1 2 2 0 2-1-2 1 3 0 0-1 0 1-2-3 0 3 2 1-3 0-2 0 0-2-1-1-1 2-3-1 1 3 3 1-3 0-2 1 0 1 0 2 1 2-1 0-3 1-2 1 2 0-2-2 2 3-1-3 2 2-2-1-2 0-2-3 2 0 2 1 0 1 0 1-1 2 0-2-1 1 0 2 3 2 1 2-1-2 3 0 3-1 0-2-3-2 2 2 4 0-1 2-1 3 3-1-1 1 0-2 1 2 1-3 1 2-1 1-1 0-1-3 0 2 1 1-2-2 2-1 0 3 0-3 0 2-3 1-1 0 0 2-1-2 0-2 2-2 2 1 1 0 1-1 2 0-2-2 1-3-2 0 3-1 2-1-3-1-3 0 3 1-1-2 0 2-1 0 2-2-4 0 2 0 2 1-1 0 1 0-2 2 2-1 0-2-3 2 2-1 2 3-2-3 0 2-1-3 2 1 1 2-2-2 2 0-3 1 2 2-2 0 0-1 0 1 1 1-2 2 1-2 1-3 0-3 3 0 1 3-1-2-3 0 2 2 1-1 1 2 0 2 0 3 2-1 1 0 1 2 0 1 3 0 1 3 0 1 3-1-2 2 1-2 1 2 0-1 0 2 1-4-2 3-1 1-2 2 2 1 0 2 0-3 1-1-1 1-1 1-2-2 1-2 0 2-2 2-3-1 2 2 0 2-2-1-2 2-3-1-2 2 1 2-1-1 0 1 0 2-2-3-1-1-2 2 0-3 0-3-2 0-3 0-1-3-2 0-2 0 1 1 1-2-2 2 0-2-2-1-2 2 1 1 3 0 1-3 0-2-2 1 2 2-1-1 0-2 3 1 2 0 3 2 1 2 2 0-2 0-2-1 1 1 0-2 0-2-2-1-2 1 2-1-2 0-1 1-2-1-1-1-1 0-1-2-1-2-1 0-2-1-2 0 0-3 2 2-2 0 1-3 3-1 2-2-1-1-1-2-1-2 2-1 1-3-3 1 2-1-1-2-1-2-2 1-2 2-1 0 0 2-1-2 1 0 2-1-1-1-3-2 0-2 0-1 2-1-3 1 1-1 1 0 0-3 1 3 1-2 1-2-1 1 1 1-2-2 1 2 0-3-1 2 2 1M1173 1911l0-2 2 0-2 3 5 1 5 0-1 3-2 5 4 3 0 1 2-1 3-2 6 4 2 2 1 2 3 2-2 1 2 1-2 4 2-2-3 0 5-1 5 0 1 1 1 2 2 0 3 3 0 2 1 6 2 5-1 1 3-2-3 1-1 4-2 1-1 2-1 5 3 4 2 4 2 1 3-1 4 1-2 0 4 0-1-4 4-1 4 1 0-1 1-3 1-5-1-5 3-1 0-1 1-4 1 0 1 1-3-1 3-3 2-2 3 0-2-2-2-3 3-2-2-1 2-2 3 1 5-6 4 0 2-3 1 1 5-3 3 0 5-1-1-1 1-3-2-1 1 0 4 3 1-2 3-1 5-1 3-3 1-1 3 0-2-4 2 3 0-1 1-3 4-1 5-2-1 1 2-1 2-4M1209 1910l-3 1 1-2 2-1-1 2-1 1-1-1-1 1 0 3-1-2-1 1 1 1-1 1 0-2 1 1 3 0-2 0-2 0 2-1 0 3-2 2-2 0 1 1 0 1 0 4 0-2 1-1-1 2 2-1-4-1 3-1 0 2 0 2 0-1 0-2-2 0-2 2 0-1 1-2 2 0-1-3 1 0 1 2 2 0-3 0-2 0-2-1 1-2-2-1-1 2 2 0 2 1 1 1-1 3 2-1 2 1 0 2 0 2 1 2 3 0 1 1 0 1 0 1-3 1-1 1-1 1 0-2 1 0 1-2 0-1-2 2-2-1 1 2 0 1 1 0-2-2 2-2 2 2 3 2 1 1 2 0-1 1 3-2 1 2 0 1-1 2-1 3 0 2 2 2-3 1 1 2 0 2-1-3 0 3-1-1-1 2-1 0 1-3-2 1 2 2 1 0 3-1-3-2 2 0 0 2 2-1-2 0-1-2 1 2-1-3 1 1 0 2 2 3 1-1 3-2 1 1-1 1-1 1-1-2 1 0-1 0 3 2-2-1-1 0 2 1 1 1-1-3 0-2-1 1-1 2-3-1 0 2 1 2 2 1-2 1-3 2-2-2 2-2-1 2-1 1 1 2 2 0 1 3-1-3-1 2 1 1-1 2 0-1 1 1 2-1-2-2 0 2 0-1 2 2-2-1 2-2-3 0-2-2 1-2 2-2-2 1-1-1-1-2 1-3-1-2 1-3 1-2 1 0 0-2 1-1 2-2 1 1 1-1-1 0 0-1 0-1-2 0-1-1-1-2 2-3-1-2 1-3-1-3 0-3-1-2 0-3 0-2-3 1 1-2 0-2 1 1-2 1-2 0 1 0 4-1 2 0-2 0-1-1 2 1 3 1-3-1-2-2 1 2-3-1-1-2 1-2 1-1-1-2-1-2 0-2-2 1 0-1-2-1 0-3-1-2-1-3-2 2-3-1 2-2-3 1 0 2-1-3 3 1 0-3 2 0-1 2-3 0-2-2-1-2 1 1 2 2-1-2 0 3 2 0-1 2 3 1 3 0-2 3 3 0 1 1 1 0 0 2 0 1-1 3 0 2 2 1 1 1 0 3 2 2M1267 1923l1-2 2-1 1 1 2-1-3 0-2-1 0 2 1-2 1 2 2 0 1 1 0-2 1 0 1-1-1 1-2-2 2 0-1 1 0-2-1 1-3 2-1-1-2-1 2 1 1-1 0-3 1 0 0-3-3-2 0-1 3 2 1-3 3 0 1 2-3 0 2 1-3-1 3 0-1-2 2 2 0-1-1-1 2-1 2 2 3 0 2 2 3 1 1-3-2-1 1-1 1-1-2-2 3 0 0-2 2 3 2 0-3 1 3 1 2 1-3 1 0-1-2 2 1-2 0 2 0 1 3 1 0-1 2 1 2-1 0-1 1 1-2 0-1 2-2 0 2 0 1-1 1 4 3-1 1-1-1 3-1 3 0 3 1 2-1-2 1 1 1 0-3 1 2-1 3-1-2 0-1-2 0 2 0-1-2 2 1 1-2-1-1 0-1 2 1-2-2-2-1 2 2 0 2 0-2 3 2 2 1-1 1 1-2 0-2-1-2 0-2 2-1-1 1-2 3 0 0 2-3 0-2 0-2 1 2 1 3-1 0 3-3-1 2 0-3 0 1 0 0 1 1 1-1-3 2 0-1-1-2-2-1 2 0-3-1-3 1-2 1-3 1 2 1 2-1-1-3-1 1 2 0-2 2 1 0 1 2 0-3-1-1 1 2 2-2 0-2 2-2 0-1-3-1 1-2-2-1 1-2 0-1 3-2 1 2 2-2-1-2 0-2-1 1-2 1-1 3 0-1-1 2 1-1-2-4 0 0 2 0 1 2-2-1-1-2 2 0-3-3 0 1 1 1 1M1313 1906l1-2 2 2-2 2 0 2-2-3 1-1 1-2 1-2 2 1 0-2 1-1 1 0 0 1 1-2-2-1 3 1 0-1 2-1 1 2-1 3 1 0 0 4 3 0-1 1-2 1 1-1-1 3 0-1 1-1-2 2 2 0 3 0 0 1-1-2 1-1-1 1-1 0-1 1-2 0 3 1-2 1-1-1 1 2 0 3-1 0 0 1-1 2-3 0-2 0 1-3 1 1-2-2-1 1 2 0-2 2 1-3 3-1-1 1 0 1 0 3-2 0 1 2-3 0 2-1-1-1-2 0 2 1-1 2 2 0 1 0 2-1 2 0-1 1-3 1-2 1-2 1 1 0 3 0-2 2 3 2-1 3 1-2-1-3-1 2-2-2-2-1-2 1-2 1 2 1 0 1 2-1 2 1-2-1 1 0 2 1-1 1 1 2 3 2-1 1 1-1-1-2 3 2 2 2-1 3 1 1 2-1 1-2 2 1-2 1 1-1-1 0 1-1 1-1-1-1 2 1-2 2 1 0 2 1 2 0 1-1 1 1-2 2 0 2-1-2 3-1-1 2 0 2 3 1-3-1-2 0 0 1-4 1-1 2 2 0 1 1 1-1-2 0 1 1 0-1 2 1-2-1-1 2-3 0 0-2-1 1 2-1 3 1 2-2 1 1-2 2-1 1 1-2 1 1 0-2 2 0 3 0 2 1 1-3-1-2 0-3 1 2 1 1 0-3 0 2-1-1 2 2-2-1 2-2-2 0-3 1-2 1-2 0 2-2-1-2-1 1 0-1 1 2-1-1 1-3 1-2 2-1 1 0 1-2 2 1 0-2-1 0 3 0-1-2-3-2 1 2-1-1 1 0 0-1 2-1-1 1-1 1 1 2-1 0 0-3 2-1-1-3-2 1 2 2 0-3-2 0 2-1 1-1 1 2-1-2-1 1-3-1 1 3-2 0 1 1 0 3-2-1-3 1-1 1 2 0 0-2-2 1 2 2 0-2-1 2-3 2 3 0 1-1 0 3 0 2-2-2-1-2 2-3 1-1 3 1-1 1-1-2 0-2-2-3 2-1-2 1 3-1-2-1 0-2 2-1-1-2-2 1 2-2-1 3 1-2 0 1-1-1 3 2-3 1-2 2-2 3 2-1 3-1 2 0 0 3 1 2 3 2 0-3-1 1 1-1-2-2 2 1 2 1 2-2-3 0 0-1-1-1-2-2 1-3 2-3 1 2 0-3 2 1-2 1 1-2 1 2-3-1-2-2 0 2-2-2-2 1 0 3-2-3 0-1 2 0 0-2-2 0-1 2 0-2-2 1-1-2 1-2 2-2 1 2 0-2 2 1-1-1 1 0 3-2-2-2 2 1-2-1 3 1-2 0-2-2 2 2 1-1 3 1-2 0 0 2 0 1 1-2 1-1-2-1 2 2 0-3-1 1 3 0-3 0 3 0-1 0 1-1-1-1-2-2-1-1-3 2 1-2-2 1-1-2-3 0 2-1-3 0 2 0 2 0 1-2 2-1-1 3 2-1-2-2 2 0-2-1-1 3 3-3-1-2-2-1 0 1-2 1 2-3 2 1 1-2 2 1-1 2 0 2 1 2 2 1 1 0 0-2 2 2-1-1-1-1 1 1 0 3-1-2 3 1 0-3-3-1 1-3 1 3 0 3 2 1 0-2-2 0 2 0 2-2-2 0-3 0-1 1 2-2 0-3 2-1 2 0 0 2 2-1 1 2 1 0-2 0 2 1-2-1 2 3-2 3 1-3-2 0 1-1 3 1 0-2 3-2 1 0-2 0-2 0-2-2-2-1-1-1-1-1 1-1-3-1-2-2 0-1 2-2-3 2 2 1 1-1-2 2 1-1 2-2-1 2-1 0 3 0-1 2 3 0-2 2 1-2-2-3 1-2-1-1 0 3 1 0 1-2 0 2 0 1 0-2 1 3 1 2 0-2 1 3 1 0 2 1 1-2 2 0-1-3 2 1 1-2-2-1 1 2 1-2 0 2-1-1 2 0-3 1-3 1 0 2 1 3 1 2 1-3 0 3-1-1-1-1-1-3 0-1-2-1 2 2 1-2-2 2-2-1 1 0 0-2 2 0 1 0 0-1 1-2 1-2 2 0 1-1-1 2 1-2 2 0 2 1 2 1 0-2 1 1 1-3 2-2 0 2-2 1 0-2-1-1-2-2 0 1 0-1-3 0-1-1 1 1-2-1-2 1-1 1-2 0 0-3-2 2 0-1 2 2-1-3 2-1 1-2 3-1 0-2 1 0 3 0-1-2-2 1-1 3 1 1 0-3 1 2 2 0-2-2-2-1-1 3-2-1 3-2-1 1-3 1-1-2-3 1 1-2-2 0 2 2-2-2 1 1 0-2-1 1-2 0-1-1-3 1-1-3 1 1 2 0-1-2 0-1 1 2-3-1-2 2 3-2 0-2 0 2-1 2 0-1 0 2 1-3 3 0-1 0 0-3-1 2 1 1 3 1-2-1-2-1 2 2-1-4 2 2 1-2 1-3 1-2-1-1 3 2-1 2-2-2-2-2 2-1-2-2-3 1 2 0 1-1 1 0-1 2 1 2 2 0 1-2 1 3 2-3-2 2 1 0-2 2 2-1-1-2 2 3-1-2 1 0-2 0 2 1 0 3-3-1 0-2 1 3-2-1-2 1-3-1 1-1 2-1 2 1 0-1 0-3-2 1 1-3 0 2-2-2-2 0-1 1 0-1 1 2-1-2 3 1-2 0 1-1 1-1 0-2-3 0 2-2 0-2 2 1 0-1 1-3-1 1-1 2 2 1-1 3-2-1-2 1 2-1 1-2 2-1-2-1 1 1-1-1 1 1 2-1-3-1 2 0-1 1 1-2-2 2 2 0-1 0 1-1-1 1-2-2-2-2-3 1-3 0 3 1-2 0 0-2 2 2-4 0 3 0 2 0 0-2 3-1 0 2 3-2 2-1-1-2-2 0 3 0-2-3 0 3 0-1 0-4 0 2 0 1 2 2 1-2-1-3-1-1-2 1 2-2 2 2 1 1-2 0 0 1 3 2-1-1 2-1 3 2-3 0-2-2-1-3 0 2-2-1-2-2-1 0-1 1-1 3-2 2-1-2-1 1-2 1-1-2 2 3-2 2-1 2 0 2 1-2 1-1-2 1 2 2-1 1-1-1 0-3-1-1-1-1 2-1-2 2 0-2-1 3 1-2 0 2-3-2-2-2-3-1 1 2-2-1 2-2-1 1 0 2-1-3-1-2-3-2-2 1 2 2-3 0-1 1-1 0-3-1 1-3 1-1-2 1 3 2 1 2 0 3 1-2 3-1-1 1-2 1-1 1-2 3 0 2 3-2 3 2 1 2 2 1-1-2 1 1 2 1-1 3 1 3 1 1 1 2 0-1-1 2-1-1-3 1 1 3 1-1-1-1 1 0 2-1 3 2-1-1-1-1-1-2 0-1 0-1 1-1 2 1 0-3 2 1 2-1-1-1 0 1-1-1 0 2-2 1-2 1 1 2 0 1 3-2 1-3-1 2-1 3-2 1-3-2 2 2 2-1-1 0-2 2 0 2 1 1 0 3 1 1-2 0 0-2 2-2 0 2 0-1 2 1-2-2 2 3-1-1-2-2-2-2 0 1 2 2 3 0 1 1-2 1-2 3 2 1 0 1 3 0 2 0-3 1 1 2-3-1 3 0-1-1-2-1 1 1-2 0-1 3 2-1-2 0 2-2 1 3-3-1 3 0-2-2 1 1 0-1 1 2 0 1-1 3 0 1 0-2 0 3 2 1-1 1-3-1-3 1 2-2 3 2-1-1 1 1 1 3-1-3-2-1-2 2 3-1-2 1 1-1-1 1 2 0-3 1 2 0-2-2 3 1 0-1-2 0-1 1 1-2 1-1-2 1 1-3-2-3-2-1 0-2 1-2 0 3-1 2 1 2-1 2-1 3 2 0 2 0 0 1-1 2 2 1-1 1 1 3-1 1 1 2-2 0 2-3 0 2-1 0 0 2-2 3 1 1-1-1 1 1 1 2-1 1 0-1-3-1-1 2-2-1-1-2-2-2-3 2-1-3-2 2-2-2-1-1-1-2 2 0 1-2 1-3 2-3 1 2 1-1-2 2 2-2 1 2 0-1 1 1 1-1 1 0 0 1-2-1 2 2 1 0 1-2-2-1-1 2-1 2 1-2 3 1 0-2-2-1 1 3-2-2-1 2-1-2-2 0-1-2-1 1-4-1-2-1 0-1 1 1 0 3-1 1-2-1 1-2 0-3 3 2-1 1-2-2 1-1-2-1-3 0 1-1 2 0-1 2 2 1 3-1 0-2-2-3 1 1-2 0 1-3-2 0-1-2-1 2 1-1-1 1 1-3 0 1 1-1-3-1 2 0-1 2 0 1-3 1 1 1 2 0 0-1 3 2 0-2 2-2-1-2 1 2 2-2 1-3 0 1 1 0 3-1 1-1 2 1 2 0 1 3 1-1-2 0 0 1 1-1-1 1 1 0 0 2 1 3 0-1 1-2 1-1-2 1 1 1-1-1 1 0 1 0 1-3-1-2-1-3 0-1-1-3-2 1 1 2 0 2-2-1-2-2 2 0-1 1 3 0-1-1 0 3-1-1 0 2 2 2-3 1 3-1-1 2 0-1 0-3 3 1 1-2 1-2 3-1-1 2-2 2-3 0 1 1 1-1-2 0-1-1-2 1 0 1-3-1-1-2-2-1 1-1-1-1-1-2-1-3 2 1-1 2 1-3 0 3-1 1 2 1-1-1 0-3 0-2-1-1-2-2 1-2-2 2-1-3 0 3 0-1 1 1 1-1 2-1 0-2 1 0-1 0 1 0-2 2 1-2 2 2-1 0 0-3 0 1 1 2 2 0 2 0-3-1-1-1-2 0 1 0-1-1-3-1 1-2 0-1-1-3 1-2 1 2-1 2 0 3-1 2 2-1 0-1 0-1 1-1 1-1 1-3 2 2 0-2 2 1 0-1-1 0 1-1-2 1 0 3-2 1 1 0-1-1-2-2 2-1 1 0 1 3 0-2 2 0 1-3-3 1 1-2 2 2 3-1 2 2 2 2 2-2 1 0 1 2 1 2 1 3 2-1 2 0 1 0 3 1 2 0 1-1-1 0 1 1 3 0 1-3 1-3 0 2 0 3 2-2 3 1-3 0 2 0-2-1 1 1 1 2 0 3 2 0-2-3-1 2 2 0 1 2 1 0 1 2 1 3 1 0 2 2 3 0 1 1 0-2-1 1 0 1 1 1-1-2 2 2 0-2 2-1 3 1-2 2 1-1 2 2-2-1-1-3-1 0 1 2-2 2-1 1 3 0 2 1-1 1-2 1-2 2 2 2 0 2 2 3-2 2 0 2-1 1-2 1 0-2-2-2 0 3-2 2 0-2 0 2-1 1-3 1-1 2 2 2 0 3 1-1 1-1-1-1-2 1 0-1-3 1 0-1-2 0-3 0-2 0 0-2-1-2-2 0-1-1-2-1-1-2 2 2-1-1 0 2 1 2 1-1-2-1 1 2-2-1 1 2-2 0 1 1 3 1-2 0 3 0 1 0 2 2 1 2-2-1-2 2-2 0-2 0-2 2-1 1-1 2-2 1-3 0-2 1-2 1 2-1-3 0 2 0 1 2 2-1 1-3-2 1 0 1 3 0-1 1-1-1 2 0 0-2-2-2 3 0 0 1-1-1-2-2-2 2-1 1-2 2-3-1-2 1-1 0-2 0-3-1-2 1 0 1-1 0 1 1-2-1 2 1-2 0-3 2 3 0 0-3 0 3 0-2 2-1-1 2 1 1 2 3 2 2 2-3 1 1 0 3 2-2-2 0-2 2 3-2-2 1-1 0 1 0-2 0 2 0 1-1-1 3-2-3 2 0-2 3 1-3 1 1-1-2-1 0-3 0 1 3 0-1 3-1-3-1 2 2 2 0 3 1 0 2 2 1-1 1 0 2-2 1-1 2 1 1-1 2-2 2 1 3 1 2-3 1 2 1 2 2 0-1 2 0 1 3 1 2-1 0 1 0-2-1-1 2 1 0-1 2 0 2-2-1 0 3 0 1 1 3-2 3-1 2 0 1 1 1 0 3 1 2-1 2-1 1-1 1 0 2-1-3-1 1 0 1 2 2 1-3-3-1 1-1 0-1 1-2 3 1 1 1 1-1-1 2 2 1 3 0-1 2-1 2 1-2-3 1-2 1-1 1 3 1 2 1 1 2 1 2 0 2 0 2-1 1 2 2-1-4 0-2 1 2-2 0 2 1 1 0-1 0 2-2 2 1-1 2 1 3-1-1 0 2 1 1 1 1 3 0 0-2-1-1-1-2 2 2-2-1 3 0-3-1 2-1 0 3-1-1 0-2-2 1-1 0 1-2 0-3-1 1-1 0-1 2-3 1-2 2-1-1 1-3-2-1-1-1-1 1 0 3-1-1-1 1 2-3-2 2 2-1-1-1 1-1 1-2 0-2 0-3 0-1-1-2 0-2M1416 1897l2-2-1-1 2-2 0 3 2-2 3 1-2 1-2 3 0-1 0-2 2 0 1 0 3 0 1 0-2 2 2-2 3 1-1 0-1-3-1 3-1-2 0 2-2-1-1 3 0-1 0-1 2 0-2-1-1 0 1 1 2-1 1-1-1 0-1 3 0 2-2 2 2-1-1-2-1 2 0 1-1 2 2 0 2 1-2-1 0-2 1 2 2-2-1-1-2 2 2 0-1-2 1 1-2-1 2 1-1 0-1-1 1-3-2-1-2 3 2-2 0-2-1-3 2 1 1 3 0-1-1 1-2 2-3-1-1-1 3 1-1-4 1-1 1 2-2-1-2-3 3 0 1-2 1-1 2-2 1-1 1-2 1-2 1-2-1-2 0-1-1-3 0 2-1-1-2-1 2-1-2 0 2-1 1 2 0 2 0 2 0-1 1 0 1-1 1-2-1 1-1 3 1-1-2-2-1-3 0-1-1 3-1-2 3-1-3 0 2 0-2 1 1 2 0 2 0-3-1-3 0-2 3 0 2 2 1 1-3 1-2 1 1 0-2-2 0-2-1 2-2 3-1-2 0 3 0 1 2-1-2-1-2-1-2 0 1 2 2 0-1 0 0-2 0 1-1 1 2-1-1-1 1-1 2 2 0 2-1 0 1 0-3 0-1-3-2 0 1 3 1 2-1 1 2-3-2 1 2 2-1 1-2-1 1 2 3 0-2 0 0-2 2 2-2-2 0 2 0-3 0 1 3 0 1 0 3-2 1 1 0-2-1 1-3 1-1-3-1 0 0 1-1-1 2 0 3-1 1 1 1 2-3 1-1-2-2-1-1 2 1 1-2-2-1 2-2-1 0 2-1 1-1 0-1 1-1 0-1 1 1 3-2 1-1-3 2-2-2 1 0-3 2 3 1-2 2 1 1-3-1-1 2-1-2 2-3 1 0-1-2-2-1 0-2-3-1 0 2-2-1 0 0-2 1 0-2 1 1 0 0 2 2-2-2 0-2 0-2 1 3-2 2 0 3 1-1 2 0-3 0-3-1 0 2-2 1-2-3 0 1 3-1-2-1-1 0-1-1 2-1-1-3 1-2-1 2-1 0-1-2 0-1-2 2 1 0 2-1-2 1 1 1-1-2 2 1 2 1-2 2 2 1-4 1-1 3-1-1-2 2-1-3-1-1 2 0 2-1 0 3-1-1-2-1-1-1 2 1-1-1-2-2-1 1-2-1-2-1-2-2 0 1-2 0 2-1-2 2-1-1-1 1 1-2-1-1 0-1 1-1-3-2-2-1 0-1 2 2 0-3-1 0 2 0 1 1 3 1 3 3 0-1-1 0-2 3 0 0-2 1 0 1-1 0-2 2-2 2 0 2-2-2 3 1-2-3 0 2 2-1 0-2 1-1 1-1-1-3 1-2 0 1 2 2-1-2 2 1-1 2 2 0-3-2 1-2-1-1-2 2 0-2-1 2 0 1-3-1 1 2 2-2-1 0-3 1 2-2 1 0-3 0-2 1 3-1-1 0 1-3 0-2 0 2-2 0 1 0-3 2-1 1-3 0 3 1 1-1 2 0 1-1-1-2 2 0 2-1 0-1 2-2 1-2 3 3 0-1 2 1 3 1-2-2 1-2 1 2 2 2 2-3-1-2 1-2-3 0 2-1-1-3 0 0 2-1-1-3-2 1-2 1-2 1 0-1 1 2 2-2-1-2 0 2-1 0-3-2 1 1 0 0 2-2-1 2 0-2-1 1 0-3 0 0 2 3-1 0 2 0-2 2 1 0-2-1 2 0 2 0-3 2 0-1-2-1-2-2-1 1-1 0-2-3-1-2 0 0-3 2 3 1 0 2 0 2 1 1-1 1-2 1-1 1 0 2-1 1 2 1-2 3 2 2-2 1-2-1 0 2 0 1 0 1 2-1-2-2-3 1-2-1 1-1 0-2 0-3 0-1-3 0 3-2-2 0-3-1 1-1 1 0-1-3 0-2 0-1-2 1 1 1 2-1 2 1-2-1 0 0-1-2-2-2 2-2 1 1-1-2 0 2 1-1-1 1 2-2 0-2 1 0-3-2 1-2 2 3 0-2 1 0-3 1-1-1 2-1-1 2-1-2 1 1-3 1 4-1-1 2-1 3 0-4 0 2 0 0-2 0-1 2-1-3-2-2-1-3 0 1-1 0-1 0-3 2 0 1 2-2-2-1 1 0-2 3 0 2 1-3 1 3-1-3 1 2-1 1 1-3 0 1 1 2 0 2 1-3 2-2 1 0 2 2-1-3 0-2 0 0-2-1 1-1 2 1-2 0 1 1 0-1-1 1-2 1 0 3 1 2 1 0-2 2 2 1-1 2-3 2 0-1-3 1-1 2 0-1 1 1-1 0-3-1 3 0-1 2 1-2 1 0-2 0 1-2-2-2-1-1-1-1-1 2-2-2 1-2-1 1 0 2-2-1 1-1 3 2-2-3 0 1-1 0 1 3 1-3-2-1 2 1-3 0 1 0 3-1 2-2-1 0-2 2-1-2 2-1-2 1-2 2-2 2-1 1-2 0 1 0 2-2 2 0-2 2-2 1-1 2 1 2 0-1 2 2 1 0 3 3 1 0-3 2 1 0-1 2 1-1-1-1 2 0-1 3 0-3 1 1 4-2-1-3 0 2-1-1 2 1-1-1 0-2-2 0-3 2-1 0-1 0-3 1-1 2-2 0-3 2 1 2-2 2 0-3 1 2-1 2 3-2 0 0-1-1 0 2-1-1-3-1 0 1 2-1 0 1-1 0 3-1-3 1 0 2-1-1 2 0-2-1 3-1-2 2 2 0-1 2-3 2-1 2 3-1 2 2-2 2 0 0 3 1-3-2 2 0-2-1 3 0-3 1 2-1-1 1 1 2-1 0-1 3 0-1-2 1 2-1-2-2 3 1 2-2 0 3 0-2-2-1 0 2-1 0 3 0 1 1 3-2-1-2 1-2 3 1 2 0 2 2 2 2-2-1 1 3-1-2 1 2 2 1-3 3 2 0-1 1 3 2 0 1 1-1-1-3 0-3 1-1 0 1 0 2 1 0 2 2-2-1-2 3 1 3 1 1-3 2-1-3-2 1-1-1-1-1-1 0-2-1 1 1 0-1 0-2 1-2-1-1 1 1 2-1-2 2-3 2 2 0-3 2 0-3 0 0-1 3-2-1-1-1-2 3 1 0 1 1 1 2 0-1 2-2 2 1 2 2-2 2 2 0-2 0 3-1-3 1 1 1 2 1 2 3-1-2 0-1 2 2 1 1 1 1 2 1 1 0 3 0-2 1-2 2-2-1 2 2 2-2-3-2 0-3 0-2 0 0-3 0-2-1-1-2-3-3-1 0-3 1 1 2 0-1-1-1 3-3 0 2-2-1-1 1-1 0 2-1-2-2-2 0-2 2 3 2 1 1-1 0-1 1 0-2-2 1-3 3-2 0 2-1 1 2-1 0 2 1 3 1 1 2-1 3 1 1-3 1 3 0-1-2 0 2 2 2 1 1 0 1 1 2 0 2 0-1-2 1-1 2 1-2-1 0 3 2 0 2-1-2-3-1 2 1 0-1-1-2 0 0 2 1 1 2 0 1-1-2 0 2-2-2 0 1 1-1-3-1 3 0-2-2 2-2 2 3 0-2 1 3-3-1-1-1 2 0 1 1-1 0 2 0 3 2 1 2-2 3-1 2 1-1 3 1 1 1-2 0 2 1 0 2-3-2 1 1 3 0-3 1 1-1-1 1 2 0 3 1 2-1-2 1-2-1 2-2-1 2 0 0-3-2 1-1 2 2 1-1 1 0-1-1-1-2 0 0 2 0 1 3 0-1 1 0 1 0 2-1 0-2 1-1 1-1 0-1-1 0-2-2 1 3 1 1-1 1-1 1-1-1 2 2 1-2-2 0 2 2-1 2 0-2 1-3-1-2-2-2 2 0-2 0 3 2-2 1 1-2 2-1-1-1-3-1-3-1 2-2-1 1-3 1 3-3 1 2-2 3 2-2-3-1 1-1 3 2 2 1 1-1 3 1-1 0 1 0-1-1 0-1-2-3 0-1 1 0 2-2 1-2 0-3 0 1 2 3 0-2 1-2-3 1 1 2 1-1-1 1 2-1-3 0 1 2 2-2 0 1-2 0-2-1 1-2-2 0-3 1 1 2 0 2 0-1-2 0 1 0 3 1-3-2 2-2 1 0-1-1 2 0 2-2-1-2 0-2 2 0-1-1-1 1 2-1-1 1-1-2-3-1 1 2 0-2 1 1 2-1 2-1-1-2 1-1 1-1-3 0-3 0 1 3 2-1 0 0 2-1-2 1 3 1 0-1 2-1 2 2 1 0 1 1-2-1 1-2-1 2 0-2 1 1-1-1 2-1-2-2-1 3-2-1 2-2-1 2 1-1 1-1 1 1-3-3 0 1-2 1 1-1 0 1-1 1 2-1 2-2-3-1 0-2 2 0 3 2 1-1-1 3 1-2 0-1 1 2-1-3-1 1 2 2-2-1 0-1 2-1-2-1 1 2-2-3-1 2 2 1-2 1 0 0 1-1 1 2 0 3-1 2 3-1-1 0-3-2 1 2-2-3-1-1-3-2 1-1-2-1-2 1 2 0-1 0 2 0-1 2 1-2 2-1 1-2-1 1-2 1 0 2-1-2 1 2-2 1 0-2 0 2 1-1-1 3 2 0-3 2-1 2 3-2 1 0 1-2-2-2-1-1 2-1 0-2 0-1-1-1-2-3 2-1-2 2 0-1-1-1 3 1 2 1 2 2 0 2 0 1-3 0-2-2-1-1 0-3-1-3 1 2 1 1 1 0 2 2 0-1 1-2 1 0 2-3-1 1 2-2-3 3 0-3 1 2 0-2 2 1-1-1-1-2 2-3 0 1-1-1 2 0-2-2 2-2-2 1 1 2-1-2 1-3-1 0 2-3 2-1 0-2 3 1 2 1 2-2-1 0 2-1 2-1-2-2 0 3 2-1-1-2 1 2-3-1 2 3 1-2 2 2 0-2 2 0 2 1-2 0 2 0 2-1-2 0-2 0-2 1-2-2-2 1-1 1-1 1 0-2-2 3 0-1-1-1-2 1-2-1-1-1-2 0-3 1-1 0-1 1-1 0-3-2-2-2 1 0-1-1 2-2 1 3-1-2 0 2 1-2-2 1 1 2 2-1 2-1 3-2-2 0 1 3-1 1 0 1-1 2-2 1 2 2 0 2 0 2-1 3-1 1 1 1 2 2 1 2 0-1 1 2 1-2 2 3 1-1-1-1-1 3 1-2 0 1-1 0-3 3 2 1 0 0 2-1 1 1-1 1 1 2-2 2-2 2 0 3 1-2 2 2 1 3 2 2 0 0 1 1 3 0 3 1 0-1 0-2 0 0 1 2 1-1 1 1-2 2 0 1 0 1 0 1 1 1 2-1 2-3 0 2 1 2 1 2 1 2-1 3 1 2 2 3 0-1 2-1 3 1 1 1 0 3 2-1-3 0 3 1-1 0 1-2-3 2 2 1-1-1-2 1 1 3 2 0 1 0 2 1-1 1-3-1-1 0 2 2 1-2-2 0-3 0 2-1-2 2 1 1 0 0 2 1-3 0 1-1 3-2-2 1 1 0-2 1 1 0-3 1 3 0-2 3-1 0 2-3 0 1 3-2-1 2-2 3-2 1-1-3-1-2 0-1-3-1-3-1 3 0 2 2 3 4-1 1-2-1 0-1-1 2-3-2 1-1 3 2-2-2 0 2-1 2-3 1-1 2 1-1 1 1 1-2 0-3 1-2 0 0 3 1-3-4 0-2-1 1 0-1 0-2 2-2 0 1 0 2-2-2-2 1-2 2 1 0-2-2 1 3 1-2 0 1-1-2 0 2 0 1 0 1-1-2 1-1 0-1 0 2 1 2 2 0-2 0 2 3-1 0-2-2-2-1 1 3-1 2-1-1-1 0-3-1-2 1 2-1-3-2 0-3 1-2 0-1-2-2 1 1-1-3 0 3 0 0 2-1 2-3 0 3-1 1 1 1 3-2 1 2-2 1-3 2 1-3-2 2-2-2-2-2-2 0-1 2 2 0 3 2-3 3 0 1 0 1 2 0 2-2-3 1 2 1-1-2 1 3 1-3-1 3 0-3 1 1 0 2 1 1 0 3-1 0 3 2 3-2 1 1 2 0 1-2 1-1 0-1-2 0-2-1-1 2 2 1 0 0-2 0-3-3-2 2-2 2-1-1-3 3-2-1-1 0-2 1-2-2 1-3 0 2 1 3 1 0 3 1 1 1-2-2 1-3 0-2-2 3 0 0 3 3 1 1 1 0 1-2-1-2 2 1-1 2-1-2 1-2 0 2 3 0 1 0 3 0 3-1 1-1 1 1 2-1 2 2 1 2 2 1-3-2 1-2-1 2 1-1 2 2-1 1-4-3 0-3-1-1-1-2 1-1-1-1-1-3-1-3-1 3-1 0 2-2 0 0 1 1 3-3 1 0 2-2 2 0 2 0 2 1 3 1-1 1-2 0-2 2-1 2 0 2 1 1 0-1 3 2 2-2 0-1 0 1 1-2 0 1 1-1 2 0 3-2 0-3 0 0 3 0 1 1 2 0 3-1 1-2 1 1 3 0 1 0 1" fill="none" stroke="#f00" stroke-width="3.2" stroke-linejoin="round"/>
<path d="M467.6 610.4A267 267 0 0 1 734.6 877.4M467.6 1144.4A267 267 0 0 0 734.6 877.4" fill="none" stroke="#505050" stroke-width="1.2" stroke-dasharray="10.6 9.9"/>
<path d="M467.6 1144.4v-10.7M467.6 610.4v10.7M481 1144.4v-5.3M481 610.4v5.3M494.3 1144.4v-5.3M494.3 610.4v5.3M507.7 1144.4v-5.3M507.7 610.4v5.3M521 1144.4v-10.7M521 610.4v10.7M534.4 1144.4v-5.3M534.4 610.4v5.3M547.7 1144.4v-5.3M547.7 610.4v5.3M561.1 1144.4v-5.3M561.1 610.4v5.3M574.4 1144.4v-10.7M574.4 610.4v10.7M587.8 1144.4v-5.3M587.8 610.4v5.3M601.1 1144.4v-5.3M601.1 610.4v5.3M614.5 1144.4v-5.3M614.5 610.4v5.3M627.8 1144.4v-10.7M627.8 610.4v10.7M641.1 1144.4v-5.3M641.1 610.4v5.3M654.5 1144.4v-5.3M654.5 610.4v5.3M667.9 1144.4v-5.3M667.9 610.4v5.3M681.2 1144.4v-10.7M681.2 610.4v10.7M694.5 1144.4v-5.3M694.5 610.4v5.3M707.9 1144.4v-5.3M707.9 610.4v5.3M721.2 1144.4v-5.3M721.2 610.4v5.3M734.6 1144.4v-10.7M734.6 610.4v10.7M467.6 1144.4h5.6M734.6 1144.4h-5.6M467.6 1117.7h3.3M734.6 1117.7h-3.3M467.6 1091h3.3M734.6 1091h-3.3M467.6 1064.3h3.3M734.6 1064.3h-3.3M467.6 1037.6h3.3M734.6 1037.6h-3.3M467.6 1010.9h5.6M734.6 1010.9h-5.6M467.6 984.2h3.3M734.6 984.2h-3.3M467.6 957.5h3.3M734.6 957.5h-3.3M467.6 930.8h3.3M734.6 930.8h-3.3M467.6 904.1h3.3M734.6 904.1h-3.3M467.6 877.4h5.6M734.6 877.4h-5.6M467.6 850.7h3.3M734.6 850.7h-3.3M467.6 824h3.3M734.6 824h-3.3M467.6 797.3h3.3M734.6 797.3h-3.3M467.6 770.6h3.3M734.6 770.6h-3.3M467.6 743.9h5.6M734.6 743.9h-5.6M467.6 717.2h3.3M734.6 717.2h-3.3M467.6 690.5h3.3M734.6 690.5h-3.3M467.6 663.8h3.3M734.6 663.8h-3.3M467.6 637.1h3.3M734.6 637.1h-3.3M467.6 610.4h5.6M734.6 610.4h-5.6" stroke="#000" stroke-width="1.0" fill="none"/>
<rect x="467.6" y="610.4" width="267" height="534" fill="none" stroke="#000" stroke-width="1.2"/>
<g font-family="Liberation Mono, monospace" font-size="21" fill="#000" stroke="#000" stroke-width="0.3"><text x="462.5" y="623.9" text-anchor="end">100</text><text x="462.5" y="751.1" text-anchor="end">50</text><text x="462.5" y="884.6" text-anchor="end">0</text><text x="462.5" y="1018.1" text-anchor="end">-50</text><text x="462.5" y="1144.8" text-anchor="end">-100</text><text x="468.6" y="1170.9" text-anchor="middle">0</text><text x="522" y="1170.9" text-anchor="middle">20</text><text x="575.4" y="1170.9" text-anchor="middle">40</text><text x="628.8" y="1170.9" text-anchor="middle">60</text><text x="682.2" y="1170.9" text-anchor="middle">80</text><text x="735.6" y="1170.9" text-anchor="middle">100</text></g>
<text transform="translate(599.5 1194.3) scale(1 0.84)" font-family="Liberation Mono, monospace" font-size="21" stroke="#000" stroke-width="0.6" text-anchor="middle">x (AU)</text>
<text transform="translate(393.4 878.7) rotate(-90) scale(1 0.84)" font-family="Liberation Mono, monospace" font-size="21" stroke="#000" stroke-width="0.6" text-anchor="middle">z (AU)</text>
<text transform="translate(628.6 636.1) scale(1 0.95)" font-family="Liberation Mono, monospace" font-size="21.5" stroke="#000" stroke-width="0.6">75 deg</text>
<text transform="translate(683.8 1116.2) scale(1 0.875)" font-family="Liberation Mono, monospace" font-size="19.5" stroke="#000" stroke-width="0.6">(d)</text>
</svg></body></html>
